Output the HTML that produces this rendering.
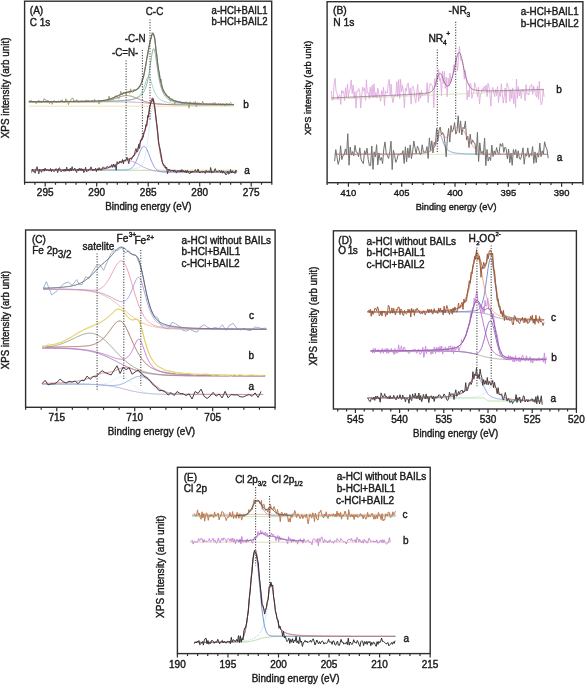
<!DOCTYPE html>
<html><head><meta charset="utf-8"><title>XPS spectra</title>
<style>html,body{margin:0;padding:0;background:#fff;}svg{display:block;}</style>
</head><body>
<svg width="586" height="685" viewBox="0 0 586 685" style="font-family:'Liberation Sans', Arial, sans-serif">
<style>text{fill:#1a1a1a;stroke:#1a1a1a;stroke-width:0.4px;}</style>
<rect x="24.60" y="1.20" width="247.10" height="181.20" fill="none" stroke="#2e2e2e" stroke-width="1.4"/>
<path d="M24.60 182.40V184.80M34.90 182.40V184.80M55.50 182.40V184.80M65.80 182.40V184.80M76.10 182.40V184.80M86.40 182.40V184.80M107.00 182.40V184.80M117.30 182.40V184.80M127.60 182.40V184.80M137.90 182.40V184.80M158.50 182.40V184.80M168.80 182.40V184.80M179.10 182.40V184.80M189.40 182.40V184.80M210.00 182.40V184.80M220.30 182.40V184.80M230.60 182.40V184.80M240.90 182.40V184.80M261.50 182.40V184.80M271.80 182.40V184.80M45.20 182.40V186.40M96.70 182.40V186.40M148.20 182.40V186.40M199.70 182.40V186.40M251.20 182.40V186.40" stroke="#2e2e2e" stroke-width="1.2"/>
<text x="45.2" y="195.6" font-size="10.00" text-anchor="middle">295</text>
<text x="96.7" y="195.6" font-size="10.00" text-anchor="middle">290</text>
<text x="148.2" y="195.6" font-size="10.00" text-anchor="middle">285</text>
<text x="199.7" y="195.6" font-size="10.00" text-anchor="middle">280</text>
<text x="251.2" y="195.6" font-size="10.00" text-anchor="middle">275</text>
<text transform="translate(8.5 87.9) rotate(-90)" x="-50.3" font-size="10.00" textLength="100.6" lengthAdjust="spacingAndGlyphs">XPS intensity (arb unit)</text>
<text x="148.4" y="210.0" font-size="10.10" text-anchor="middle" textLength="86.2" lengthAdjust="spacingAndGlyphs">Binding energy (eV)</text>
<text x="29.8" y="14.0" font-size="10.00">(A)</text>
<text x="29.8" y="25.6" font-size="10.00">C 1s</text>
<text x="267.6" y="13.6" font-size="10.30" text-anchor="end" textLength="56" lengthAdjust="spacingAndGlyphs">a-HCl+BAIL1</text>
<text x="267.6" y="25.0" font-size="10.30" text-anchor="end" textLength="56" lengthAdjust="spacingAndGlyphs">b-HCl+BAIL2</text>
<text x="154.5" y="15.4" font-size="11.80" text-anchor="middle" textLength="17.4" lengthAdjust="spacingAndGlyphs">C-C</text>
<text x="135.2" y="42.0" font-size="11.60" text-anchor="middle" textLength="20.8" lengthAdjust="spacingAndGlyphs">-C-N</text>
<text x="125.1" y="56.0" font-size="11.60" text-anchor="middle" textLength="26.4" lengthAdjust="spacingAndGlyphs">-C=N-</text>
<text x="246.0" y="108.2" font-size="10.00" text-anchor="middle">b</text>
<text x="247.0" y="173.8" font-size="10.00" text-anchor="middle">a</text>
<path d="M28.9 106.2 L29.4 106.2 L29.9 106.2 L30.4 106.2 L30.9 106.2 L31.4 106.2 L31.9 106.2 L32.4 106.2 L32.9 106.2 L33.4 106.2 L33.9 106.2 L34.4 106.2 L34.9 106.2 L35.4 106.2 L35.9 106.2 L36.4 106.2 L36.9 106.2 L37.4 106.2 L37.9 106.2 L38.4 106.2 L38.9 106.2 L39.4 106.2 L39.9 106.2 L40.4 106.2 L40.9 106.2 L41.4 106.2 L41.9 106.2 L42.4 106.2 L42.9 106.2 L43.4 106.2 L43.9 106.2 L44.4 106.2 L44.9 106.2 L45.4 106.2 L45.9 106.2 L46.4 106.2 L46.9 106.2 L47.4 106.2 L47.9 106.2 L48.4 106.2 L48.9 106.2 L49.4 106.2 L49.9 106.2 L50.4 106.2 L50.9 106.2 L51.4 106.2 L51.9 106.2 L52.4 106.2 L52.9 106.2 L53.4 106.2 L53.9 106.2 L54.4 106.2 L54.9 106.2 L55.4 106.2 L55.9 106.2 L56.4 106.2 L56.9 106.2 L57.4 106.2 L57.9 106.2 L58.4 106.2 L58.9 106.2 L59.4 106.2 L59.9 106.2 L60.4 106.2 L60.9 106.2 L61.4 106.2 L61.9 106.2 L62.4 106.2 L62.9 106.2 L63.4 106.2 L63.9 106.2 L64.4 106.2 L64.9 106.2 L65.4 106.2 L65.9 106.2 L66.4 106.2 L66.9 106.2 L67.4 106.2 L67.9 106.2 L68.4 106.2 L68.9 106.2 L69.4 106.2 L69.9 106.2 L70.4 106.2 L70.9 106.2 L71.4 106.2 L71.9 106.2 L72.4 106.2 L72.9 106.2 L73.4 106.2 L73.9 106.2 L74.4 106.2 L74.9 106.2 L75.4 106.2 L75.9 106.2 L76.4 106.2 L76.9 106.2 L77.4 106.2 L77.9 106.2 L78.4 106.2 L78.9 106.2 L79.4 106.2 L79.9 106.2 L80.4 106.2 L80.9 106.2 L81.4 106.2 L81.9 106.2 L82.4 106.2 L82.9 106.2 L83.4 106.2 L83.9 106.2 L84.4 106.2 L84.9 106.2 L85.4 106.2 L85.9 106.2 L86.4 106.2 L86.9 106.2 L87.4 106.2 L87.9 106.2 L88.4 106.2 L88.9 106.2 L89.4 106.2 L89.9 106.2 L90.4 106.2 L90.9 106.2 L91.4 106.2 L91.9 106.2 L92.4 106.2 L92.9 106.2 L93.4 106.2 L93.9 106.2 L94.4 106.2 L94.9 106.2 L95.4 106.2 L95.9 106.2 L96.4 106.2 L96.9 106.2 L97.4 106.2 L97.9 106.2 L98.4 106.2 L98.9 106.2 L99.4 106.2 L99.9 106.2 L100.4 106.2 L100.9 106.2 L101.4 106.2 L101.9 106.2 L102.4 106.2 L102.9 106.2 L103.4 106.2 L103.9 106.2 L104.4 106.2 L104.9 106.2 L105.4 106.2 L105.9 106.2 L106.4 106.2 L106.9 106.2 L107.4 106.2 L107.9 106.2 L108.4 106.2 L108.9 106.2 L109.4 106.2 L109.9 106.2 L110.4 106.2 L110.9 106.2 L111.4 106.2 L111.9 106.2 L112.4 106.2 L112.9 106.2 L113.4 106.2 L113.9 106.2 L114.4 106.2 L114.9 106.2 L115.4 106.2 L115.9 106.2 L116.4 106.2 L116.9 106.2 L117.4 106.2 L117.9 106.2 L118.4 106.2 L118.9 106.2 L119.4 106.2 L119.9 106.2 L120.4 106.2 L120.9 106.2 L121.4 106.2 L121.9 106.2 L122.4 106.2 L122.9 106.2 L123.4 106.2 L123.9 106.2 L124.4 106.2 L124.9 106.2 L125.4 106.2 L125.9 106.2 L126.4 106.2 L126.9 106.2 L127.4 106.2 L127.9 106.2 L128.4 106.2 L128.9 106.2 L129.4 106.2 L129.9 106.2 L130.4 106.2 L130.9 106.2 L131.4 106.2 L131.9 106.2 L132.4 106.2 L132.9 106.2 L133.4 106.2 L133.9 106.2 L134.4 106.2 L134.9 106.2 L135.4 106.2 L135.9 106.2 L136.4 106.2 L136.9 106.2 L137.4 106.2 L137.9 106.2 L138.4 106.2 L138.9 106.2 L139.4 106.2 L139.9 106.2 L140.4 106.2 L140.9 106.2 L141.4 106.2 L141.9 106.2 L142.4 106.2 L142.9 106.2 L143.4 106.2 L143.9 106.2 L144.4 106.2 L144.9 106.2 L145.4 106.2 L145.9 106.2 L146.4 106.2 L146.9 106.2 L147.4 106.2 L147.9 106.2 L148.4 106.2 L148.9 106.2 L149.4 106.2 L149.9 106.2 L150.4 106.2 L150.9 106.2 L151.4 106.2 L151.9 106.2 L152.4 106.2 L152.9 106.2 L153.4 106.2 L153.9 106.2 L154.4 106.2 L154.9 106.2 L155.4 106.2 L155.9 106.2 L156.4 106.2 L156.9 106.2 L157.4 106.2 L157.9 106.2 L158.4 106.2 L158.9 106.2 L159.4 106.2 L159.9 106.2 L160.4 106.2 L160.9 106.2 L161.4 106.2 L161.9 106.2 L162.4 106.2 L162.9 106.2 L163.4 106.2 L163.9 106.2 L164.4 106.2 L164.9 106.2 L165.4 106.2 L165.9 106.2 L166.4 106.2 L166.9 106.2 L167.4 106.2 L167.9 106.2 L168.4 106.2 L168.9 106.2 L169.4 106.2 L169.9 106.2 L170.4 106.2 L170.9 106.2 L171.4 106.2 L171.9 106.2 L172.4 106.2 L172.9 106.2 L173.4 106.2 L173.9 106.2 L174.4 106.2 L174.9 106.2 L175.4 106.2 L175.9 106.2 L176.4 106.2 L176.9 106.2 L177.4 106.2 L177.9 106.2 L178.4 106.2 L178.9 106.2 L179.4 106.2 L179.9 106.2 L180.4 106.2 L180.9 106.2 L181.4 106.2 L181.9 106.2 L182.4 106.2 L182.9 106.2 L183.4 106.2 L183.9 106.2 L184.4 106.2 L184.9 106.2 L185.4 106.2 L185.9 106.2 L186.4 106.2 L186.9 106.2 L187.4 106.2 L187.9 106.2 L188.4 106.2 L188.9 106.2 L189.4 106.2 L189.9 106.2 L190.4 106.2 L190.9 106.2 L191.4 106.2 L191.9 106.2 L192.4 106.2 L192.9 106.2 L193.4 106.2 L193.9 106.2 L194.4 106.2 L194.9 106.2 L195.4 106.2 L195.9 106.2 L196.4 106.2 L196.9 106.2 L197.4 106.2 L197.9 106.2 L198.4 106.2 L198.9 106.2 L199.4 106.2 L199.9 106.2 L200.4 106.2 L200.9 106.2 L201.4 106.2 L201.9 106.2 L202.4 106.2 L202.9 106.2 L203.4 106.2 L203.9 106.2 L204.4 106.2 L204.9 106.2 L205.4 106.2 L205.9 106.2 L206.4 106.2 L206.9 106.2 L207.4 106.2 L207.9 106.2 L208.4 106.2 L208.9 106.2 L209.4 106.2 L209.9 106.2 L210.4 106.2 L210.9 106.2 L211.4 106.2 L211.9 106.2 L212.4 106.2 L212.9 106.2 L213.4 106.2 L213.9 106.2 L214.4 106.2 L214.9 106.2 L215.4 106.2 L215.9 106.2 L216.4 106.2 L216.9 106.2 L217.4 106.2 L217.9 106.2 L218.4 106.2 L218.9 106.2 L219.4 106.2 L219.9 106.2 L220.4 106.2 L220.9 106.2 L221.4 106.2 L221.9 106.2 L222.4 106.2 L222.9 106.2 L223.4 106.2 L223.9 106.2 L224.4 106.2 L224.9 106.2 L225.4 106.2 L225.9 106.2 L226.4 106.2 L226.9 106.2 L227.4 106.2 L227.9 106.2 L228.4 106.2 L228.9 106.2 L229.4 106.2 L229.9 106.2 L230.4 106.2 L230.9 106.2 L231.4 106.2 L231.9 106.2 L232.4 106.2 L232.9 106.2 L233.4 106.2 L233.9 106.2" stroke="#efe0a0" stroke-width="1.00" fill="none" stroke-linejoin="round" />
<path d="M28.9 101.8 L29.4 101.8 L29.9 101.8 L30.4 101.8 L30.9 101.8 L31.4 101.8 L31.9 101.8 L32.4 101.8 L32.9 101.8 L33.4 101.8 L33.9 101.8 L34.4 101.8 L34.9 101.8 L35.4 101.8 L35.9 101.8 L36.4 101.8 L36.9 101.8 L37.4 101.8 L37.9 101.8 L38.4 101.8 L38.9 101.8 L39.4 101.8 L39.9 101.8 L40.4 101.8 L40.9 101.8 L41.4 101.8 L41.9 101.8 L42.4 101.8 L42.9 101.8 L43.4 101.8 L43.9 101.8 L44.4 101.8 L44.9 101.8 L45.4 101.8 L45.9 101.8 L46.4 101.8 L46.9 101.8 L47.4 101.8 L47.9 101.8 L48.4 101.8 L48.9 101.8 L49.4 101.8 L49.9 101.8 L50.4 101.8 L50.9 101.8 L51.4 101.8 L51.9 101.8 L52.4 101.8 L52.9 101.8 L53.4 101.8 L53.9 101.8 L54.4 101.8 L54.9 101.8 L55.4 101.8 L55.9 101.8 L56.4 101.8 L56.9 101.8 L57.4 101.8 L57.9 101.8 L58.4 101.8 L58.9 101.8 L59.4 101.8 L59.9 101.8 L60.4 101.8 L60.9 101.8 L61.4 101.8 L61.9 101.8 L62.4 101.8 L62.9 101.8 L63.4 101.8 L63.9 101.8 L64.4 101.8 L64.9 101.8 L65.4 101.8 L65.9 101.8 L66.4 101.8 L66.9 101.8 L67.4 101.8 L67.9 101.8 L68.4 101.8 L68.9 101.8 L69.4 101.8 L69.9 101.8 L70.4 101.8 L70.9 101.8 L71.4 101.8 L71.9 101.8 L72.4 101.8 L72.9 101.8 L73.4 101.8 L73.9 101.8 L74.4 101.8 L74.9 101.8 L75.4 101.8 L75.9 101.8 L76.4 101.8 L76.9 101.8 L77.4 101.8 L77.9 101.8 L78.4 101.8 L78.9 101.8 L79.4 101.8 L79.9 101.8 L80.4 101.8 L80.9 101.8 L81.4 101.8 L81.9 101.8 L82.4 101.8 L82.9 101.8 L83.4 101.8 L83.9 101.8 L84.4 101.8 L84.9 101.8 L85.4 101.8 L85.9 101.8 L86.4 101.8 L86.9 101.8 L87.4 101.8 L87.9 101.8 L88.4 101.8 L88.9 101.8 L89.4 101.8 L89.9 101.8 L90.4 101.8 L90.9 101.8 L91.4 101.8 L91.9 101.8 L92.4 101.8 L92.9 101.8 L93.4 101.8 L93.9 101.8 L94.4 101.8 L94.9 101.8 L95.4 101.8 L95.9 101.8 L96.4 101.8 L96.9 101.8 L97.4 101.8 L97.9 101.8 L98.4 101.8 L98.9 101.8 L99.4 101.8 L99.9 101.8 L100.4 101.8 L100.9 101.8 L101.4 101.8 L101.9 101.8 L102.4 101.8 L102.9 101.8 L103.4 101.8 L103.9 101.8 L104.4 101.8 L104.9 101.8 L105.4 101.8 L105.9 101.8 L106.4 101.8 L106.9 101.8 L107.4 101.8 L107.9 101.8 L108.4 101.8 L108.9 101.8 L109.4 101.8 L109.9 101.8 L110.4 101.8 L110.9 101.8 L111.4 101.8 L111.9 101.8 L112.4 101.8 L112.9 101.8 L113.4 101.8 L113.9 101.8 L114.4 101.8 L114.9 101.8 L115.4 101.8 L115.9 101.8 L116.4 101.8 L116.9 101.8 L117.4 101.9 L117.9 101.9 L118.4 101.9 L118.9 101.9 L119.4 101.9 L119.9 101.9 L120.4 101.9 L120.9 101.9 L121.4 101.9 L121.9 101.9 L122.4 101.9 L122.9 101.9 L123.4 101.9 L123.9 101.9 L124.4 101.9 L124.9 101.9 L125.4 101.9 L125.9 101.9 L126.4 101.9 L126.9 102.0 L127.4 102.0 L127.9 102.0 L128.4 102.0 L128.9 102.0 L129.4 102.0 L129.9 102.0 L130.4 102.0 L130.9 102.1 L131.4 102.1 L131.9 102.1 L132.4 102.1 L132.9 102.1 L133.4 102.1 L133.9 102.2 L134.4 102.2 L134.9 102.2 L135.4 102.2 L135.9 102.2 L136.4 102.3 L136.9 102.3 L137.4 102.3 L137.9 102.3 L138.4 102.4 L138.9 102.4 L139.4 102.4 L139.9 102.5 L140.4 102.5 L140.9 102.5 L141.4 102.6 L141.9 102.6 L142.4 102.6 L142.9 102.7 L143.4 102.7 L143.9 102.8 L144.4 102.8 L144.9 102.8 L145.4 102.9 L145.9 102.9 L146.4 103.0 L146.9 103.0 L147.4 103.1 L147.9 103.1 L148.4 103.2 L148.9 103.2 L149.4 103.2 L149.9 103.3 L150.4 103.3 L150.9 103.4 L151.4 103.4 L151.9 103.5 L152.4 103.5 L152.9 103.6 L153.4 103.6 L153.9 103.7 L154.4 103.7 L154.9 103.7 L155.4 103.8 L155.9 103.8 L156.4 103.9 L156.9 103.9 L157.4 103.9 L157.9 104.0 L158.4 104.0 L158.9 104.1 L159.4 104.1 L159.9 104.1 L160.4 104.2 L160.9 104.2 L161.4 104.2 L161.9 104.2 L162.4 104.3 L162.9 104.3 L163.4 104.3 L163.9 104.4 L164.4 104.4 L164.9 104.4 L165.4 104.4 L165.9 104.4 L166.4 104.5 L166.9 104.5 L167.4 104.5 L167.9 104.5 L168.4 104.5 L168.9 104.5 L169.4 104.6 L169.9 104.6 L170.4 104.6 L170.9 104.6 L171.4 104.6 L171.9 104.6 L172.4 104.6 L172.9 104.6 L173.4 104.6 L173.9 104.7 L174.4 104.7 L174.9 104.7 L175.4 104.7 L175.9 104.7 L176.4 104.7 L176.9 104.7 L177.4 104.7 L177.9 104.7 L178.4 104.7 L178.9 104.7 L179.4 104.7 L179.9 104.7 L180.4 104.7 L180.9 104.7 L181.4 104.7 L181.9 104.7 L182.4 104.7 L182.9 104.8 L183.4 104.8 L183.9 104.8 L184.4 104.8 L184.9 104.8 L185.4 104.8 L185.9 104.8 L186.4 104.8 L186.9 104.8 L187.4 104.8 L187.9 104.8 L188.4 104.8 L188.9 104.8 L189.4 104.8 L189.9 104.8 L190.4 104.8 L190.9 104.8 L191.4 104.8 L191.9 104.8 L192.4 104.8 L192.9 104.8 L193.4 104.8 L193.9 104.8 L194.4 104.8 L194.9 104.8 L195.4 104.8 L195.9 104.8 L196.4 104.8 L196.9 104.8 L197.4 104.8 L197.9 104.8 L198.4 104.8 L198.9 104.8 L199.4 104.8 L199.9 104.8 L200.4 104.8 L200.9 104.8 L201.4 104.8 L201.9 104.8 L202.4 104.8 L202.9 104.8 L203.4 104.8 L203.9 104.8 L204.4 104.8 L204.9 104.8 L205.4 104.8 L205.9 104.8 L206.4 104.8 L206.9 104.8 L207.4 104.8 L207.9 104.8 L208.4 104.8 L208.9 104.8 L209.4 104.8 L209.9 104.8 L210.4 104.8 L210.9 104.8 L211.4 104.8 L211.9 104.8 L212.4 104.8 L212.9 104.8 L213.4 104.8 L213.9 104.8 L214.4 104.8 L214.9 104.8 L215.4 104.8 L215.9 104.8 L216.4 104.8 L216.9 104.8 L217.4 104.8 L217.9 104.8 L218.4 104.8 L218.9 104.8 L219.4 104.8 L219.9 104.8 L220.4 104.8 L220.9 104.8 L221.4 104.8 L221.9 104.8 L222.4 104.8 L222.9 104.8 L223.4 104.8 L223.9 104.8 L224.4 104.8 L224.9 104.8 L225.4 104.8 L225.9 104.8 L226.4 104.8 L226.9 104.8 L227.4 104.8 L227.9 104.8 L228.4 104.8 L228.9 104.8 L229.4 104.8 L229.9 104.8 L230.4 104.8 L230.9 104.8 L231.4 104.8 L231.9 104.8 L232.4 104.8 L232.9 104.8 L233.4 104.8 L233.9 104.8" stroke="#bfa3d6" stroke-width="1.00" fill="none" stroke-linejoin="round" />
<path d="M28.9 101.8 L29.4 101.8 L29.9 101.8 L30.4 101.8 L30.9 101.8 L31.4 101.8 L31.9 101.8 L32.4 101.8 L32.9 101.8 L33.4 101.8 L33.9 101.8 L34.4 101.8 L34.9 101.8 L35.4 101.8 L35.9 101.8 L36.4 101.8 L36.9 101.8 L37.4 101.8 L37.9 101.8 L38.4 101.8 L38.9 101.8 L39.4 101.8 L39.9 101.8 L40.4 101.8 L40.9 101.8 L41.4 101.8 L41.9 101.8 L42.4 101.8 L42.9 101.8 L43.4 101.8 L43.9 101.8 L44.4 101.8 L44.9 101.8 L45.4 101.8 L45.9 101.8 L46.4 101.8 L46.9 101.8 L47.4 101.8 L47.9 101.8 L48.4 101.8 L48.9 101.8 L49.4 101.8 L49.9 101.8 L50.4 101.8 L50.9 101.8 L51.4 101.8 L51.9 101.8 L52.4 101.8 L52.9 101.8 L53.4 101.8 L53.9 101.8 L54.4 101.8 L54.9 101.8 L55.4 101.8 L55.9 101.8 L56.4 101.8 L56.9 101.8 L57.4 101.8 L57.9 101.8 L58.4 101.8 L58.9 101.8 L59.4 101.8 L59.9 101.8 L60.4 101.8 L60.9 101.8 L61.4 101.8 L61.9 101.8 L62.4 101.8 L62.9 101.8 L63.4 101.8 L63.9 101.8 L64.4 101.8 L64.9 101.8 L65.4 101.8 L65.9 101.8 L66.4 101.8 L66.9 101.8 L67.4 101.8 L67.9 101.8 L68.4 101.8 L68.9 101.8 L69.4 101.8 L69.9 101.8 L70.4 101.8 L70.9 101.8 L71.4 101.8 L71.9 101.8 L72.4 101.8 L72.9 101.8 L73.4 101.8 L73.9 101.8 L74.4 101.8 L74.9 101.8 L75.4 101.8 L75.9 101.8 L76.4 101.8 L76.9 101.8 L77.4 101.8 L77.9 101.8 L78.4 101.8 L78.9 101.8 L79.4 101.8 L79.9 101.8 L80.4 101.8 L80.9 101.8 L81.4 101.8 L81.9 101.8 L82.4 101.8 L82.9 101.8 L83.4 101.8 L83.9 101.8 L84.4 101.8 L84.9 101.8 L85.4 101.8 L85.9 101.8 L86.4 101.8 L86.9 101.8 L87.4 101.8 L87.9 101.8 L88.4 101.8 L88.9 101.8 L89.4 101.8 L89.9 101.8 L90.4 101.8 L90.9 101.8 L91.4 101.8 L91.9 101.8 L92.4 101.8 L92.9 101.8 L93.4 101.8 L93.9 101.8 L94.4 101.8 L94.9 101.8 L95.4 101.7 L95.9 101.7 L96.4 101.7 L96.9 101.7 L97.4 101.7 L97.9 101.7 L98.4 101.7 L98.9 101.6 L99.4 101.6 L99.9 101.6 L100.4 101.6 L100.9 101.5 L101.4 101.5 L101.9 101.5 L102.4 101.4 L102.9 101.4 L103.4 101.3 L103.9 101.3 L104.4 101.2 L104.9 101.2 L105.4 101.1 L105.9 101.0 L106.4 100.9 L106.9 100.8 L107.4 100.7 L107.9 100.6 L108.4 100.5 L108.9 100.4 L109.4 100.3 L109.9 100.2 L110.4 100.1 L110.9 99.9 L111.4 99.8 L111.9 99.6 L112.4 99.5 L112.9 99.3 L113.4 99.1 L113.9 99.0 L114.4 98.8 L114.9 98.6 L115.4 98.4 L115.9 98.3 L116.4 98.1 L116.9 97.9 L117.4 97.7 L117.9 97.5 L118.4 97.3 L118.9 97.2 L119.4 97.0 L119.9 96.8 L120.4 96.7 L120.9 96.5 L121.4 96.4 L121.9 96.3 L122.4 96.1 L122.9 96.0 L123.4 95.9 L123.9 95.8 L124.4 95.8 L124.9 95.7 L125.4 95.7 L125.9 95.6 L126.4 95.6 L126.9 95.6 L127.4 95.6 L127.9 95.7 L128.4 95.7 L128.9 95.8 L129.4 95.8 L129.9 95.9 L130.4 96.0 L130.9 96.2 L131.4 96.3 L131.9 96.4 L132.4 96.6 L132.9 96.7 L133.4 96.9 L133.9 97.1 L134.4 97.3 L134.9 97.5 L135.4 97.7 L135.9 97.9 L136.4 98.1 L136.9 98.3 L137.4 98.5 L137.9 98.7 L138.4 98.9 L138.9 99.1 L139.4 99.3 L139.9 99.6 L140.4 99.8 L140.9 100.0 L141.4 100.2 L141.9 100.4 L142.4 100.5 L142.9 100.7 L143.4 100.9 L143.9 101.1 L144.4 101.3 L144.9 101.4 L145.4 101.6 L145.9 101.7 L146.4 101.9 L146.9 102.0 L147.4 102.2 L147.9 102.3 L148.4 102.4 L148.9 102.5 L149.4 102.6 L149.9 102.7 L150.4 102.8 L150.9 102.9 L151.4 103.0 L151.9 103.1 L152.4 103.2 L152.9 103.3 L153.4 103.4 L153.9 103.4 L154.4 103.5 L154.9 103.6 L155.4 103.6 L155.9 103.7 L156.4 103.8 L156.9 103.8 L157.4 103.9 L157.9 103.9 L158.4 104.0 L158.9 104.0 L159.4 104.0 L159.9 104.1 L160.4 104.1 L160.9 104.2 L161.4 104.2 L161.9 104.2 L162.4 104.3 L162.9 104.3 L163.4 104.3 L163.9 104.3 L164.4 104.4 L164.9 104.4 L165.4 104.4 L165.9 104.4 L166.4 104.5 L166.9 104.5 L167.4 104.5 L167.9 104.5 L168.4 104.5 L168.9 104.5 L169.4 104.6 L169.9 104.6 L170.4 104.6 L170.9 104.6 L171.4 104.6 L171.9 104.6 L172.4 104.6 L172.9 104.6 L173.4 104.6 L173.9 104.7 L174.4 104.7 L174.9 104.7 L175.4 104.7 L175.9 104.7 L176.4 104.7 L176.9 104.7 L177.4 104.7 L177.9 104.7 L178.4 104.7 L178.9 104.7 L179.4 104.7 L179.9 104.7 L180.4 104.7 L180.9 104.7 L181.4 104.7 L181.9 104.7 L182.4 104.7 L182.9 104.8 L183.4 104.8 L183.9 104.8 L184.4 104.8 L184.9 104.8 L185.4 104.8 L185.9 104.8 L186.4 104.8 L186.9 104.8 L187.4 104.8 L187.9 104.8 L188.4 104.8 L188.9 104.8 L189.4 104.8 L189.9 104.8 L190.4 104.8 L190.9 104.8 L191.4 104.8 L191.9 104.8 L192.4 104.8 L192.9 104.8 L193.4 104.8 L193.9 104.8 L194.4 104.8 L194.9 104.8 L195.4 104.8 L195.9 104.8 L196.4 104.8 L196.9 104.8 L197.4 104.8 L197.9 104.8 L198.4 104.8 L198.9 104.8 L199.4 104.8 L199.9 104.8 L200.4 104.8 L200.9 104.8 L201.4 104.8 L201.9 104.8 L202.4 104.8 L202.9 104.8 L203.4 104.8 L203.9 104.8 L204.4 104.8 L204.9 104.8 L205.4 104.8 L205.9 104.8 L206.4 104.8 L206.9 104.8 L207.4 104.8 L207.9 104.8 L208.4 104.8 L208.9 104.8 L209.4 104.8 L209.9 104.8 L210.4 104.8 L210.9 104.8 L211.4 104.8 L211.9 104.8 L212.4 104.8 L212.9 104.8 L213.4 104.8 L213.9 104.8 L214.4 104.8 L214.9 104.8 L215.4 104.8 L215.9 104.8 L216.4 104.8 L216.9 104.8 L217.4 104.8 L217.9 104.8 L218.4 104.8 L218.9 104.8 L219.4 104.8 L219.9 104.8 L220.4 104.8 L220.9 104.8 L221.4 104.8 L221.9 104.8 L222.4 104.8 L222.9 104.8 L223.4 104.8 L223.9 104.8 L224.4 104.8 L224.9 104.8 L225.4 104.8 L225.9 104.8 L226.4 104.8 L226.9 104.8 L227.4 104.8 L227.9 104.8 L228.4 104.8 L228.9 104.8 L229.4 104.8 L229.9 104.8 L230.4 104.8 L230.9 104.8 L231.4 104.8 L231.9 104.8 L232.4 104.8 L232.9 104.8 L233.4 104.8 L233.9 104.8" stroke="#a87466" stroke-width="0.90" fill="none" stroke-linejoin="round" />
<path d="M28.9 101.7 L29.4 101.7 L29.9 101.7 L30.4 101.7 L30.9 101.7 L31.4 101.7 L31.9 101.7 L32.4 101.7 L32.9 101.7 L33.4 101.7 L33.9 101.7 L34.4 101.7 L34.9 101.7 L35.4 101.7 L35.9 101.7 L36.4 101.7 L36.9 101.7 L37.4 101.7 L37.9 101.7 L38.4 101.7 L38.9 101.7 L39.4 101.7 L39.9 101.7 L40.4 101.7 L40.9 101.7 L41.4 101.7 L41.9 101.7 L42.4 101.7 L42.9 101.7 L43.4 101.7 L43.9 101.7 L44.4 101.7 L44.9 101.7 L45.4 101.7 L45.9 101.7 L46.4 101.7 L46.9 101.7 L47.4 101.7 L47.9 101.7 L48.4 101.7 L48.9 101.7 L49.4 101.7 L49.9 101.7 L50.4 101.7 L50.9 101.7 L51.4 101.7 L51.9 101.7 L52.4 101.7 L52.9 101.7 L53.4 101.7 L53.9 101.7 L54.4 101.7 L54.9 101.7 L55.4 101.7 L55.9 101.7 L56.4 101.7 L56.9 101.7 L57.4 101.7 L57.9 101.7 L58.4 101.7 L58.9 101.7 L59.4 101.7 L59.9 101.7 L60.4 101.7 L60.9 101.7 L61.4 101.7 L61.9 101.7 L62.4 101.7 L62.9 101.7 L63.4 101.7 L63.9 101.7 L64.4 101.7 L64.9 101.7 L65.4 101.7 L65.9 101.7 L66.4 101.7 L66.9 101.7 L67.4 101.7 L67.9 101.7 L68.4 101.7 L68.9 101.7 L69.4 101.7 L69.9 101.7 L70.4 101.7 L70.9 101.7 L71.4 101.7 L71.9 101.7 L72.4 101.7 L72.9 101.7 L73.4 101.7 L73.9 101.7 L74.4 101.7 L74.9 101.7 L75.4 101.7 L75.9 101.7 L76.4 101.7 L76.9 101.6 L77.4 101.6 L77.9 101.6 L78.4 101.6 L78.9 101.6 L79.4 101.6 L79.9 101.6 L80.4 101.6 L80.9 101.6 L81.4 101.6 L81.9 101.6 L82.4 101.6 L82.9 101.6 L83.4 101.6 L83.9 101.6 L84.4 101.6 L84.9 101.6 L85.4 101.6 L85.9 101.6 L86.4 101.6 L86.9 101.6 L87.4 101.6 L87.9 101.6 L88.4 101.6 L88.9 101.6 L89.4 101.6 L89.9 101.6 L90.4 101.6 L90.9 101.6 L91.4 101.6 L91.9 101.6 L92.4 101.6 L92.9 101.6 L93.4 101.5 L93.9 101.5 L94.4 101.5 L94.9 101.5 L95.4 101.5 L95.9 101.5 L96.4 101.5 L96.9 101.5 L97.4 101.5 L97.9 101.5 L98.4 101.5 L98.9 101.5 L99.4 101.5 L99.9 101.5 L100.4 101.5 L100.9 101.5 L101.4 101.5 L101.9 101.5 L102.4 101.4 L102.9 101.4 L103.4 101.4 L103.9 101.4 L104.4 101.4 L104.9 101.4 L105.4 101.4 L105.9 101.4 L106.4 101.4 L106.9 101.4 L107.4 101.4 L107.9 101.4 L108.4 101.3 L108.9 101.3 L109.4 101.3 L109.9 101.3 L110.4 101.3 L110.9 101.3 L111.4 101.3 L111.9 101.3 L112.4 101.2 L112.9 101.2 L113.4 101.2 L113.9 101.2 L114.4 101.2 L114.9 101.2 L115.4 101.1 L115.9 101.1 L116.4 101.1 L116.9 101.1 L117.4 101.1 L117.9 101.0 L118.4 101.0 L118.9 101.0 L119.4 101.0 L119.9 101.0 L120.4 100.9 L120.9 100.9 L121.4 100.9 L121.9 100.8 L122.4 100.8 L122.9 100.8 L123.4 100.7 L123.9 100.7 L124.4 100.6 L124.9 100.6 L125.4 100.6 L125.9 100.5 L126.4 100.4 L126.9 100.4 L127.4 100.3 L127.9 100.3 L128.4 100.2 L128.9 100.1 L129.4 100.0 L129.9 100.0 L130.4 99.9 L130.9 99.8 L131.4 99.7 L131.9 99.5 L132.4 99.4 L132.9 99.3 L133.4 99.1 L133.9 99.0 L134.4 98.8 L134.9 98.6 L135.4 98.4 L135.9 98.1 L136.4 97.9 L136.9 97.6 L137.4 97.2 L137.9 96.9 L138.4 96.5 L138.9 96.0 L139.4 95.5 L139.9 95.0 L140.4 94.4 L140.9 93.7 L141.4 92.9 L141.9 92.0 L142.4 91.0 L142.9 90.0 L143.4 88.8 L143.9 87.5 L144.4 86.1 L144.9 84.6 L145.4 83.0 L145.9 81.5 L146.4 80.0 L146.9 78.7 L147.4 77.6 L147.9 76.9 L148.4 76.6 L148.9 76.7 L149.4 77.3 L149.9 78.2 L150.4 79.5 L150.9 81.0 L151.4 82.6 L151.9 84.2 L152.4 85.8 L152.9 87.4 L153.4 88.8 L153.9 90.2 L154.4 91.4 L154.9 92.5 L155.4 93.5 L155.9 94.5 L156.4 95.3 L156.9 96.0 L157.4 96.7 L157.9 97.3 L158.4 97.8 L158.9 98.3 L159.4 98.8 L159.9 99.2 L160.4 99.6 L160.9 99.9 L161.4 100.2 L161.9 100.5 L162.4 100.7 L162.9 101.0 L163.4 101.2 L163.9 101.4 L164.4 101.6 L164.9 101.8 L165.4 101.9 L165.9 102.1 L166.4 102.2 L166.9 102.3 L167.4 102.5 L167.9 102.6 L168.4 102.7 L168.9 102.8 L169.4 102.9 L169.9 103.0 L170.4 103.0 L170.9 103.1 L171.4 103.2 L171.9 103.3 L172.4 103.3 L172.9 103.4 L173.4 103.4 L173.9 103.5 L174.4 103.5 L174.9 103.6 L175.4 103.6 L175.9 103.7 L176.4 103.7 L176.9 103.8 L177.4 103.8 L177.9 103.8 L178.4 103.9 L178.9 103.9 L179.4 103.9 L179.9 104.0 L180.4 104.0 L180.9 104.0 L181.4 104.0 L181.9 104.1 L182.4 104.1 L182.9 104.1 L183.4 104.1 L183.9 104.1 L184.4 104.2 L184.9 104.2 L185.4 104.2 L185.9 104.2 L186.4 104.2 L186.9 104.3 L187.4 104.3 L187.9 104.3 L188.4 104.3 L188.9 104.3 L189.4 104.3 L189.9 104.3 L190.4 104.3 L190.9 104.4 L191.4 104.4 L191.9 104.4 L192.4 104.4 L192.9 104.4 L193.4 104.4 L193.9 104.4 L194.4 104.4 L194.9 104.4 L195.4 104.4 L195.9 104.4 L196.4 104.5 L196.9 104.5 L197.4 104.5 L197.9 104.5 L198.4 104.5 L198.9 104.5 L199.4 104.5 L199.9 104.5 L200.4 104.5 L200.9 104.5 L201.4 104.5 L201.9 104.5 L202.4 104.5 L202.9 104.5 L203.4 104.5 L203.9 104.5 L204.4 104.5 L204.9 104.6 L205.4 104.6 L205.9 104.6 L206.4 104.6 L206.9 104.6 L207.4 104.6 L207.9 104.6 L208.4 104.6 L208.9 104.6 L209.4 104.6 L209.9 104.6 L210.4 104.6 L210.9 104.6 L211.4 104.6 L211.9 104.6 L212.4 104.6 L212.9 104.6 L213.4 104.6 L213.9 104.6 L214.4 104.6 L214.9 104.6 L215.4 104.6 L215.9 104.6 L216.4 104.6 L216.9 104.6 L217.4 104.6 L217.9 104.6 L218.4 104.6 L218.9 104.6 L219.4 104.6 L219.9 104.6 L220.4 104.6 L220.9 104.7 L221.4 104.7 L221.9 104.7 L222.4 104.7 L222.9 104.7 L223.4 104.7 L223.9 104.7 L224.4 104.7 L224.9 104.7 L225.4 104.7 L225.9 104.7 L226.4 104.7 L226.9 104.7 L227.4 104.7 L227.9 104.7 L228.4 104.7 L228.9 104.7 L229.4 104.7 L229.9 104.7 L230.4 104.7 L230.9 104.7 L231.4 104.7 L231.9 104.7 L232.4 104.7 L232.9 104.7 L233.4 104.7 L233.9 104.7" stroke="#92d2c2" stroke-width="0.90" fill="none" stroke-linejoin="round" />
<path d="M28.9 101.7 L29.4 101.7 L29.9 101.7 L30.4 101.7 L30.9 101.7 L31.4 101.7 L31.9 101.7 L32.4 101.7 L32.9 101.7 L33.4 101.7 L33.9 101.7 L34.4 101.7 L34.9 101.7 L35.4 101.7 L35.9 101.7 L36.4 101.7 L36.9 101.7 L37.4 101.7 L37.9 101.7 L38.4 101.7 L38.9 101.7 L39.4 101.7 L39.9 101.7 L40.4 101.7 L40.9 101.7 L41.4 101.7 L41.9 101.7 L42.4 101.7 L42.9 101.7 L43.4 101.7 L43.9 101.7 L44.4 101.7 L44.9 101.7 L45.4 101.7 L45.9 101.7 L46.4 101.7 L46.9 101.7 L47.4 101.7 L47.9 101.7 L48.4 101.7 L48.9 101.7 L49.4 101.7 L49.9 101.7 L50.4 101.7 L50.9 101.7 L51.4 101.7 L51.9 101.7 L52.4 101.7 L52.9 101.7 L53.4 101.7 L53.9 101.7 L54.4 101.7 L54.9 101.7 L55.4 101.7 L55.9 101.7 L56.4 101.7 L56.9 101.7 L57.4 101.7 L57.9 101.7 L58.4 101.7 L58.9 101.7 L59.4 101.7 L59.9 101.7 L60.4 101.7 L60.9 101.6 L61.4 101.6 L61.9 101.6 L62.4 101.6 L62.9 101.6 L63.4 101.6 L63.9 101.6 L64.4 101.6 L64.9 101.6 L65.4 101.6 L65.9 101.6 L66.4 101.6 L66.9 101.6 L67.4 101.6 L67.9 101.6 L68.4 101.6 L68.9 101.6 L69.4 101.6 L69.9 101.6 L70.4 101.6 L70.9 101.6 L71.4 101.6 L71.9 101.6 L72.4 101.6 L72.9 101.6 L73.4 101.6 L73.9 101.6 L74.4 101.6 L74.9 101.6 L75.4 101.6 L75.9 101.6 L76.4 101.6 L76.9 101.6 L77.4 101.6 L77.9 101.6 L78.4 101.6 L78.9 101.6 L79.4 101.6 L79.9 101.6 L80.4 101.6 L80.9 101.6 L81.4 101.6 L81.9 101.5 L82.4 101.5 L82.9 101.5 L83.4 101.5 L83.9 101.5 L84.4 101.5 L84.9 101.5 L85.4 101.5 L85.9 101.5 L86.4 101.5 L86.9 101.5 L87.4 101.5 L87.9 101.5 L88.4 101.5 L88.9 101.5 L89.4 101.5 L89.9 101.5 L90.4 101.5 L90.9 101.5 L91.4 101.5 L91.9 101.5 L92.4 101.5 L92.9 101.5 L93.4 101.4 L93.9 101.4 L94.4 101.4 L94.9 101.4 L95.4 101.4 L95.9 101.4 L96.4 101.4 L96.9 101.4 L97.4 101.4 L97.9 101.4 L98.4 101.4 L98.9 101.4 L99.4 101.4 L99.9 101.4 L100.4 101.3 L100.9 101.3 L101.4 101.3 L101.9 101.3 L102.4 101.3 L102.9 101.3 L103.4 101.3 L103.9 101.3 L104.4 101.3 L104.9 101.3 L105.4 101.3 L105.9 101.2 L106.4 101.2 L106.9 101.2 L107.4 101.2 L107.9 101.2 L108.4 101.2 L108.9 101.2 L109.4 101.2 L109.9 101.1 L110.4 101.1 L110.9 101.1 L111.4 101.1 L111.9 101.1 L112.4 101.1 L112.9 101.1 L113.4 101.0 L113.9 101.0 L114.4 101.0 L114.9 101.0 L115.4 101.0 L115.9 100.9 L116.4 100.9 L116.9 100.9 L117.4 100.9 L117.9 100.9 L118.4 100.8 L118.9 100.8 L119.4 100.8 L119.9 100.7 L120.4 100.7 L120.9 100.7 L121.4 100.7 L121.9 100.6 L122.4 100.6 L122.9 100.6 L123.4 100.5 L123.9 100.5 L124.4 100.4 L124.9 100.4 L125.4 100.3 L125.9 100.3 L126.4 100.2 L126.9 100.2 L127.4 100.1 L127.9 100.1 L128.4 100.0 L128.9 100.0 L129.4 99.9 L129.9 99.8 L130.4 99.7 L130.9 99.6 L131.4 99.6 L131.9 99.5 L132.4 99.4 L132.9 99.3 L133.4 99.1 L133.9 99.0 L134.4 98.9 L134.9 98.7 L135.4 98.6 L135.9 98.4 L136.4 98.2 L136.9 98.0 L137.4 97.8 L137.9 97.6 L138.4 97.3 L138.9 97.0 L139.4 96.7 L139.9 96.4 L140.4 96.0 L140.9 95.5 L141.4 95.1 L141.9 94.5 L142.4 94.0 L142.9 93.3 L143.4 92.5 L143.9 91.7 L144.4 90.7 L144.9 89.7 L145.4 88.4 L145.9 87.1 L146.4 85.5 L146.9 83.7 L147.4 81.8 L147.9 79.5 L148.4 77.0 L148.9 74.3 L149.4 71.3 L149.9 68.0 L150.4 64.6 L150.9 61.1 L151.4 57.7 L151.9 54.5 L152.4 51.8 L152.9 49.8 L153.4 48.8 L153.9 48.8 L154.4 49.9 L154.9 51.9 L155.4 54.6 L155.9 57.9 L156.4 61.4 L156.9 65.0 L157.4 68.5 L157.9 71.9 L158.4 75.0 L158.9 77.8 L159.4 80.4 L159.9 82.7 L160.4 84.8 L160.9 86.6 L161.4 88.3 L161.9 89.7 L162.4 91.0 L162.9 92.2 L163.4 93.2 L163.9 94.1 L164.4 94.9 L164.9 95.7 L165.4 96.3 L165.9 96.9 L166.4 97.5 L166.9 97.9 L167.4 98.4 L167.9 98.8 L168.4 99.1 L168.9 99.5 L169.4 99.8 L169.9 100.0 L170.4 100.3 L170.9 100.5 L171.4 100.8 L171.9 101.0 L172.4 101.2 L172.9 101.3 L173.4 101.5 L173.9 101.7 L174.4 101.8 L174.9 101.9 L175.4 102.1 L175.9 102.2 L176.4 102.3 L176.9 102.4 L177.4 102.5 L177.9 102.6 L178.4 102.7 L178.9 102.7 L179.4 102.8 L179.9 102.9 L180.4 103.0 L180.9 103.0 L181.4 103.1 L181.9 103.2 L182.4 103.2 L182.9 103.3 L183.4 103.3 L183.9 103.4 L184.4 103.4 L184.9 103.5 L185.4 103.5 L185.9 103.5 L186.4 103.6 L186.9 103.6 L187.4 103.6 L187.9 103.7 L188.4 103.7 L188.9 103.7 L189.4 103.8 L189.9 103.8 L190.4 103.8 L190.9 103.9 L191.4 103.9 L191.9 103.9 L192.4 103.9 L192.9 104.0 L193.4 104.0 L193.9 104.0 L194.4 104.0 L194.9 104.0 L195.4 104.1 L195.9 104.1 L196.4 104.1 L196.9 104.1 L197.4 104.1 L197.9 104.1 L198.4 104.1 L198.9 104.2 L199.4 104.2 L199.9 104.2 L200.4 104.2 L200.9 104.2 L201.4 104.2 L201.9 104.2 L202.4 104.3 L202.9 104.3 L203.4 104.3 L203.9 104.3 L204.4 104.3 L204.9 104.3 L205.4 104.3 L205.9 104.3 L206.4 104.3 L206.9 104.3 L207.4 104.3 L207.9 104.4 L208.4 104.4 L208.9 104.4 L209.4 104.4 L209.9 104.4 L210.4 104.4 L210.9 104.4 L211.4 104.4 L211.9 104.4 L212.4 104.4 L212.9 104.4 L213.4 104.4 L213.9 104.4 L214.4 104.4 L214.9 104.5 L215.4 104.5 L215.9 104.5 L216.4 104.5 L216.9 104.5 L217.4 104.5 L217.9 104.5 L218.4 104.5 L218.9 104.5 L219.4 104.5 L219.9 104.5 L220.4 104.5 L220.9 104.5 L221.4 104.5 L221.9 104.5 L222.4 104.5 L222.9 104.5 L223.4 104.5 L223.9 104.5 L224.4 104.5 L224.9 104.5 L225.4 104.5 L225.9 104.6 L226.4 104.6 L226.9 104.6 L227.4 104.6 L227.9 104.6 L228.4 104.6 L228.9 104.6 L229.4 104.6 L229.9 104.6 L230.4 104.6 L230.9 104.6 L231.4 104.6 L231.9 104.6 L232.4 104.6 L232.9 104.6 L233.4 104.6 L233.9 104.6" stroke="#86a89a" stroke-width="0.90" fill="none" stroke-linejoin="round" />
<path d="M28.9 102.2 L29.8 100.4 L30.7 101.1 L31.6 100.5 L32.5 102.4 L33.4 101.3 L34.3 102.1 L35.2 101.2 L36.1 103.7 L37.0 102.1 L37.9 101.9 L38.8 100.2 L39.7 102.4 L40.6 100.9 L41.5 102.8 L42.4 101.5 L43.3 101.4 L44.2 98.6 L45.1 100.0 L46.0 99.8 L46.9 102.2 L47.8 100.1 L48.7 102.2 L49.6 103.8 L50.5 101.9 L51.4 101.3 L52.3 104.3 L53.2 101.3 L54.1 100.8 L55.0 100.9 L55.9 102.0 L56.8 102.4 L57.7 101.6 L58.6 101.1 L59.5 101.8 L60.4 100.7 L61.3 100.9 L62.2 99.8 L63.1 102.6 L64.0 101.6 L64.9 102.9 L65.8 98.8 L66.7 101.6 L67.6 100.6 L68.5 104.7 L69.4 100.9 L70.3 101.8 L71.2 99.0 L72.1 98.4 L73.0 98.2 L73.9 102.2 L74.8 100.6 L75.7 101.4 L76.6 99.6 L77.5 100.8 L78.4 102.3 L79.3 101.9 L80.2 101.1 L81.1 101.9 L82.0 100.5 L82.9 101.8 L83.8 101.5 L84.7 102.0 L85.6 99.9 L86.5 101.5 L87.4 100.4 L88.3 100.3 L89.2 101.1 L90.1 102.0 L91.0 101.1 L91.9 100.9 L92.8 100.4 L93.7 101.8 L94.6 99.3 L95.5 101.4 L96.4 101.6 L97.3 101.2 L98.2 100.5 L99.1 104.1 L100.0 100.7 L100.9 101.0 L101.8 102.1 L102.7 100.5 L103.6 100.7 L104.5 101.3 L105.4 100.4 L106.3 101.4 L107.2 100.4 L108.1 100.4 L109.0 96.2 L109.9 99.1 L110.8 100.2 L111.7 98.4 L112.6 99.8 L113.5 99.2 L114.4 97.2 L115.3 96.2 L116.2 95.5 L117.1 96.5 L118.0 98.7 L118.9 98.7 L119.8 96.3 L120.7 91.3 L121.6 93.5 L122.5 94.8 L123.4 92.1 L124.3 93.1 L125.2 93.3 L126.1 94.0 L127.0 93.0 L127.9 92.1 L128.8 92.4 L129.7 93.6 L130.6 88.8 L131.5 91.7 L132.4 92.5 L133.3 91.6 L134.2 89.1 L135.1 90.9 L136.0 89.6 L136.9 90.0 L137.8 88.5 L138.7 88.6 L139.6 85.7 L140.5 86.1 L141.4 83.0 L142.3 78.3 L143.2 78.8 L144.1 74.5 L145.0 68.1 L145.9 65.0 L146.8 57.6 L147.7 55.6 L148.6 47.6 L149.5 45.2 L150.4 38.9 L151.3 38.9 L152.2 32.5 L153.1 33.5 L154.0 35.4 L154.9 38.0 L155.8 50.3 L156.7 53.1 L157.6 63.5 L158.5 70.6 L159.4 71.8 L160.3 82.1 L161.2 79.0 L162.1 88.3 L163.0 90.8 L163.9 92.6 L164.8 92.2 L165.7 95.5 L166.6 94.7 L167.5 95.8 L168.4 97.1 L169.3 96.3 L170.2 101.1 L171.1 101.1 L172.0 98.7 L172.9 100.3 L173.8 100.3 L174.7 104.5 L175.6 100.5 L176.5 102.1 L177.4 100.9 L178.3 102.6 L179.2 101.9 L180.1 101.9 L181.0 102.1 L181.9 104.2 L182.8 102.4 L183.7 103.0 L184.6 101.9 L185.5 103.7 L186.4 101.6 L187.3 102.6 L188.2 102.7 L189.1 108.2 L190.0 101.7 L190.9 104.0 L191.8 102.5 L192.7 103.2 L193.6 102.4 L194.5 102.6 L195.4 101.4 L196.3 106.9 L197.2 102.6 L198.1 104.2 L199.0 102.7 L199.9 105.0 L200.8 103.1 L201.7 104.7 L202.6 101.2 L203.5 103.9 L204.4 103.9 L205.3 104.1 L206.2 103.9 L207.1 103.5 L208.0 104.5 L208.9 104.5 L209.8 103.2 L210.7 104.8 L211.6 103.9 L212.5 104.7 L213.4 102.8 L214.3 104.8 L215.2 102.5 L216.1 104.5 L217.0 104.1 L217.9 103.6 L218.8 103.7 L219.7 104.4 L220.6 103.2 L221.5 105.5 L222.4 103.8 L223.3 103.7 L224.2 105.5 L225.1 105.8 L226.0 103.5 L226.9 104.1 L227.8 104.0 L228.7 104.4 L229.6 103.6 L230.5 102.3 L231.4 103.6 L232.3 104.8 L233.2 104.5 L234.1 104.0" stroke="#a8a26e" stroke-width="1.00" fill="none" stroke-linejoin="round" />
<path d="M28.9 101.7 L29.4 101.7 L29.9 101.7 L30.4 101.7 L30.9 101.7 L31.4 101.7 L31.9 101.7 L32.4 101.7 L32.9 101.7 L33.4 101.7 L33.9 101.6 L34.4 101.6 L34.9 101.6 L35.4 101.6 L35.9 101.6 L36.4 101.6 L36.9 101.6 L37.4 101.6 L37.9 101.6 L38.4 101.6 L38.9 101.6 L39.4 101.6 L39.9 101.6 L40.4 101.6 L40.9 101.6 L41.4 101.6 L41.9 101.6 L42.4 101.6 L42.9 101.6 L43.4 101.6 L43.9 101.6 L44.4 101.6 L44.9 101.6 L45.4 101.6 L45.9 101.6 L46.4 101.6 L46.9 101.6 L47.4 101.6 L47.9 101.6 L48.4 101.6 L48.9 101.6 L49.4 101.6 L49.9 101.6 L50.4 101.6 L50.9 101.6 L51.4 101.6 L51.9 101.6 L52.4 101.6 L52.9 101.6 L53.4 101.6 L53.9 101.6 L54.4 101.6 L54.9 101.6 L55.4 101.6 L55.9 101.6 L56.4 101.6 L56.9 101.6 L57.4 101.6 L57.9 101.6 L58.4 101.6 L58.9 101.6 L59.4 101.6 L59.9 101.6 L60.4 101.6 L60.9 101.5 L61.4 101.5 L61.9 101.5 L62.4 101.5 L62.9 101.5 L63.4 101.5 L63.9 101.5 L64.4 101.5 L64.9 101.5 L65.4 101.5 L65.9 101.5 L66.4 101.5 L66.9 101.5 L67.4 101.5 L67.9 101.5 L68.4 101.5 L68.9 101.5 L69.4 101.5 L69.9 101.5 L70.4 101.5 L70.9 101.5 L71.4 101.5 L71.9 101.5 L72.4 101.5 L72.9 101.5 L73.4 101.5 L73.9 101.5 L74.4 101.5 L74.9 101.4 L75.4 101.4 L75.9 101.4 L76.4 101.4 L76.9 101.4 L77.4 101.4 L77.9 101.4 L78.4 101.4 L78.9 101.4 L79.4 101.4 L79.9 101.4 L80.4 101.4 L80.9 101.4 L81.4 101.4 L81.9 101.4 L82.4 101.4 L82.9 101.4 L83.4 101.4 L83.9 101.3 L84.4 101.3 L84.9 101.3 L85.4 101.3 L85.9 101.3 L86.4 101.3 L86.9 101.3 L87.4 101.3 L87.9 101.3 L88.4 101.3 L88.9 101.3 L89.4 101.3 L89.9 101.2 L90.4 101.2 L90.9 101.2 L91.4 101.2 L91.9 101.2 L92.4 101.2 L92.9 101.2 L93.4 101.2 L93.9 101.1 L94.4 101.1 L94.9 101.1 L95.4 101.1 L95.9 101.1 L96.4 101.0 L96.9 101.0 L97.4 101.0 L97.9 101.0 L98.4 100.9 L98.9 100.9 L99.4 100.9 L99.9 100.8 L100.4 100.8 L100.9 100.7 L101.4 100.7 L101.9 100.6 L102.4 100.6 L102.9 100.5 L103.4 100.4 L103.9 100.4 L104.4 100.3 L104.9 100.2 L105.4 100.1 L105.9 100.0 L106.4 99.9 L106.9 99.8 L107.4 99.7 L107.9 99.6 L108.4 99.4 L108.9 99.3 L109.4 99.2 L109.9 99.0 L110.4 98.8 L110.9 98.7 L111.4 98.5 L111.9 98.3 L112.4 98.1 L112.9 97.9 L113.4 97.7 L113.9 97.5 L114.4 97.3 L114.9 97.1 L115.4 96.9 L115.9 96.6 L116.4 96.4 L116.9 96.2 L117.4 96.0 L117.9 95.7 L118.4 95.5 L118.9 95.3 L119.4 95.0 L119.9 94.8 L120.4 94.6 L120.9 94.4 L121.4 94.1 L121.9 93.9 L122.4 93.7 L122.9 93.5 L123.4 93.4 L123.9 93.2 L124.4 93.0 L124.9 92.8 L125.4 92.7 L125.9 92.6 L126.4 92.4 L126.9 92.3 L127.4 92.2 L127.9 92.1 L128.4 91.9 L128.9 91.8 L129.4 91.7 L129.9 91.6 L130.4 91.6 L130.9 91.5 L131.4 91.4 L131.9 91.3 L132.4 91.1 L132.9 91.0 L133.4 90.9 L133.9 90.7 L134.4 90.6 L134.9 90.4 L135.4 90.2 L135.9 89.9 L136.4 89.6 L136.9 89.3 L137.4 88.9 L137.9 88.5 L138.4 88.0 L138.9 87.4 L139.4 86.7 L139.9 86.0 L140.4 85.1 L140.9 84.1 L141.4 83.0 L141.9 81.7 L142.4 80.3 L142.9 78.6 L143.4 76.8 L143.9 74.7 L144.4 72.5 L144.9 70.0 L145.4 67.3 L145.9 64.4 L146.4 61.5 L146.9 58.4 L147.4 55.4 L147.9 52.5 L148.4 49.7 L148.9 47.1 L149.4 44.7 L149.9 42.4 L150.4 40.3 L150.9 38.2 L151.4 36.4 L151.9 34.8 L152.4 33.8 L152.9 33.3 L153.4 33.7 L153.9 35.1 L154.4 37.4 L154.9 40.5 L155.4 44.2 L155.9 48.4 L156.4 52.7 L156.9 57.0 L157.4 61.2 L157.9 65.1 L158.4 68.7 L158.9 72.0 L159.4 75.0 L159.9 77.7 L160.4 80.1 L160.9 82.3 L161.4 84.2 L161.9 86.0 L162.4 87.5 L162.9 88.9 L163.4 90.1 L163.9 91.2 L164.4 92.2 L164.9 93.0 L165.4 93.8 L165.9 94.6 L166.4 95.2 L166.9 95.8 L167.4 96.3 L167.9 96.8 L168.4 97.3 L168.9 97.7 L169.4 98.1 L169.9 98.4 L170.4 98.8 L170.9 99.1 L171.4 99.3 L171.9 99.6 L172.4 99.8 L172.9 100.1 L173.4 100.3 L173.9 100.5 L174.4 100.7 L174.9 100.8 L175.4 101.0 L175.9 101.2 L176.4 101.3 L176.9 101.5 L177.4 101.6 L177.9 101.7 L178.4 101.8 L178.9 101.9 L179.4 102.0 L179.9 102.1 L180.4 102.2 L180.9 102.3 L181.4 102.4 L181.9 102.5 L182.4 102.5 L182.9 102.6 L183.4 102.7 L183.9 102.8 L184.4 102.8 L184.9 102.9 L185.4 102.9 L185.9 103.0 L186.4 103.0 L186.9 103.1 L187.4 103.1 L187.9 103.2 L188.4 103.2 L188.9 103.3 L189.4 103.3 L189.9 103.4 L190.4 103.4 L190.9 103.4 L191.4 103.5 L191.9 103.5 L192.4 103.5 L192.9 103.6 L193.4 103.6 L193.9 103.6 L194.4 103.6 L194.9 103.7 L195.4 103.7 L195.9 103.7 L196.4 103.7 L196.9 103.8 L197.4 103.8 L197.9 103.8 L198.4 103.8 L198.9 103.9 L199.4 103.9 L199.9 103.9 L200.4 103.9 L200.9 103.9 L201.4 104.0 L201.9 104.0 L202.4 104.0 L202.9 104.0 L203.4 104.0 L203.9 104.0 L204.4 104.0 L204.9 104.1 L205.4 104.1 L205.9 104.1 L206.4 104.1 L206.9 104.1 L207.4 104.1 L207.9 104.1 L208.4 104.1 L208.9 104.2 L209.4 104.2 L209.9 104.2 L210.4 104.2 L210.9 104.2 L211.4 104.2 L211.9 104.2 L212.4 104.2 L212.9 104.2 L213.4 104.3 L213.9 104.3 L214.4 104.3 L214.9 104.3 L215.4 104.3 L215.9 104.3 L216.4 104.3 L216.9 104.3 L217.4 104.3 L217.9 104.3 L218.4 104.3 L218.9 104.3 L219.4 104.3 L219.9 104.4 L220.4 104.4 L220.9 104.4 L221.4 104.4 L221.9 104.4 L222.4 104.4 L222.9 104.4 L223.4 104.4 L223.9 104.4 L224.4 104.4 L224.9 104.4 L225.4 104.4 L225.9 104.4 L226.4 104.4 L226.9 104.4 L227.4 104.4 L227.9 104.4 L228.4 104.4 L228.9 104.4 L229.4 104.5 L229.9 104.5 L230.4 104.5 L230.9 104.5 L231.4 104.5 L231.9 104.5 L232.4 104.5 L232.9 104.5 L233.4 104.5 L233.9 104.5" stroke="#6c7268" stroke-width="1.20" fill="none" stroke-linejoin="round" />
<path d="M31.6 170.3 L32.1 170.3 L32.6 170.3 L33.1 170.3 L33.6 170.3 L34.1 170.3 L34.6 170.3 L35.1 170.3 L35.6 170.3 L36.1 170.3 L36.6 170.3 L37.1 170.3 L37.6 170.3 L38.1 170.3 L38.6 170.3 L39.1 170.3 L39.6 170.3 L40.1 170.3 L40.6 170.3 L41.1 170.3 L41.6 170.3 L42.1 170.3 L42.6 170.3 L43.1 170.3 L43.6 170.3 L44.1 170.3 L44.6 170.3 L45.1 170.3 L45.6 170.3 L46.1 170.3 L46.6 170.3 L47.1 170.3 L47.6 170.3 L48.1 170.3 L48.6 170.3 L49.1 170.3 L49.6 170.3 L50.1 170.3 L50.6 170.3 L51.1 170.3 L51.6 170.3 L52.1 170.3 L52.6 170.3 L53.1 170.3 L53.6 170.3 L54.1 170.3 L54.6 170.3 L55.1 170.3 L55.6 170.3 L56.1 170.3 L56.6 170.3 L57.1 170.3 L57.6 170.3 L58.1 170.3 L58.6 170.3 L59.1 170.3 L59.6 170.3 L60.1 170.3 L60.6 170.3 L61.1 170.3 L61.6 170.3 L62.1 170.3 L62.6 170.3 L63.1 170.3 L63.6 170.3 L64.1 170.3 L64.6 170.3 L65.1 170.3 L65.6 170.3 L66.1 170.3 L66.6 170.3 L67.1 170.3 L67.6 170.3 L68.1 170.3 L68.6 170.3 L69.1 170.3 L69.6 170.3 L70.1 170.3 L70.6 170.3 L71.1 170.3 L71.6 170.3 L72.1 170.3 L72.6 170.3 L73.1 170.3 L73.6 170.3 L74.1 170.3 L74.6 170.3 L75.1 170.3 L75.6 170.3 L76.1 170.3 L76.6 170.3 L77.1 170.3 L77.6 170.3 L78.1 170.3 L78.6 170.3 L79.1 170.3 L79.6 170.3 L80.1 170.3 L80.6 170.3 L81.1 170.3 L81.6 170.3 L82.1 170.3 L82.6 170.3 L83.1 170.3 L83.6 170.3 L84.1 170.3 L84.6 170.3 L85.1 170.3 L85.6 170.3 L86.1 170.3 L86.6 170.3 L87.1 170.3 L87.6 170.3 L88.1 170.3 L88.6 170.3 L89.1 170.3 L89.6 170.3 L90.1 170.3 L90.6 170.3 L91.1 170.3 L91.6 170.3 L92.1 170.3 L92.6 170.3 L93.1 170.3 L93.6 170.3 L94.1 170.3 L94.6 170.3 L95.1 170.3 L95.6 170.3 L96.1 170.3 L96.6 170.3 L97.1 170.3 L97.6 170.3 L98.1 170.3 L98.6 170.3 L99.1 170.3 L99.6 170.3 L100.1 170.3 L100.6 170.3 L101.1 170.3 L101.6 170.3 L102.1 170.3 L102.6 170.3 L103.1 170.3 L103.6 170.3 L104.1 170.3 L104.6 170.3 L105.1 170.3 L105.6 170.3 L106.1 170.3 L106.6 170.3 L107.1 170.3 L107.6 170.3 L108.1 170.3 L108.6 170.3 L109.1 170.3 L109.6 170.3 L110.1 170.3 L110.6 170.3 L111.1 170.3 L111.6 170.3 L112.1 170.3 L112.6 170.3 L113.1 170.3 L113.6 170.3 L114.1 170.3 L114.6 170.3 L115.1 170.3 L115.6 170.3 L116.1 170.3 L116.6 170.3 L117.1 170.3 L117.6 170.3 L118.1 170.3 L118.6 170.3 L119.1 170.3 L119.6 170.3 L120.1 170.3 L120.6 170.3 L121.1 170.3 L121.6 170.3 L122.1 170.3 L122.6 170.3 L123.1 170.3 L123.6 170.3 L124.1 170.3 L124.6 170.3 L125.1 170.3 L125.6 170.3 L126.1 170.3 L126.6 170.3 L127.1 170.3 L127.6 170.3 L128.1 170.3 L128.6 170.3 L129.1 170.3 L129.6 170.3 L130.1 170.3 L130.6 170.3 L131.1 170.3 L131.6 170.3 L132.1 170.3 L132.6 170.3 L133.1 170.3 L133.6 170.3 L134.1 170.3 L134.6 170.3 L135.1 170.3 L135.6 170.3 L136.1 170.3 L136.6 170.3 L137.1 170.3 L137.6 170.3 L138.1 170.3 L138.6 170.3 L139.1 170.3 L139.6 170.3 L140.1 170.3 L140.6 170.3 L141.1 170.3 L141.6 170.3 L142.1 170.3 L142.6 170.3 L143.1 170.3 L143.6 170.3 L144.1 170.3 L144.6 170.3 L145.1 170.3 L145.6 170.3 L146.1 170.3 L146.6 170.3 L147.1 170.3 L147.6 170.3 L148.1 170.3 L148.6 170.3 L149.1 170.3 L149.6 170.3 L150.1 170.3 L150.6 170.3 L151.1 170.3 L151.6 170.3 L152.1 170.3 L152.6 170.3 L153.1 170.3 L153.6 170.3 L154.1 170.3 L154.6 170.3 L155.1 170.3 L155.6 170.3 L156.1 170.3 L156.6 170.3 L157.1 170.3 L157.6 170.3 L158.1 170.3 L158.6 170.3 L159.1 170.3 L159.6 170.3 L160.1 170.3 L160.6 170.3 L161.1 170.3 L161.6 170.3 L162.1 170.3 L162.6 170.3 L163.1 170.3 L163.6 170.3 L164.1 170.3 L164.6 170.3 L165.1 170.3 L165.6 170.3 L166.1 170.3 L166.6 170.3 L167.1 170.3 L167.6 170.3 L168.1 170.3 L168.6 170.3 L169.1 170.3 L169.6 170.3 L170.1 170.3 L170.6 170.3 L171.1 170.3 L171.6 170.3 L172.1 170.3 L172.6 170.3 L173.1 170.3 L173.6 170.3 L174.1 170.3 L174.6 170.3 L175.1 170.3 L175.6 170.3 L176.1 170.3 L176.6 170.3 L177.1 170.3 L177.6 170.3 L178.1 170.3 L178.6 170.3 L179.1 170.3 L179.6 170.3 L180.1 170.3 L180.6 170.3 L181.1 170.3 L181.6 170.3 L182.1 170.3 L182.6 170.3 L183.1 170.3 L183.6 170.3 L184.1 170.3 L184.6 170.3 L185.1 170.3 L185.6 170.3 L186.1 170.3 L186.6 170.3 L187.1 170.3 L187.6 170.3 L188.1 170.3 L188.6 170.3 L189.1 170.3 L189.6 170.3 L190.1 170.3 L190.6 170.3 L191.1 170.3 L191.6 170.3 L192.1 170.3 L192.6 170.3 L193.1 170.3 L193.6 170.3 L194.1 170.3 L194.6 170.3 L195.1 170.3 L195.6 170.3 L196.1 170.3 L196.6 170.3 L197.1 170.3 L197.6 170.3 L198.1 170.3 L198.6 170.3 L199.1 170.3 L199.6 170.3 L200.1 170.3 L200.6 170.3 L201.1 170.3 L201.6 170.3 L202.1 170.3 L202.6 170.3 L203.1 170.3 L203.6 170.3 L204.1 170.3 L204.6 170.3 L205.1 170.3 L205.6 170.3 L206.1 170.3 L206.6 170.3 L207.1 170.3 L207.6 170.3 L208.1 170.3 L208.6 170.3 L209.1 170.3 L209.6 170.3 L210.1 170.3 L210.6 170.3 L211.1 170.3 L211.6 170.3 L212.1 170.3 L212.6 170.3 L213.1 170.3 L213.6 170.3 L214.1 170.3 L214.6 170.3 L215.1 170.3 L215.6 170.3 L216.1 170.3 L216.6 170.3 L217.1 170.3 L217.6 170.3 L218.1 170.3 L218.6 170.3 L219.1 170.3 L219.6 170.3 L220.1 170.3 L220.6 170.3 L221.1 170.3 L221.6 170.3 L222.1 170.3 L222.6 170.3 L223.1 170.3 L223.6 170.3 L224.1 170.3 L224.6 170.3 L225.1 170.3 L225.6 170.3 L226.1 170.3 L226.6 170.3 L227.1 170.3 L227.6 170.3 L228.1 170.3 L228.6 170.3 L229.1 170.3 L229.6 170.3 L230.1 170.3 L230.6 170.3 L231.1 170.3 L231.6 170.3 L232.1 170.3 L232.6 170.3 L233.1 170.3 L233.6 170.3 L234.1 170.3 L234.6 170.3 L235.1 170.3 L235.6 170.3 L236.1 170.3 L236.6 170.3 L237.1 170.3" stroke="#a8d890" stroke-width="0.90" fill="none" stroke-linejoin="round" />
<path d="M31.6 169.9 L32.1 169.9 L32.6 169.9 L33.1 169.9 L33.6 169.9 L34.1 169.9 L34.6 169.9 L35.1 169.9 L35.6 169.9 L36.1 169.9 L36.6 169.9 L37.1 169.9 L37.6 169.9 L38.1 169.9 L38.6 169.9 L39.1 169.9 L39.6 169.9 L40.1 169.9 L40.6 169.9 L41.1 169.9 L41.6 169.9 L42.1 169.9 L42.6 169.9 L43.1 169.9 L43.6 169.9 L44.1 169.9 L44.6 169.9 L45.1 169.9 L45.6 169.9 L46.1 169.9 L46.6 169.9 L47.1 169.9 L47.6 169.9 L48.1 169.9 L48.6 169.9 L49.1 169.9 L49.6 169.9 L50.1 169.9 L50.6 169.9 L51.1 169.9 L51.6 169.9 L52.1 169.9 L52.6 169.9 L53.1 169.9 L53.6 169.9 L54.1 169.9 L54.6 169.9 L55.1 169.9 L55.6 169.9 L56.1 169.9 L56.6 169.9 L57.1 169.9 L57.6 169.9 L58.1 169.9 L58.6 169.9 L59.1 169.9 L59.6 169.9 L60.1 169.9 L60.6 169.9 L61.1 169.9 L61.6 169.9 L62.1 169.9 L62.6 169.9 L63.1 169.9 L63.6 169.9 L64.1 169.9 L64.6 169.9 L65.1 169.9 L65.6 169.9 L66.1 169.9 L66.6 169.9 L67.1 169.9 L67.6 169.9 L68.1 169.9 L68.6 169.9 L69.1 169.9 L69.6 169.9 L70.1 169.9 L70.6 169.9 L71.1 169.9 L71.6 169.9 L72.1 169.9 L72.6 169.9 L73.1 169.9 L73.6 169.9 L74.1 169.9 L74.6 169.9 L75.1 169.9 L75.6 169.9 L76.1 169.9 L76.6 169.9 L77.1 169.9 L77.6 169.9 L78.1 169.9 L78.6 169.9 L79.1 169.9 L79.6 169.9 L80.1 169.9 L80.6 169.9 L81.1 169.9 L81.6 169.9 L82.1 169.9 L82.6 169.9 L83.1 169.9 L83.6 169.9 L84.1 169.9 L84.6 169.9 L85.1 169.9 L85.6 169.9 L86.1 169.9 L86.6 169.9 L87.1 169.9 L87.6 169.9 L88.1 169.9 L88.6 169.9 L89.1 169.9 L89.6 169.9 L90.1 169.9 L90.6 169.9 L91.1 169.9 L91.6 169.9 L92.1 169.8 L92.6 169.8 L93.1 169.8 L93.6 169.8 L94.1 169.8 L94.6 169.8 L95.1 169.8 L95.6 169.8 L96.1 169.7 L96.6 169.7 L97.1 169.7 L97.6 169.7 L98.1 169.6 L98.6 169.6 L99.1 169.6 L99.6 169.5 L100.1 169.5 L100.6 169.4 L101.1 169.4 L101.6 169.3 L102.1 169.3 L102.6 169.2 L103.1 169.1 L103.6 169.0 L104.1 168.9 L104.6 168.9 L105.1 168.8 L105.6 168.6 L106.1 168.5 L106.6 168.4 L107.1 168.3 L107.6 168.1 L108.1 168.0 L108.6 167.8 L109.1 167.7 L109.6 167.5 L110.1 167.3 L110.6 167.1 L111.1 166.9 L111.6 166.7 L112.1 166.5 L112.6 166.3 L113.1 166.1 L113.6 165.8 L114.1 165.6 L114.6 165.4 L115.1 165.1 L115.6 164.9 L116.1 164.6 L116.6 164.4 L117.1 164.1 L117.6 163.9 L118.1 163.6 L118.6 163.4 L119.1 163.1 L119.6 162.9 L120.1 162.7 L120.6 162.5 L121.1 162.2 L121.6 162.0 L122.1 161.8 L122.6 161.7 L123.1 161.5 L123.6 161.3 L124.1 161.2 L124.6 161.1 L125.1 160.9 L125.6 160.9 L126.1 160.8 L126.6 160.7 L127.1 160.7 L127.6 160.7 L128.1 160.7 L128.6 160.7 L129.1 160.7 L129.6 160.8 L130.1 160.8 L130.6 160.9 L131.1 161.0 L131.6 161.2 L132.1 161.3 L132.6 161.5 L133.1 161.7 L133.6 161.8 L134.1 162.0 L134.6 162.3 L135.1 162.5 L135.6 162.7 L136.1 163.0 L136.6 163.2 L137.1 163.5 L137.6 163.8 L138.1 164.0 L138.6 164.3 L139.1 164.6 L139.6 164.9 L140.1 165.1 L140.6 165.4 L141.1 165.7 L141.6 166.0 L142.1 166.3 L142.6 166.5 L143.1 166.8 L143.6 167.1 L144.1 167.3 L144.6 167.6 L145.1 167.8 L145.6 168.0 L146.1 168.3 L146.6 168.5 L147.1 168.7 L147.6 168.9 L148.1 169.1 L148.6 169.3 L149.1 169.5 L149.6 169.6 L150.1 169.8 L150.6 169.9 L151.1 170.1 L151.6 170.2 L152.1 170.4 L152.6 170.5 L153.1 170.6 L153.6 170.7 L154.1 170.8 L154.6 170.9 L155.1 171.0 L155.6 171.1 L156.1 171.2 L156.6 171.2 L157.1 171.3 L157.6 171.4 L158.1 171.4 L158.6 171.5 L159.1 171.5 L159.6 171.6 L160.1 171.6 L160.6 171.6 L161.1 171.7 L161.6 171.7 L162.1 171.7 L162.6 171.8 L163.1 171.8 L163.6 171.8 L164.1 171.8 L164.6 171.9 L165.1 171.9 L165.6 171.9 L166.1 171.9 L166.6 171.9 L167.1 171.9 L167.6 172.0 L168.1 172.0 L168.6 172.0 L169.1 172.0 L169.6 172.0 L170.1 172.0 L170.6 172.0 L171.1 172.0 L171.6 172.0 L172.1 172.0 L172.6 172.0 L173.1 172.0 L173.6 172.0 L174.1 172.0 L174.6 172.1 L175.1 172.1 L175.6 172.1 L176.1 172.1 L176.6 172.1 L177.1 172.1 L177.6 172.1 L178.1 172.1 L178.6 172.1 L179.1 172.1 L179.6 172.1 L180.1 172.1 L180.6 172.1 L181.1 172.1 L181.6 172.1 L182.1 172.1 L182.6 172.1 L183.1 172.1 L183.6 172.1 L184.1 172.1 L184.6 172.1 L185.1 172.1 L185.6 172.1 L186.1 172.1 L186.6 172.1 L187.1 172.1 L187.6 172.1 L188.1 172.1 L188.6 172.1 L189.1 172.1 L189.6 172.1 L190.1 172.1 L190.6 172.1 L191.1 172.1 L191.6 172.1 L192.1 172.1 L192.6 172.1 L193.1 172.1 L193.6 172.1 L194.1 172.1 L194.6 172.1 L195.1 172.1 L195.6 172.1 L196.1 172.1 L196.6 172.1 L197.1 172.1 L197.6 172.1 L198.1 172.1 L198.6 172.1 L199.1 172.1 L199.6 172.1 L200.1 172.1 L200.6 172.1 L201.1 172.1 L201.6 172.1 L202.1 172.1 L202.6 172.1 L203.1 172.1 L203.6 172.1 L204.1 172.1 L204.6 172.1 L205.1 172.1 L205.6 172.1 L206.1 172.1 L206.6 172.1 L207.1 172.1 L207.6 172.1 L208.1 172.1 L208.6 172.1 L209.1 172.1 L209.6 172.1 L210.1 172.1 L210.6 172.1 L211.1 172.1 L211.6 172.1 L212.1 172.1 L212.6 172.1 L213.1 172.1 L213.6 172.1 L214.1 172.1 L214.6 172.1 L215.1 172.1 L215.6 172.1 L216.1 172.1 L216.6 172.1 L217.1 172.1 L217.6 172.1 L218.1 172.1 L218.6 172.1 L219.1 172.1 L219.6 172.1 L220.1 172.1 L220.6 172.1 L221.1 172.1 L221.6 172.1 L222.1 172.1 L222.6 172.1 L223.1 172.1 L223.6 172.1 L224.1 172.1 L224.6 172.1 L225.1 172.1 L225.6 172.1 L226.1 172.1 L226.6 172.1 L227.1 172.1 L227.6 172.1 L228.1 172.1 L228.6 172.1 L229.1 172.1 L229.6 172.1 L230.1 172.1 L230.6 172.1 L231.1 172.1 L231.6 172.1 L232.1 172.1 L232.6 172.1 L233.1 172.1 L233.6 172.1 L234.1 172.1 L234.6 172.1 L235.1 172.1 L235.6 172.1 L236.1 172.1 L236.6 172.1 L237.1 172.1" stroke="#c890d0" stroke-width="0.90" fill="none" stroke-linejoin="round" />
<path d="M31.6 169.9 L32.1 169.9 L32.6 169.9 L33.1 169.9 L33.6 169.9 L34.1 169.9 L34.6 169.9 L35.1 169.9 L35.6 169.9 L36.1 169.9 L36.6 169.9 L37.1 169.9 L37.6 169.9 L38.1 169.9 L38.6 169.9 L39.1 169.9 L39.6 169.9 L40.1 169.9 L40.6 169.9 L41.1 169.9 L41.6 169.9 L42.1 169.9 L42.6 169.9 L43.1 169.9 L43.6 169.9 L44.1 169.9 L44.6 169.9 L45.1 169.9 L45.6 169.9 L46.1 169.9 L46.6 169.9 L47.1 169.9 L47.6 169.9 L48.1 169.9 L48.6 169.9 L49.1 169.9 L49.6 169.9 L50.1 169.9 L50.6 169.9 L51.1 169.9 L51.6 169.9 L52.1 169.9 L52.6 169.9 L53.1 169.9 L53.6 169.9 L54.1 169.9 L54.6 169.9 L55.1 169.9 L55.6 169.9 L56.1 169.9 L56.6 169.9 L57.1 169.9 L57.6 169.9 L58.1 169.9 L58.6 169.9 L59.1 169.9 L59.6 169.9 L60.1 169.9 L60.6 169.9 L61.1 169.9 L61.6 169.9 L62.1 169.9 L62.6 169.9 L63.1 169.9 L63.6 169.9 L64.1 169.9 L64.6 169.9 L65.1 169.9 L65.6 169.9 L66.1 169.9 L66.6 169.9 L67.1 169.9 L67.6 169.9 L68.1 169.9 L68.6 169.9 L69.1 169.9 L69.6 169.9 L70.1 169.9 L70.6 169.9 L71.1 169.9 L71.6 169.9 L72.1 169.9 L72.6 169.9 L73.1 169.9 L73.6 169.9 L74.1 169.9 L74.6 169.9 L75.1 169.9 L75.6 169.9 L76.1 169.9 L76.6 169.9 L77.1 169.9 L77.6 169.9 L78.1 169.9 L78.6 169.9 L79.1 169.9 L79.6 169.9 L80.1 169.9 L80.6 169.9 L81.1 169.9 L81.6 169.9 L82.1 169.9 L82.6 169.9 L83.1 169.9 L83.6 169.9 L84.1 169.9 L84.6 169.9 L85.1 169.9 L85.6 169.9 L86.1 169.9 L86.6 169.9 L87.1 169.9 L87.6 169.9 L88.1 169.9 L88.6 169.9 L89.1 169.9 L89.6 169.9 L90.1 169.9 L90.6 169.9 L91.1 169.9 L91.6 169.9 L92.1 169.9 L92.6 169.9 L93.1 169.9 L93.6 169.9 L94.1 169.9 L94.6 169.9 L95.1 169.9 L95.6 169.9 L96.1 169.9 L96.6 169.9 L97.1 169.9 L97.6 169.9 L98.1 169.9 L98.6 169.9 L99.1 169.9 L99.6 169.9 L100.1 169.9 L100.6 169.9 L101.1 169.9 L101.6 169.9 L102.1 169.9 L102.6 169.9 L103.1 169.9 L103.6 169.9 L104.1 169.9 L104.6 169.9 L105.1 169.9 L105.6 169.9 L106.1 169.9 L106.6 169.9 L107.1 169.9 L107.6 169.9 L108.1 169.9 L108.6 169.9 L109.1 169.9 L109.6 169.9 L110.1 169.9 L110.6 169.9 L111.1 169.9 L111.6 169.9 L112.1 169.9 L112.6 169.9 L113.1 169.9 L113.6 169.9 L114.1 169.9 L114.6 169.9 L115.1 169.9 L115.6 169.9 L116.1 169.9 L116.6 169.9 L117.1 169.9 L117.6 169.9 L118.1 169.9 L118.6 169.9 L119.1 169.9 L119.6 169.9 L120.1 169.9 L120.6 169.9 L121.1 169.9 L121.6 169.9 L122.1 169.9 L122.6 169.9 L123.1 169.9 L123.6 169.9 L124.1 169.9 L124.6 169.9 L125.1 169.9 L125.6 169.9 L126.1 169.8 L126.6 169.8 L127.1 169.8 L127.6 169.7 L128.1 169.6 L128.6 169.5 L129.1 169.3 L129.6 169.2 L130.1 168.9 L130.6 168.7 L131.1 168.4 L131.6 168.0 L132.1 167.6 L132.6 167.1 L133.1 166.5 L133.6 165.9 L134.1 165.1 L134.6 164.3 L135.1 163.4 L135.6 162.4 L136.1 161.3 L136.6 160.2 L137.1 159.0 L137.6 157.8 L138.1 156.5 L138.6 155.2 L139.1 153.9 L139.6 152.7 L140.1 151.5 L140.6 150.4 L141.1 149.4 L141.6 148.5 L142.1 147.7 L142.6 147.1 L143.1 146.7 L143.6 146.5 L144.1 146.4 L144.6 146.6 L145.1 146.9 L145.6 147.4 L146.1 148.1 L146.6 148.9 L147.1 149.9 L147.6 151.0 L148.1 152.2 L148.6 153.5 L149.1 154.8 L149.6 156.2 L150.1 157.5 L150.6 158.8 L151.1 160.1 L151.6 161.4 L152.1 162.6 L152.6 163.7 L153.1 164.7 L153.6 165.6 L154.1 166.5 L154.6 167.3 L155.1 168.0 L155.6 168.6 L156.1 169.1 L156.6 169.6 L157.1 170.0 L157.6 170.3 L158.1 170.6 L158.6 170.8 L159.1 171.0 L159.6 171.2 L160.1 171.4 L160.6 171.5 L161.1 171.6 L161.6 171.6 L162.1 171.7 L162.6 171.8 L163.1 171.8 L163.6 171.8 L164.1 171.9 L164.6 171.9 L165.1 171.9 L165.6 171.9 L166.1 171.9 L166.6 171.9 L167.1 172.0 L167.6 172.0 L168.1 172.0 L168.6 172.0 L169.1 172.0 L169.6 172.0 L170.1 172.0 L170.6 172.0 L171.1 172.0 L171.6 172.0 L172.1 172.0 L172.6 172.0 L173.1 172.0 L173.6 172.0 L174.1 172.0 L174.6 172.1 L175.1 172.1 L175.6 172.1 L176.1 172.1 L176.6 172.1 L177.1 172.1 L177.6 172.1 L178.1 172.1 L178.6 172.1 L179.1 172.1 L179.6 172.1 L180.1 172.1 L180.6 172.1 L181.1 172.1 L181.6 172.1 L182.1 172.1 L182.6 172.1 L183.1 172.1 L183.6 172.1 L184.1 172.1 L184.6 172.1 L185.1 172.1 L185.6 172.1 L186.1 172.1 L186.6 172.1 L187.1 172.1 L187.6 172.1 L188.1 172.1 L188.6 172.1 L189.1 172.1 L189.6 172.1 L190.1 172.1 L190.6 172.1 L191.1 172.1 L191.6 172.1 L192.1 172.1 L192.6 172.1 L193.1 172.1 L193.6 172.1 L194.1 172.1 L194.6 172.1 L195.1 172.1 L195.6 172.1 L196.1 172.1 L196.6 172.1 L197.1 172.1 L197.6 172.1 L198.1 172.1 L198.6 172.1 L199.1 172.1 L199.6 172.1 L200.1 172.1 L200.6 172.1 L201.1 172.1 L201.6 172.1 L202.1 172.1 L202.6 172.1 L203.1 172.1 L203.6 172.1 L204.1 172.1 L204.6 172.1 L205.1 172.1 L205.6 172.1 L206.1 172.1 L206.6 172.1 L207.1 172.1 L207.6 172.1 L208.1 172.1 L208.6 172.1 L209.1 172.1 L209.6 172.1 L210.1 172.1 L210.6 172.1 L211.1 172.1 L211.6 172.1 L212.1 172.1 L212.6 172.1 L213.1 172.1 L213.6 172.1 L214.1 172.1 L214.6 172.1 L215.1 172.1 L215.6 172.1 L216.1 172.1 L216.6 172.1 L217.1 172.1 L217.6 172.1 L218.1 172.1 L218.6 172.1 L219.1 172.1 L219.6 172.1 L220.1 172.1 L220.6 172.1 L221.1 172.1 L221.6 172.1 L222.1 172.1 L222.6 172.1 L223.1 172.1 L223.6 172.1 L224.1 172.1 L224.6 172.1 L225.1 172.1 L225.6 172.1 L226.1 172.1 L226.6 172.1 L227.1 172.1 L227.6 172.1 L228.1 172.1 L228.6 172.1 L229.1 172.1 L229.6 172.1 L230.1 172.1 L230.6 172.1 L231.1 172.1 L231.6 172.1 L232.1 172.1 L232.6 172.1 L233.1 172.1 L233.6 172.1 L234.1 172.1 L234.6 172.1 L235.1 172.1 L235.6 172.1 L236.1 172.1 L236.6 172.1 L237.1 172.1" stroke="#7a8ad8" stroke-width="0.90" fill="none" stroke-linejoin="round" />
<path d="M31.6 169.9 L32.1 169.9 L32.6 169.9 L33.1 169.9 L33.6 169.9 L34.1 169.9 L34.6 169.9 L35.1 169.9 L35.6 169.9 L36.1 169.9 L36.6 169.9 L37.1 169.9 L37.6 169.9 L38.1 169.9 L38.6 169.9 L39.1 169.9 L39.6 169.9 L40.1 169.9 L40.6 169.9 L41.1 169.9 L41.6 169.9 L42.1 169.9 L42.6 169.9 L43.1 169.9 L43.6 169.9 L44.1 169.9 L44.6 169.9 L45.1 169.9 L45.6 169.9 L46.1 169.9 L46.6 169.8 L47.1 169.8 L47.6 169.8 L48.1 169.8 L48.6 169.8 L49.1 169.8 L49.6 169.8 L50.1 169.8 L50.6 169.8 L51.1 169.8 L51.6 169.8 L52.1 169.8 L52.6 169.8 L53.1 169.8 L53.6 169.8 L54.1 169.8 L54.6 169.8 L55.1 169.8 L55.6 169.8 L56.1 169.8 L56.6 169.8 L57.1 169.8 L57.6 169.8 L58.1 169.8 L58.6 169.8 L59.1 169.8 L59.6 169.8 L60.1 169.8 L60.6 169.8 L61.1 169.8 L61.6 169.8 L62.1 169.8 L62.6 169.8 L63.1 169.8 L63.6 169.8 L64.1 169.8 L64.6 169.8 L65.1 169.8 L65.6 169.8 L66.1 169.8 L66.6 169.8 L67.1 169.8 L67.6 169.8 L68.1 169.8 L68.6 169.8 L69.1 169.8 L69.6 169.8 L70.1 169.8 L70.6 169.8 L71.1 169.8 L71.6 169.8 L72.1 169.8 L72.6 169.8 L73.1 169.8 L73.6 169.8 L74.1 169.8 L74.6 169.8 L75.1 169.8 L75.6 169.8 L76.1 169.8 L76.6 169.8 L77.1 169.8 L77.6 169.8 L78.1 169.8 L78.6 169.8 L79.1 169.8 L79.6 169.8 L80.1 169.8 L80.6 169.8 L81.1 169.8 L81.6 169.8 L82.1 169.8 L82.6 169.8 L83.1 169.8 L83.6 169.8 L84.1 169.8 L84.6 169.8 L85.1 169.8 L85.6 169.8 L86.1 169.8 L86.6 169.8 L87.1 169.8 L87.6 169.8 L88.1 169.8 L88.6 169.8 L89.1 169.8 L89.6 169.8 L90.1 169.8 L90.6 169.8 L91.1 169.8 L91.6 169.8 L92.1 169.7 L92.6 169.7 L93.1 169.7 L93.6 169.7 L94.1 169.7 L94.6 169.7 L95.1 169.7 L95.6 169.7 L96.1 169.7 L96.6 169.7 L97.1 169.7 L97.6 169.7 L98.1 169.7 L98.6 169.7 L99.1 169.7 L99.6 169.7 L100.1 169.7 L100.6 169.7 L101.1 169.7 L101.6 169.7 L102.1 169.7 L102.6 169.7 L103.1 169.7 L103.6 169.7 L104.1 169.7 L104.6 169.7 L105.1 169.7 L105.6 169.7 L106.1 169.6 L106.6 169.6 L107.1 169.6 L107.6 169.6 L108.1 169.6 L108.6 169.6 L109.1 169.6 L109.6 169.6 L110.1 169.6 L110.6 169.6 L111.1 169.6 L111.6 169.6 L112.1 169.6 L112.6 169.6 L113.1 169.6 L113.6 169.6 L114.1 169.5 L114.6 169.5 L115.1 169.5 L115.6 169.5 L116.1 169.5 L116.6 169.5 L117.1 169.5 L117.6 169.5 L118.1 169.5 L118.6 169.5 L119.1 169.4 L119.6 169.4 L120.1 169.4 L120.6 169.4 L121.1 169.4 L121.6 169.4 L122.1 169.4 L122.6 169.4 L123.1 169.3 L123.6 169.3 L124.1 169.3 L124.6 169.3 L125.1 169.3 L125.6 169.3 L126.1 169.2 L126.6 169.2 L127.1 169.2 L127.6 169.2 L128.1 169.1 L128.6 169.1 L129.1 169.1 L129.6 169.1 L130.1 169.0 L130.6 169.0 L131.1 169.0 L131.6 168.9 L132.1 168.9 L132.6 168.8 L133.1 168.8 L133.6 168.7 L134.1 168.7 L134.6 168.6 L135.1 168.6 L135.6 168.5 L136.1 168.4 L136.6 168.3 L137.1 168.2 L137.6 168.1 L138.1 167.9 L138.6 167.8 L139.1 167.6 L139.6 167.3 L140.1 167.0 L140.6 166.7 L141.1 166.2 L141.6 165.6 L142.1 165.0 L142.6 164.1 L143.1 163.1 L143.6 161.9 L144.1 160.4 L144.6 158.6 L145.1 156.6 L145.6 154.3 L146.1 151.6 L146.6 148.6 L147.1 145.2 L147.6 141.6 L148.1 137.7 L148.6 133.6 L149.1 129.3 L149.6 125.1 L150.1 120.9 L150.6 117.0 L151.1 113.4 L151.6 110.4 L152.1 108.2 L152.6 106.8 L153.1 106.3 L153.6 106.9 L154.1 108.4 L154.6 110.8 L155.1 113.8 L155.6 117.5 L156.1 121.5 L156.6 125.7 L157.1 130.1 L157.6 134.3 L158.1 138.5 L158.6 142.5 L159.1 146.1 L159.6 149.5 L160.1 152.6 L160.6 155.3 L161.1 157.7 L161.6 159.8 L162.1 161.6 L162.6 163.1 L163.1 164.4 L163.6 165.4 L164.1 166.3 L164.6 167.1 L165.1 167.7 L165.6 168.1 L166.1 168.5 L166.6 168.9 L167.1 169.2 L167.6 169.4 L168.1 169.6 L168.6 169.8 L169.1 169.9 L169.6 170.1 L170.1 170.2 L170.6 170.3 L171.1 170.4 L171.6 170.5 L172.1 170.5 L172.6 170.6 L173.1 170.7 L173.6 170.8 L174.1 170.8 L174.6 170.9 L175.1 170.9 L175.6 171.0 L176.1 171.0 L176.6 171.1 L177.1 171.1 L177.6 171.2 L178.1 171.2 L178.6 171.2 L179.1 171.3 L179.6 171.3 L180.1 171.3 L180.6 171.3 L181.1 171.4 L181.6 171.4 L182.1 171.4 L182.6 171.4 L183.1 171.5 L183.6 171.5 L184.1 171.5 L184.6 171.5 L185.1 171.5 L185.6 171.6 L186.1 171.6 L186.6 171.6 L187.1 171.6 L187.6 171.6 L188.1 171.6 L188.6 171.6 L189.1 171.7 L189.6 171.7 L190.1 171.7 L190.6 171.7 L191.1 171.7 L191.6 171.7 L192.1 171.7 L192.6 171.7 L193.1 171.7 L193.6 171.8 L194.1 171.8 L194.6 171.8 L195.1 171.8 L195.6 171.8 L196.1 171.8 L196.6 171.8 L197.1 171.8 L197.6 171.8 L198.1 171.8 L198.6 171.8 L199.1 171.8 L199.6 171.8 L200.1 171.8 L200.6 171.8 L201.1 171.9 L201.6 171.9 L202.1 171.9 L202.6 171.9 L203.1 171.9 L203.6 171.9 L204.1 171.9 L204.6 171.9 L205.1 171.9 L205.6 171.9 L206.1 171.9 L206.6 171.9 L207.1 171.9 L207.6 171.9 L208.1 171.9 L208.6 171.9 L209.1 171.9 L209.6 171.9 L210.1 171.9 L210.6 171.9 L211.1 171.9 L211.6 171.9 L212.1 171.9 L212.6 171.9 L213.1 171.9 L213.6 171.9 L214.1 171.9 L214.6 171.9 L215.1 172.0 L215.6 172.0 L216.1 172.0 L216.6 172.0 L217.1 172.0 L217.6 172.0 L218.1 172.0 L218.6 172.0 L219.1 172.0 L219.6 172.0 L220.1 172.0 L220.6 172.0 L221.1 172.0 L221.6 172.0 L222.1 172.0 L222.6 172.0 L223.1 172.0 L223.6 172.0 L224.1 172.0 L224.6 172.0 L225.1 172.0 L225.6 172.0 L226.1 172.0 L226.6 172.0 L227.1 172.0 L227.6 172.0 L228.1 172.0 L228.6 172.0 L229.1 172.0 L229.6 172.0 L230.1 172.0 L230.6 172.0 L231.1 172.0 L231.6 172.0 L232.1 172.0 L232.6 172.0 L233.1 172.0 L233.6 172.0 L234.1 172.0 L234.6 172.0 L235.1 172.0 L235.6 172.0 L236.1 172.0 L236.6 172.0 L237.1 172.0" stroke="#a6dcf2" stroke-width="0.90" fill="none" stroke-linejoin="round" stroke-dasharray="1 1"/>
<path d="M31.6 169.9 L32.1 169.9 L32.6 169.9 L33.1 169.9 L33.6 169.9 L34.1 169.9 L34.6 169.9 L35.1 169.9 L35.6 169.9 L36.1 169.9 L36.6 169.9 L37.1 169.9 L37.6 169.9 L38.1 169.9 L38.6 169.9 L39.1 169.9 L39.6 169.9 L40.1 169.9 L40.6 169.9 L41.1 169.9 L41.6 169.9 L42.1 169.9 L42.6 169.9 L43.1 169.9 L43.6 169.9 L44.1 169.9 L44.6 169.9 L45.1 169.9 L45.6 169.9 L46.1 169.9 L46.6 169.8 L47.1 169.8 L47.6 169.8 L48.1 169.8 L48.6 169.8 L49.1 169.8 L49.6 169.8 L50.1 169.8 L50.6 169.8 L51.1 169.8 L51.6 169.8 L52.1 169.8 L52.6 169.8 L53.1 169.8 L53.6 169.8 L54.1 169.8 L54.6 169.8 L55.1 169.8 L55.6 169.8 L56.1 169.8 L56.6 169.8 L57.1 169.8 L57.6 169.8 L58.1 169.8 L58.6 169.8 L59.1 169.8 L59.6 169.8 L60.1 169.8 L60.6 169.8 L61.1 169.8 L61.6 169.8 L62.1 169.8 L62.6 169.8 L63.1 169.8 L63.6 169.8 L64.1 169.8 L64.6 169.8 L65.1 169.8 L65.6 169.8 L66.1 169.8 L66.6 169.8 L67.1 169.8 L67.6 169.8 L68.1 169.8 L68.6 169.8 L69.1 169.8 L69.6 169.8 L70.1 169.8 L70.6 169.8 L71.1 169.8 L71.6 169.8 L72.1 169.8 L72.6 169.8 L73.1 169.8 L73.6 169.8 L74.1 169.8 L74.6 169.8 L75.1 169.8 L75.6 169.8 L76.1 169.8 L76.6 169.8 L77.1 169.8 L77.6 169.8 L78.1 169.8 L78.6 169.8 L79.1 169.8 L79.6 169.8 L80.1 169.8 L80.6 169.8 L81.1 169.8 L81.6 169.8 L82.1 169.8 L82.6 169.8 L83.1 169.8 L83.6 169.8 L84.1 169.8 L84.6 169.8 L85.1 169.8 L85.6 169.8 L86.1 169.8 L86.6 169.8 L87.1 169.8 L87.6 169.8 L88.1 169.7 L88.6 169.7 L89.1 169.7 L89.6 169.7 L90.1 169.7 L90.6 169.7 L91.1 169.7 L91.6 169.7 L92.1 169.7 L92.6 169.7 L93.1 169.7 L93.6 169.7 L94.1 169.6 L94.6 169.6 L95.1 169.6 L95.6 169.6 L96.1 169.6 L96.6 169.5 L97.1 169.5 L97.6 169.5 L98.1 169.4 L98.6 169.4 L99.1 169.4 L99.6 169.3 L100.1 169.3 L100.6 169.2 L101.1 169.2 L101.6 169.1 L102.1 169.0 L102.6 169.0 L103.1 168.9 L103.6 168.8 L104.1 168.7 L104.6 168.6 L105.1 168.5 L105.6 168.4 L106.1 168.3 L106.6 168.1 L107.1 168.0 L107.6 167.9 L108.1 167.7 L108.6 167.5 L109.1 167.4 L109.6 167.2 L110.1 167.0 L110.6 166.8 L111.1 166.6 L111.6 166.4 L112.1 166.2 L112.6 166.0 L113.1 165.7 L113.6 165.5 L114.1 165.2 L114.6 165.0 L115.1 164.7 L115.6 164.5 L116.1 164.2 L116.6 164.0 L117.1 163.7 L117.6 163.4 L118.1 163.2 L118.6 162.9 L119.1 162.7 L119.6 162.4 L120.1 162.2 L120.6 161.9 L121.1 161.7 L121.6 161.5 L122.1 161.2 L122.6 161.0 L123.1 160.8 L123.6 160.7 L124.1 160.5 L124.6 160.3 L125.1 160.2 L125.6 160.0 L126.1 159.9 L126.6 159.7 L127.1 159.6 L127.6 159.5 L128.1 159.3 L128.6 159.2 L129.1 159.1 L129.6 158.9 L130.1 158.7 L130.6 158.5 L131.1 158.2 L131.6 157.9 L132.1 157.6 L132.6 157.2 L133.1 156.7 L133.6 156.1 L134.1 155.5 L134.6 154.8 L135.1 154.0 L135.6 153.2 L136.1 152.2 L136.6 151.2 L137.1 150.1 L137.6 149.0 L138.1 147.8 L138.6 146.6 L139.1 145.3 L139.6 144.1 L140.1 142.8 L140.6 141.5 L141.1 140.3 L141.6 139.0 L142.1 137.8 L142.6 136.6 L143.1 135.3 L143.6 134.0 L144.1 132.7 L144.6 131.3 L145.1 129.7 L145.6 128.1 L146.1 126.2 L146.6 124.2 L147.1 122.0 L147.6 119.6 L148.1 117.0 L148.6 114.2 L149.1 111.4 L149.6 108.6 L150.1 105.9 L150.6 103.3 L151.1 101.2 L151.6 99.5 L152.1 98.5 L152.6 98.2 L153.1 98.8 L153.6 100.4 L154.1 102.8 L154.6 106.0 L155.1 109.8 L155.6 114.0 L156.1 118.6 L156.6 123.3 L157.1 128.1 L157.6 132.7 L158.1 137.2 L158.6 141.4 L159.1 145.3 L159.6 148.8 L160.1 152.0 L160.6 154.9 L161.1 157.4 L161.6 159.5 L162.1 161.4 L162.6 162.9 L163.1 164.2 L163.6 165.3 L164.1 166.2 L164.6 167.0 L165.1 167.6 L165.6 168.1 L166.1 168.5 L166.6 168.8 L167.1 169.1 L167.6 169.4 L168.1 169.6 L168.6 169.8 L169.1 169.9 L169.6 170.0 L170.1 170.2 L170.6 170.3 L171.1 170.4 L171.6 170.5 L172.1 170.5 L172.6 170.6 L173.1 170.7 L173.6 170.8 L174.1 170.8 L174.6 170.9 L175.1 170.9 L175.6 171.0 L176.1 171.0 L176.6 171.1 L177.1 171.1 L177.6 171.2 L178.1 171.2 L178.6 171.2 L179.1 171.3 L179.6 171.3 L180.1 171.3 L180.6 171.3 L181.1 171.4 L181.6 171.4 L182.1 171.4 L182.6 171.4 L183.1 171.5 L183.6 171.5 L184.1 171.5 L184.6 171.5 L185.1 171.5 L185.6 171.6 L186.1 171.6 L186.6 171.6 L187.1 171.6 L187.6 171.6 L188.1 171.6 L188.6 171.6 L189.1 171.7 L189.6 171.7 L190.1 171.7 L190.6 171.7 L191.1 171.7 L191.6 171.7 L192.1 171.7 L192.6 171.7 L193.1 171.7 L193.6 171.8 L194.1 171.8 L194.6 171.8 L195.1 171.8 L195.6 171.8 L196.1 171.8 L196.6 171.8 L197.1 171.8 L197.6 171.8 L198.1 171.8 L198.6 171.8 L199.1 171.8 L199.6 171.8 L200.1 171.8 L200.6 171.8 L201.1 171.9 L201.6 171.9 L202.1 171.9 L202.6 171.9 L203.1 171.9 L203.6 171.9 L204.1 171.9 L204.6 171.9 L205.1 171.9 L205.6 171.9 L206.1 171.9 L206.6 171.9 L207.1 171.9 L207.6 171.9 L208.1 171.9 L208.6 171.9 L209.1 171.9 L209.6 171.9 L210.1 171.9 L210.6 171.9 L211.1 171.9 L211.6 171.9 L212.1 171.9 L212.6 171.9 L213.1 171.9 L213.6 171.9 L214.1 171.9 L214.6 171.9 L215.1 172.0 L215.6 172.0 L216.1 172.0 L216.6 172.0 L217.1 172.0 L217.6 172.0 L218.1 172.0 L218.6 172.0 L219.1 172.0 L219.6 172.0 L220.1 172.0 L220.6 172.0 L221.1 172.0 L221.6 172.0 L222.1 172.0 L222.6 172.0 L223.1 172.0 L223.6 172.0 L224.1 172.0 L224.6 172.0 L225.1 172.0 L225.6 172.0 L226.1 172.0 L226.6 172.0 L227.1 172.0 L227.6 172.0 L228.1 172.0 L228.6 172.0 L229.1 172.0 L229.6 172.0 L230.1 172.0 L230.6 172.0 L231.1 172.0 L231.6 172.0 L232.1 172.0 L232.6 172.0 L233.1 172.0 L233.6 172.0 L234.1 172.0 L234.6 172.0 L235.1 172.0 L235.6 172.0 L236.1 172.0 L236.6 172.0 L237.1 172.0" stroke="#cc5a68" stroke-width="1.20" fill="none" stroke-linejoin="round" />
<path d="M31.6 172.6 L32.5 169.2 L33.4 171.8 L34.3 171.1 L35.2 173.2 L36.1 169.3 L37.0 166.7 L37.9 169.9 L38.8 173.8 L39.7 169.4 L40.6 170.6 L41.5 172.4 L42.4 170.0 L43.3 169.0 L44.2 171.3 L45.1 168.1 L46.0 170.4 L46.9 169.8 L47.8 170.0 L48.7 170.8 L49.6 170.8 L50.5 168.5 L51.4 171.8 L52.3 169.5 L53.2 170.7 L54.1 171.8 L55.0 170.5 L55.9 168.5 L56.8 169.3 L57.7 172.7 L58.6 168.5 L59.5 167.8 L60.4 170.8 L61.3 171.9 L62.2 170.7 L63.1 169.8 L64.0 171.4 L64.9 169.3 L65.8 171.3 L66.7 167.1 L67.6 171.0 L68.5 169.3 L69.4 171.3 L70.3 168.1 L71.2 170.9 L72.1 166.6 L73.0 170.1 L73.9 169.9 L74.8 168.1 L75.7 170.7 L76.6 172.5 L77.5 169.0 L78.4 170.6 L79.3 168.2 L80.2 170.4 L81.1 168.3 L82.0 170.6 L82.9 168.9 L83.8 172.7 L84.7 170.6 L85.6 167.2 L86.5 171.9 L87.4 170.9 L88.3 170.8 L89.2 169.2 L90.1 169.4 L91.0 166.8 L91.9 169.3 L92.8 171.0 L93.7 169.6 L94.6 169.9 L95.5 168.3 L96.4 171.7 L97.3 168.6 L98.2 170.3 L99.1 167.6 L100.0 170.0 L100.9 169.8 L101.8 170.0 L102.7 167.2 L103.6 167.3 L104.5 168.0 L105.4 168.5 L106.3 167.1 L107.2 166.3 L108.1 167.2 L109.0 167.3 L109.9 166.6 L110.8 166.2 L111.7 164.6 L112.6 167.4 L113.5 164.0 L114.4 167.2 L115.3 165.2 L116.2 170.2 L117.1 161.6 L118.0 163.4 L118.9 163.3 L119.8 161.0 L120.7 162.1 L121.6 162.9 L122.5 159.5 L123.4 163.9 L124.3 160.3 L125.2 161.0 L126.1 159.3 L127.0 157.2 L127.9 160.1 L128.8 163.7 L129.7 158.7 L130.6 158.2 L131.5 159.5 L132.4 157.5 L133.3 155.4 L134.2 155.4 L135.1 151.2 L136.0 148.6 L136.9 152.2 L137.8 151.2 L138.7 144.4 L139.6 148.5 L140.5 140.0 L141.4 140.4 L142.3 137.8 L143.2 137.6 L144.1 131.9 L145.0 130.6 L145.9 124.6 L146.8 126.1 L147.7 115.6 L148.6 117.2 L149.5 106.6 L150.4 104.9 L151.3 101.3 L152.2 101.5 L153.1 98.7 L154.0 103.9 L154.9 108.4 L155.8 117.0 L156.7 123.6 L157.6 130.3 L158.5 143.0 L159.4 145.7 L160.3 150.1 L161.2 154.7 L162.1 161.2 L163.0 164.0 L163.9 165.3 L164.8 165.2 L165.7 168.1 L166.6 167.0 L167.5 173.8 L168.4 169.8 L169.3 169.4 L170.2 171.3 L171.1 170.6 L172.0 171.0 L172.9 169.9 L173.8 171.9 L174.7 169.9 L175.6 171.6 L176.5 173.1 L177.4 170.7 L178.3 170.9 L179.2 171.7 L180.1 170.1 L181.0 172.0 L181.9 169.5 L182.8 171.8 L183.7 170.4 L184.6 172.2 L185.5 170.5 L186.4 173.0 L187.3 170.2 L188.2 172.5 L189.1 173.0 L190.0 173.7 L190.9 171.4 L191.8 172.8 L192.7 171.3 L193.6 171.8 L194.5 170.9 L195.4 169.6 L196.3 171.8 L197.2 171.5 L198.1 169.0 L199.0 172.4 L199.9 172.5 L200.8 172.4 L201.7 171.7 L202.6 172.2 L203.5 171.0 L204.4 172.3 L205.3 173.4 L206.2 170.3 L207.1 171.6 L208.0 171.7 L208.9 171.1 L209.8 172.4 L210.7 167.5 L211.6 172.9 L212.5 172.0 L213.4 172.3 L214.3 171.0 L215.2 168.6 L216.1 171.3 L217.0 171.8 L217.9 171.7 L218.8 170.5 L219.7 170.5 L220.6 172.5 L221.5 170.5 L222.4 173.2 L223.3 170.8 L224.2 173.1 L225.1 172.7 L226.0 175.0 L226.9 173.9 L227.8 171.0 L228.7 174.1 L229.6 173.4 L230.5 169.5 L231.4 173.1 L232.3 170.7 L233.2 172.8 L234.1 172.2 L235.0 173.6 L235.9 170.1 L236.8 171.4" stroke="#3c3c3c" stroke-width="0.90" fill="none" stroke-linejoin="round" />
<line x1="150.00" y1="19.50" x2="150.00" y2="120.00" stroke="#444" stroke-width="1.1" stroke-dasharray="1.1 1.5"/>
<line x1="142.40" y1="49.90" x2="142.40" y2="141.00" stroke="#444" stroke-width="1.1" stroke-dasharray="1.1 1.5"/>
<line x1="126.10" y1="60.50" x2="126.10" y2="158.00" stroke="#444" stroke-width="1.1" stroke-dasharray="1.1 1.5"/>
<rect x="327.10" y="1.70" width="255.80" height="181.00" fill="none" stroke="#2e2e2e" stroke-width="1.4"/>
<path d="M327.10 182.70V185.10M337.76 182.70V185.10M359.08 182.70V185.10M369.74 182.70V185.10M380.40 182.70V185.10M391.06 182.70V185.10M412.38 182.70V185.10M423.04 182.70V185.10M433.70 182.70V185.10M444.36 182.70V185.10M465.68 182.70V185.10M476.34 182.70V185.10M487.00 182.70V185.10M497.66 182.70V185.10M518.98 182.70V185.10M529.64 182.70V185.10M540.30 182.70V185.10M550.96 182.70V185.10M572.28 182.70V185.10M582.94 182.70V185.10M348.42 182.70V186.70M401.72 182.70V186.70M455.02 182.70V186.70M508.32 182.70V186.70M561.62 182.70V186.70" stroke="#2e2e2e" stroke-width="1.2"/>
<text x="348.4" y="195.8" font-size="9.40" text-anchor="middle">410</text>
<text x="401.7" y="195.8" font-size="9.40" text-anchor="middle">405</text>
<text x="455.0" y="195.8" font-size="9.40" text-anchor="middle">400</text>
<text x="508.3" y="195.8" font-size="9.40" text-anchor="middle">395</text>
<text x="561.6" y="195.8" font-size="9.40" text-anchor="middle">390</text>
<text transform="translate(311.2 88.0) rotate(-90)" x="-47.1" font-size="9.30" textLength="94.3" lengthAdjust="spacingAndGlyphs">XPS intensity (arb unit)</text>
<text x="456.1" y="210.4" font-size="9.60" text-anchor="middle" textLength="80.8" lengthAdjust="spacingAndGlyphs">Binding energy (eV)</text>
<text x="333.0" y="14.0" font-size="10.30">(B)</text>
<text x="333.2" y="26.0" font-size="10.30">N 1s</text>
<text x="578.8" y="14.8" font-size="10.50" text-anchor="end" textLength="58" lengthAdjust="spacingAndGlyphs">a-HCl+BAIL1</text>
<text x="578.8" y="27.0" font-size="10.50" text-anchor="end" textLength="58" lengthAdjust="spacingAndGlyphs">b-HCl+BAIL2</text>
<text x="448.6" y="14.4" font-size="10.3">-NR<tspan font-size="6.6" dx="-0.3" dy="3.0">3</tspan></text>
<text x="428.4" y="42.2" font-size="10.3">NR<tspan font-size="6.6" dx="-0.4" dy="3.2">4</tspan><tspan font-size="6.8" dx="-0.2" dy="-9.2">+</tspan></text>
<text x="559.0" y="93.4" font-size="10.00" text-anchor="middle">b</text>
<text x="559.6" y="161.4" font-size="10.00" text-anchor="middle">a</text>
<path d="M331.3 90.9 L332.2 100.4 L333.2 99.8 L334.1 83.1 L335.1 78.3 L336.0 91.0 L337.0 92.9 L337.9 99.3 L338.9 95.7 L339.8 95.3 L340.8 104.4 L341.7 90.2 L342.7 93.1 L343.6 91.3 L344.6 100.7 L345.5 87.8 L346.5 97.2 L347.4 84.1 L348.4 96.7 L349.3 91.5 L350.3 88.1 L351.2 79.9 L352.2 93.6 L353.1 85.0 L354.1 97.6 L355.0 91.7 L356.0 108.2 L356.9 90.9 L357.9 91.3 L358.8 88.6 L359.8 92.4 L360.7 108.1 L361.7 95.9 L362.6 87.0 L363.6 91.1 L364.5 87.8 L365.5 100.4 L366.4 79.8 L367.4 93.1 L368.3 92.5 L369.3 98.8 L370.2 87.1 L371.2 96.2 L372.1 85.3 L373.1 97.5 L374.0 83.8 L375.0 97.2 L375.9 92.5 L376.9 98.1 L377.8 88.1 L378.8 93.0 L379.7 97.4 L380.7 101.3 L381.6 90.6 L382.6 94.8 L383.5 87.3 L384.5 105.6 L385.4 90.8 L386.4 92.9 L387.3 93.3 L388.3 83.7 L389.2 79.4 L390.2 94.9 L391.1 84.0 L392.1 98.0 L393.0 102.7 L394.0 96.1 L394.9 96.2 L395.9 93.8 L396.8 81.6 L397.8 96.3 L398.7 79.5 L399.7 98.6 L400.6 79.4 L401.6 91.8 L402.5 85.4 L403.5 92.0 L404.4 108.0 L405.4 88.3 L406.3 91.0 L407.3 84.3 L408.2 82.9 L409.2 94.9 L410.1 87.8 L411.1 104.2 L412.0 87.5 L413.0 86.2 L413.9 88.9 L414.9 98.8 L415.8 102.9 L416.8 92.4 L417.7 84.3 L418.7 101.3 L419.6 92.0 L420.6 98.3 L421.5 90.2 L422.5 95.9 L423.4 95.1 L424.4 94.1 L425.3 95.2 L426.3 94.1 L427.2 82.7 L428.2 102.7 L429.1 88.1 L430.1 83.4 L431.0 84.0 L432.0 85.3 L432.9 88.1 L433.9 107.6 L434.8 78.5 L435.8 86.8 L436.7 74.0 L437.7 79.1 L438.6 69.4 L439.6 80.6 L440.5 78.4 L441.5 95.8 L442.4 71.1 L443.4 83.6 L444.3 71.4 L445.3 88.4 L446.2 77.0 L447.2 96.7 L448.1 78.2 L449.1 86.3 L450.0 73.2 L451.0 81.9 L451.9 77.7 L452.9 75.4 L453.8 64.8 L454.8 72.0 L455.7 57.6 L456.7 61.9 L457.6 71.0 L458.6 55.3 L459.5 46.5 L460.5 59.9 L461.4 60.7 L462.4 60.0 L463.3 65.6 L464.3 79.2 L465.2 70.5 L466.2 79.4 L467.1 99.7 L468.1 90.5 L469.0 97.0 L470.0 83.0 L470.9 83.9 L471.9 98.2 L472.8 94.3 L473.8 91.9 L474.7 82.7 L475.7 86.6 L476.6 89.7 L477.6 96.9 L478.5 87.3 L479.5 104.1 L480.4 94.9 L481.4 93.0 L482.3 88.6 L483.3 90.6 L484.2 86.4 L485.2 90.6 L486.1 85.0 L487.1 96.6 L488.0 83.2 L489.0 87.0 L489.9 93.2 L490.9 106.1 L491.8 90.7 L492.8 87.3 L493.7 91.7 L494.7 96.8 L495.6 89.6 L496.6 95.6 L497.5 86.4 L498.5 102.5 L499.4 91.9 L500.4 96.5 L501.3 83.8 L502.3 94.2 L503.2 103.2 L504.2 96.4 L505.1 88.1 L506.1 103.2 L507.0 83.2 L508.0 86.4 L508.9 87.7 L509.9 101.4 L510.8 89.5 L511.8 98.7 L512.7 87.9 L513.7 103.8 L514.6 91.7 L515.6 107.6 L516.5 79.1 L517.5 98.4 L518.4 86.6 L519.4 95.9 L520.3 90.3 L521.3 98.7 L522.2 89.5 L523.2 89.7 L524.1 92.5 L525.1 100.7 L526.0 84.6 L527.0 94.3 L527.9 93.1 L528.9 95.0 L529.8 86.4 L530.8 86.3 L531.7 84.3 L532.7 94.5 L533.6 85.9 L534.6 89.6 L535.5 94.3 L536.5 97.1 L537.4 86.2 L538.4 99.4 L539.3 81.4 L540.3 97.6 L541.2 104.8 L542.2 102.7 L543.1 89.3 L544.1 96.7" stroke="#e0acE0" stroke-width="0.90" fill="none" stroke-linejoin="round" />
<path d="M331.3 99.2 L331.8 99.2 L332.3 99.2 L332.8 99.1 L333.3 99.1 L333.8 99.1 L334.3 99.1 L334.8 99.1 L335.3 99.0 L335.8 99.0 L336.3 99.0 L336.8 99.0 L337.3 99.0 L337.8 98.9 L338.3 98.9 L338.8 98.9 L339.3 98.9 L339.8 98.9 L340.3 98.8 L340.8 98.8 L341.3 98.8 L341.8 98.8 L342.3 98.8 L342.8 98.7 L343.3 98.7 L343.8 98.7 L344.3 98.7 L344.8 98.6 L345.3 98.6 L345.8 98.6 L346.3 98.6 L346.8 98.6 L347.3 98.5 L347.8 98.5 L348.3 98.5 L348.8 98.5 L349.3 98.5 L349.8 98.4 L350.3 98.4 L350.8 98.4 L351.3 98.4 L351.8 98.4 L352.3 98.3 L352.8 98.3 L353.3 98.3 L353.8 98.3 L354.3 98.3 L354.8 98.2 L355.3 98.2 L355.8 98.2 L356.3 98.2 L356.8 98.1 L357.3 98.1 L357.8 98.1 L358.3 98.1 L358.8 98.1 L359.3 98.0 L359.8 98.0 L360.3 98.0 L360.8 98.0 L361.3 98.0 L361.8 97.9 L362.3 97.9 L362.8 97.9 L363.3 97.9 L363.8 97.9 L364.3 97.8 L364.8 97.8 L365.3 97.8 L365.8 97.8 L366.3 97.8 L366.8 97.7 L367.3 97.7 L367.8 97.7 L368.3 97.7 L368.8 97.6 L369.3 97.6 L369.8 97.6 L370.3 97.6 L370.8 97.6 L371.3 97.5 L371.8 97.5 L372.3 97.5 L372.8 97.5 L373.3 97.5 L373.8 97.4 L374.3 97.4 L374.8 97.4 L375.3 97.4 L375.8 97.4 L376.3 97.3 L376.8 97.3 L377.3 97.3 L377.8 97.3 L378.3 97.2 L378.8 97.2 L379.3 97.2 L379.8 97.2 L380.3 97.2 L380.8 97.1 L381.3 97.1 L381.8 97.1 L382.3 97.1 L382.8 97.1 L383.3 97.0 L383.8 97.0 L384.3 97.0 L384.8 97.0 L385.3 97.0 L385.8 96.9 L386.3 96.9 L386.8 96.9 L387.3 96.9 L387.8 96.8 L388.3 96.8 L388.8 96.8 L389.3 96.8 L389.8 96.8 L390.3 96.7 L390.8 96.7 L391.3 96.7 L391.8 96.7 L392.3 96.7 L392.8 96.6 L393.3 96.6 L393.8 96.6 L394.3 96.6 L394.8 96.6 L395.3 96.5 L395.8 96.5 L396.3 96.5 L396.8 96.5 L397.3 96.4 L397.8 96.4 L398.3 96.4 L398.8 96.4 L399.3 96.4 L399.8 96.3 L400.3 96.3 L400.8 96.3 L401.3 96.3 L401.8 96.3 L402.3 96.2 L402.8 96.2 L403.3 96.2 L403.8 96.2 L404.3 96.2 L404.8 96.1 L405.3 96.1 L405.8 96.1 L406.3 96.1 L406.8 96.0 L407.3 96.0 L407.8 96.0 L408.3 96.0 L408.8 96.0 L409.3 95.9 L409.8 95.9 L410.3 95.9 L410.8 95.9 L411.3 95.9 L411.8 95.8 L412.3 95.8 L412.8 95.8 L413.3 95.8 L413.8 95.8 L414.3 95.7 L414.8 95.7 L415.3 95.7 L415.8 95.7 L416.3 95.7 L416.8 95.6 L417.3 95.6 L417.8 95.6 L418.3 95.6 L418.8 95.5 L419.3 95.5 L419.8 95.5 L420.3 95.5 L420.8 95.5 L421.3 95.4 L421.8 95.4 L422.3 95.4 L422.8 95.4 L423.3 95.4 L423.8 95.3 L424.3 95.3 L424.8 95.3 L425.3 95.3 L425.8 95.3 L426.3 95.2 L426.8 95.2 L427.3 95.2 L427.8 95.2 L428.3 95.2 L428.8 95.1 L429.3 95.1 L429.8 95.1 L430.3 95.1 L430.8 95.0 L431.3 95.0 L431.8 95.0 L432.3 95.0 L432.8 95.0 L433.3 94.9 L433.8 94.9 L434.3 94.9 L434.8 94.9 L435.3 94.9 L435.8 94.8 L436.3 94.8 L436.8 94.8 L437.3 94.8 L437.8 94.8 L438.3 94.7 L438.8 94.7 L439.3 94.7 L439.8 94.7 L440.3 94.7 L440.8 94.6 L441.3 94.6 L441.8 94.6 L442.3 94.6 L442.8 94.6 L443.3 94.5 L443.8 94.5 L444.3 94.5 L444.8 94.5 L445.3 94.4 L445.8 94.4 L446.3 94.4 L446.8 94.4 L447.3 94.4 L447.8 94.3 L448.3 94.3 L448.8 94.3 L449.3 94.3 L449.8 94.3 L450.3 94.2 L450.8 94.2 L451.3 94.2 L451.8 94.2 L452.3 94.2 L452.8 94.1 L453.3 94.1 L453.8 94.1 L454.3 94.1 L454.8 94.1 L455.3 94.0 L455.8 94.0 L456.3 94.0 L456.8 94.0 L457.3 94.0 L457.8 93.9 L458.3 93.9 L458.8 93.9 L459.3 93.9 L459.8 93.9 L460.3 93.8 L460.8 93.8 L461.3 93.8 L461.8 93.8 L462.3 93.8 L462.8 93.7 L463.3 93.7 L463.8 93.7 L464.3 93.7 L464.8 93.7 L465.3 93.6 L465.8 93.6 L466.3 93.6 L466.8 93.6 L467.3 93.6 L467.8 93.5 L468.3 93.5 L468.8 93.5 L469.3 93.5 L469.8 93.5 L470.3 93.4 L470.8 93.4 L471.3 93.4 L471.8 93.4 L472.3 93.4 L472.8 93.3 L473.3 93.3 L473.8 93.3 L474.3 93.3 L474.8 93.3 L475.3 93.2 L475.8 93.2 L476.3 93.2 L476.8 93.2 L477.3 93.2 L477.8 93.1 L478.3 93.1 L478.8 93.1 L479.3 93.1 L479.8 93.1 L480.3 93.0 L480.8 93.0 L481.3 93.0 L481.8 93.0 L482.3 93.0 L482.8 92.9 L483.3 92.9 L483.8 92.9 L484.3 92.9 L484.8 92.9 L485.3 92.8 L485.8 92.8 L486.3 92.8 L486.8 92.8 L487.3 92.8 L487.8 92.7 L488.3 92.7 L488.8 92.7 L489.3 92.7 L489.8 92.7 L490.3 92.6 L490.8 92.6 L491.3 92.6 L491.8 92.6 L492.3 92.6 L492.8 92.5 L493.3 92.5 L493.8 92.5 L494.3 92.5 L494.8 92.5 L495.3 92.4 L495.8 92.4 L496.3 92.4 L496.8 92.4 L497.3 92.4 L497.8 92.3 L498.3 92.3 L498.8 92.3 L499.3 92.3 L499.8 92.3 L500.3 92.3 L500.8 92.2 L501.3 92.2 L501.8 92.2 L502.3 92.2 L502.8 92.2 L503.3 92.1 L503.8 92.1 L504.3 92.1 L504.8 92.1 L505.3 92.1 L505.8 92.0 L506.3 92.0 L506.8 92.0 L507.3 92.0 L507.8 92.0 L508.3 91.9 L508.8 91.9 L509.3 91.9 L509.8 91.9 L510.3 91.9 L510.8 91.8 L511.3 91.8 L511.8 91.8 L512.3 91.8 L512.8 91.8 L513.3 91.8 L513.8 91.7 L514.3 91.7 L514.8 91.7 L515.3 91.7 L515.8 91.7 L516.3 91.6 L516.8 91.6 L517.3 91.6 L517.8 91.6 L518.3 91.6 L518.8 91.5 L519.3 91.5 L519.8 91.5 L520.3 91.5 L520.8 91.5 L521.3 91.5 L521.8 91.4 L522.3 91.4 L522.8 91.4 L523.3 91.4 L523.8 91.4 L524.3 91.3 L524.8 91.3 L525.3 91.3 L525.8 91.3 L526.3 91.3 L526.8 91.3 L527.3 91.2 L527.8 91.2 L528.3 91.2 L528.8 91.2 L529.3 91.2 L529.8 91.1 L530.3 91.1 L530.8 91.1 L531.3 91.1 L531.8 91.1 L532.3 91.0 L532.8 91.0 L533.3 91.0 L533.8 91.0 L534.3 91.0 L534.8 91.0 L535.3 90.9 L535.8 90.9 L536.3 90.9 L536.8 90.9 L537.3 90.9 L537.8 90.8 L538.3 90.8 L538.8 90.8 L539.3 90.8 L539.8 90.8 L540.3 90.8 L540.8 90.7 L541.3 90.7 L541.8 90.7 L542.3 90.7 L542.8 90.7 L543.3 90.7 L543.8 90.6" stroke="#cdd6a4" stroke-width="0.80" fill="none" stroke-linejoin="round" />
<path d="M331.3 98.0 L331.8 97.9 L332.3 97.9 L332.8 97.9 L333.3 97.9 L333.8 97.9 L334.3 97.8 L334.8 97.8 L335.3 97.8 L335.8 97.8 L336.3 97.8 L336.8 97.7 L337.3 97.7 L337.8 97.7 L338.3 97.7 L338.8 97.7 L339.3 97.6 L339.8 97.6 L340.3 97.6 L340.8 97.6 L341.3 97.5 L341.8 97.5 L342.3 97.5 L342.8 97.5 L343.3 97.5 L343.8 97.4 L344.3 97.4 L344.8 97.4 L345.3 97.4 L345.8 97.4 L346.3 97.3 L346.8 97.3 L347.3 97.3 L347.8 97.3 L348.3 97.3 L348.8 97.2 L349.3 97.2 L349.8 97.2 L350.3 97.2 L350.8 97.1 L351.3 97.1 L351.8 97.1 L352.3 97.1 L352.8 97.1 L353.3 97.0 L353.8 97.0 L354.3 97.0 L354.8 97.0 L355.3 97.0 L355.8 96.9 L356.3 96.9 L356.8 96.9 L357.3 96.9 L357.8 96.8 L358.3 96.8 L358.8 96.8 L359.3 96.8 L359.8 96.8 L360.3 96.7 L360.8 96.7 L361.3 96.7 L361.8 96.7 L362.3 96.6 L362.8 96.6 L363.3 96.6 L363.8 96.6 L364.3 96.6 L364.8 96.5 L365.3 96.5 L365.8 96.5 L366.3 96.5 L366.8 96.5 L367.3 96.4 L367.8 96.4 L368.3 96.4 L368.8 96.4 L369.3 96.3 L369.8 96.3 L370.3 96.3 L370.8 96.3 L371.3 96.3 L371.8 96.2 L372.3 96.2 L372.8 96.2 L373.3 96.2 L373.8 96.1 L374.3 96.1 L374.8 96.1 L375.3 96.1 L375.8 96.1 L376.3 96.0 L376.8 96.0 L377.3 96.0 L377.8 96.0 L378.3 95.9 L378.8 95.9 L379.3 95.9 L379.8 95.9 L380.3 95.9 L380.8 95.8 L381.3 95.8 L381.8 95.8 L382.3 95.8 L382.8 95.7 L383.3 95.7 L383.8 95.7 L384.3 95.7 L384.8 95.7 L385.3 95.6 L385.8 95.6 L386.3 95.6 L386.8 95.6 L387.3 95.5 L387.8 95.5 L388.3 95.5 L388.8 95.5 L389.3 95.4 L389.8 95.4 L390.3 95.4 L390.8 95.4 L391.3 95.4 L391.8 95.3 L392.3 95.3 L392.8 95.3 L393.3 95.3 L393.8 95.2 L394.3 95.2 L394.8 95.2 L395.3 95.2 L395.8 95.1 L396.3 95.1 L396.8 95.1 L397.3 95.1 L397.8 95.0 L398.3 95.0 L398.8 95.0 L399.3 95.0 L399.8 94.9 L400.3 94.9 L400.8 94.9 L401.3 94.9 L401.8 94.8 L402.3 94.8 L402.8 94.8 L403.3 94.8 L403.8 94.7 L404.3 94.7 L404.8 94.7 L405.3 94.7 L405.8 94.6 L406.3 94.6 L406.8 94.6 L407.3 94.6 L407.8 94.5 L408.3 94.5 L408.8 94.5 L409.3 94.5 L409.8 94.4 L410.3 94.4 L410.8 94.4 L411.3 94.3 L411.8 94.3 L412.3 94.3 L412.8 94.3 L413.3 94.2 L413.8 94.2 L414.3 94.2 L414.8 94.1 L415.3 94.1 L415.8 94.1 L416.3 94.0 L416.8 94.0 L417.3 94.0 L417.8 93.9 L418.3 93.9 L418.8 93.9 L419.3 93.8 L419.8 93.8 L420.3 93.8 L420.8 93.7 L421.3 93.7 L421.8 93.6 L422.3 93.6 L422.8 93.5 L423.3 93.5 L423.8 93.5 L424.3 93.4 L424.8 93.4 L425.3 93.3 L425.8 93.2 L426.3 93.2 L426.8 93.1 L427.3 93.0 L427.8 92.9 L428.3 92.9 L428.8 92.7 L429.3 92.6 L429.8 92.4 L430.3 92.2 L430.8 91.9 L431.3 91.6 L431.8 91.2 L432.3 90.7 L432.8 90.0 L433.3 89.2 L433.8 88.3 L434.3 87.3 L434.8 86.1 L435.3 84.7 L435.8 83.2 L436.3 81.7 L436.8 80.1 L437.3 78.5 L437.8 77.0 L438.3 75.7 L438.8 74.6 L439.3 73.8 L439.8 73.4 L440.3 73.4 L440.8 73.8 L441.3 74.6 L441.8 75.6 L442.3 76.8 L442.8 78.1 L443.3 79.5 L443.8 80.8 L444.3 82.1 L444.8 83.2 L445.3 84.2 L445.8 85.0 L446.3 85.6 L446.8 86.0 L447.3 86.2 L447.8 86.1 L448.3 85.9 L448.8 85.5 L449.3 84.8 L449.8 84.0 L450.3 83.0 L450.8 81.8 L451.3 80.4 L451.8 78.8 L452.3 77.0 L452.8 75.1 L453.3 73.1 L453.8 70.9 L454.3 68.6 L454.8 66.2 L455.3 63.9 L455.8 61.5 L456.3 59.3 L456.8 57.3 L457.3 55.5 L457.8 54.0 L458.3 53.0 L458.8 52.5 L459.3 52.4 L459.8 52.9 L460.3 53.8 L460.8 55.2 L461.3 56.9 L461.8 58.9 L462.3 61.1 L462.8 63.4 L463.3 65.8 L463.8 68.1 L464.3 70.4 L464.8 72.6 L465.3 74.7 L465.8 76.6 L466.3 78.4 L466.8 80.1 L467.3 81.5 L467.8 82.8 L468.3 84.0 L468.8 85.0 L469.3 85.9 L469.8 86.6 L470.3 87.3 L470.8 87.8 L471.3 88.3 L471.8 88.7 L472.3 89.0 L472.8 89.3 L473.3 89.5 L473.8 89.7 L474.3 89.8 L474.8 90.0 L475.3 90.1 L475.8 90.2 L476.3 90.3 L476.8 90.4 L477.3 90.4 L477.8 90.5 L478.3 90.5 L478.8 90.6 L479.3 90.6 L479.8 90.6 L480.3 90.7 L480.8 90.7 L481.3 90.7 L481.8 90.8 L482.3 90.8 L482.8 90.8 L483.3 90.8 L483.8 90.8 L484.3 90.8 L484.8 90.8 L485.3 90.9 L485.8 90.9 L486.3 90.9 L486.8 90.9 L487.3 90.9 L487.8 90.9 L488.3 90.9 L488.8 90.9 L489.3 90.9 L489.8 90.9 L490.3 90.9 L490.8 90.9 L491.3 90.9 L491.8 90.9 L492.3 90.9 L492.8 90.9 L493.3 90.9 L493.8 90.8 L494.3 90.8 L494.8 90.8 L495.3 90.8 L495.8 90.8 L496.3 90.8 L496.8 90.8 L497.3 90.8 L497.8 90.8 L498.3 90.8 L498.8 90.8 L499.3 90.7 L499.8 90.7 L500.3 90.7 L500.8 90.7 L501.3 90.7 L501.8 90.7 L502.3 90.7 L502.8 90.7 L503.3 90.6 L503.8 90.6 L504.3 90.6 L504.8 90.6 L505.3 90.6 L505.8 90.6 L506.3 90.6 L506.8 90.6 L507.3 90.5 L507.8 90.5 L508.3 90.5 L508.8 90.5 L509.3 90.5 L509.8 90.5 L510.3 90.5 L510.8 90.4 L511.3 90.4 L511.8 90.4 L512.3 90.4 L512.8 90.4 L513.3 90.4 L513.8 90.3 L514.3 90.3 L514.8 90.3 L515.3 90.3 L515.8 90.3 L516.3 90.3 L516.8 90.3 L517.3 90.2 L517.8 90.2 L518.3 90.2 L518.8 90.2 L519.3 90.2 L519.8 90.2 L520.3 90.1 L520.8 90.1 L521.3 90.1 L521.8 90.1 L522.3 90.1 L522.8 90.1 L523.3 90.0 L523.8 90.0 L524.3 90.0 L524.8 90.0 L525.3 90.0 L525.8 90.0 L526.3 89.9 L526.8 89.9 L527.3 89.9 L527.8 89.9 L528.3 89.9 L528.8 89.9 L529.3 89.8 L529.8 89.8 L530.3 89.8 L530.8 89.8 L531.3 89.8 L531.8 89.8 L532.3 89.7 L532.8 89.7 L533.3 89.7 L533.8 89.7 L534.3 89.7 L534.8 89.7 L535.3 89.6 L535.8 89.6 L536.3 89.6 L536.8 89.6 L537.3 89.6 L537.8 89.6 L538.3 89.5 L538.8 89.5 L539.3 89.5 L539.8 89.5 L540.3 89.5 L540.8 89.5 L541.3 89.4 L541.8 89.4 L542.3 89.4 L542.8 89.4 L543.3 89.4 L543.8 89.4" stroke="#9a6890" stroke-width="0.90" fill="none" stroke-linejoin="round" />
<path d="M334.6 154.3 L335.1 154.3 L335.6 154.3 L336.1 154.3 L336.6 154.3 L337.1 154.3 L337.6 154.3 L338.1 154.3 L338.6 154.3 L339.1 154.3 L339.6 154.3 L340.1 154.3 L340.6 154.3 L341.1 154.3 L341.6 154.3 L342.1 154.3 L342.6 154.3 L343.1 154.3 L343.6 154.3 L344.1 154.3 L344.6 154.3 L345.1 154.3 L345.6 154.3 L346.1 154.3 L346.6 154.3 L347.1 154.3 L347.6 154.3 L348.1 154.3 L348.6 154.3 L349.1 154.3 L349.6 154.3 L350.1 154.3 L350.6 154.3 L351.1 154.3 L351.6 154.3 L352.1 154.3 L352.6 154.3 L353.1 154.3 L353.6 154.3 L354.1 154.3 L354.6 154.3 L355.1 154.3 L355.6 154.3 L356.1 154.3 L356.6 154.3 L357.1 154.3 L357.6 154.3 L358.1 154.3 L358.6 154.3 L359.1 154.3 L359.6 154.3 L360.1 154.3 L360.6 154.3 L361.1 154.3 L361.6 154.3 L362.1 154.3 L362.6 154.3 L363.1 154.3 L363.6 154.3 L364.1 154.3 L364.6 154.3 L365.1 154.3 L365.6 154.3 L366.1 154.3 L366.6 154.3 L367.1 154.3 L367.6 154.3 L368.1 154.3 L368.6 154.3 L369.1 154.3 L369.6 154.3 L370.1 154.3 L370.6 154.3 L371.1 154.3 L371.6 154.3 L372.1 154.3 L372.6 154.3 L373.1 154.3 L373.6 154.3 L374.1 154.3 L374.6 154.3 L375.1 154.3 L375.6 154.3 L376.1 154.3 L376.6 154.3 L377.1 154.3 L377.6 154.3 L378.1 154.3 L378.6 154.3 L379.1 154.3 L379.6 154.3 L380.1 154.3 L380.6 154.3 L381.1 154.3 L381.6 154.3 L382.1 154.3 L382.6 154.3 L383.1 154.3 L383.6 154.3 L384.1 154.3 L384.6 154.3 L385.1 154.3 L385.6 154.3 L386.1 154.3 L386.6 154.3 L387.1 154.3 L387.6 154.3 L388.1 154.3 L388.6 154.3 L389.1 154.3 L389.6 154.3 L390.1 154.3 L390.6 154.3 L391.1 154.3 L391.6 154.3 L392.1 154.3 L392.6 154.3 L393.1 154.3 L393.6 154.3 L394.1 154.3 L394.6 154.3 L395.1 154.3 L395.6 154.3 L396.1 154.3 L396.6 154.3 L397.1 154.3 L397.6 154.3 L398.1 154.3 L398.6 154.3 L399.1 154.3 L399.6 154.3 L400.1 154.3 L400.6 154.3 L401.1 154.3 L401.6 154.3 L402.1 154.3 L402.6 154.3 L403.1 154.3 L403.6 154.3 L404.1 154.3 L404.6 154.3 L405.1 154.3 L405.6 154.3 L406.1 154.3 L406.6 154.3 L407.1 154.3 L407.6 154.3 L408.1 154.3 L408.6 154.3 L409.1 154.3 L409.6 154.3 L410.1 154.3 L410.6 154.3 L411.1 154.3 L411.6 154.3 L412.1 154.3 L412.6 154.3 L413.1 154.3 L413.6 154.3 L414.1 154.3 L414.6 154.3 L415.1 154.3 L415.6 154.3 L416.1 154.3 L416.6 154.3 L417.1 154.3 L417.6 154.3 L418.1 154.3 L418.6 154.3 L419.1 154.3 L419.6 154.3 L420.1 154.3 L420.6 154.3 L421.1 154.3 L421.6 154.3 L422.1 154.3 L422.6 154.3 L423.1 154.3 L423.6 154.3 L424.1 154.3 L424.6 154.3 L425.1 154.3 L425.6 154.3 L426.1 154.3 L426.6 154.3 L427.1 154.3 L427.6 154.3 L428.1 154.3 L428.6 154.3 L429.1 154.3 L429.6 154.3 L430.1 154.3 L430.6 154.3 L431.1 154.3 L431.6 154.3 L432.1 154.3 L432.6 154.3 L433.1 154.3 L433.6 154.3 L434.1 154.3 L434.6 154.3 L435.1 154.3 L435.6 154.3 L436.1 154.3 L436.6 154.3 L437.1 154.3 L437.6 154.3 L438.1 154.3 L438.6 154.3 L439.1 154.3 L439.6 154.3 L440.1 154.3 L440.6 154.3 L441.1 154.3 L441.6 154.3 L442.1 154.3 L442.6 154.3 L443.1 154.3 L443.6 154.3 L444.1 154.3 L444.6 154.3 L445.1 154.3 L445.6 154.3 L446.1 154.3 L446.6 154.3 L447.1 154.3 L447.6 154.3 L448.1 154.3 L448.6 154.3 L449.1 154.3 L449.6 154.3 L450.1 154.3 L450.6 154.3 L451.1 154.3 L451.6 154.3 L452.1 154.3 L452.6 154.3 L453.1 154.3 L453.6 154.3 L454.1 154.3 L454.6 154.3 L455.1 154.3 L455.6 154.3 L456.1 154.3 L456.6 154.3 L457.1 154.3 L457.6 154.3 L458.1 154.3 L458.6 154.3 L459.1 154.3 L459.6 154.3 L460.1 154.3 L460.6 154.3 L461.1 154.3 L461.6 154.3 L462.1 154.3 L462.6 154.3 L463.1 154.3 L463.6 154.3 L464.1 154.3 L464.6 154.3 L465.1 154.3 L465.6 154.3 L466.1 154.3 L466.6 154.3 L467.1 154.3 L467.6 154.3 L468.1 154.3 L468.6 154.3 L469.1 154.3 L469.6 154.3 L470.1 154.3 L470.6 154.3 L471.1 154.3 L471.6 154.3 L472.1 154.3 L472.6 154.3 L473.1 154.3 L473.6 154.3 L474.1 154.3 L474.6 154.3 L475.1 154.3 L475.6 154.3 L476.1 154.3 L476.6 154.3 L477.1 154.3 L477.6 154.3 L478.1 154.3 L478.6 154.3 L479.1 154.3 L479.6 154.3 L480.1 154.3 L480.6 154.3 L481.1 154.3 L481.6 154.3 L482.1 154.3 L482.6 154.3 L483.1 154.3 L483.6 154.3 L484.1 154.3 L484.6 154.3 L485.1 154.3 L485.6 154.3 L486.1 154.3 L486.6 154.3 L487.1 154.3 L487.6 154.3 L488.1 154.3 L488.6 154.3 L489.1 154.3 L489.6 154.3 L490.1 154.3 L490.6 154.3 L491.1 154.3 L491.6 154.3 L492.1 154.3 L492.6 154.3 L493.1 154.3 L493.6 154.3 L494.1 154.3 L494.6 154.3 L495.1 154.3 L495.6 154.3 L496.1 154.3 L496.6 154.3 L497.1 154.3 L497.6 154.3 L498.1 154.3 L498.6 154.3 L499.1 154.3 L499.6 154.3 L500.1 154.3 L500.6 154.3 L501.1 154.3 L501.6 154.3 L502.1 154.3 L502.6 154.3 L503.1 154.3 L503.6 154.3 L504.1 154.3 L504.6 154.3 L505.1 154.3 L505.6 154.3 L506.1 154.3 L506.6 154.3 L507.1 154.3 L507.6 154.3 L508.1 154.3 L508.6 154.3 L509.1 154.3 L509.6 154.3 L510.1 154.3 L510.6 154.3 L511.1 154.3 L511.6 154.3 L512.1 154.3 L512.6 154.3 L513.1 154.3 L513.6 154.3 L514.1 154.3 L514.6 154.3 L515.1 154.3 L515.6 154.3 L516.1 154.3 L516.6 154.3 L517.1 154.3 L517.6 154.3 L518.1 154.3 L518.6 154.3 L519.1 154.3 L519.6 154.3 L520.1 154.3 L520.6 154.3 L521.1 154.3 L521.6 154.3 L522.1 154.3 L522.6 154.3 L523.1 154.3 L523.6 154.3 L524.1 154.3 L524.6 154.3 L525.1 154.3 L525.6 154.3 L526.1 154.3 L526.6 154.3 L527.1 154.3 L527.6 154.3 L528.1 154.3 L528.6 154.3 L529.1 154.3 L529.6 154.3 L530.1 154.3 L530.6 154.3 L531.1 154.3 L531.6 154.3 L532.1 154.3 L532.6 154.3 L533.1 154.3 L533.6 154.3 L534.1 154.3 L534.6 154.3 L535.1 154.3 L535.6 154.3 L536.1 154.3 L536.6 154.3 L537.1 154.3 L537.6 154.3 L538.1 154.3 L538.6 154.3 L539.1 154.3 L539.6 154.3 L540.1 154.3 L540.6 154.3 L541.1 154.3 L541.6 154.3 L542.1 154.3 L542.6 154.3 L543.1 154.3 L543.6 154.3 L544.1 154.3 L544.6 154.3 L545.1 154.3 L545.6 154.3 L546.1 154.3 L546.6 154.3 L547.1 154.3 L547.6 154.3 L548.1 154.3" stroke="#c0e0a0" stroke-width="0.80" fill="none" stroke-linejoin="round" />
<path d="M334.6 154.3 L335.1 154.3 L335.6 154.3 L336.1 154.3 L336.6 154.3 L337.1 154.3 L337.6 154.3 L338.1 154.3 L338.6 154.3 L339.1 154.3 L339.6 154.3 L340.1 154.3 L340.6 154.3 L341.1 154.3 L341.6 154.3 L342.1 154.3 L342.6 154.3 L343.1 154.3 L343.6 154.3 L344.1 154.3 L344.6 154.3 L345.1 154.3 L345.6 154.3 L346.1 154.3 L346.6 154.3 L347.1 154.3 L347.6 154.3 L348.1 154.3 L348.6 154.3 L349.1 154.3 L349.6 154.3 L350.1 154.3 L350.6 154.3 L351.1 154.3 L351.6 154.3 L352.1 154.3 L352.6 154.3 L353.1 154.3 L353.6 154.3 L354.1 154.3 L354.6 154.3 L355.1 154.3 L355.6 154.3 L356.1 154.3 L356.6 154.3 L357.1 154.3 L357.6 154.2 L358.1 154.2 L358.6 154.2 L359.1 154.2 L359.6 154.2 L360.1 154.2 L360.6 154.2 L361.1 154.2 L361.6 154.2 L362.1 154.2 L362.6 154.2 L363.1 154.2 L363.6 154.2 L364.1 154.2 L364.6 154.2 L365.1 154.2 L365.6 154.2 L366.1 154.2 L366.6 154.2 L367.1 154.2 L367.6 154.2 L368.1 154.2 L368.6 154.2 L369.1 154.2 L369.6 154.2 L370.1 154.2 L370.6 154.2 L371.1 154.2 L371.6 154.2 L372.1 154.2 L372.6 154.2 L373.1 154.2 L373.6 154.2 L374.1 154.2 L374.6 154.2 L375.1 154.2 L375.6 154.2 L376.1 154.2 L376.6 154.2 L377.1 154.2 L377.6 154.2 L378.1 154.2 L378.6 154.2 L379.1 154.2 L379.6 154.2 L380.1 154.2 L380.6 154.2 L381.1 154.2 L381.6 154.2 L382.1 154.2 L382.6 154.2 L383.1 154.2 L383.6 154.2 L384.1 154.2 L384.6 154.2 L385.1 154.2 L385.6 154.2 L386.1 154.2 L386.6 154.2 L387.1 154.2 L387.6 154.2 L388.1 154.2 L388.6 154.2 L389.1 154.2 L389.6 154.2 L390.1 154.2 L390.6 154.2 L391.1 154.2 L391.6 154.2 L392.1 154.2 L392.6 154.1 L393.1 154.1 L393.6 154.1 L394.1 154.1 L394.6 154.1 L395.1 154.1 L395.6 154.1 L396.1 154.1 L396.6 154.1 L397.1 154.1 L397.6 154.1 L398.1 154.1 L398.6 154.1 L399.1 154.1 L399.6 154.1 L400.1 154.1 L400.6 154.1 L401.1 154.1 L401.6 154.1 L402.1 154.1 L402.6 154.1 L403.1 154.1 L403.6 154.0 L404.1 154.0 L404.6 154.0 L405.1 154.0 L405.6 154.0 L406.1 154.0 L406.6 154.0 L407.1 154.0 L407.6 154.0 L408.1 154.0 L408.6 154.0 L409.1 153.9 L409.6 153.9 L410.1 153.9 L410.6 153.9 L411.1 153.9 L411.6 153.9 L412.1 153.9 L412.6 153.9 L413.1 153.8 L413.6 153.8 L414.1 153.8 L414.6 153.8 L415.1 153.8 L415.6 153.7 L416.1 153.7 L416.6 153.7 L417.1 153.7 L417.6 153.6 L418.1 153.6 L418.6 153.6 L419.1 153.5 L419.6 153.5 L420.1 153.5 L420.6 153.4 L421.1 153.4 L421.6 153.3 L422.1 153.3 L422.6 153.2 L423.1 153.2 L423.6 153.1 L424.1 153.0 L424.6 152.9 L425.1 152.9 L425.6 152.8 L426.1 152.7 L426.6 152.5 L427.1 152.4 L427.6 152.3 L428.1 152.1 L428.6 152.0 L429.1 151.8 L429.6 151.6 L430.1 151.3 L430.6 151.0 L431.1 150.7 L431.6 150.4 L432.1 150.0 L432.6 149.5 L433.1 149.0 L433.6 148.4 L434.1 147.7 L434.6 146.9 L435.1 146.0 L435.6 145.0 L436.1 143.8 L436.6 142.5 L437.1 141.1 L437.6 139.6 L438.1 138.1 L438.6 136.8 L439.1 135.8 L439.6 135.1 L440.1 135.0 L440.6 135.4 L441.1 136.3 L441.6 137.5 L442.1 139.0 L442.6 140.4 L443.1 141.9 L443.6 143.2 L444.1 144.5 L444.6 145.6 L445.1 146.5 L445.6 147.4 L446.1 148.1 L446.6 148.8 L447.1 149.3 L447.6 149.8 L448.1 150.2 L448.6 150.6 L449.1 150.9 L449.6 151.2 L450.1 151.5 L450.6 151.7 L451.1 151.9 L451.6 152.1 L452.1 152.2 L452.6 152.4 L453.1 152.5 L453.6 152.6 L454.1 152.7 L454.6 152.8 L455.1 152.9 L455.6 153.0 L456.1 153.1 L456.6 153.1 L457.1 153.2 L457.6 153.3 L458.1 153.3 L458.6 153.4 L459.1 153.4 L459.6 153.4 L460.1 153.5 L460.6 153.5 L461.1 153.6 L461.6 153.6 L462.1 153.6 L462.6 153.7 L463.1 153.7 L463.6 153.7 L464.1 153.7 L464.6 153.8 L465.1 153.8 L465.6 153.8 L466.1 153.8 L466.6 153.8 L467.1 153.8 L467.6 153.9 L468.1 153.9 L468.6 153.9 L469.1 153.9 L469.6 153.9 L470.1 153.9 L470.6 153.9 L471.1 154.0 L471.6 154.0 L472.1 154.0 L472.6 154.0 L473.1 154.0 L473.6 154.0 L474.1 154.0 L474.6 154.0 L475.1 154.0 L475.6 154.0 L476.1 154.0 L476.6 154.0 L477.1 154.1 L477.6 154.1 L478.1 154.1 L478.6 154.1 L479.1 154.1 L479.6 154.1 L480.1 154.1 L480.6 154.1 L481.1 154.1 L481.6 154.1 L482.1 154.1 L482.6 154.1 L483.1 154.1 L483.6 154.1 L484.1 154.1 L484.6 154.1 L485.1 154.1 L485.6 154.1 L486.1 154.1 L486.6 154.1 L487.1 154.1 L487.6 154.1 L488.1 154.2 L488.6 154.2 L489.1 154.2 L489.6 154.2 L490.1 154.2 L490.6 154.2 L491.1 154.2 L491.6 154.2 L492.1 154.2 L492.6 154.2 L493.1 154.2 L493.6 154.2 L494.1 154.2 L494.6 154.2 L495.1 154.2 L495.6 154.2 L496.1 154.2 L496.6 154.2 L497.1 154.2 L497.6 154.2 L498.1 154.2 L498.6 154.2 L499.1 154.2 L499.6 154.2 L500.1 154.2 L500.6 154.2 L501.1 154.2 L501.6 154.2 L502.1 154.2 L502.6 154.2 L503.1 154.2 L503.6 154.2 L504.1 154.2 L504.6 154.2 L505.1 154.2 L505.6 154.2 L506.1 154.2 L506.6 154.2 L507.1 154.2 L507.6 154.2 L508.1 154.2 L508.6 154.2 L509.1 154.2 L509.6 154.2 L510.1 154.2 L510.6 154.2 L511.1 154.2 L511.6 154.2 L512.1 154.2 L512.6 154.2 L513.1 154.2 L513.6 154.2 L514.1 154.2 L514.6 154.2 L515.1 154.2 L515.6 154.2 L516.1 154.2 L516.6 154.2 L517.1 154.2 L517.6 154.2 L518.1 154.2 L518.6 154.2 L519.1 154.2 L519.6 154.2 L520.1 154.2 L520.6 154.2 L521.1 154.2 L521.6 154.2 L522.1 154.2 L522.6 154.2 L523.1 154.3 L523.6 154.3 L524.1 154.3 L524.6 154.3 L525.1 154.3 L525.6 154.3 L526.1 154.3 L526.6 154.3 L527.1 154.3 L527.6 154.3 L528.1 154.3 L528.6 154.3 L529.1 154.3 L529.6 154.3 L530.1 154.3 L530.6 154.3 L531.1 154.3 L531.6 154.3 L532.1 154.3 L532.6 154.3 L533.1 154.3 L533.6 154.3 L534.1 154.3 L534.6 154.3 L535.1 154.3 L535.6 154.3 L536.1 154.3 L536.6 154.3 L537.1 154.3 L537.6 154.3 L538.1 154.3 L538.6 154.3 L539.1 154.3 L539.6 154.3 L540.1 154.3 L540.6 154.3 L541.1 154.3 L541.6 154.3 L542.1 154.3 L542.6 154.3 L543.1 154.3 L543.6 154.3 L544.1 154.3 L544.6 154.3 L545.1 154.3 L545.6 154.3 L546.1 154.3 L546.6 154.3 L547.1 154.3 L547.6 154.3 L548.1 154.3" stroke="#7090d0" stroke-width="0.80" fill="none" stroke-linejoin="round" />
<path d="M334.6 161.3 L335.8 149.6 L337.0 157.3 L338.2 164.4 L339.4 160.0 L340.6 145.7 L341.8 159.6 L343.0 155.5 L344.2 155.0 L345.4 148.9 L346.6 154.5 L347.8 133.7 L349.0 165.2 L350.2 147.0 L351.4 155.1 L352.6 151.6 L353.8 155.8 L355.0 145.3 L356.2 152.1 L357.4 152.6 L358.6 156.7 L359.8 147.8 L361.0 159.0 L362.2 162.0 L363.4 163.6 L364.6 150.7 L365.8 154.6 L367.0 148.1 L368.2 159.3 L369.4 165.5 L370.6 165.5 L371.8 146.0 L373.0 169.4 L374.2 151.8 L375.4 156.9 L376.6 144.7 L377.8 164.8 L379.0 152.9 L380.2 160.3 L381.4 157.5 L382.6 163.6 L383.8 148.7 L385.0 141.9 L386.2 153.3 L387.4 155.8 L388.6 158.5 L389.8 151.9 L391.0 141.2 L392.2 169.6 L393.4 150.3 L394.6 155.3 L395.8 162.4 L397.0 159.4 L398.2 154.0 L399.4 154.8 L400.6 153.8 L401.8 154.1 L403.0 150.6 L404.2 163.5 L405.4 146.8 L406.6 161.8 L407.8 148.1 L409.0 157.7 L410.2 144.9 L411.4 158.6 L412.6 152.1 L413.8 141.0 L415.0 147.8 L416.2 153.8 L417.4 146.2 L418.6 148.6 L419.8 154.2 L421.0 154.5 L422.2 144.8 L423.4 152.0 L424.6 151.9 L425.8 152.1 L427.0 146.6 L428.2 158.5 L429.4 137.9 L430.6 150.3 L431.8 140.8 L433.0 152.9 L434.2 142.3 L435.4 145.3 L436.6 128.5 L437.8 141.4 L439.0 130.2 L440.2 127.0 L441.4 134.9 L442.6 132.5 L443.8 134.5 L445.0 143.5 L446.2 156.9 L447.4 138.0 L448.6 128.4 L449.8 142.1 L451.0 125.5 L452.2 131.9 L453.4 129.1 L454.6 122.6 L455.8 134.2 L457.0 131.1 L458.2 115.8 L459.4 133.0 L460.6 120.9 L461.8 135.0 L463.0 127.3 L464.2 128.8 L465.4 121.1 L466.6 140.1 L467.8 136.2 L469.0 147.6 L470.2 134.1 L471.4 144.1 L472.6 139.9 L473.8 142.6 L475.0 143.4 L476.2 155.0 L477.4 132.3 L478.6 161.5 L479.8 142.8 L481.0 153.5 L482.2 151.3 L483.4 154.7 L484.6 138.0 L485.8 165.7 L487.0 149.5 L488.2 161.1 L489.4 157.0 L490.6 160.5 L491.8 145.1 L493.0 156.5 L494.2 150.9 L495.4 154.3 L496.6 147.5 L497.8 152.8 L499.0 153.8 L500.2 143.7 L501.4 146.3 L502.6 143.4 L503.8 152.4 L505.0 147.1 L506.2 148.7 L507.4 159.0 L508.6 149.1 L509.8 162.8 L511.0 153.1 L512.2 165.3 L513.4 149.5 L514.6 154.3 L515.8 149.5 L517.0 158.2 L518.2 150.8 L519.4 158.7 L520.6 159.3 L521.8 154.8 L523.0 147.8 L524.2 164.2 L525.4 153.7 L526.6 156.1 L527.8 147.9 L529.0 157.4 L530.2 153.7 L531.4 155.6 L532.6 146.5 L533.8 163.4 L535.0 151.9 L536.2 162.7 L537.4 152.9 L538.6 157.2 L539.8 143.0 L541.0 156.7 L542.2 150.9 L543.4 154.1 L544.6 141.8 L545.8 146.8 L547.0 149.3 L548.2 158.2" stroke="#707070" stroke-width="1.00" fill="none" stroke-linejoin="round" />
<path d="M334.6 154.3 L335.1 154.3 L335.6 154.3 L336.1 154.3 L336.6 154.3 L337.1 154.3 L337.6 154.3 L338.1 154.3 L338.6 154.3 L339.1 154.3 L339.6 154.3 L340.1 154.3 L340.6 154.3 L341.1 154.3 L341.6 154.3 L342.1 154.3 L342.6 154.3 L343.1 154.3 L343.6 154.3 L344.1 154.3 L344.6 154.3 L345.1 154.3 L345.6 154.3 L346.1 154.3 L346.6 154.3 L347.1 154.3 L347.6 154.3 L348.1 154.3 L348.6 154.3 L349.1 154.3 L349.6 154.3 L350.1 154.3 L350.6 154.3 L351.1 154.3 L351.6 154.3 L352.1 154.3 L352.6 154.3 L353.1 154.3 L353.6 154.3 L354.1 154.3 L354.6 154.3 L355.1 154.3 L355.6 154.3 L356.1 154.3 L356.6 154.3 L357.1 154.3 L357.6 154.2 L358.1 154.2 L358.6 154.2 L359.1 154.2 L359.6 154.2 L360.1 154.2 L360.6 154.2 L361.1 154.2 L361.6 154.2 L362.1 154.2 L362.6 154.2 L363.1 154.2 L363.6 154.2 L364.1 154.2 L364.6 154.2 L365.1 154.2 L365.6 154.2 L366.1 154.2 L366.6 154.2 L367.1 154.2 L367.6 154.2 L368.1 154.2 L368.6 154.2 L369.1 154.2 L369.6 154.2 L370.1 154.2 L370.6 154.2 L371.1 154.2 L371.6 154.2 L372.1 154.2 L372.6 154.2 L373.1 154.2 L373.6 154.2 L374.1 154.2 L374.6 154.2 L375.1 154.2 L375.6 154.2 L376.1 154.2 L376.6 154.2 L377.1 154.2 L377.6 154.2 L378.1 154.2 L378.6 154.2 L379.1 154.2 L379.6 154.2 L380.1 154.2 L380.6 154.2 L381.1 154.2 L381.6 154.2 L382.1 154.2 L382.6 154.2 L383.1 154.2 L383.6 154.2 L384.1 154.2 L384.6 154.2 L385.1 154.2 L385.6 154.2 L386.1 154.2 L386.6 154.2 L387.1 154.2 L387.6 154.2 L388.1 154.2 L388.6 154.2 L389.1 154.2 L389.6 154.2 L390.1 154.2 L390.6 154.2 L391.1 154.2 L391.6 154.2 L392.1 154.2 L392.6 154.1 L393.1 154.1 L393.6 154.1 L394.1 154.1 L394.6 154.1 L395.1 154.1 L395.6 154.1 L396.1 154.1 L396.6 154.1 L397.1 154.1 L397.6 154.1 L398.1 154.1 L398.6 154.1 L399.1 154.1 L399.6 154.1 L400.1 154.1 L400.6 154.1 L401.1 154.1 L401.6 154.1 L402.1 154.1 L402.6 154.1 L403.1 154.1 L403.6 154.0 L404.1 154.0 L404.6 154.0 L405.1 154.0 L405.6 154.0 L406.1 154.0 L406.6 154.0 L407.1 154.0 L407.6 154.0 L408.1 154.0 L408.6 154.0 L409.1 153.9 L409.6 153.9 L410.1 153.9 L410.6 153.9 L411.1 153.9 L411.6 153.9 L412.1 153.9 L412.6 153.9 L413.1 153.8 L413.6 153.8 L414.1 153.8 L414.6 153.8 L415.1 153.8 L415.6 153.7 L416.1 153.7 L416.6 153.7 L417.1 153.7 L417.6 153.6 L418.1 153.6 L418.6 153.6 L419.1 153.5 L419.6 153.5 L420.1 153.5 L420.6 153.4 L421.1 153.4 L421.6 153.3 L422.1 153.3 L422.6 153.2 L423.1 153.1 L423.6 153.1 L424.1 153.0 L424.6 152.9 L425.1 152.8 L425.6 152.7 L426.1 152.6 L426.6 152.5 L427.1 152.3 L427.6 152.2 L428.1 152.0 L428.6 151.8 L429.1 151.6 L429.6 151.4 L430.1 151.1 L430.6 150.8 L431.1 150.4 L431.6 150.0 L432.1 149.5 L432.6 149.0 L433.1 148.4 L433.6 147.7 L434.1 146.9 L434.6 146.0 L435.1 144.9 L435.6 143.7 L436.1 142.4 L436.6 140.9 L437.1 139.2 L437.6 137.5 L438.1 135.8 L438.6 134.2 L439.1 132.8 L439.6 131.8 L440.1 131.3 L440.6 131.3 L441.1 131.8 L441.6 132.5 L442.1 133.4 L442.6 134.4 L443.1 135.2 L443.6 136.0 L444.1 136.6 L444.6 137.0 L445.1 137.2 L445.6 137.3 L446.1 137.3 L446.6 137.1 L447.1 136.9 L447.6 136.5 L448.1 136.1 L448.6 135.6 L449.1 135.1 L449.6 134.5 L450.1 133.9 L450.6 133.2 L451.1 132.6 L451.6 132.0 L452.1 131.3 L452.6 130.7 L453.1 130.1 L453.6 129.5 L454.1 129.0 L454.6 128.5 L455.1 128.1 L455.6 127.7 L456.1 127.4 L456.6 127.1 L457.1 126.9 L457.6 126.8 L458.1 126.8 L458.6 126.8 L459.1 126.9 L459.6 127.1 L460.1 127.3 L460.6 127.6 L461.1 128.0 L461.6 128.4 L462.1 129.0 L462.6 129.5 L463.1 130.2 L463.6 130.8 L464.1 131.6 L464.6 132.3 L465.1 133.1 L465.6 133.9 L466.1 134.8 L466.6 135.7 L467.1 136.5 L467.6 137.4 L468.1 138.3 L468.6 139.2 L469.1 140.1 L469.6 140.9 L470.1 141.8 L470.6 142.6 L471.1 143.4 L471.6 144.2 L472.1 144.9 L472.6 145.6 L473.1 146.3 L473.6 146.9 L474.1 147.6 L474.6 148.1 L475.1 148.7 L475.6 149.2 L476.1 149.7 L476.6 150.1 L477.1 150.5 L477.6 150.9 L478.1 151.2 L478.6 151.5 L479.1 151.8 L479.6 152.1 L480.1 152.3 L480.6 152.5 L481.1 152.7 L481.6 152.9 L482.1 153.1 L482.6 153.2 L483.1 153.3 L483.6 153.4 L484.1 153.5 L484.6 153.6 L485.1 153.7 L485.6 153.8 L486.1 153.8 L486.6 153.9 L487.1 153.9 L487.6 154.0 L488.1 154.0 L488.6 154.0 L489.1 154.0 L489.6 154.1 L490.1 154.1 L490.6 154.1 L491.1 154.1 L491.6 154.1 L492.1 154.1 L492.6 154.1 L493.1 154.2 L493.6 154.2 L494.1 154.2 L494.6 154.2 L495.1 154.2 L495.6 154.2 L496.1 154.2 L496.6 154.2 L497.1 154.2 L497.6 154.2 L498.1 154.2 L498.6 154.2 L499.1 154.2 L499.6 154.2 L500.1 154.2 L500.6 154.2 L501.1 154.2 L501.6 154.2 L502.1 154.2 L502.6 154.2 L503.1 154.2 L503.6 154.2 L504.1 154.2 L504.6 154.2 L505.1 154.2 L505.6 154.2 L506.1 154.2 L506.6 154.2 L507.1 154.2 L507.6 154.2 L508.1 154.2 L508.6 154.2 L509.1 154.2 L509.6 154.2 L510.1 154.2 L510.6 154.2 L511.1 154.2 L511.6 154.2 L512.1 154.2 L512.6 154.2 L513.1 154.2 L513.6 154.2 L514.1 154.2 L514.6 154.2 L515.1 154.2 L515.6 154.2 L516.1 154.2 L516.6 154.2 L517.1 154.2 L517.6 154.2 L518.1 154.2 L518.6 154.2 L519.1 154.2 L519.6 154.2 L520.1 154.2 L520.6 154.2 L521.1 154.2 L521.6 154.2 L522.1 154.2 L522.6 154.2 L523.1 154.3 L523.6 154.3 L524.1 154.3 L524.6 154.3 L525.1 154.3 L525.6 154.3 L526.1 154.3 L526.6 154.3 L527.1 154.3 L527.6 154.3 L528.1 154.3 L528.6 154.3 L529.1 154.3 L529.6 154.3 L530.1 154.3 L530.6 154.3 L531.1 154.3 L531.6 154.3 L532.1 154.3 L532.6 154.3 L533.1 154.3 L533.6 154.3 L534.1 154.3 L534.6 154.3 L535.1 154.3 L535.6 154.3 L536.1 154.3 L536.6 154.3 L537.1 154.3 L537.6 154.3 L538.1 154.3 L538.6 154.3 L539.1 154.3 L539.6 154.3 L540.1 154.3 L540.6 154.3 L541.1 154.3 L541.6 154.3 L542.1 154.3 L542.6 154.3 L543.1 154.3 L543.6 154.3 L544.1 154.3 L544.6 154.3 L545.1 154.3 L545.6 154.3 L546.1 154.3 L546.6 154.3 L547.1 154.3 L547.6 154.3 L548.1 154.3" stroke="#e08070" stroke-width="0.90" fill="none" stroke-opacity="0.85" stroke-linejoin="round" />
<line x1="437.30" y1="49.50" x2="437.30" y2="153.50" stroke="#444" stroke-width="1.1" stroke-dasharray="1.1 1.5"/>
<line x1="455.70" y1="21.80" x2="455.70" y2="120.50" stroke="#444" stroke-width="1.1" stroke-dasharray="1.1 1.5"/>
<rect x="25.60" y="230.00" width="249.50" height="177.30" fill="none" stroke="#2e2e2e" stroke-width="1.4"/>
<path d="M25.60 407.30V409.70M41.19 407.30V409.70M72.37 407.30V409.70M87.96 407.30V409.70M103.55 407.30V409.70M119.14 407.30V409.70M150.32 407.30V409.70M165.91 407.30V409.70M181.50 407.30V409.70M197.09 407.30V409.70M228.27 407.30V409.70M243.86 407.30V409.70M259.45 407.30V409.70M275.04 407.30V409.70M56.78 407.30V411.30M134.73 407.30V411.30M212.68 407.30V411.30" stroke="#2e2e2e" stroke-width="1.2"/>
<text x="56.8" y="421.0" font-size="10.00" text-anchor="middle">715</text>
<text x="134.7" y="421.0" font-size="10.00" text-anchor="middle">710</text>
<text x="212.7" y="421.0" font-size="10.00" text-anchor="middle">705</text>
<text transform="translate(9.3 320.0) rotate(-90)" x="-49.2" font-size="10.00" textLength="98.4" lengthAdjust="spacingAndGlyphs">XPS intensity (arb unit)</text>
<text x="151.4" y="435.0" font-size="10.20" text-anchor="middle" textLength="87.3" lengthAdjust="spacingAndGlyphs">Binding energy (eV)</text>
<text x="31.9" y="243.2" font-size="10.00">(C)</text>
<text x="32.2" y="254.3" font-size="10">Fe 2p<tspan font-size="10" dy="3.3">3/2</tspan></text>
<text x="82.6" y="250.3" font-size="10.00">satelite</text>
<text x="116.5" y="241.8" font-size="10.2">Fe<tspan font-size="6.5" dx="0.3" dy="-4.4">3+</tspan></text>
<text x="134.4" y="244.4" font-size="10.2">Fe<tspan font-size="6.5" dx="0.3" dy="-4.4">2+</tspan></text>
<text x="181.6" y="244.1" font-size="10.00">a-HCl without BAILs</text>
<text x="181.6" y="255.3" font-size="10.00">b-HCl+BAIL1</text>
<text x="181.6" y="266.8" font-size="10.00">c-HCl+BAIL2</text>
<text x="251.4" y="318.6" font-size="10.00" text-anchor="middle">c</text>
<text x="251.4" y="359.4" font-size="10.00" text-anchor="middle">b</text>
<text x="251.4" y="390.0" font-size="10.00" text-anchor="middle">a</text>
<path d="M43.1 289.4 L43.6 289.4 L44.1 289.4 L44.6 289.4 L45.1 289.4 L45.6 289.4 L46.1 289.4 L46.6 289.4 L47.1 289.4 L47.6 289.4 L48.1 289.4 L48.6 289.4 L49.1 289.4 L49.6 289.4 L50.1 289.4 L50.6 289.4 L51.1 289.4 L51.6 289.4 L52.1 289.4 L52.6 289.4 L53.1 289.4 L53.6 289.4 L54.1 289.4 L54.6 289.4 L55.1 289.5 L55.6 289.5 L56.1 289.5 L56.6 289.5 L57.1 289.5 L57.6 289.5 L58.1 289.5 L58.6 289.5 L59.1 289.5 L59.6 289.5 L60.1 289.5 L60.6 289.5 L61.1 289.5 L61.6 289.5 L62.1 289.5 L62.6 289.5 L63.1 289.6 L63.6 289.6 L64.1 289.6 L64.6 289.6 L65.1 289.6 L65.6 289.6 L66.1 289.6 L66.6 289.6 L67.1 289.6 L67.6 289.7 L68.1 289.7 L68.6 289.7 L69.1 289.7 L69.6 289.7 L70.1 289.7 L70.6 289.7 L71.1 289.8 L71.6 289.8 L72.1 289.8 L72.6 289.8 L73.1 289.8 L73.6 289.9 L74.1 289.9 L74.6 289.9 L75.1 289.9 L75.6 290.0 L76.1 290.0 L76.6 290.0 L77.1 290.0 L77.6 290.1 L78.1 290.1 L78.6 290.1 L79.1 290.2 L79.6 290.2 L80.1 290.2 L80.6 290.3 L81.1 290.3 L81.6 290.4 L82.1 290.4 L82.6 290.4 L83.1 290.5 L83.6 290.5 L84.1 290.6 L84.6 290.6 L85.1 290.7 L85.6 290.8 L86.1 290.8 L86.6 290.9 L87.1 291.0 L87.6 291.0 L88.1 291.1 L88.6 291.2 L89.1 291.2 L89.6 291.3 L90.1 291.4 L90.6 291.5 L91.1 291.6 L91.6 291.7 L92.1 291.8 L92.6 291.9 L93.1 292.0 L93.6 292.1 L94.1 292.2 L94.6 292.3 L95.1 292.4 L95.6 292.6 L96.1 292.7 L96.6 292.8 L97.1 293.0 L97.6 293.1 L98.1 293.3 L98.6 293.4 L99.1 293.6 L99.6 293.8 L100.1 293.9 L100.6 294.1 L101.1 294.3 L101.6 294.5 L102.1 294.7 L102.6 294.9 L103.1 295.1 L103.6 295.3 L104.1 295.5 L104.6 295.8 L105.1 296.0 L105.6 296.3 L106.1 296.5 L106.6 296.8 L107.1 297.0 L107.6 297.3 L108.1 297.6 L108.6 297.9 L109.1 298.2 L109.6 298.5 L110.1 298.8 L110.6 299.1 L111.1 299.4 L111.6 299.8 L112.1 300.1 L112.6 300.5 L113.1 300.8 L113.6 301.2 L114.1 301.5 L114.6 301.9 L115.1 302.3 L115.6 302.7 L116.1 303.1 L116.6 303.5 L117.1 303.9 L117.6 304.3 L118.1 304.7 L118.6 305.1 L119.1 305.5 L119.6 305.9 L120.1 306.3 L120.6 306.8 L121.1 307.2 L121.6 307.6 L122.1 308.1 L122.6 308.5 L123.1 308.9 L123.6 309.4 L124.1 309.8 L124.6 310.2 L125.1 310.7 L125.6 311.1 L126.1 311.5 L126.6 312.0 L127.1 312.4 L127.6 312.8 L128.1 313.2 L128.6 313.7 L129.1 314.1 L129.6 314.5 L130.1 314.9 L130.6 315.3 L131.1 315.7 L131.6 316.1 L132.1 316.5 L132.6 316.8 L133.1 317.2 L133.6 317.6 L134.1 317.9 L134.6 318.3 L135.1 318.6 L135.6 319.0 L136.1 319.3 L136.6 319.6 L137.1 320.0 L137.6 320.3 L138.1 320.6 L138.6 320.9 L139.1 321.2 L139.6 321.4 L140.1 321.7 L140.6 322.0 L141.1 322.2 L141.6 322.5 L142.1 322.7 L142.6 323.0 L143.1 323.2 L143.6 323.4 L144.1 323.7 L144.6 323.9 L145.1 324.1 L145.6 324.3 L146.1 324.5 L146.6 324.6 L147.1 324.8 L147.6 325.0 L148.1 325.2 L148.6 325.3 L149.1 325.5 L149.6 325.6 L150.1 325.8 L150.6 325.9 L151.1 326.1 L151.6 326.2 L152.1 326.3 L152.6 326.4 L153.1 326.6 L153.6 326.7 L154.1 326.8 L154.6 326.9 L155.1 327.0 L155.6 327.1 L156.1 327.2 L156.6 327.3 L157.1 327.4 L157.6 327.4 L158.1 327.5 L158.6 327.6 L159.1 327.7 L159.6 327.7 L160.1 327.8 L160.6 327.9 L161.1 327.9 L161.6 328.0 L162.1 328.1 L162.6 328.1 L163.1 328.2 L163.6 328.2 L164.1 328.3 L164.6 328.3 L165.1 328.4 L165.6 328.4 L166.1 328.4 L166.6 328.5 L167.1 328.5 L167.6 328.6 L168.1 328.6 L168.6 328.6 L169.1 328.7 L169.6 328.7 L170.1 328.7 L170.6 328.8 L171.1 328.8 L171.6 328.8 L172.1 328.8 L172.6 328.9 L173.1 328.9 L173.6 328.9 L174.1 328.9 L174.6 328.9 L175.1 329.0 L175.6 329.0 L176.1 329.0 L176.6 329.0 L177.1 329.0 L177.6 329.1 L178.1 329.1 L178.6 329.1 L179.1 329.1 L179.6 329.1 L180.1 329.1 L180.6 329.1 L181.1 329.2 L181.6 329.2 L182.1 329.2 L182.6 329.2 L183.1 329.2 L183.6 329.2 L184.1 329.2 L184.6 329.2 L185.1 329.2 L185.6 329.2 L186.1 329.2 L186.6 329.3 L187.1 329.3 L187.6 329.3 L188.1 329.3 L188.6 329.3 L189.1 329.3 L189.6 329.3 L190.1 329.3 L190.6 329.3 L191.1 329.3 L191.6 329.3 L192.1 329.3 L192.6 329.3 L193.1 329.3 L193.6 329.3 L194.1 329.3 L194.6 329.3 L195.1 329.3 L195.6 329.3 L196.1 329.3 L196.6 329.3 L197.1 329.4 L197.6 329.4 L198.1 329.4 L198.6 329.4 L199.1 329.4 L199.6 329.4 L200.1 329.4 L200.6 329.4 L201.1 329.4 L201.6 329.4 L202.1 329.4 L202.6 329.4 L203.1 329.4 L203.6 329.4 L204.1 329.4 L204.6 329.4 L205.1 329.4 L205.6 329.4 L206.1 329.4 L206.6 329.4 L207.1 329.4 L207.6 329.4 L208.1 329.4 L208.6 329.4 L209.1 329.4 L209.6 329.4 L210.1 329.4 L210.6 329.4 L211.1 329.4 L211.6 329.4 L212.1 329.4 L212.6 329.4 L213.1 329.4 L213.6 329.4 L214.1 329.4 L214.6 329.4 L215.1 329.4 L215.6 329.4 L216.1 329.4 L216.6 329.4 L217.1 329.4 L217.6 329.4 L218.1 329.4 L218.6 329.4 L219.1 329.4 L219.6 329.4 L220.1 329.4 L220.6 329.4 L221.1 329.4 L221.6 329.4 L222.1 329.4 L222.6 329.4 L223.1 329.4 L223.6 329.4 L224.1 329.4 L224.6 329.4 L225.1 329.4 L225.6 329.4 L226.1 329.4 L226.6 329.4 L227.1 329.4 L227.6 329.4 L228.1 329.4 L228.6 329.4 L229.1 329.4 L229.6 329.4 L230.1 329.4 L230.6 329.4 L231.1 329.4 L231.6 329.4 L232.1 329.4 L232.6 329.4 L233.1 329.4 L233.6 329.4 L234.1 329.4 L234.6 329.4 L235.1 329.4 L235.6 329.4 L236.1 329.4 L236.6 329.4 L237.1 329.4 L237.6 329.4 L238.1 329.4 L238.6 329.4 L239.1 329.4 L239.6 329.4 L240.1 329.4 L240.6 329.4 L241.1 329.4 L241.6 329.4 L242.1 329.4 L242.6 329.4 L243.1 329.4 L243.6 329.4 L244.1 329.4 L244.6 329.4 L245.1 329.4 L245.6 329.4 L246.1 329.4 L246.6 329.4 L247.1 329.4 L247.6 329.4 L248.1 329.4 L248.6 329.4 L249.1 329.4 L249.6 329.4 L250.1 329.4 L250.6 329.4 L251.1 329.4 L251.6 329.4 L252.1 329.4 L252.6 329.4 L253.1 329.4 L253.6 329.4 L254.1 329.4 L254.6 329.4 L255.1 329.4 L255.6 329.4 L256.1 329.4 L256.6 329.4 L257.1 329.4 L257.6 329.4 L258.1 329.4 L258.6 329.4 L259.1 329.4 L259.6 329.4 L260.1 329.4 L260.6 329.4 L261.1 329.4 L261.6 329.4 L262.1 329.4 L262.6 329.4 L263.1 329.4 L263.6 329.4 L264.1 329.4 L264.6 329.4 L265.1 329.4 L265.6 329.4 L266.1 329.4 L266.6 329.4" stroke="#f2b48c" stroke-width="0.90" fill="none" stroke-linejoin="round" />
<path d="M43.1 289.2 L43.6 289.2 L44.1 289.2 L44.6 289.2 L45.1 289.2 L45.6 289.2 L46.1 289.2 L46.6 289.2 L47.1 289.2 L47.6 289.2 L48.1 289.2 L48.6 289.2 L49.1 289.2 L49.6 289.2 L50.1 289.2 L50.6 289.2 L51.1 289.2 L51.6 289.2 L52.1 289.2 L52.6 289.2 L53.1 289.2 L53.6 289.2 L54.1 289.2 L54.6 289.2 L55.1 289.2 L55.6 289.2 L56.1 289.2 L56.6 289.2 L57.1 289.2 L57.6 289.2 L58.1 289.2 L58.6 289.2 L59.1 289.2 L59.6 289.2 L60.1 289.2 L60.6 289.2 L61.1 289.2 L61.6 289.2 L62.1 289.2 L62.6 289.2 L63.1 289.2 L63.6 289.2 L64.1 289.2 L64.6 289.2 L65.1 289.3 L65.6 289.3 L66.1 289.3 L66.6 289.3 L67.1 289.3 L67.6 289.3 L68.1 289.3 L68.6 289.3 L69.1 289.3 L69.6 289.3 L70.1 289.3 L70.6 289.3 L71.1 289.3 L71.6 289.3 L72.1 289.4 L72.6 289.4 L73.1 289.4 L73.6 289.4 L74.1 289.4 L74.6 289.4 L75.1 289.4 L75.6 289.5 L76.1 289.5 L76.6 289.5 L77.1 289.5 L77.6 289.5 L78.1 289.5 L78.6 289.6 L79.1 289.6 L79.6 289.6 L80.1 289.6 L80.6 289.6 L81.1 289.7 L81.6 289.7 L82.1 289.7 L82.6 289.8 L83.1 289.8 L83.6 289.8 L84.1 289.8 L84.6 289.9 L85.1 289.9 L85.6 289.9 L86.1 290.0 L86.6 290.0 L87.1 290.0 L87.6 290.0 L88.1 290.1 L88.6 290.1 L89.1 290.1 L89.6 290.1 L90.1 290.2 L90.6 290.2 L91.1 290.2 L91.6 290.2 L92.1 290.2 L92.6 290.2 L93.1 290.2 L93.6 290.2 L94.1 290.2 L94.6 290.1 L95.1 290.1 L95.6 290.0 L96.1 290.0 L96.6 289.9 L97.1 289.8 L97.6 289.6 L98.1 289.5 L98.6 289.3 L99.1 289.2 L99.6 288.9 L100.1 288.7 L100.6 288.5 L101.1 288.2 L101.6 287.8 L102.1 287.5 L102.6 287.1 L103.1 286.7 L103.6 286.2 L104.1 285.7 L104.6 285.2 L105.1 284.6 L105.6 284.0 L106.1 283.4 L106.6 282.7 L107.1 282.0 L107.6 281.2 L108.1 280.4 L108.6 279.6 L109.1 278.7 L109.6 277.9 L110.1 277.0 L110.6 276.0 L111.1 275.1 L111.6 274.1 L112.1 273.1 L112.6 272.2 L113.1 271.2 L113.6 270.2 L114.1 269.2 L114.6 268.3 L115.1 267.4 L115.6 266.5 L116.1 265.6 L116.6 264.8 L117.1 264.1 L117.6 263.4 L118.1 262.8 L118.6 262.2 L119.1 261.8 L119.6 261.4 L120.1 261.1 L120.6 260.9 L121.1 260.9 L121.6 260.9 L122.1 261.1 L122.6 261.3 L123.1 261.7 L123.6 262.2 L124.1 262.9 L124.6 263.6 L125.1 264.4 L125.6 265.4 L126.1 266.4 L126.6 267.6 L127.1 268.8 L127.6 270.2 L128.1 271.5 L128.6 273.0 L129.1 274.5 L129.6 276.1 L130.1 277.7 L130.6 279.4 L131.1 281.0 L131.6 282.7 L132.1 284.4 L132.6 286.1 L133.1 287.8 L133.6 289.5 L134.1 291.2 L134.6 292.9 L135.1 294.5 L135.6 296.1 L136.1 297.7 L136.6 299.2 L137.1 300.7 L137.6 302.2 L138.1 303.6 L138.6 305.0 L139.1 306.3 L139.6 307.5 L140.1 308.7 L140.6 309.9 L141.1 311.0 L141.6 312.1 L142.1 313.1 L142.6 314.0 L143.1 314.9 L143.6 315.8 L144.1 316.6 L144.6 317.3 L145.1 318.0 L145.6 318.7 L146.1 319.3 L146.6 319.9 L147.1 320.5 L147.6 321.0 L148.1 321.5 L148.6 321.9 L149.1 322.3 L149.6 322.7 L150.1 323.1 L150.6 323.4 L151.1 323.7 L151.6 324.0 L152.1 324.3 L152.6 324.6 L153.1 324.8 L153.6 325.0 L154.1 325.2 L154.6 325.4 L155.1 325.6 L155.6 325.8 L156.1 326.0 L156.6 326.1 L157.1 326.3 L157.6 326.4 L158.1 326.5 L158.6 326.6 L159.1 326.7 L159.6 326.8 L160.1 326.9 L160.6 327.0 L161.1 327.1 L161.6 327.2 L162.1 327.3 L162.6 327.4 L163.1 327.5 L163.6 327.5 L164.1 327.6 L164.6 327.7 L165.1 327.7 L165.6 327.8 L166.1 327.8 L166.6 327.9 L167.1 327.9 L167.6 328.0 L168.1 328.0 L168.6 328.1 L169.1 328.1 L169.6 328.2 L170.1 328.2 L170.6 328.3 L171.1 328.3 L171.6 328.3 L172.1 328.4 L172.6 328.4 L173.1 328.4 L173.6 328.5 L174.1 328.5 L174.6 328.5 L175.1 328.5 L175.6 328.6 L176.1 328.6 L176.6 328.6 L177.1 328.6 L177.6 328.7 L178.1 328.7 L178.6 328.7 L179.1 328.7 L179.6 328.8 L180.1 328.8 L180.6 328.8 L181.1 328.8 L181.6 328.8 L182.1 328.8 L182.6 328.9 L183.1 328.9 L183.6 328.9 L184.1 328.9 L184.6 328.9 L185.1 328.9 L185.6 328.9 L186.1 329.0 L186.6 329.0 L187.1 329.0 L187.6 329.0 L188.1 329.0 L188.6 329.0 L189.1 329.0 L189.6 329.0 L190.1 329.0 L190.6 329.0 L191.1 329.1 L191.6 329.1 L192.1 329.1 L192.6 329.1 L193.1 329.1 L193.6 329.1 L194.1 329.1 L194.6 329.1 L195.1 329.1 L195.6 329.1 L196.1 329.1 L196.6 329.1 L197.1 329.1 L197.6 329.1 L198.1 329.1 L198.6 329.2 L199.1 329.2 L199.6 329.2 L200.1 329.2 L200.6 329.2 L201.1 329.2 L201.6 329.2 L202.1 329.2 L202.6 329.2 L203.1 329.2 L203.6 329.2 L204.1 329.2 L204.6 329.2 L205.1 329.2 L205.6 329.2 L206.1 329.2 L206.6 329.2 L207.1 329.2 L207.6 329.2 L208.1 329.2 L208.6 329.2 L209.1 329.2 L209.6 329.2 L210.1 329.2 L210.6 329.2 L211.1 329.2 L211.6 329.2 L212.1 329.2 L212.6 329.3 L213.1 329.3 L213.6 329.3 L214.1 329.3 L214.6 329.3 L215.1 329.3 L215.6 329.3 L216.1 329.3 L216.6 329.3 L217.1 329.3 L217.6 329.3 L218.1 329.3 L218.6 329.3 L219.1 329.3 L219.6 329.3 L220.1 329.3 L220.6 329.3 L221.1 329.3 L221.6 329.3 L222.1 329.3 L222.6 329.3 L223.1 329.3 L223.6 329.3 L224.1 329.3 L224.6 329.3 L225.1 329.3 L225.6 329.3 L226.1 329.3 L226.6 329.3 L227.1 329.3 L227.6 329.3 L228.1 329.3 L228.6 329.3 L229.1 329.3 L229.6 329.3 L230.1 329.3 L230.6 329.3 L231.1 329.3 L231.6 329.3 L232.1 329.3 L232.6 329.3 L233.1 329.3 L233.6 329.3 L234.1 329.3 L234.6 329.3 L235.1 329.3 L235.6 329.3 L236.1 329.3 L236.6 329.3 L237.1 329.3 L237.6 329.3 L238.1 329.3 L238.6 329.3 L239.1 329.3 L239.6 329.3 L240.1 329.3 L240.6 329.3 L241.1 329.3 L241.6 329.3 L242.1 329.3 L242.6 329.3 L243.1 329.3 L243.6 329.3 L244.1 329.3 L244.6 329.3 L245.1 329.3 L245.6 329.3 L246.1 329.3 L246.6 329.3 L247.1 329.3 L247.6 329.3 L248.1 329.3 L248.6 329.3 L249.1 329.3 L249.6 329.3 L250.1 329.3 L250.6 329.3 L251.1 329.3 L251.6 329.3 L252.1 329.3 L252.6 329.3 L253.1 329.3 L253.6 329.3 L254.1 329.3 L254.6 329.3 L255.1 329.3 L255.6 329.3 L256.1 329.3 L256.6 329.3 L257.1 329.4 L257.6 329.4 L258.1 329.4 L258.6 329.4 L259.1 329.4 L259.6 329.4 L260.1 329.4 L260.6 329.4 L261.1 329.4 L261.6 329.4 L262.1 329.4 L262.6 329.4 L263.1 329.4 L263.6 329.4 L264.1 329.4 L264.6 329.4 L265.1 329.4 L265.6 329.4 L266.1 329.4 L266.6 329.4" stroke="#ea92b2" stroke-width="0.90" fill="none" stroke-linejoin="round" />
<path d="M43.1 289.2 L43.6 289.2 L44.1 289.2 L44.6 289.2 L45.1 289.2 L45.6 289.2 L46.1 289.2 L46.6 289.2 L47.1 289.2 L47.6 289.2 L48.1 289.2 L48.6 289.2 L49.1 289.2 L49.6 289.2 L50.1 289.2 L50.6 289.2 L51.1 289.2 L51.6 289.2 L52.1 289.2 L52.6 289.2 L53.1 289.2 L53.6 289.2 L54.1 289.2 L54.6 289.2 L55.1 289.2 L55.6 289.2 L56.1 289.2 L56.6 289.2 L57.1 289.2 L57.6 289.2 L58.1 289.2 L58.6 289.2 L59.1 289.2 L59.6 289.2 L60.1 289.2 L60.6 289.2 L61.1 289.2 L61.6 289.2 L62.1 289.2 L62.6 289.2 L63.1 289.2 L63.6 289.2 L64.1 289.2 L64.6 289.3 L65.1 289.3 L65.6 289.3 L66.1 289.3 L66.6 289.3 L67.1 289.3 L67.6 289.3 L68.1 289.3 L68.6 289.3 L69.1 289.3 L69.6 289.3 L70.1 289.3 L70.6 289.4 L71.1 289.4 L71.6 289.4 L72.1 289.4 L72.6 289.4 L73.1 289.4 L73.6 289.4 L74.1 289.4 L74.6 289.5 L75.1 289.5 L75.6 289.5 L76.1 289.5 L76.6 289.5 L77.1 289.6 L77.6 289.6 L78.1 289.6 L78.6 289.6 L79.1 289.7 L79.6 289.7 L80.1 289.7 L80.6 289.7 L81.1 289.8 L81.6 289.8 L82.1 289.8 L82.6 289.9 L83.1 289.9 L83.6 290.0 L84.1 290.0 L84.6 290.0 L85.1 290.1 L85.6 290.1 L86.1 290.2 L86.6 290.2 L87.1 290.3 L87.6 290.3 L88.1 290.4 L88.6 290.5 L89.1 290.5 L89.6 290.6 L90.1 290.7 L90.6 290.7 L91.1 290.8 L91.6 290.9 L92.1 291.0 L92.6 291.0 L93.1 291.1 L93.6 291.2 L94.1 291.3 L94.6 291.4 L95.1 291.5 L95.6 291.6 L96.1 291.7 L96.6 291.8 L97.1 292.0 L97.6 292.1 L98.1 292.2 L98.6 292.3 L99.1 292.5 L99.6 292.6 L100.1 292.8 L100.6 292.9 L101.1 293.1 L101.6 293.2 L102.1 293.4 L102.6 293.6 L103.1 293.7 L103.6 293.9 L104.1 294.1 L104.6 294.3 L105.1 294.5 L105.6 294.7 L106.1 294.9 L106.6 295.1 L107.1 295.3 L107.6 295.6 L108.1 295.8 L108.6 296.0 L109.1 296.3 L109.6 296.5 L110.1 296.7 L110.6 297.0 L111.1 297.2 L111.6 297.5 L112.1 297.8 L112.6 298.0 L113.1 298.3 L113.6 298.5 L114.1 298.8 L114.6 299.1 L115.1 299.3 L115.6 299.6 L116.1 299.8 L116.6 300.1 L117.1 300.3 L117.6 300.5 L118.1 300.8 L118.6 301.0 L119.1 301.1 L119.6 301.3 L120.1 301.4 L120.6 301.6 L121.1 301.6 L121.6 301.7 L122.1 301.7 L122.6 301.7 L123.1 301.6 L123.6 301.5 L124.1 301.4 L124.6 301.1 L125.1 300.9 L125.6 300.5 L126.1 300.1 L126.6 299.6 L127.1 299.1 L127.6 298.5 L128.1 297.8 L128.6 297.0 L129.1 296.2 L129.6 295.2 L130.1 294.2 L130.6 293.2 L131.1 292.0 L131.6 290.8 L132.1 289.6 L132.6 288.3 L133.1 287.0 L133.6 285.7 L134.1 284.4 L134.6 283.1 L135.1 281.9 L135.6 280.8 L136.1 279.8 L136.6 278.9 L137.1 278.2 L137.6 277.7 L138.1 277.4 L138.6 277.3 L139.1 277.5 L139.6 278.0 L140.1 278.7 L140.6 279.7 L141.1 280.8 L141.6 282.2 L142.1 283.7 L142.6 285.3 L143.1 287.1 L143.6 288.9 L144.1 290.8 L144.6 292.6 L145.1 294.5 L145.6 296.4 L146.1 298.2 L146.6 300.0 L147.1 301.8 L147.6 303.4 L148.1 305.1 L148.6 306.6 L149.1 308.1 L149.6 309.5 L150.1 310.8 L150.6 312.0 L151.1 313.2 L151.6 314.2 L152.1 315.2 L152.6 316.2 L153.1 317.0 L153.6 317.8 L154.1 318.6 L154.6 319.3 L155.1 319.9 L155.6 320.5 L156.1 321.0 L156.6 321.5 L157.1 321.9 L157.6 322.4 L158.1 322.7 L158.6 323.1 L159.1 323.4 L159.6 323.7 L160.1 324.0 L160.6 324.2 L161.1 324.5 L161.6 324.7 L162.1 324.9 L162.6 325.1 L163.1 325.3 L163.6 325.4 L164.1 325.6 L164.6 325.7 L165.1 325.9 L165.6 326.0 L166.1 326.1 L166.6 326.3 L167.1 326.4 L167.6 326.5 L168.1 326.6 L168.6 326.7 L169.1 326.8 L169.6 326.9 L170.1 326.9 L170.6 327.0 L171.1 327.1 L171.6 327.2 L172.1 327.3 L172.6 327.3 L173.1 327.4 L173.6 327.4 L174.1 327.5 L174.6 327.6 L175.1 327.6 L175.6 327.7 L176.1 327.7 L176.6 327.8 L177.1 327.8 L177.6 327.9 L178.1 327.9 L178.6 328.0 L179.1 328.0 L179.6 328.0 L180.1 328.1 L180.6 328.1 L181.1 328.1 L181.6 328.2 L182.1 328.2 L182.6 328.2 L183.1 328.3 L183.6 328.3 L184.1 328.3 L184.6 328.4 L185.1 328.4 L185.6 328.4 L186.1 328.4 L186.6 328.5 L187.1 328.5 L187.6 328.5 L188.1 328.5 L188.6 328.5 L189.1 328.6 L189.6 328.6 L190.1 328.6 L190.6 328.6 L191.1 328.6 L191.6 328.7 L192.1 328.7 L192.6 328.7 L193.1 328.7 L193.6 328.7 L194.1 328.7 L194.6 328.7 L195.1 328.8 L195.6 328.8 L196.1 328.8 L196.6 328.8 L197.1 328.8 L197.6 328.8 L198.1 328.8 L198.6 328.8 L199.1 328.9 L199.6 328.9 L200.1 328.9 L200.6 328.9 L201.1 328.9 L201.6 328.9 L202.1 328.9 L202.6 328.9 L203.1 328.9 L203.6 328.9 L204.1 329.0 L204.6 329.0 L205.1 329.0 L205.6 329.0 L206.1 329.0 L206.6 329.0 L207.1 329.0 L207.6 329.0 L208.1 329.0 L208.6 329.0 L209.1 329.0 L209.6 329.0 L210.1 329.0 L210.6 329.0 L211.1 329.0 L211.6 329.1 L212.1 329.1 L212.6 329.1 L213.1 329.1 L213.6 329.1 L214.1 329.1 L214.6 329.1 L215.1 329.1 L215.6 329.1 L216.1 329.1 L216.6 329.1 L217.1 329.1 L217.6 329.1 L218.1 329.1 L218.6 329.1 L219.1 329.1 L219.6 329.1 L220.1 329.1 L220.6 329.1 L221.1 329.1 L221.6 329.1 L222.1 329.1 L222.6 329.1 L223.1 329.2 L223.6 329.2 L224.1 329.2 L224.6 329.2 L225.1 329.2 L225.6 329.2 L226.1 329.2 L226.6 329.2 L227.1 329.2 L227.6 329.2 L228.1 329.2 L228.6 329.2 L229.1 329.2 L229.6 329.2 L230.1 329.2 L230.6 329.2 L231.1 329.2 L231.6 329.2 L232.1 329.2 L232.6 329.2 L233.1 329.2 L233.6 329.2 L234.1 329.2 L234.6 329.2 L235.1 329.2 L235.6 329.2 L236.1 329.2 L236.6 329.2 L237.1 329.2 L237.6 329.2 L238.1 329.2 L238.6 329.2 L239.1 329.2 L239.6 329.2 L240.1 329.2 L240.6 329.2 L241.1 329.2 L241.6 329.2 L242.1 329.2 L242.6 329.2 L243.1 329.2 L243.6 329.2 L244.1 329.2 L244.6 329.3 L245.1 329.3 L245.6 329.3 L246.1 329.3 L246.6 329.3 L247.1 329.3 L247.6 329.3 L248.1 329.3 L248.6 329.3 L249.1 329.3 L249.6 329.3 L250.1 329.3 L250.6 329.3 L251.1 329.3 L251.6 329.3 L252.1 329.3 L252.6 329.3 L253.1 329.3 L253.6 329.3 L254.1 329.3 L254.6 329.3 L255.1 329.3 L255.6 329.3 L256.1 329.3 L256.6 329.3 L257.1 329.3 L257.6 329.3 L258.1 329.3 L258.6 329.3 L259.1 329.3 L259.6 329.3 L260.1 329.3 L260.6 329.3 L261.1 329.3 L261.6 329.3 L262.1 329.3 L262.6 329.3 L263.1 329.3 L263.6 329.3 L264.1 329.3 L264.6 329.3 L265.1 329.3 L265.6 329.3 L266.1 329.3 L266.6 329.3" stroke="#a898d8" stroke-width="0.90" fill="none" stroke-linejoin="round" />
<path d="M43.4 288.2 L46.3 281.6 L51.7 294.9 L57.7 290.5 L63.7 283.6 L68.5 282.0 L72.0 285.4 L76.8 279.6 L79.2 284.7 L82.0 284.6 L85.6 276.8 L89.2 278.3 L92.8 271.4 L96.4 265.7 L100.0 264.6 L103.6 270.3 L107.2 261.8 L110.8 253.8 L114.4 249.7 L118.0 250.3 L121.6 247.3 L125.2 252.9 L128.8 250.9 L132.4 254.9 L136.0 255.5 L139.6 263.9 L143.2 276.5 L146.8 295.2 L150.4 308.4 L154.0 316.1 L157.6 317.7 L161.2 325.6 L164.8 328.3 L168.4 329.0 L172.0 322.3 L175.6 323.8 L179.2 326.0 L182.8 330.4 L186.4 331.1 L190.0 329.2 L193.6 331.3 L197.2 332.1 L200.8 326.5 L204.4 324.9 L208.0 327.6 L211.6 328.7 L215.2 327.4 L218.8 328.6 L222.4 324.8 L226.0 330.4 L229.6 325.1 L233.2 323.4 L236.8 328.3 L240.4 330.0 L244.0 328.2 L247.6 330.4 L251.2 330.5 L254.8 326.9 L258.4 327.5 L262.0 328.6 L265.6 328.0" stroke="#a2b6cc" stroke-width="1.00" fill="none" stroke-linejoin="round" />
<path d="M43.1 288.2 L43.6 288.2 L44.1 288.2 L44.6 288.1 L45.1 288.1 L45.6 288.1 L46.1 288.1 L46.6 288.1 L47.1 288.0 L47.6 288.0 L48.1 288.0 L48.6 288.0 L49.1 288.0 L49.6 287.9 L50.1 287.9 L50.6 287.9 L51.1 287.9 L51.6 287.9 L52.1 287.8 L52.6 287.8 L53.1 287.8 L53.6 287.8 L54.1 287.7 L54.6 287.7 L55.1 287.7 L55.6 287.7 L56.1 287.6 L56.6 287.6 L57.1 287.6 L57.6 287.5 L58.1 287.5 L58.6 287.5 L59.1 287.4 L59.6 287.4 L60.1 287.4 L60.6 287.3 L61.1 287.3 L61.6 287.3 L62.1 287.2 L62.6 287.2 L63.1 287.1 L63.6 287.1 L64.1 287.0 L64.6 287.0 L65.1 286.9 L65.6 286.9 L66.1 286.8 L66.6 286.8 L67.1 286.7 L67.6 286.6 L68.1 286.6 L68.6 286.5 L69.1 286.4 L69.6 286.3 L70.1 286.2 L70.6 286.2 L71.1 286.1 L71.6 286.0 L72.1 285.9 L72.6 285.8 L73.1 285.6 L73.6 285.5 L74.1 285.4 L74.6 285.3 L75.1 285.1 L75.6 285.0 L76.1 284.8 L76.6 284.7 L77.1 284.5 L77.6 284.3 L78.1 284.1 L78.6 283.9 L79.1 283.7 L79.6 283.5 L80.1 283.3 L80.6 283.1 L81.1 282.8 L81.6 282.6 L82.1 282.3 L82.6 282.0 L83.1 281.7 L83.6 281.4 L84.1 281.1 L84.6 280.8 L85.1 280.5 L85.6 280.1 L86.1 279.8 L86.6 279.4 L87.1 279.0 L87.6 278.6 L88.1 278.2 L88.6 277.8 L89.1 277.4 L89.6 276.9 L90.1 276.5 L90.6 276.0 L91.1 275.6 L91.6 275.1 L92.1 274.6 L92.6 274.1 L93.1 273.6 L93.6 273.1 L94.1 272.5 L94.6 272.0 L95.1 271.5 L95.6 270.9 L96.1 270.4 L96.6 269.9 L97.1 269.3 L97.6 268.8 L98.1 268.3 L98.6 267.7 L99.1 267.2 L99.6 266.7 L100.1 266.2 L100.6 265.7 L101.1 265.3 L101.6 264.8 L102.1 264.3 L102.6 263.9 L103.1 263.4 L103.6 263.0 L104.1 262.6 L104.6 262.2 L105.1 261.7 L105.6 261.3 L106.1 260.9 L106.6 260.4 L107.1 260.0 L107.6 259.6 L108.1 259.1 L108.6 258.6 L109.1 258.1 L109.6 257.6 L110.1 257.1 L110.6 256.6 L111.1 256.0 L111.6 255.5 L112.1 254.9 L112.6 254.3 L113.1 253.7 L113.6 253.1 L114.1 252.5 L114.6 252.0 L115.1 251.4 L115.6 250.8 L116.1 250.3 L116.6 249.8 L117.1 249.3 L117.6 248.9 L118.1 248.4 L118.6 248.1 L119.1 247.8 L119.6 247.5 L120.1 247.3 L120.6 247.2 L121.1 247.1 L121.6 247.1 L122.1 247.2 L122.6 247.3 L123.1 247.5 L123.6 247.7 L124.1 248.0 L124.6 248.4 L125.1 248.8 L125.6 249.2 L126.1 249.6 L126.6 250.1 L127.1 250.6 L127.6 251.0 L128.1 251.5 L128.6 252.0 L129.1 252.4 L129.6 252.8 L130.1 253.1 L130.6 253.5 L131.1 253.8 L131.6 254.0 L132.1 254.2 L132.6 254.4 L133.1 254.5 L133.6 254.6 L134.1 254.8 L134.6 254.9 L135.1 255.1 L135.6 255.3 L136.1 255.6 L136.6 256.0 L137.1 256.6 L137.6 257.3 L138.1 258.2 L138.6 259.2 L139.1 260.5 L139.6 262.0 L140.1 263.7 L140.6 265.6 L141.1 267.7 L141.6 269.9 L142.1 272.2 L142.6 274.6 L143.1 277.1 L143.6 279.5 L144.1 282.0 L144.6 284.5 L145.1 286.9 L145.6 289.3 L146.1 291.6 L146.6 293.8 L147.1 296.0 L147.6 298.0 L148.1 300.0 L148.6 301.8 L149.1 303.6 L149.6 305.2 L150.1 306.8 L150.6 308.3 L151.1 309.6 L151.6 310.9 L152.1 312.1 L152.6 313.2 L153.1 314.2 L153.6 315.1 L154.1 316.0 L154.6 316.8 L155.1 317.5 L155.6 318.2 L156.1 318.8 L156.6 319.3 L157.1 319.9 L157.6 320.3 L158.1 320.8 L158.6 321.2 L159.1 321.6 L159.6 321.9 L160.1 322.2 L160.6 322.5 L161.1 322.8 L161.6 323.1 L162.1 323.3 L162.6 323.5 L163.1 323.8 L163.6 324.0 L164.1 324.1 L164.6 324.3 L165.1 324.5 L165.6 324.6 L166.1 324.8 L166.6 324.9 L167.1 325.1 L167.6 325.2 L168.1 325.3 L168.6 325.5 L169.1 325.6 L169.6 325.7 L170.1 325.8 L170.6 325.9 L171.1 326.0 L171.6 326.1 L172.1 326.2 L172.6 326.3 L173.1 326.3 L173.6 326.4 L174.1 326.5 L174.6 326.6 L175.1 326.6 L175.6 326.7 L176.1 326.8 L176.6 326.8 L177.1 326.9 L177.6 327.0 L178.1 327.0 L178.6 327.1 L179.1 327.1 L179.6 327.2 L180.1 327.2 L180.6 327.3 L181.1 327.3 L181.6 327.4 L182.1 327.4 L182.6 327.4 L183.1 327.5 L183.6 327.5 L184.1 327.6 L184.6 327.6 L185.1 327.6 L185.6 327.7 L186.1 327.7 L186.6 327.7 L187.1 327.8 L187.6 327.8 L188.1 327.8 L188.6 327.9 L189.1 327.9 L189.6 327.9 L190.1 328.0 L190.6 328.0 L191.1 328.0 L191.6 328.0 L192.1 328.1 L192.6 328.1 L193.1 328.1 L193.6 328.1 L194.1 328.1 L194.6 328.2 L195.1 328.2 L195.6 328.2 L196.1 328.2 L196.6 328.2 L197.1 328.3 L197.6 328.3 L198.1 328.3 L198.6 328.3 L199.1 328.3 L199.6 328.3 L200.1 328.4 L200.6 328.4 L201.1 328.4 L201.6 328.4 L202.1 328.4 L202.6 328.4 L203.1 328.5 L203.6 328.5 L204.1 328.5 L204.6 328.5 L205.1 328.5 L205.6 328.5 L206.1 328.5 L206.6 328.5 L207.1 328.6 L207.6 328.6 L208.1 328.6 L208.6 328.6 L209.1 328.6 L209.6 328.6 L210.1 328.6 L210.6 328.6 L211.1 328.6 L211.6 328.6 L212.1 328.7 L212.6 328.7 L213.1 328.7 L213.6 328.7 L214.1 328.7 L214.6 328.7 L215.1 328.7 L215.6 328.7 L216.1 328.7 L216.6 328.7 L217.1 328.7 L217.6 328.7 L218.1 328.8 L218.6 328.8 L219.1 328.8 L219.6 328.8 L220.1 328.8 L220.6 328.8 L221.1 328.8 L221.6 328.8 L222.1 328.8 L222.6 328.8 L223.1 328.8 L223.6 328.8 L224.1 328.8 L224.6 328.8 L225.1 328.8 L225.6 328.9 L226.1 328.9 L226.6 328.9 L227.1 328.9 L227.6 328.9 L228.1 328.9 L228.6 328.9 L229.1 328.9 L229.6 328.9 L230.1 328.9 L230.6 328.9 L231.1 328.9 L231.6 328.9 L232.1 328.9 L232.6 328.9 L233.1 328.9 L233.6 328.9 L234.1 328.9 L234.6 328.9 L235.1 328.9 L235.6 329.0 L236.1 329.0 L236.6 329.0 L237.1 329.0 L237.6 329.0 L238.1 329.0 L238.6 329.0 L239.1 329.0 L239.6 329.0 L240.1 329.0 L240.6 329.0 L241.1 329.0 L241.6 329.0 L242.1 329.0 L242.6 329.0 L243.1 329.0 L243.6 329.0 L244.1 329.0 L244.6 329.0 L245.1 329.0 L245.6 329.0 L246.1 329.0 L246.6 329.0 L247.1 329.0 L247.6 329.0 L248.1 329.0 L248.6 329.0 L249.1 329.0 L249.6 329.0 L250.1 329.1 L250.6 329.1 L251.1 329.1 L251.6 329.1 L252.1 329.1 L252.6 329.1 L253.1 329.1 L253.6 329.1 L254.1 329.1 L254.6 329.1 L255.1 329.1 L255.6 329.1 L256.1 329.1 L256.6 329.1 L257.1 329.1 L257.6 329.1 L258.1 329.1 L258.6 329.1 L259.1 329.1 L259.6 329.1 L260.1 329.1 L260.6 329.1 L261.1 329.1 L261.6 329.1 L262.1 329.1 L262.6 329.1 L263.1 329.1 L263.6 329.1 L264.1 329.1 L264.6 329.1 L265.1 329.1 L265.6 329.1 L266.1 329.1 L266.6 329.1" stroke="#5a6478" stroke-width="1.00" fill="none" stroke-linejoin="round" />
<path d="M42.1 348.1 L42.6 348.1 L43.1 348.1 L43.6 348.1 L44.1 348.1 L44.6 348.2 L45.1 348.2 L45.6 348.2 L46.1 348.2 L46.6 348.2 L47.1 348.2 L47.6 348.2 L48.1 348.2 L48.6 348.2 L49.1 348.2 L49.6 348.2 L50.1 348.2 L50.6 348.2 L51.1 348.2 L51.6 348.2 L52.1 348.2 L52.6 348.2 L53.1 348.3 L53.6 348.3 L54.1 348.3 L54.6 348.3 L55.1 348.3 L55.6 348.3 L56.1 348.3 L56.6 348.3 L57.1 348.3 L57.6 348.3 L58.1 348.4 L58.6 348.4 L59.1 348.4 L59.6 348.4 L60.1 348.4 L60.6 348.4 L61.1 348.4 L61.6 348.5 L62.1 348.5 L62.6 348.5 L63.1 348.5 L63.6 348.5 L64.1 348.5 L64.6 348.6 L65.1 348.6 L65.6 348.6 L66.1 348.6 L66.6 348.6 L67.1 348.7 L67.6 348.7 L68.1 348.7 L68.6 348.7 L69.1 348.8 L69.6 348.8 L70.1 348.8 L70.6 348.8 L71.1 348.9 L71.6 348.9 L72.1 348.9 L72.6 349.0 L73.1 349.0 L73.6 349.0 L74.1 349.1 L74.6 349.1 L75.1 349.2 L75.6 349.2 L76.1 349.2 L76.6 349.3 L77.1 349.3 L77.6 349.4 L78.1 349.4 L78.6 349.5 L79.1 349.5 L79.6 349.6 L80.1 349.6 L80.6 349.7 L81.1 349.8 L81.6 349.8 L82.1 349.9 L82.6 350.0 L83.1 350.0 L83.6 350.1 L84.1 350.2 L84.6 350.2 L85.1 350.3 L85.6 350.4 L86.1 350.5 L86.6 350.6 L87.1 350.6 L87.6 350.7 L88.1 350.8 L88.6 350.9 L89.1 351.0 L89.6 351.1 L90.1 351.2 L90.6 351.3 L91.1 351.4 L91.6 351.6 L92.1 351.7 L92.6 351.8 L93.1 351.9 L93.6 352.0 L94.1 352.2 L94.6 352.3 L95.1 352.4 L95.6 352.6 L96.1 352.7 L96.6 352.9 L97.1 353.0 L97.6 353.2 L98.1 353.3 L98.6 353.5 L99.1 353.7 L99.6 353.8 L100.1 354.0 L100.6 354.2 L101.1 354.4 L101.6 354.6 L102.1 354.7 L102.6 354.9 L103.1 355.1 L103.6 355.3 L104.1 355.5 L104.6 355.7 L105.1 356.0 L105.6 356.2 L106.1 356.4 L106.6 356.6 L107.1 356.8 L107.6 357.1 L108.1 357.3 L108.6 357.5 L109.1 357.7 L109.6 358.0 L110.1 358.2 L110.6 358.5 L111.1 358.7 L111.6 359.0 L112.1 359.2 L112.6 359.5 L113.1 359.7 L113.6 360.0 L114.1 360.2 L114.6 360.5 L115.1 360.7 L115.6 361.0 L116.1 361.3 L116.6 361.5 L117.1 361.8 L117.6 362.0 L118.1 362.3 L118.6 362.6 L119.1 362.8 L119.6 363.1 L120.1 363.3 L120.6 363.6 L121.1 363.8 L121.6 364.1 L122.1 364.4 L122.6 364.6 L123.1 364.9 L123.6 365.1 L124.1 365.4 L124.6 365.6 L125.1 365.8 L125.6 366.1 L126.1 366.3 L126.6 366.5 L127.1 366.8 L127.6 367.0 L128.1 367.2 L128.6 367.5 L129.1 367.7 L129.6 367.9 L130.1 368.1 L130.6 368.3 L131.1 368.5 L131.6 368.7 L132.1 368.9 L132.6 369.1 L133.1 369.3 L133.6 369.5 L134.1 369.7 L134.6 369.8 L135.1 370.0 L135.6 370.2 L136.1 370.4 L136.6 370.5 L137.1 370.7 L137.6 370.8 L138.1 371.0 L138.6 371.2 L139.1 371.3 L139.6 371.4 L140.1 371.6 L140.6 371.7 L141.1 371.8 L141.6 372.0 L142.1 372.1 L142.6 372.2 L143.1 372.3 L143.6 372.5 L144.1 372.6 L144.6 372.7 L145.1 372.8 L145.6 372.9 L146.1 373.0 L146.6 373.1 L147.1 373.2 L147.6 373.3 L148.1 373.4 L148.6 373.4 L149.1 373.5 L149.6 373.6 L150.1 373.7 L150.6 373.8 L151.1 373.8 L151.6 373.9 L152.1 374.0 L152.6 374.0 L153.1 374.1 L153.6 374.2 L154.1 374.2 L154.6 374.3 L155.1 374.4 L155.6 374.4 L156.1 374.5 L156.6 374.5 L157.1 374.6 L157.6 374.6 L158.1 374.7 L158.6 374.7 L159.1 374.7 L159.6 374.8 L160.1 374.8 L160.6 374.9 L161.1 374.9 L161.6 374.9 L162.1 375.0 L162.6 375.0 L163.1 375.0 L163.6 375.1 L164.1 375.1 L164.6 375.1 L165.1 375.2 L165.6 375.2 L166.1 375.2 L166.6 375.2 L167.1 375.3 L167.6 375.3 L168.1 375.3 L168.6 375.3 L169.1 375.4 L169.6 375.4 L170.1 375.4 L170.6 375.4 L171.1 375.4 L171.6 375.5 L172.1 375.5 L172.6 375.5 L173.1 375.5 L173.6 375.5 L174.1 375.5 L174.6 375.6 L175.1 375.6 L175.6 375.6 L176.1 375.6 L176.6 375.6 L177.1 375.6 L177.6 375.6 L178.1 375.6 L178.6 375.7 L179.1 375.7 L179.6 375.7 L180.1 375.7 L180.6 375.7 L181.1 375.7 L181.6 375.7 L182.1 375.7 L182.6 375.7 L183.1 375.7 L183.6 375.7 L184.1 375.8 L184.6 375.8 L185.1 375.8 L185.6 375.8 L186.1 375.8 L186.6 375.8 L187.1 375.8 L187.6 375.8 L188.1 375.8 L188.6 375.8 L189.1 375.8 L189.6 375.8 L190.1 375.8 L190.6 375.8 L191.1 375.8 L191.6 375.8 L192.1 375.8 L192.6 375.8 L193.1 375.8 L193.6 375.8 L194.1 375.9 L194.6 375.9 L195.1 375.9 L195.6 375.9 L196.1 375.9 L196.6 375.9 L197.1 375.9 L197.6 375.9 L198.1 375.9 L198.6 375.9 L199.1 375.9 L199.6 375.9 L200.1 375.9 L200.6 375.9 L201.1 375.9 L201.6 375.9 L202.1 375.9 L202.6 375.9 L203.1 375.9 L203.6 375.9 L204.1 375.9 L204.6 375.9 L205.1 375.9 L205.6 375.9 L206.1 375.9 L206.6 375.9 L207.1 375.9 L207.6 375.9 L208.1 375.9 L208.6 375.9 L209.1 375.9 L209.6 375.9 L210.1 375.9 L210.6 375.9 L211.1 375.9 L211.6 375.9 L212.1 375.9 L212.6 375.9 L213.1 375.9 L213.6 375.9 L214.1 375.9 L214.6 375.9 L215.1 375.9 L215.6 375.9 L216.1 375.9 L216.6 375.9 L217.1 375.9 L217.6 375.9 L218.1 375.9 L218.6 375.9 L219.1 375.9 L219.6 375.9 L220.1 375.9 L220.6 375.9 L221.1 375.9 L221.6 375.9 L222.1 375.9 L222.6 375.9 L223.1 375.9 L223.6 375.9 L224.1 375.9 L224.6 375.9 L225.1 375.9 L225.6 375.9 L226.1 375.9 L226.6 375.9 L227.1 375.9 L227.6 375.9 L228.1 375.9 L228.6 375.9 L229.1 375.9 L229.6 375.9 L230.1 375.9 L230.6 375.9 L231.1 375.9 L231.6 375.9 L232.1 375.9 L232.6 375.9 L233.1 375.9 L233.6 375.9 L234.1 375.9 L234.6 375.9 L235.1 375.9 L235.6 375.9 L236.1 375.9 L236.6 375.9 L237.1 375.9 L237.6 375.9 L238.1 375.9 L238.6 375.9 L239.1 375.9 L239.6 375.9 L240.1 375.9 L240.6 375.9 L241.1 375.9 L241.6 375.9 L242.1 375.9 L242.6 375.9 L243.1 375.9 L243.6 375.9 L244.1 375.9 L244.6 375.9 L245.1 375.9 L245.6 375.9 L246.1 375.9 L246.6 375.9 L247.1 375.9 L247.6 375.9 L248.1 375.9 L248.6 375.9 L249.1 375.9 L249.6 375.9 L250.1 375.9 L250.6 375.9 L251.1 375.9 L251.6 375.9 L252.1 375.9 L252.6 375.9 L253.1 375.9 L253.6 375.9 L254.1 375.9 L254.6 375.9 L255.1 375.9 L255.6 375.9 L256.1 375.9 L256.6 375.9 L257.1 375.9 L257.6 375.9 L258.1 375.9 L258.6 375.9 L259.1 375.9 L259.6 375.9 L260.1 375.9 L260.6 375.9 L261.1 375.9 L261.6 375.9 L262.1 375.9 L262.6 375.9 L263.1 375.9 L263.6 375.9 L264.1 375.9 L264.6 375.9 L265.1 375.9" stroke="#9a7ab4" stroke-width="0.90" fill="none" stroke-linejoin="round" />
<path d="M42.1 347.3 L42.6 347.2 L43.1 347.2 L43.6 347.2 L44.1 347.1 L44.6 347.1 L45.1 347.0 L45.6 347.0 L46.1 347.0 L46.6 346.9 L47.1 346.8 L47.6 346.8 L48.1 346.7 L48.6 346.7 L49.1 346.6 L49.6 346.5 L50.1 346.5 L50.6 346.4 L51.1 346.3 L51.6 346.2 L52.1 346.1 L52.6 346.1 L53.1 346.0 L53.6 345.9 L54.1 345.8 L54.6 345.7 L55.1 345.5 L55.6 345.4 L56.1 345.3 L56.6 345.2 L57.1 345.1 L57.6 344.9 L58.1 344.8 L58.6 344.7 L59.1 344.5 L59.6 344.4 L60.1 344.2 L60.6 344.1 L61.1 343.9 L61.6 343.7 L62.1 343.6 L62.6 343.4 L63.1 343.2 L63.6 343.0 L64.1 342.8 L64.6 342.6 L65.1 342.4 L65.6 342.2 L66.1 342.0 L66.6 341.8 L67.1 341.6 L67.6 341.4 L68.1 341.2 L68.6 340.9 L69.1 340.7 L69.6 340.5 L70.1 340.2 L70.6 340.0 L71.1 339.8 L71.6 339.5 L72.1 339.3 L72.6 339.0 L73.1 338.8 L73.6 338.6 L74.1 338.3 L74.6 338.1 L75.1 337.8 L75.6 337.6 L76.1 337.4 L76.6 337.1 L77.1 336.9 L77.6 336.6 L78.1 336.4 L78.6 336.2 L79.1 336.0 L79.6 335.8 L80.1 335.5 L80.6 335.3 L81.1 335.1 L81.6 334.9 L82.1 334.8 L82.6 334.6 L83.1 334.4 L83.6 334.3 L84.1 334.1 L84.6 334.0 L85.1 333.8 L85.6 333.7 L86.1 333.6 L86.6 333.5 L87.1 333.4 L87.6 333.3 L88.1 333.3 L88.6 333.2 L89.1 333.2 L89.6 333.2 L90.1 333.2 L90.6 333.2 L91.1 333.2 L91.6 333.3 L92.1 333.3 L92.6 333.4 L93.1 333.5 L93.6 333.6 L94.1 333.7 L94.6 333.9 L95.1 334.0 L95.6 334.2 L96.1 334.4 L96.6 334.6 L97.1 334.8 L97.6 335.1 L98.1 335.3 L98.6 335.6 L99.1 335.9 L99.6 336.2 L100.1 336.5 L100.6 336.9 L101.1 337.2 L101.6 337.6 L102.1 337.9 L102.6 338.3 L103.1 338.7 L103.6 339.1 L104.1 339.6 L104.6 340.0 L105.1 340.4 L105.6 340.9 L106.1 341.4 L106.6 341.8 L107.1 342.3 L107.6 342.8 L108.1 343.3 L108.6 343.8 L109.1 344.3 L109.6 344.8 L110.1 345.3 L110.6 345.8 L111.1 346.4 L111.6 346.9 L112.1 347.4 L112.6 348.0 L113.1 348.5 L113.6 349.0 L114.1 349.6 L114.6 350.1 L115.1 350.6 L115.6 351.2 L116.1 351.7 L116.6 352.2 L117.1 352.8 L117.6 353.3 L118.1 353.8 L118.6 354.3 L119.1 354.9 L119.6 355.4 L120.1 355.9 L120.6 356.4 L121.1 356.9 L121.6 357.4 L122.1 357.8 L122.6 358.3 L123.1 358.8 L123.6 359.3 L124.1 359.7 L124.6 360.2 L125.1 360.6 L125.6 361.0 L126.1 361.5 L126.6 361.9 L127.1 362.3 L127.6 362.7 L128.1 363.1 L128.6 363.5 L129.1 363.9 L129.6 364.2 L130.1 364.6 L130.6 365.0 L131.1 365.3 L131.6 365.6 L132.1 366.0 L132.6 366.3 L133.1 366.6 L133.6 366.9 L134.1 367.2 L134.6 367.5 L135.1 367.8 L135.6 368.0 L136.1 368.3 L136.6 368.6 L137.1 368.8 L137.6 369.0 L138.1 369.3 L138.6 369.5 L139.1 369.7 L139.6 369.9 L140.1 370.1 L140.6 370.3 L141.1 370.5 L141.6 370.7 L142.1 370.9 L142.6 371.1 L143.1 371.2 L143.6 371.4 L144.1 371.6 L144.6 371.7 L145.1 371.9 L145.6 372.0 L146.1 372.1 L146.6 372.3 L147.1 372.4 L147.6 372.5 L148.1 372.6 L148.6 372.8 L149.1 372.9 L149.6 373.0 L150.1 373.1 L150.6 373.2 L151.1 373.3 L151.6 373.4 L152.1 373.5 L152.6 373.5 L153.1 373.6 L153.6 373.7 L154.1 373.8 L154.6 373.8 L155.1 373.9 L155.6 374.0 L156.1 374.1 L156.6 374.1 L157.1 374.2 L157.6 374.2 L158.1 374.3 L158.6 374.3 L159.1 374.4 L159.6 374.5 L160.1 374.5 L160.6 374.5 L161.1 374.6 L161.6 374.6 L162.1 374.7 L162.6 374.7 L163.1 374.8 L163.6 374.8 L164.1 374.8 L164.6 374.9 L165.1 374.9 L165.6 374.9 L166.1 375.0 L166.6 375.0 L167.1 375.0 L167.6 375.1 L168.1 375.1 L168.6 375.1 L169.1 375.1 L169.6 375.2 L170.1 375.2 L170.6 375.2 L171.1 375.2 L171.6 375.2 L172.1 375.3 L172.6 375.3 L173.1 375.3 L173.6 375.3 L174.1 375.3 L174.6 375.4 L175.1 375.4 L175.6 375.4 L176.1 375.4 L176.6 375.4 L177.1 375.4 L177.6 375.4 L178.1 375.5 L178.6 375.5 L179.1 375.5 L179.6 375.5 L180.1 375.5 L180.6 375.5 L181.1 375.5 L181.6 375.5 L182.1 375.6 L182.6 375.6 L183.1 375.6 L183.6 375.6 L184.1 375.6 L184.6 375.6 L185.1 375.6 L185.6 375.6 L186.1 375.6 L186.6 375.6 L187.1 375.6 L187.6 375.6 L188.1 375.7 L188.6 375.7 L189.1 375.7 L189.6 375.7 L190.1 375.7 L190.6 375.7 L191.1 375.7 L191.6 375.7 L192.1 375.7 L192.6 375.7 L193.1 375.7 L193.6 375.7 L194.1 375.7 L194.6 375.7 L195.1 375.7 L195.6 375.7 L196.1 375.7 L196.6 375.7 L197.1 375.7 L197.6 375.8 L198.1 375.8 L198.6 375.8 L199.1 375.8 L199.6 375.8 L200.1 375.8 L200.6 375.8 L201.1 375.8 L201.6 375.8 L202.1 375.8 L202.6 375.8 L203.1 375.8 L203.6 375.8 L204.1 375.8 L204.6 375.8 L205.1 375.8 L205.6 375.8 L206.1 375.8 L206.6 375.8 L207.1 375.8 L207.6 375.8 L208.1 375.8 L208.6 375.8 L209.1 375.8 L209.6 375.8 L210.1 375.8 L210.6 375.8 L211.1 375.8 L211.6 375.8 L212.1 375.8 L212.6 375.8 L213.1 375.8 L213.6 375.8 L214.1 375.8 L214.6 375.8 L215.1 375.8 L215.6 375.8 L216.1 375.8 L216.6 375.8 L217.1 375.8 L217.6 375.8 L218.1 375.8 L218.6 375.8 L219.1 375.8 L219.6 375.8 L220.1 375.8 L220.6 375.8 L221.1 375.8 L221.6 375.8 L222.1 375.9 L222.6 375.9 L223.1 375.9 L223.6 375.9 L224.1 375.9 L224.6 375.9 L225.1 375.9 L225.6 375.9 L226.1 375.9 L226.6 375.9 L227.1 375.9 L227.6 375.9 L228.1 375.9 L228.6 375.9 L229.1 375.9 L229.6 375.9 L230.1 375.9 L230.6 375.9 L231.1 375.9 L231.6 375.9 L232.1 375.9 L232.6 375.9 L233.1 375.9 L233.6 375.9 L234.1 375.9 L234.6 375.9 L235.1 375.9 L235.6 375.9 L236.1 375.9 L236.6 375.9 L237.1 375.9 L237.6 375.9 L238.1 375.9 L238.6 375.9 L239.1 375.9 L239.6 375.9 L240.1 375.9 L240.6 375.9 L241.1 375.9 L241.6 375.9 L242.1 375.9 L242.6 375.9 L243.1 375.9 L243.6 375.9 L244.1 375.9 L244.6 375.9 L245.1 375.9 L245.6 375.9 L246.1 375.9 L246.6 375.9 L247.1 375.9 L247.6 375.9 L248.1 375.9 L248.6 375.9 L249.1 375.9 L249.6 375.9 L250.1 375.9 L250.6 375.9 L251.1 375.9 L251.6 375.9 L252.1 375.9 L252.6 375.9 L253.1 375.9 L253.6 375.9 L254.1 375.9 L254.6 375.9 L255.1 375.9 L255.6 375.9 L256.1 375.9 L256.6 375.9 L257.1 375.9 L257.6 375.9 L258.1 375.9 L258.6 375.9 L259.1 375.9 L259.6 375.9 L260.1 375.9 L260.6 375.9 L261.1 375.9 L261.6 375.9 L262.1 375.9 L262.6 375.9 L263.1 375.9 L263.6 375.9 L264.1 375.9 L264.6 375.9 L265.1 375.9" stroke="#929a7c" stroke-width="0.90" fill="none" stroke-linejoin="round" />
<path d="M42.1 347.2 L42.6 347.2 L43.1 347.2 L43.6 347.2 L44.1 347.2 L44.6 347.2 L45.1 347.2 L45.6 347.1 L46.1 347.1 L46.6 347.1 L47.1 347.1 L47.6 347.1 L48.1 347.1 L48.6 347.1 L49.1 347.1 L49.6 347.1 L50.1 347.1 L50.6 347.1 L51.1 347.1 L51.6 347.0 L52.1 347.0 L52.6 347.0 L53.1 347.0 L53.6 347.0 L54.1 347.0 L54.6 347.0 L55.1 347.0 L55.6 347.0 L56.1 347.0 L56.6 347.0 L57.1 346.9 L57.6 346.9 L58.1 346.9 L58.6 346.9 L59.1 346.9 L59.6 346.9 L60.1 346.9 L60.6 346.9 L61.1 346.9 L61.6 346.9 L62.1 346.9 L62.6 346.8 L63.1 346.8 L63.6 346.8 L64.1 346.8 L64.6 346.8 L65.1 346.8 L65.6 346.8 L66.1 346.8 L66.6 346.8 L67.1 346.8 L67.6 346.7 L68.1 346.7 L68.6 346.7 L69.1 346.7 L69.6 346.7 L70.1 346.7 L70.6 346.7 L71.1 346.7 L71.6 346.7 L72.1 346.6 L72.6 346.6 L73.1 346.6 L73.6 346.6 L74.1 346.6 L74.6 346.6 L75.1 346.6 L75.6 346.6 L76.1 346.5 L76.6 346.5 L77.1 346.5 L77.6 346.5 L78.1 346.5 L78.6 346.5 L79.1 346.5 L79.6 346.4 L80.1 346.4 L80.6 346.4 L81.1 346.4 L81.6 346.3 L82.1 346.3 L82.6 346.3 L83.1 346.3 L83.6 346.2 L84.1 346.2 L84.6 346.1 L85.1 346.1 L85.6 346.0 L86.1 346.0 L86.6 345.9 L87.1 345.9 L87.6 345.8 L88.1 345.7 L88.6 345.7 L89.1 345.6 L89.6 345.5 L90.1 345.4 L90.6 345.3 L91.1 345.2 L91.6 345.1 L92.1 344.9 L92.6 344.8 L93.1 344.6 L93.6 344.5 L94.1 344.3 L94.6 344.1 L95.1 343.9 L95.6 343.7 L96.1 343.5 L96.6 343.2 L97.1 343.0 L97.6 342.7 L98.1 342.4 L98.6 342.1 L99.1 341.8 L99.6 341.5 L100.1 341.1 L100.6 340.7 L101.1 340.3 L101.6 339.9 L102.1 339.5 L102.6 339.0 L103.1 338.6 L103.6 338.1 L104.1 337.6 L104.6 337.0 L105.1 336.5 L105.6 335.9 L106.1 335.3 L106.6 334.7 L107.1 334.1 L107.6 333.5 L108.1 332.9 L108.6 332.2 L109.1 331.5 L109.6 330.9 L110.1 330.2 L110.6 329.5 L111.1 328.8 L111.6 328.1 L112.1 327.4 L112.6 326.8 L113.1 326.1 L113.6 325.4 L114.1 324.8 L114.6 324.2 L115.1 323.7 L115.6 323.1 L116.1 322.7 L116.6 322.2 L117.1 321.9 L117.6 321.5 L118.1 321.3 L118.6 321.1 L119.1 321.0 L119.6 321.0 L120.1 321.0 L120.6 321.1 L121.1 321.4 L121.6 321.7 L122.1 322.1 L122.6 322.5 L123.1 323.1 L123.6 323.7 L124.1 324.4 L124.6 325.1 L125.1 326.0 L125.6 326.9 L126.1 327.8 L126.6 328.8 L127.1 329.8 L127.6 330.8 L128.1 331.9 L128.6 333.0 L129.1 334.1 L129.6 335.3 L130.1 336.4 L130.6 337.5 L131.1 338.7 L131.6 339.8 L132.1 340.9 L132.6 342.1 L133.1 343.2 L133.6 344.2 L134.1 345.3 L134.6 346.4 L135.1 347.4 L135.6 348.4 L136.1 349.4 L136.6 350.4 L137.1 351.3 L137.6 352.2 L138.1 353.1 L138.6 354.0 L139.1 354.8 L139.6 355.6 L140.1 356.4 L140.6 357.1 L141.1 357.9 L141.6 358.6 L142.1 359.2 L142.6 359.9 L143.1 360.5 L143.6 361.1 L144.1 361.7 L144.6 362.2 L145.1 362.8 L145.6 363.3 L146.1 363.8 L146.6 364.2 L147.1 364.7 L147.6 365.1 L148.1 365.5 L148.6 365.9 L149.1 366.3 L149.6 366.6 L150.1 367.0 L150.6 367.3 L151.1 367.6 L151.6 367.9 L152.1 368.2 L152.6 368.4 L153.1 368.7 L153.6 368.9 L154.1 369.2 L154.6 369.4 L155.1 369.6 L155.6 369.8 L156.1 370.0 L156.6 370.2 L157.1 370.4 L157.6 370.5 L158.1 370.7 L158.6 370.8 L159.1 371.0 L159.6 371.1 L160.1 371.3 L160.6 371.4 L161.1 371.5 L161.6 371.6 L162.1 371.8 L162.6 371.9 L163.1 372.0 L163.6 372.1 L164.1 372.2 L164.6 372.3 L165.1 372.4 L165.6 372.4 L166.1 372.5 L166.6 372.6 L167.1 372.7 L167.6 372.8 L168.1 372.8 L168.6 372.9 L169.1 373.0 L169.6 373.0 L170.1 373.1 L170.6 373.2 L171.1 373.2 L171.6 373.3 L172.1 373.3 L172.6 373.4 L173.1 373.5 L173.6 373.5 L174.1 373.6 L174.6 373.6 L175.1 373.7 L175.6 373.7 L176.1 373.7 L176.6 373.8 L177.1 373.8 L177.6 373.9 L178.1 373.9 L178.6 374.0 L179.1 374.0 L179.6 374.0 L180.1 374.1 L180.6 374.1 L181.1 374.1 L181.6 374.2 L182.1 374.2 L182.6 374.2 L183.1 374.3 L183.6 374.3 L184.1 374.3 L184.6 374.3 L185.1 374.4 L185.6 374.4 L186.1 374.4 L186.6 374.5 L187.1 374.5 L187.6 374.5 L188.1 374.5 L188.6 374.6 L189.1 374.6 L189.6 374.6 L190.1 374.6 L190.6 374.6 L191.1 374.7 L191.6 374.7 L192.1 374.7 L192.6 374.7 L193.1 374.7 L193.6 374.8 L194.1 374.8 L194.6 374.8 L195.1 374.8 L195.6 374.8 L196.1 374.8 L196.6 374.9 L197.1 374.9 L197.6 374.9 L198.1 374.9 L198.6 374.9 L199.1 374.9 L199.6 374.9 L200.1 375.0 L200.6 375.0 L201.1 375.0 L201.6 375.0 L202.1 375.0 L202.6 375.0 L203.1 375.0 L203.6 375.0 L204.1 375.1 L204.6 375.1 L205.1 375.1 L205.6 375.1 L206.1 375.1 L206.6 375.1 L207.1 375.1 L207.6 375.1 L208.1 375.1 L208.6 375.2 L209.1 375.2 L209.6 375.2 L210.1 375.2 L210.6 375.2 L211.1 375.2 L211.6 375.2 L212.1 375.2 L212.6 375.2 L213.1 375.2 L213.6 375.2 L214.1 375.2 L214.6 375.3 L215.1 375.3 L215.6 375.3 L216.1 375.3 L216.6 375.3 L217.1 375.3 L217.6 375.3 L218.1 375.3 L218.6 375.3 L219.1 375.3 L219.6 375.3 L220.1 375.3 L220.6 375.3 L221.1 375.3 L221.6 375.4 L222.1 375.4 L222.6 375.4 L223.1 375.4 L223.6 375.4 L224.1 375.4 L224.6 375.4 L225.1 375.4 L225.6 375.4 L226.1 375.4 L226.6 375.4 L227.1 375.4 L227.6 375.4 L228.1 375.4 L228.6 375.4 L229.1 375.4 L229.6 375.4 L230.1 375.4 L230.6 375.4 L231.1 375.5 L231.6 375.5 L232.1 375.5 L232.6 375.5 L233.1 375.5 L233.6 375.5 L234.1 375.5 L234.6 375.5 L235.1 375.5 L235.6 375.5 L236.1 375.5 L236.6 375.5 L237.1 375.5 L237.6 375.5 L238.1 375.5 L238.6 375.5 L239.1 375.5 L239.6 375.5 L240.1 375.5 L240.6 375.5 L241.1 375.5 L241.6 375.5 L242.1 375.5 L242.6 375.5 L243.1 375.5 L243.6 375.5 L244.1 375.6 L244.6 375.6 L245.1 375.6 L245.6 375.6 L246.1 375.6 L246.6 375.6 L247.1 375.6 L247.6 375.6 L248.1 375.6 L248.6 375.6 L249.1 375.6 L249.6 375.6 L250.1 375.6 L250.6 375.6 L251.1 375.6 L251.6 375.6 L252.1 375.6 L252.6 375.6 L253.1 375.6 L253.6 375.6 L254.1 375.6 L254.6 375.6 L255.1 375.6 L255.6 375.6 L256.1 375.6 L256.6 375.6 L257.1 375.6 L257.6 375.6 L258.1 375.6 L258.6 375.6 L259.1 375.6 L259.6 375.6 L260.1 375.6 L260.6 375.6 L261.1 375.6 L261.6 375.6 L262.1 375.6 L262.6 375.6 L263.1 375.6 L263.6 375.7 L264.1 375.7 L264.6 375.7 L265.1 375.7" stroke="#a26a5a" stroke-width="0.90" fill="none" stroke-linejoin="round" />
<path d="M42.1 348.0 L42.6 348.0 L43.1 348.0 L43.6 348.0 L44.1 348.0 L44.6 348.0 L45.1 348.0 L45.6 348.0 L46.1 348.0 L46.6 348.0 L47.1 348.0 L47.6 348.0 L48.1 348.0 L48.6 348.0 L49.1 348.0 L49.6 348.0 L50.1 348.0 L50.6 348.0 L51.1 348.0 L51.6 348.0 L52.1 348.0 L52.6 348.0 L53.1 348.0 L53.6 348.0 L54.1 348.0 L54.6 348.0 L55.1 348.1 L55.6 348.1 L56.1 348.1 L56.6 348.1 L57.1 348.1 L57.6 348.1 L58.1 348.1 L58.6 348.1 L59.1 348.1 L59.6 348.1 L60.1 348.1 L60.6 348.2 L61.1 348.2 L61.6 348.2 L62.1 348.2 L62.6 348.2 L63.1 348.2 L63.6 348.2 L64.1 348.2 L64.6 348.3 L65.1 348.3 L65.6 348.3 L66.1 348.3 L66.6 348.3 L67.1 348.3 L67.6 348.4 L68.1 348.4 L68.6 348.4 L69.1 348.4 L69.6 348.4 L70.1 348.5 L70.6 348.5 L71.1 348.5 L71.6 348.5 L72.1 348.6 L72.6 348.6 L73.1 348.6 L73.6 348.7 L74.1 348.7 L74.6 348.7 L75.1 348.8 L75.6 348.8 L76.1 348.8 L76.6 348.9 L77.1 348.9 L77.6 348.9 L78.1 349.0 L78.6 349.0 L79.1 349.1 L79.6 349.1 L80.1 349.2 L80.6 349.2 L81.1 349.3 L81.6 349.3 L82.1 349.4 L82.6 349.4 L83.1 349.5 L83.6 349.5 L84.1 349.6 L84.6 349.7 L85.1 349.7 L85.6 349.8 L86.1 349.9 L86.6 350.0 L87.1 350.0 L87.6 350.1 L88.1 350.2 L88.6 350.3 L89.1 350.4 L89.6 350.4 L90.1 350.5 L90.6 350.6 L91.1 350.7 L91.6 350.8 L92.1 350.9 L92.6 351.0 L93.1 351.1 L93.6 351.2 L94.1 351.4 L94.6 351.5 L95.1 351.6 L95.6 351.7 L96.1 351.8 L96.6 352.0 L97.1 352.1 L97.6 352.2 L98.1 352.4 L98.6 352.5 L99.1 352.6 L99.6 352.8 L100.1 352.9 L100.6 353.1 L101.1 353.2 L101.6 353.4 L102.1 353.6 L102.6 353.7 L103.1 353.9 L103.6 354.0 L104.1 354.2 L104.6 354.4 L105.1 354.5 L105.6 354.7 L106.1 354.9 L106.6 355.1 L107.1 355.2 L107.6 355.4 L108.1 355.6 L108.6 355.8 L109.1 356.0 L109.6 356.1 L110.1 356.3 L110.6 356.5 L111.1 356.7 L111.6 356.9 L112.1 357.0 L112.6 357.2 L113.1 357.4 L113.6 357.6 L114.1 357.7 L114.6 357.9 L115.1 358.0 L115.6 358.2 L116.1 358.3 L116.6 358.5 L117.1 358.6 L117.6 358.7 L118.1 358.9 L118.6 359.0 L119.1 359.1 L119.6 359.1 L120.1 359.2 L120.6 359.2 L121.1 359.3 L121.6 359.3 L122.1 359.3 L122.6 359.3 L123.1 359.2 L123.6 359.1 L124.1 359.0 L124.6 358.9 L125.1 358.7 L125.6 358.5 L126.1 358.2 L126.6 357.9 L127.1 357.5 L127.6 357.1 L128.1 356.7 L128.6 356.2 L129.1 355.6 L129.6 355.0 L130.1 354.3 L130.6 353.5 L131.1 352.7 L131.6 351.8 L132.1 350.8 L132.6 349.8 L133.1 348.7 L133.6 347.6 L134.1 346.5 L134.6 345.3 L135.1 344.2 L135.6 343.1 L136.1 342.0 L136.6 341.1 L137.1 340.3 L137.6 339.7 L138.1 339.3 L138.6 339.1 L139.1 339.1 L139.6 339.5 L140.1 340.0 L140.6 340.8 L141.1 341.7 L141.6 342.9 L142.1 344.1 L142.6 345.5 L143.1 346.9 L143.6 348.3 L144.1 349.7 L144.6 351.2 L145.1 352.6 L145.6 353.9 L146.1 355.2 L146.6 356.5 L147.1 357.6 L147.6 358.7 L148.1 359.8 L148.6 360.8 L149.1 361.7 L149.6 362.5 L150.1 363.3 L150.6 364.1 L151.1 364.8 L151.6 365.4 L152.1 366.0 L152.6 366.6 L153.1 367.1 L153.6 367.6 L154.1 368.0 L154.6 368.4 L155.1 368.8 L155.6 369.1 L156.1 369.5 L156.6 369.8 L157.1 370.1 L157.6 370.3 L158.1 370.6 L158.6 370.8 L159.1 371.0 L159.6 371.2 L160.1 371.4 L160.6 371.6 L161.1 371.8 L161.6 371.9 L162.1 372.1 L162.6 372.2 L163.1 372.4 L163.6 372.5 L164.1 372.6 L164.6 372.8 L165.1 372.9 L165.6 373.0 L166.1 373.1 L166.6 373.2 L167.1 373.3 L167.6 373.4 L168.1 373.4 L168.6 373.5 L169.1 373.6 L169.6 373.7 L170.1 373.7 L170.6 373.8 L171.1 373.9 L171.6 373.9 L172.1 374.0 L172.6 374.1 L173.1 374.1 L173.6 374.2 L174.1 374.2 L174.6 374.3 L175.1 374.3 L175.6 374.4 L176.1 374.4 L176.6 374.5 L177.1 374.5 L177.6 374.5 L178.1 374.6 L178.6 374.6 L179.1 374.6 L179.6 374.7 L180.1 374.7 L180.6 374.7 L181.1 374.8 L181.6 374.8 L182.1 374.8 L182.6 374.9 L183.1 374.9 L183.6 374.9 L184.1 374.9 L184.6 375.0 L185.1 375.0 L185.6 375.0 L186.1 375.0 L186.6 375.1 L187.1 375.1 L187.6 375.1 L188.1 375.1 L188.6 375.1 L189.1 375.1 L189.6 375.2 L190.1 375.2 L190.6 375.2 L191.1 375.2 L191.6 375.2 L192.1 375.2 L192.6 375.3 L193.1 375.3 L193.6 375.3 L194.1 375.3 L194.6 375.3 L195.1 375.3 L195.6 375.3 L196.1 375.4 L196.6 375.4 L197.1 375.4 L197.6 375.4 L198.1 375.4 L198.6 375.4 L199.1 375.4 L199.6 375.4 L200.1 375.4 L200.6 375.4 L201.1 375.5 L201.6 375.5 L202.1 375.5 L202.6 375.5 L203.1 375.5 L203.6 375.5 L204.1 375.5 L204.6 375.5 L205.1 375.5 L205.6 375.5 L206.1 375.5 L206.6 375.5 L207.1 375.5 L207.6 375.6 L208.1 375.6 L208.6 375.6 L209.1 375.6 L209.6 375.6 L210.1 375.6 L210.6 375.6 L211.1 375.6 L211.6 375.6 L212.1 375.6 L212.6 375.6 L213.1 375.6 L213.6 375.6 L214.1 375.6 L214.6 375.6 L215.1 375.6 L215.6 375.6 L216.1 375.6 L216.6 375.6 L217.1 375.7 L217.6 375.7 L218.1 375.7 L218.6 375.7 L219.1 375.7 L219.6 375.7 L220.1 375.7 L220.6 375.7 L221.1 375.7 L221.6 375.7 L222.1 375.7 L222.6 375.7 L223.1 375.7 L223.6 375.7 L224.1 375.7 L224.6 375.7 L225.1 375.7 L225.6 375.7 L226.1 375.7 L226.6 375.7 L227.1 375.7 L227.6 375.7 L228.1 375.7 L228.6 375.7 L229.1 375.7 L229.6 375.7 L230.1 375.7 L230.6 375.7 L231.1 375.7 L231.6 375.7 L232.1 375.7 L232.6 375.7 L233.1 375.7 L233.6 375.8 L234.1 375.8 L234.6 375.8 L235.1 375.8 L235.6 375.8 L236.1 375.8 L236.6 375.8 L237.1 375.8 L237.6 375.8 L238.1 375.8 L238.6 375.8 L239.1 375.8 L239.6 375.8 L240.1 375.8 L240.6 375.8 L241.1 375.8 L241.6 375.8 L242.1 375.8 L242.6 375.8 L243.1 375.8 L243.6 375.8 L244.1 375.8 L244.6 375.8 L245.1 375.8 L245.6 375.8 L246.1 375.8 L246.6 375.8 L247.1 375.8 L247.6 375.8 L248.1 375.8 L248.6 375.8 L249.1 375.8 L249.6 375.8 L250.1 375.8 L250.6 375.8 L251.1 375.8 L251.6 375.8 L252.1 375.8 L252.6 375.8 L253.1 375.8 L253.6 375.8 L254.1 375.8 L254.6 375.8 L255.1 375.8 L255.6 375.8 L256.1 375.8 L256.6 375.8 L257.1 375.8 L257.6 375.8 L258.1 375.8 L258.6 375.8 L259.1 375.8 L259.6 375.8 L260.1 375.8 L260.6 375.8 L261.1 375.8 L261.6 375.8 L262.1 375.8 L262.6 375.8 L263.1 375.8 L263.6 375.8 L264.1 375.8 L264.6 375.8 L265.1 375.8" stroke="#c474cc" stroke-width="0.90" fill="none" stroke-linejoin="round" />
<path d="M42.1 346.9 L45.1 347.1 L48.1 343.7 L51.1 344.8 L54.1 345.0 L57.1 344.4 L60.1 342.9 L63.1 342.3 L66.1 340.1 L69.1 338.7 L72.1 336.7 L75.1 334.1 L78.1 332.4 L81.1 331.5 L84.1 329.2 L87.1 328.9 L90.1 327.6 L93.1 326.7 L96.1 324.3 L99.1 324.0 L102.1 320.9 L105.1 319.0 L108.1 317.2 L111.1 314.6 L114.1 310.6 L117.1 308.5 L120.1 309.7 L123.1 310.7 L126.1 315.7 L129.1 318.5 L132.1 320.1 L135.1 319.4 L138.1 320.3 L141.1 326.3 L144.1 338.6 L147.1 348.0 L150.1 355.9 L153.1 360.7 L156.1 365.0 L159.1 367.0 L162.1 368.0 L165.1 371.2 L168.1 370.5 L171.1 371.4 L174.1 372.3 L177.1 373.7 L180.1 372.8 L183.1 373.7 L186.1 373.6 L189.1 372.7 L192.1 374.5 L195.1 374.9 L198.1 374.1 L201.1 374.4 L204.1 373.5 L207.1 373.6 L210.1 374.5 L213.1 375.3 L216.1 374.6 L219.1 375.2 L222.1 375.7 L225.1 375.2 L228.1 375.5 L231.1 376.2 L234.1 374.4 L237.1 375.8 L240.1 374.0 L243.1 375.6 L246.1 375.5 L249.1 375.0 L252.1 374.7 L255.1 375.4 L258.1 375.2 L261.1 375.5 L264.1 374.9" stroke="#f2eaa8" stroke-width="1.00" fill="none" stroke-linejoin="round" />
<path d="M42.1 346.2 L42.6 346.1 L43.1 346.1 L43.6 346.0 L44.1 346.0 L44.6 345.9 L45.1 345.9 L45.6 345.8 L46.1 345.7 L46.6 345.7 L47.1 345.6 L47.6 345.5 L48.1 345.4 L48.6 345.4 L49.1 345.3 L49.6 345.2 L50.1 345.1 L50.6 345.0 L51.1 344.9 L51.6 344.8 L52.1 344.7 L52.6 344.6 L53.1 344.5 L53.6 344.4 L54.1 344.3 L54.6 344.1 L55.1 344.0 L55.6 343.9 L56.1 343.7 L56.6 343.6 L57.1 343.4 L57.6 343.3 L58.1 343.1 L58.6 342.9 L59.1 342.8 L59.6 342.6 L60.1 342.4 L60.6 342.2 L61.1 342.0 L61.6 341.9 L62.1 341.6 L62.6 341.4 L63.1 341.2 L63.6 341.0 L64.1 340.8 L64.6 340.6 L65.1 340.3 L65.6 340.1 L66.1 339.9 L66.6 339.6 L67.1 339.4 L67.6 339.1 L68.1 338.8 L68.6 338.6 L69.1 338.3 L69.6 338.0 L70.1 337.8 L70.6 337.5 L71.1 337.2 L71.6 336.9 L72.1 336.6 L72.6 336.3 L73.1 336.0 L73.6 335.7 L74.1 335.4 L74.6 335.1 L75.1 334.8 L75.6 334.5 L76.1 334.2 L76.6 333.9 L77.1 333.6 L77.6 333.3 L78.1 333.0 L78.6 332.7 L79.1 332.4 L79.6 332.1 L80.1 331.8 L80.6 331.5 L81.1 331.2 L81.6 331.0 L82.1 330.7 L82.6 330.4 L83.1 330.1 L83.6 329.8 L84.1 329.6 L84.6 329.3 L85.1 329.0 L85.6 328.8 L86.1 328.5 L86.6 328.3 L87.1 328.0 L87.6 327.8 L88.1 327.6 L88.6 327.3 L89.1 327.1 L89.6 326.9 L90.1 326.7 L90.6 326.5 L91.1 326.3 L91.6 326.0 L92.1 325.8 L92.6 325.6 L93.1 325.4 L93.6 325.2 L94.1 325.1 L94.6 324.9 L95.1 324.7 L95.6 324.5 L96.1 324.3 L96.6 324.1 L97.1 323.9 L97.6 323.7 L98.1 323.4 L98.6 323.2 L99.1 323.0 L99.6 322.8 L100.1 322.5 L100.6 322.3 L101.1 322.0 L101.6 321.8 L102.1 321.5 L102.6 321.2 L103.1 320.9 L103.6 320.6 L104.1 320.3 L104.6 319.9 L105.1 319.6 L105.6 319.2 L106.1 318.8 L106.6 318.4 L107.1 318.0 L107.6 317.6 L108.1 317.2 L108.6 316.7 L109.1 316.3 L109.6 315.8 L110.1 315.4 L110.6 314.9 L111.1 314.4 L111.6 314.0 L112.1 313.5 L112.6 313.0 L113.1 312.6 L113.6 312.1 L114.1 311.7 L114.6 311.3 L115.1 310.9 L115.6 310.5 L116.1 310.2 L116.6 309.9 L117.1 309.7 L117.6 309.5 L118.1 309.4 L118.6 309.3 L119.1 309.3 L119.6 309.3 L120.1 309.4 L120.6 309.6 L121.1 309.8 L121.6 310.1 L122.1 310.5 L122.6 310.9 L123.1 311.3 L123.6 311.9 L124.1 312.4 L124.6 313.0 L125.1 313.6 L125.6 314.2 L126.1 314.8 L126.6 315.5 L127.1 316.1 L127.6 316.7 L128.1 317.2 L128.6 317.8 L129.1 318.2 L129.6 318.7 L130.1 319.1 L130.6 319.4 L131.1 319.6 L131.6 319.8 L132.1 319.9 L132.6 319.9 L133.1 319.9 L133.6 319.8 L134.1 319.6 L134.6 319.5 L135.1 319.3 L135.6 319.1 L136.1 319.0 L136.6 319.0 L137.1 319.0 L137.6 319.3 L138.1 319.7 L138.6 320.3 L139.1 321.1 L139.6 322.1 L140.1 323.4 L140.6 324.8 L141.1 326.4 L141.6 328.2 L142.1 330.0 L142.6 332.0 L143.1 333.9 L143.6 335.9 L144.1 337.9 L144.6 339.8 L145.1 341.6 L145.6 343.4 L146.1 345.2 L146.6 346.8 L147.1 348.4 L147.6 349.8 L148.1 351.2 L148.6 352.5 L149.1 353.8 L149.6 354.9 L150.1 356.0 L150.6 357.0 L151.1 358.0 L151.6 358.9 L152.1 359.7 L152.6 360.5 L153.1 361.2 L153.6 361.8 L154.1 362.5 L154.6 363.1 L155.1 363.6 L155.6 364.1 L156.1 364.6 L156.6 365.1 L157.1 365.5 L157.6 365.9 L158.1 366.2 L158.6 366.6 L159.1 366.9 L159.6 367.2 L160.1 367.5 L160.6 367.8 L161.1 368.1 L161.6 368.3 L162.1 368.6 L162.6 368.8 L163.1 369.0 L163.6 369.2 L164.1 369.4 L164.6 369.6 L165.1 369.8 L165.6 370.0 L166.1 370.1 L166.6 370.3 L167.1 370.4 L167.6 370.6 L168.1 370.7 L168.6 370.9 L169.1 371.0 L169.6 371.1 L170.1 371.2 L170.6 371.3 L171.1 371.5 L171.6 371.6 L172.1 371.7 L172.6 371.8 L173.1 371.9 L173.6 372.0 L174.1 372.0 L174.6 372.1 L175.1 372.2 L175.6 372.3 L176.1 372.4 L176.6 372.4 L177.1 372.5 L177.6 372.6 L178.1 372.7 L178.6 372.7 L179.1 372.8 L179.6 372.9 L180.1 372.9 L180.6 373.0 L181.1 373.0 L181.6 373.1 L182.1 373.1 L182.6 373.2 L183.1 373.2 L183.6 373.3 L184.1 373.3 L184.6 373.4 L185.1 373.4 L185.6 373.5 L186.1 373.5 L186.6 373.6 L187.1 373.6 L187.6 373.7 L188.1 373.7 L188.6 373.7 L189.1 373.8 L189.6 373.8 L190.1 373.8 L190.6 373.9 L191.1 373.9 L191.6 373.9 L192.1 374.0 L192.6 374.0 L193.1 374.0 L193.6 374.1 L194.1 374.1 L194.6 374.1 L195.1 374.1 L195.6 374.2 L196.1 374.2 L196.6 374.2 L197.1 374.3 L197.6 374.3 L198.1 374.3 L198.6 374.3 L199.1 374.3 L199.6 374.4 L200.1 374.4 L200.6 374.4 L201.1 374.4 L201.6 374.5 L202.1 374.5 L202.6 374.5 L203.1 374.5 L203.6 374.5 L204.1 374.6 L204.6 374.6 L205.1 374.6 L205.6 374.6 L206.1 374.6 L206.6 374.6 L207.1 374.7 L207.6 374.7 L208.1 374.7 L208.6 374.7 L209.1 374.7 L209.6 374.7 L210.1 374.7 L210.6 374.8 L211.1 374.8 L211.6 374.8 L212.1 374.8 L212.6 374.8 L213.1 374.8 L213.6 374.8 L214.1 374.9 L214.6 374.9 L215.1 374.9 L215.6 374.9 L216.1 374.9 L216.6 374.9 L217.1 374.9 L217.6 374.9 L218.1 375.0 L218.6 375.0 L219.1 375.0 L219.6 375.0 L220.1 375.0 L220.6 375.0 L221.1 375.0 L221.6 375.0 L222.1 375.0 L222.6 375.0 L223.1 375.1 L223.6 375.1 L224.1 375.1 L224.6 375.1 L225.1 375.1 L225.6 375.1 L226.1 375.1 L226.6 375.1 L227.1 375.1 L227.6 375.1 L228.1 375.1 L228.6 375.1 L229.1 375.2 L229.6 375.2 L230.1 375.2 L230.6 375.2 L231.1 375.2 L231.6 375.2 L232.1 375.2 L232.6 375.2 L233.1 375.2 L233.6 375.2 L234.1 375.2 L234.6 375.2 L235.1 375.2 L235.6 375.2 L236.1 375.2 L236.6 375.3 L237.1 375.3 L237.6 375.3 L238.1 375.3 L238.6 375.3 L239.1 375.3 L239.6 375.3 L240.1 375.3 L240.6 375.3 L241.1 375.3 L241.6 375.3 L242.1 375.3 L242.6 375.3 L243.1 375.3 L243.6 375.3 L244.1 375.3 L244.6 375.3 L245.1 375.3 L245.6 375.4 L246.1 375.4 L246.6 375.4 L247.1 375.4 L247.6 375.4 L248.1 375.4 L248.6 375.4 L249.1 375.4 L249.6 375.4 L250.1 375.4 L250.6 375.4 L251.1 375.4 L251.6 375.4 L252.1 375.4 L252.6 375.4 L253.1 375.4 L253.6 375.4 L254.1 375.4 L254.6 375.4 L255.1 375.4 L255.6 375.4 L256.1 375.4 L256.6 375.4 L257.1 375.5 L257.6 375.5 L258.1 375.5 L258.6 375.5 L259.1 375.5 L259.6 375.5 L260.1 375.5 L260.6 375.5 L261.1 375.5 L261.6 375.5 L262.1 375.5 L262.6 375.5 L263.1 375.5 L263.6 375.5 L264.1 375.5 L264.6 375.5 L265.1 375.5" stroke="#dccc58" stroke-width="1.00" fill="none" stroke-linejoin="round" />
<path d="M42.1 384.1 L42.6 384.1 L43.1 384.1 L43.6 384.1 L44.1 384.1 L44.6 384.1 L45.1 384.1 L45.6 384.1 L46.1 384.1 L46.6 384.1 L47.1 384.1 L47.6 384.1 L48.1 384.1 L48.6 384.1 L49.1 384.1 L49.6 384.1 L50.1 384.1 L50.6 384.1 L51.1 384.1 L51.6 384.1 L52.1 384.1 L52.6 384.1 L53.1 384.1 L53.6 384.1 L54.1 384.1 L54.6 384.1 L55.1 384.1 L55.6 384.1 L56.1 384.1 L56.6 384.1 L57.1 384.1 L57.6 384.1 L58.1 384.1 L58.6 384.1 L59.1 384.1 L59.6 384.1 L60.1 384.1 L60.6 384.1 L61.1 384.1 L61.6 384.1 L62.1 384.1 L62.6 384.1 L63.1 384.1 L63.6 384.1 L64.1 384.1 L64.6 384.1 L65.1 384.1 L65.6 384.1 L66.1 384.1 L66.6 384.1 L67.1 384.1 L67.6 384.1 L68.1 384.1 L68.6 384.1 L69.1 384.1 L69.6 384.1 L70.1 384.1 L70.6 384.1 L71.1 384.1 L71.6 384.1 L72.1 384.1 L72.6 384.1 L73.1 384.1 L73.6 384.1 L74.1 384.1 L74.6 384.1 L75.1 384.1 L75.6 384.1 L76.1 384.1 L76.6 384.1 L77.1 384.1 L77.6 384.2 L78.1 384.2 L78.6 384.2 L79.1 384.2 L79.6 384.2 L80.1 384.2 L80.6 384.2 L81.1 384.2 L81.6 384.2 L82.1 384.2 L82.6 384.2 L83.1 384.2 L83.6 384.2 L84.1 384.2 L84.6 384.2 L85.1 384.3 L85.6 384.3 L86.1 384.3 L86.6 384.3 L87.1 384.3 L87.6 384.3 L88.1 384.3 L88.6 384.3 L89.1 384.3 L89.6 384.4 L90.1 384.4 L90.6 384.4 L91.1 384.4 L91.6 384.4 L92.1 384.4 L92.6 384.5 L93.1 384.5 L93.6 384.5 L94.1 384.5 L94.6 384.5 L95.1 384.6 L95.6 384.6 L96.1 384.6 L96.6 384.6 L97.1 384.7 L97.6 384.7 L98.1 384.7 L98.6 384.8 L99.1 384.8 L99.6 384.8 L100.1 384.9 L100.6 384.9 L101.1 385.0 L101.6 385.0 L102.1 385.0 L102.6 385.1 L103.1 385.1 L103.6 385.2 L104.1 385.2 L104.6 385.3 L105.1 385.3 L105.6 385.4 L106.1 385.4 L106.6 385.5 L107.1 385.6 L107.6 385.6 L108.1 385.7 L108.6 385.8 L109.1 385.8 L109.6 385.9 L110.1 386.0 L110.6 386.1 L111.1 386.1 L111.6 386.2 L112.1 386.3 L112.6 386.4 L113.1 386.5 L113.6 386.6 L114.1 386.7 L114.6 386.8 L115.1 386.9 L115.6 387.0 L116.1 387.1 L116.6 387.2 L117.1 387.3 L117.6 387.4 L118.1 387.5 L118.6 387.6 L119.1 387.7 L119.6 387.9 L120.1 388.0 L120.6 388.1 L121.1 388.2 L121.6 388.4 L122.1 388.5 L122.6 388.6 L123.1 388.7 L123.6 388.9 L124.1 389.0 L124.6 389.1 L125.1 389.2 L125.6 389.4 L126.1 389.5 L126.6 389.6 L127.1 389.7 L127.6 389.9 L128.1 390.0 L128.6 390.1 L129.1 390.3 L129.6 390.4 L130.1 390.5 L130.6 390.6 L131.1 390.7 L131.6 390.9 L132.1 391.0 L132.6 391.1 L133.1 391.2 L133.6 391.3 L134.1 391.4 L134.6 391.5 L135.1 391.6 L135.6 391.7 L136.1 391.8 L136.6 391.9 L137.1 392.0 L137.6 392.1 L138.1 392.2 L138.6 392.3 L139.1 392.4 L139.6 392.5 L140.1 392.5 L140.6 392.6 L141.1 392.7 L141.6 392.8 L142.1 392.8 L142.6 392.9 L143.1 393.0 L143.6 393.0 L144.1 393.1 L144.6 393.1 L145.1 393.2 L145.6 393.3 L146.1 393.3 L146.6 393.4 L147.1 393.4 L147.6 393.5 L148.1 393.5 L148.6 393.6 L149.1 393.6 L149.6 393.6 L150.1 393.7 L150.6 393.7 L151.1 393.7 L151.6 393.8 L152.1 393.8 L152.6 393.8 L153.1 393.9 L153.6 393.9 L154.1 393.9 L154.6 394.0 L155.1 394.0 L155.6 394.0 L156.1 394.0 L156.6 394.1 L157.1 394.1 L157.6 394.1 L158.1 394.1 L158.6 394.1 L159.1 394.2 L159.6 394.2 L160.1 394.2 L160.6 394.2 L161.1 394.2 L161.6 394.2 L162.1 394.2 L162.6 394.3 L163.1 394.3 L163.6 394.3 L164.1 394.3 L164.6 394.3 L165.1 394.3 L165.6 394.3 L166.1 394.3 L166.6 394.3 L167.1 394.4 L167.6 394.4 L168.1 394.4 L168.6 394.4 L169.1 394.4 L169.6 394.4 L170.1 394.4 L170.6 394.4 L171.1 394.4 L171.6 394.4 L172.1 394.4 L172.6 394.4 L173.1 394.4 L173.6 394.4 L174.1 394.4 L174.6 394.4 L175.1 394.4 L175.6 394.5 L176.1 394.5 L176.6 394.5 L177.1 394.5 L177.6 394.5 L178.1 394.5 L178.6 394.5 L179.1 394.5 L179.6 394.5 L180.1 394.5 L180.6 394.5 L181.1 394.5 L181.6 394.5 L182.1 394.5 L182.6 394.5 L183.1 394.5 L183.6 394.5 L184.1 394.5 L184.6 394.5 L185.1 394.5 L185.6 394.5 L186.1 394.5 L186.6 394.5 L187.1 394.5 L187.6 394.5 L188.1 394.5 L188.6 394.5 L189.1 394.5 L189.6 394.5 L190.1 394.5 L190.6 394.5 L191.1 394.5 L191.6 394.5 L192.1 394.5 L192.6 394.5 L193.1 394.5 L193.6 394.5 L194.1 394.5 L194.6 394.5 L195.1 394.5 L195.6 394.5 L196.1 394.5 L196.6 394.5 L197.1 394.5 L197.6 394.5 L198.1 394.5 L198.6 394.5 L199.1 394.5 L199.6 394.5 L200.1 394.5 L200.6 394.5 L201.1 394.5 L201.6 394.5 L202.1 394.5 L202.6 394.5 L203.1 394.5 L203.6 394.5 L204.1 394.5 L204.6 394.5 L205.1 394.5 L205.6 394.5 L206.1 394.5 L206.6 394.5 L207.1 394.5 L207.6 394.5 L208.1 394.5 L208.6 394.5 L209.1 394.5 L209.6 394.5 L210.1 394.5 L210.6 394.5 L211.1 394.5 L211.6 394.5 L212.1 394.5 L212.6 394.5 L213.1 394.5 L213.6 394.5 L214.1 394.5 L214.6 394.5 L215.1 394.5 L215.6 394.5 L216.1 394.5 L216.6 394.5 L217.1 394.5 L217.6 394.5 L218.1 394.5 L218.6 394.5 L219.1 394.5 L219.6 394.5 L220.1 394.5 L220.6 394.5 L221.1 394.5 L221.6 394.5 L222.1 394.5 L222.6 394.5 L223.1 394.5 L223.6 394.5 L224.1 394.5 L224.6 394.5 L225.1 394.5 L225.6 394.5 L226.1 394.5 L226.6 394.5 L227.1 394.5 L227.6 394.5 L228.1 394.5 L228.6 394.5 L229.1 394.5 L229.6 394.5 L230.1 394.5 L230.6 394.5 L231.1 394.5 L231.6 394.5 L232.1 394.5 L232.6 394.5 L233.1 394.5 L233.6 394.5 L234.1 394.5 L234.6 394.5 L235.1 394.5 L235.6 394.5 L236.1 394.5 L236.6 394.5 L237.1 394.5 L237.6 394.5 L238.1 394.5 L238.6 394.5 L239.1 394.5 L239.6 394.5 L240.1 394.5 L240.6 394.5 L241.1 394.5 L241.6 394.5 L242.1 394.5 L242.6 394.5 L243.1 394.5 L243.6 394.5 L244.1 394.5 L244.6 394.5 L245.1 394.5 L245.6 394.5 L246.1 394.5 L246.6 394.5 L247.1 394.5 L247.6 394.5 L248.1 394.5 L248.6 394.5 L249.1 394.5 L249.6 394.5 L250.1 394.5 L250.6 394.5 L251.1 394.5 L251.6 394.5 L252.1 394.5 L252.6 394.5 L253.1 394.5 L253.6 394.5 L254.1 394.5 L254.6 394.5 L255.1 394.5 L255.6 394.5 L256.1 394.5 L256.6 394.5 L257.1 394.5 L257.6 394.5 L258.1 394.5 L258.6 394.5 L259.1 394.5 L259.6 394.5 L260.1 394.5 L260.6 394.5 L261.1 394.5 L261.6 394.5 L262.1 394.5 L262.6 394.5 L263.1 394.5" stroke="#b8a8c8" stroke-width="0.90" fill="none" stroke-linejoin="round" />
<path d="M42.1 384.1 L42.6 384.1 L43.1 384.1 L43.6 384.1 L44.1 384.1 L44.6 384.1 L45.1 384.1 L45.6 384.1 L46.1 384.1 L46.6 384.1 L47.1 384.1 L47.6 384.1 L48.1 384.1 L48.6 384.1 L49.1 384.1 L49.6 384.1 L50.1 384.1 L50.6 384.1 L51.1 384.1 L51.6 384.1 L52.1 384.1 L52.6 384.1 L53.1 384.1 L53.6 384.1 L54.1 384.1 L54.6 384.1 L55.1 384.1 L55.6 384.1 L56.1 384.1 L56.6 384.1 L57.1 384.1 L57.6 384.1 L58.1 384.1 L58.6 384.1 L59.1 384.1 L59.6 384.1 L60.1 384.1 L60.6 384.1 L61.1 384.1 L61.6 384.1 L62.1 384.1 L62.6 384.1 L63.1 384.1 L63.6 384.1 L64.1 384.1 L64.6 384.1 L65.1 384.1 L65.6 384.1 L66.1 384.1 L66.6 384.1 L67.1 384.1 L67.6 384.1 L68.1 384.1 L68.6 384.1 L69.1 384.1 L69.6 384.1 L70.1 384.1 L70.6 384.1 L71.1 384.1 L71.6 384.1 L72.1 384.1 L72.6 384.1 L73.1 384.1 L73.6 384.1 L74.1 384.1 L74.6 384.1 L75.1 384.1 L75.6 384.1 L76.1 384.1 L76.6 384.1 L77.1 384.1 L77.6 384.2 L78.1 384.2 L78.6 384.2 L79.1 384.2 L79.6 384.2 L80.1 384.2 L80.6 384.2 L81.1 384.2 L81.6 384.2 L82.1 384.2 L82.6 384.2 L83.1 384.2 L83.6 384.2 L84.1 384.2 L84.6 384.2 L85.1 384.3 L85.6 384.3 L86.1 384.3 L86.6 384.3 L87.1 384.3 L87.6 384.3 L88.1 384.3 L88.6 384.3 L89.1 384.3 L89.6 384.4 L90.1 384.4 L90.6 384.4 L91.1 384.4 L91.6 384.4 L92.1 384.4 L92.6 384.5 L93.1 384.5 L93.6 384.5 L94.1 384.5 L94.6 384.5 L95.1 384.6 L95.6 384.6 L96.1 384.6 L96.6 384.6 L97.1 384.7 L97.6 384.7 L98.1 384.7 L98.6 384.7 L99.1 384.8 L99.6 384.8 L100.1 384.8 L100.6 384.9 L101.1 384.9 L101.6 384.9 L102.1 385.0 L102.6 385.0 L103.1 385.0 L103.6 385.1 L104.1 385.1 L104.6 385.1 L105.1 385.2 L105.6 385.2 L106.1 385.2 L106.6 385.3 L107.1 385.3 L107.6 385.3 L108.1 385.3 L108.6 385.4 L109.1 385.4 L109.6 385.4 L110.1 385.4 L110.6 385.4 L111.1 385.5 L111.6 385.5 L112.1 385.5 L112.6 385.5 L113.1 385.5 L113.6 385.4 L114.1 385.4 L114.6 385.4 L115.1 385.4 L115.6 385.3 L116.1 385.3 L116.6 385.2 L117.1 385.1 L117.6 385.1 L118.1 385.0 L118.6 384.9 L119.1 384.8 L119.6 384.7 L120.1 384.5 L120.6 384.4 L121.1 384.2 L121.6 384.1 L122.1 383.9 L122.6 383.7 L123.1 383.5 L123.6 383.3 L124.1 383.1 L124.6 382.9 L125.1 382.6 L125.6 382.4 L126.1 382.1 L126.6 381.9 L127.1 381.6 L127.6 381.3 L128.1 381.0 L128.6 380.7 L129.1 380.4 L129.6 380.2 L130.1 379.9 L130.6 379.6 L131.1 379.3 L131.6 379.0 L132.1 378.7 L132.6 378.5 L133.1 378.2 L133.6 378.0 L134.1 377.7 L134.6 377.5 L135.1 377.3 L135.6 377.1 L136.1 377.0 L136.6 376.8 L137.1 376.7 L137.6 376.6 L138.1 376.5 L138.6 376.4 L139.1 376.4 L139.6 376.4 L140.1 376.4 L140.6 376.4 L141.1 376.5 L141.6 376.6 L142.1 376.7 L142.6 376.9 L143.1 377.0 L143.6 377.2 L144.1 377.5 L144.6 377.7 L145.1 378.0 L145.6 378.3 L146.1 378.6 L146.6 378.9 L147.1 379.2 L147.6 379.6 L148.1 380.0 L148.6 380.4 L149.1 380.8 L149.6 381.2 L150.1 381.6 L150.6 382.0 L151.1 382.5 L151.6 382.9 L152.1 383.4 L152.6 383.8 L153.1 384.2 L153.6 384.7 L154.1 385.1 L154.6 385.6 L155.1 386.0 L155.6 386.4 L156.1 386.8 L156.6 387.2 L157.1 387.6 L157.6 388.0 L158.1 388.4 L158.6 388.7 L159.1 389.1 L159.6 389.4 L160.1 389.7 L160.6 390.0 L161.1 390.3 L161.6 390.6 L162.1 390.9 L162.6 391.2 L163.1 391.4 L163.6 391.6 L164.1 391.8 L164.6 392.0 L165.1 392.2 L165.6 392.4 L166.1 392.6 L166.6 392.8 L167.1 392.9 L167.6 393.0 L168.1 393.2 L168.6 393.3 L169.1 393.4 L169.6 393.5 L170.1 393.6 L170.6 393.7 L171.1 393.8 L171.6 393.8 L172.1 393.9 L172.6 394.0 L173.1 394.0 L173.6 394.1 L174.1 394.1 L174.6 394.1 L175.1 394.2 L175.6 394.2 L176.1 394.2 L176.6 394.3 L177.1 394.3 L177.6 394.3 L178.1 394.3 L178.6 394.4 L179.1 394.4 L179.6 394.4 L180.1 394.4 L180.6 394.4 L181.1 394.4 L181.6 394.4 L182.1 394.4 L182.6 394.5 L183.1 394.5 L183.6 394.5 L184.1 394.5 L184.6 394.5 L185.1 394.5 L185.6 394.5 L186.1 394.5 L186.6 394.5 L187.1 394.5 L187.6 394.5 L188.1 394.5 L188.6 394.5 L189.1 394.5 L189.6 394.5 L190.1 394.5 L190.6 394.5 L191.1 394.5 L191.6 394.5 L192.1 394.5 L192.6 394.5 L193.1 394.5 L193.6 394.5 L194.1 394.5 L194.6 394.5 L195.1 394.5 L195.6 394.5 L196.1 394.5 L196.6 394.5 L197.1 394.5 L197.6 394.5 L198.1 394.5 L198.6 394.5 L199.1 394.5 L199.6 394.5 L200.1 394.5 L200.6 394.5 L201.1 394.5 L201.6 394.5 L202.1 394.5 L202.6 394.5 L203.1 394.5 L203.6 394.5 L204.1 394.5 L204.6 394.5 L205.1 394.5 L205.6 394.5 L206.1 394.5 L206.6 394.5 L207.1 394.5 L207.6 394.5 L208.1 394.5 L208.6 394.5 L209.1 394.5 L209.6 394.5 L210.1 394.5 L210.6 394.5 L211.1 394.5 L211.6 394.5 L212.1 394.5 L212.6 394.5 L213.1 394.5 L213.6 394.5 L214.1 394.5 L214.6 394.5 L215.1 394.5 L215.6 394.5 L216.1 394.5 L216.6 394.5 L217.1 394.5 L217.6 394.5 L218.1 394.5 L218.6 394.5 L219.1 394.5 L219.6 394.5 L220.1 394.5 L220.6 394.5 L221.1 394.5 L221.6 394.5 L222.1 394.5 L222.6 394.5 L223.1 394.5 L223.6 394.5 L224.1 394.5 L224.6 394.5 L225.1 394.5 L225.6 394.5 L226.1 394.5 L226.6 394.5 L227.1 394.5 L227.6 394.5 L228.1 394.5 L228.6 394.5 L229.1 394.5 L229.6 394.5 L230.1 394.5 L230.6 394.5 L231.1 394.5 L231.6 394.5 L232.1 394.5 L232.6 394.5 L233.1 394.5 L233.6 394.5 L234.1 394.5 L234.6 394.5 L235.1 394.5 L235.6 394.5 L236.1 394.5 L236.6 394.5 L237.1 394.5 L237.6 394.5 L238.1 394.5 L238.6 394.5 L239.1 394.5 L239.6 394.5 L240.1 394.5 L240.6 394.5 L241.1 394.5 L241.6 394.5 L242.1 394.5 L242.6 394.5 L243.1 394.5 L243.6 394.5 L244.1 394.5 L244.6 394.5 L245.1 394.5 L245.6 394.5 L246.1 394.5 L246.6 394.5 L247.1 394.5 L247.6 394.5 L248.1 394.5 L248.6 394.5 L249.1 394.5 L249.6 394.5 L250.1 394.5 L250.6 394.5 L251.1 394.5 L251.6 394.5 L252.1 394.5 L252.6 394.5 L253.1 394.5 L253.6 394.5 L254.1 394.5 L254.6 394.5 L255.1 394.5 L255.6 394.5 L256.1 394.5 L256.6 394.5 L257.1 394.5 L257.6 394.5 L258.1 394.5 L258.6 394.5 L259.1 394.5 L259.6 394.5 L260.1 394.5 L260.6 394.5 L261.1 394.5 L261.6 394.5 L262.1 394.5 L262.6 394.5 L263.1 394.5" stroke="#80a8e0" stroke-width="0.90" fill="none" stroke-linejoin="round" />
<path d="M42.1 384.1 L42.6 384.1 L43.1 384.1 L43.6 384.1 L44.1 384.1 L44.6 384.1 L45.1 384.1 L45.6 384.1 L46.1 384.1 L46.6 384.1 L47.1 384.1 L47.6 384.1 L48.1 384.1 L48.6 384.1 L49.1 384.1 L49.6 384.1 L50.1 384.1 L50.6 384.1 L51.1 384.1 L51.6 384.1 L52.1 384.1 L52.6 384.1 L53.1 384.1 L53.6 384.1 L54.1 384.1 L54.6 384.1 L55.1 384.1 L55.6 384.1 L56.1 384.1 L56.6 384.1 L57.1 384.1 L57.6 384.1 L58.1 384.1 L58.6 384.1 L59.1 384.1 L59.6 384.1 L60.1 384.1 L60.6 384.1 L61.1 384.1 L61.6 384.1 L62.1 384.1 L62.6 384.1 L63.1 384.1 L63.6 384.1 L64.1 384.1 L64.6 384.1 L65.1 384.1 L65.6 384.1 L66.1 384.1 L66.6 384.1 L67.1 384.1 L67.6 384.1 L68.1 384.1 L68.6 384.1 L69.1 384.1 L69.6 384.1 L70.1 384.1 L70.6 384.1 L71.1 384.1 L71.6 384.1 L72.1 384.1 L72.6 384.1 L73.1 384.1 L73.6 384.1 L74.1 384.1 L74.6 384.1 L75.1 384.1 L75.6 384.1 L76.1 384.1 L76.6 384.1 L77.1 384.1 L77.6 384.2 L78.1 384.2 L78.6 384.2 L79.1 384.2 L79.6 384.2 L80.1 384.2 L80.6 384.2 L81.1 384.2 L81.6 384.2 L82.1 384.2 L82.6 384.2 L83.1 384.2 L83.6 384.2 L84.1 384.2 L84.6 384.2 L85.1 384.3 L85.6 384.3 L86.1 384.3 L86.6 384.3 L87.1 384.3 L87.6 384.3 L88.1 384.3 L88.6 384.3 L89.1 384.3 L89.6 384.3 L90.1 384.4 L90.6 384.4 L91.1 384.4 L91.6 384.4 L92.1 384.4 L92.6 384.4 L93.1 384.4 L93.6 384.4 L94.1 384.4 L94.6 384.4 L95.1 384.5 L95.6 384.5 L96.1 384.5 L96.6 384.5 L97.1 384.5 L97.6 384.5 L98.1 384.4 L98.6 384.4 L99.1 384.4 L99.6 384.4 L100.1 384.4 L100.6 384.3 L101.1 384.3 L101.6 384.2 L102.1 384.2 L102.6 384.1 L103.1 384.0 L103.6 383.9 L104.1 383.9 L104.6 383.7 L105.1 383.6 L105.6 383.5 L106.1 383.4 L106.6 383.2 L107.1 383.0 L107.6 382.8 L108.1 382.7 L108.6 382.4 L109.1 382.2 L109.6 382.0 L110.1 381.8 L110.6 381.5 L111.1 381.3 L111.6 381.0 L112.1 380.7 L112.6 380.4 L113.1 380.2 L113.6 379.9 L114.1 379.6 L114.6 379.3 L115.1 379.0 L115.6 378.8 L116.1 378.5 L116.6 378.3 L117.1 378.0 L117.6 377.8 L118.1 377.6 L118.6 377.5 L119.1 377.3 L119.6 377.2 L120.1 377.1 L120.6 377.0 L121.1 377.0 L121.6 377.0 L122.1 377.0 L122.6 377.1 L123.1 377.1 L123.6 377.3 L124.1 377.4 L124.6 377.6 L125.1 377.9 L125.6 378.1 L126.1 378.4 L126.6 378.7 L127.1 379.1 L127.6 379.5 L128.1 379.8 L128.6 380.3 L129.1 380.7 L129.6 381.1 L130.1 381.6 L130.6 382.1 L131.1 382.6 L131.6 383.1 L132.1 383.5 L132.6 384.0 L133.1 384.5 L133.6 385.0 L134.1 385.5 L134.6 386.0 L135.1 386.4 L135.6 386.9 L136.1 387.3 L136.6 387.7 L137.1 388.1 L137.6 388.5 L138.1 388.9 L138.6 389.3 L139.1 389.6 L139.6 389.9 L140.1 390.2 L140.6 390.5 L141.1 390.8 L141.6 391.1 L142.1 391.3 L142.6 391.5 L143.1 391.8 L143.6 391.9 L144.1 392.1 L144.6 392.3 L145.1 392.5 L145.6 392.6 L146.1 392.7 L146.6 392.9 L147.1 393.0 L147.6 393.1 L148.1 393.2 L148.6 393.3 L149.1 393.3 L149.6 393.4 L150.1 393.5 L150.6 393.6 L151.1 393.6 L151.6 393.7 L152.1 393.7 L152.6 393.8 L153.1 393.8 L153.6 393.8 L154.1 393.9 L154.6 393.9 L155.1 394.0 L155.6 394.0 L156.1 394.0 L156.6 394.0 L157.1 394.1 L157.6 394.1 L158.1 394.1 L158.6 394.1 L159.1 394.1 L159.6 394.2 L160.1 394.2 L160.6 394.2 L161.1 394.2 L161.6 394.2 L162.1 394.2 L162.6 394.3 L163.1 394.3 L163.6 394.3 L164.1 394.3 L164.6 394.3 L165.1 394.3 L165.6 394.3 L166.1 394.3 L166.6 394.3 L167.1 394.4 L167.6 394.4 L168.1 394.4 L168.6 394.4 L169.1 394.4 L169.6 394.4 L170.1 394.4 L170.6 394.4 L171.1 394.4 L171.6 394.4 L172.1 394.4 L172.6 394.4 L173.1 394.4 L173.6 394.4 L174.1 394.4 L174.6 394.4 L175.1 394.4 L175.6 394.5 L176.1 394.5 L176.6 394.5 L177.1 394.5 L177.6 394.5 L178.1 394.5 L178.6 394.5 L179.1 394.5 L179.6 394.5 L180.1 394.5 L180.6 394.5 L181.1 394.5 L181.6 394.5 L182.1 394.5 L182.6 394.5 L183.1 394.5 L183.6 394.5 L184.1 394.5 L184.6 394.5 L185.1 394.5 L185.6 394.5 L186.1 394.5 L186.6 394.5 L187.1 394.5 L187.6 394.5 L188.1 394.5 L188.6 394.5 L189.1 394.5 L189.6 394.5 L190.1 394.5 L190.6 394.5 L191.1 394.5 L191.6 394.5 L192.1 394.5 L192.6 394.5 L193.1 394.5 L193.6 394.5 L194.1 394.5 L194.6 394.5 L195.1 394.5 L195.6 394.5 L196.1 394.5 L196.6 394.5 L197.1 394.5 L197.6 394.5 L198.1 394.5 L198.6 394.5 L199.1 394.5 L199.6 394.5 L200.1 394.5 L200.6 394.5 L201.1 394.5 L201.6 394.5 L202.1 394.5 L202.6 394.5 L203.1 394.5 L203.6 394.5 L204.1 394.5 L204.6 394.5 L205.1 394.5 L205.6 394.5 L206.1 394.5 L206.6 394.5 L207.1 394.5 L207.6 394.5 L208.1 394.5 L208.6 394.5 L209.1 394.5 L209.6 394.5 L210.1 394.5 L210.6 394.5 L211.1 394.5 L211.6 394.5 L212.1 394.5 L212.6 394.5 L213.1 394.5 L213.6 394.5 L214.1 394.5 L214.6 394.5 L215.1 394.5 L215.6 394.5 L216.1 394.5 L216.6 394.5 L217.1 394.5 L217.6 394.5 L218.1 394.5 L218.6 394.5 L219.1 394.5 L219.6 394.5 L220.1 394.5 L220.6 394.5 L221.1 394.5 L221.6 394.5 L222.1 394.5 L222.6 394.5 L223.1 394.5 L223.6 394.5 L224.1 394.5 L224.6 394.5 L225.1 394.5 L225.6 394.5 L226.1 394.5 L226.6 394.5 L227.1 394.5 L227.6 394.5 L228.1 394.5 L228.6 394.5 L229.1 394.5 L229.6 394.5 L230.1 394.5 L230.6 394.5 L231.1 394.5 L231.6 394.5 L232.1 394.5 L232.6 394.5 L233.1 394.5 L233.6 394.5 L234.1 394.5 L234.6 394.5 L235.1 394.5 L235.6 394.5 L236.1 394.5 L236.6 394.5 L237.1 394.5 L237.6 394.5 L238.1 394.5 L238.6 394.5 L239.1 394.5 L239.6 394.5 L240.1 394.5 L240.6 394.5 L241.1 394.5 L241.6 394.5 L242.1 394.5 L242.6 394.5 L243.1 394.5 L243.6 394.5 L244.1 394.5 L244.6 394.5 L245.1 394.5 L245.6 394.5 L246.1 394.5 L246.6 394.5 L247.1 394.5 L247.6 394.5 L248.1 394.5 L248.6 394.5 L249.1 394.5 L249.6 394.5 L250.1 394.5 L250.6 394.5 L251.1 394.5 L251.6 394.5 L252.1 394.5 L252.6 394.5 L253.1 394.5 L253.6 394.5 L254.1 394.5 L254.6 394.5 L255.1 394.5 L255.6 394.5 L256.1 394.5 L256.6 394.5 L257.1 394.5 L257.6 394.5 L258.1 394.5 L258.6 394.5 L259.1 394.5 L259.6 394.5 L260.1 394.5 L260.6 394.5 L261.1 394.5 L261.6 394.5 L262.1 394.5 L262.6 394.5 L263.1 394.5" stroke="#b4daf2" stroke-width="0.80" fill="none" stroke-linejoin="round" stroke-dasharray="1 1"/>
<path d="M42.1 383.4 L42.6 383.4 L43.1 383.3 L43.6 383.3 L44.1 383.3 L44.6 383.3 L45.1 383.3 L45.6 383.3 L46.1 383.3 L46.6 383.3 L47.1 383.2 L47.6 383.2 L48.1 383.2 L48.6 383.2 L49.1 383.2 L49.6 383.2 L50.1 383.2 L50.6 383.1 L51.1 383.1 L51.6 383.1 L52.1 383.1 L52.6 383.1 L53.1 383.1 L53.6 383.0 L54.1 383.0 L54.6 383.0 L55.1 383.0 L55.6 383.0 L56.1 383.0 L56.6 382.9 L57.1 382.9 L57.6 382.9 L58.1 382.9 L58.6 382.8 L59.1 382.8 L59.6 382.8 L60.1 382.8 L60.6 382.7 L61.1 382.7 L61.6 382.7 L62.1 382.7 L62.6 382.6 L63.1 382.6 L63.6 382.6 L64.1 382.5 L64.6 382.5 L65.1 382.5 L65.6 382.4 L66.1 382.4 L66.6 382.4 L67.1 382.3 L67.6 382.3 L68.1 382.2 L68.6 382.2 L69.1 382.1 L69.6 382.1 L70.1 382.1 L70.6 382.0 L71.1 382.0 L71.6 381.9 L72.1 381.8 L72.6 381.8 L73.1 381.7 L73.6 381.7 L74.1 381.6 L74.6 381.5 L75.1 381.5 L75.6 381.4 L76.1 381.3 L76.6 381.3 L77.1 381.2 L77.6 381.1 L78.1 381.0 L78.6 380.9 L79.1 380.8 L79.6 380.7 L80.1 380.7 L80.6 380.6 L81.1 380.4 L81.6 380.3 L82.1 380.2 L82.6 380.1 L83.1 380.0 L83.6 379.9 L84.1 379.7 L84.6 379.6 L85.1 379.5 L85.6 379.3 L86.1 379.2 L86.6 379.0 L87.1 378.9 L87.6 378.7 L88.1 378.5 L88.6 378.4 L89.1 378.2 L89.6 378.0 L90.1 377.8 L90.6 377.6 L91.1 377.4 L91.6 377.2 L92.1 377.0 L92.6 376.8 L93.1 376.6 L93.6 376.4 L94.1 376.1 L94.6 375.9 L95.1 375.7 L95.6 375.5 L96.1 375.3 L96.6 375.1 L97.1 374.8 L97.6 374.6 L98.1 374.4 L98.6 374.3 L99.1 374.1 L99.6 373.9 L100.1 373.7 L100.6 373.6 L101.1 373.4 L101.6 373.3 L102.1 373.2 L102.6 373.1 L103.1 373.0 L103.6 372.9 L104.1 372.8 L104.6 372.8 L105.1 372.7 L105.6 372.7 L106.1 372.6 L106.6 372.6 L107.1 372.5 L107.6 372.5 L108.1 372.4 L108.6 372.3 L109.1 372.3 L109.6 372.2 L110.1 372.1 L110.6 372.0 L111.1 371.9 L111.6 371.8 L112.1 371.7 L112.6 371.5 L113.1 371.4 L113.6 371.2 L114.1 371.0 L114.6 370.8 L115.1 370.6 L115.6 370.4 L116.1 370.2 L116.6 370.0 L117.1 369.8 L117.6 369.6 L118.1 369.4 L118.6 369.2 L119.1 369.0 L119.6 368.8 L120.1 368.6 L120.6 368.4 L121.1 368.3 L121.6 368.1 L122.1 368.0 L122.6 367.9 L123.1 367.8 L123.6 367.7 L124.1 367.6 L124.6 367.6 L125.1 367.5 L125.6 367.5 L126.1 367.6 L126.6 367.6 L127.1 367.6 L127.6 367.7 L128.1 367.8 L128.6 367.9 L129.1 368.0 L129.6 368.1 L130.1 368.2 L130.6 368.3 L131.1 368.5 L131.6 368.7 L132.1 368.8 L132.6 369.0 L133.1 369.2 L133.6 369.4 L134.1 369.6 L134.6 369.8 L135.1 370.0 L135.6 370.2 L136.1 370.4 L136.6 370.6 L137.1 370.9 L137.6 371.1 L138.1 371.4 L138.6 371.6 L139.1 371.9 L139.6 372.2 L140.1 372.4 L140.6 372.7 L141.1 373.0 L141.6 373.4 L142.1 373.7 L142.6 374.0 L143.1 374.4 L143.6 374.7 L144.1 375.1 L144.6 375.5 L145.1 375.9 L145.6 376.3 L146.1 376.7 L146.6 377.1 L147.1 377.5 L147.6 378.0 L148.1 378.4 L148.6 378.9 L149.1 379.4 L149.6 379.8 L150.1 380.3 L150.6 380.8 L151.1 381.3 L151.6 381.8 L152.1 382.2 L152.6 382.7 L153.1 383.2 L153.6 383.7 L154.1 384.1 L154.6 384.6 L155.1 385.0 L155.6 385.5 L156.1 385.9 L156.6 386.3 L157.1 386.7 L157.6 387.1 L158.1 387.5 L158.6 387.9 L159.1 388.3 L159.6 388.6 L160.1 389.0 L160.6 389.3 L161.1 389.6 L161.6 389.9 L162.1 390.2 L162.6 390.4 L163.1 390.7 L163.6 390.9 L164.1 391.2 L164.6 391.4 L165.1 391.6 L165.6 391.8 L166.1 391.9 L166.6 392.1 L167.1 392.3 L167.6 392.4 L168.1 392.6 L168.6 392.7 L169.1 392.8 L169.6 392.9 L170.1 393.0 L170.6 393.1 L171.1 393.2 L171.6 393.3 L172.1 393.3 L172.6 393.4 L173.1 393.5 L173.6 393.5 L174.1 393.6 L174.6 393.6 L175.1 393.7 L175.6 393.7 L176.1 393.8 L176.6 393.8 L177.1 393.8 L177.6 393.9 L178.1 393.9 L178.6 393.9 L179.1 393.9 L179.6 393.9 L180.1 394.0 L180.6 394.0 L181.1 394.0 L181.6 394.0 L182.1 394.0 L182.6 394.0 L183.1 394.1 L183.6 394.1 L184.1 394.1 L184.6 394.1 L185.1 394.1 L185.6 394.1 L186.1 394.1 L186.6 394.1 L187.1 394.1 L187.6 394.1 L188.1 394.1 L188.6 394.1 L189.1 394.1 L189.6 394.2 L190.1 394.2 L190.6 394.2 L191.1 394.2 L191.6 394.2 L192.1 394.2 L192.6 394.2 L193.1 394.2 L193.6 394.2 L194.1 394.2 L194.6 394.2 L195.1 394.2 L195.6 394.2 L196.1 394.2 L196.6 394.2 L197.1 394.2 L197.6 394.2 L198.1 394.2 L198.6 394.2 L199.1 394.2 L199.6 394.2 L200.1 394.2 L200.6 394.2 L201.1 394.2 L201.6 394.2 L202.1 394.3 L202.6 394.3 L203.1 394.3 L203.6 394.3 L204.1 394.3 L204.6 394.3 L205.1 394.3 L205.6 394.3 L206.1 394.3 L206.6 394.3 L207.1 394.3 L207.6 394.3 L208.1 394.3 L208.6 394.3 L209.1 394.3 L209.6 394.3 L210.1 394.3 L210.6 394.3 L211.1 394.3 L211.6 394.3 L212.1 394.3 L212.6 394.3 L213.1 394.3 L213.6 394.3 L214.1 394.3 L214.6 394.3 L215.1 394.3 L215.6 394.3 L216.1 394.3 L216.6 394.3 L217.1 394.3 L217.6 394.3 L218.1 394.3 L218.6 394.3 L219.1 394.3 L219.6 394.3 L220.1 394.3 L220.6 394.3 L221.1 394.3 L221.6 394.3 L222.1 394.3 L222.6 394.3 L223.1 394.3 L223.6 394.3 L224.1 394.3 L224.6 394.3 L225.1 394.3 L225.6 394.3 L226.1 394.3 L226.6 394.4 L227.1 394.4 L227.6 394.4 L228.1 394.4 L228.6 394.4 L229.1 394.4 L229.6 394.4 L230.1 394.4 L230.6 394.4 L231.1 394.4 L231.6 394.4 L232.1 394.4 L232.6 394.4 L233.1 394.4 L233.6 394.4 L234.1 394.4 L234.6 394.4 L235.1 394.4 L235.6 394.4 L236.1 394.4 L236.6 394.4 L237.1 394.4 L237.6 394.4 L238.1 394.4 L238.6 394.4 L239.1 394.4 L239.6 394.4 L240.1 394.4 L240.6 394.4 L241.1 394.4 L241.6 394.4 L242.1 394.4 L242.6 394.4 L243.1 394.4 L243.6 394.4 L244.1 394.4 L244.6 394.4 L245.1 394.4 L245.6 394.4 L246.1 394.4 L246.6 394.4 L247.1 394.4 L247.6 394.4 L248.1 394.4 L248.6 394.4 L249.1 394.4 L249.6 394.4 L250.1 394.4 L250.6 394.4 L251.1 394.4 L251.6 394.4 L252.1 394.4 L252.6 394.4 L253.1 394.4 L253.6 394.4 L254.1 394.4 L254.6 394.4 L255.1 394.4 L255.6 394.4 L256.1 394.4 L256.6 394.4 L257.1 394.4 L257.6 394.4 L258.1 394.4 L258.6 394.4 L259.1 394.4 L259.6 394.4 L260.1 394.4 L260.6 394.4 L261.1 394.4 L261.6 394.4 L262.1 394.4 L262.6 394.4 L263.1 394.4" stroke="#e88890" stroke-width="1.00" fill="none" stroke-linejoin="round" />
<path d="M42.1 383.6 L45.1 380.3 L48.1 384.9 L51.1 383.9 L54.1 383.9 L57.1 382.3 L60.1 379.1 L63.1 381.6 L66.1 383.1 L69.1 381.3 L72.1 382.1 L75.1 381.0 L78.1 383.7 L81.1 380.4 L84.1 380.8 L87.1 376.1 L90.1 379.4 L93.1 376.5 L96.1 376.9 L99.1 373.3 L102.1 370.7 L105.1 372.7 L108.1 373.8 L111.1 375.0 L114.1 370.2 L117.1 365.8 L120.1 373.5 L123.1 367.0 L126.1 369.7 L129.1 367.6 L132.1 374.2 L135.1 372.0 L138.1 369.9 L141.1 373.5 L144.1 376.3 L147.1 378.0 L150.1 380.8 L153.1 384.9 L156.1 387.1 L159.1 390.7 L162.1 390.4 L165.1 391.5 L168.1 395.1 L171.1 392.6 L174.1 395.6 L177.1 391.5 L180.1 393.5 L183.1 393.8 L186.1 395.5 L189.1 393.9 L192.1 399.0 L195.1 391.5 L198.1 393.4 L201.1 389.1 L204.1 396.3 L207.1 398.5 L210.1 396.1 L213.1 392.3 L216.1 396.2 L219.1 394.0 L222.1 398.0 L225.1 391.3 L228.1 397.8 L231.1 394.5 L234.1 395.0 L237.1 394.8 L240.1 396.7 L243.1 397.0 L246.1 395.7 L249.1 394.5 L252.1 396.3 L255.1 392.9 L258.1 397.5 L261.1 391.4" stroke="#404040" stroke-width="1.00" fill="none" stroke-linejoin="round" />
<line x1="97.10" y1="253.50" x2="97.10" y2="391.20" stroke="#444" stroke-width="1.1" stroke-dasharray="1.1 1.5"/>
<line x1="123.80" y1="248.00" x2="123.80" y2="380.50" stroke="#444" stroke-width="1.1" stroke-dasharray="1.1 1.5"/>
<line x1="140.80" y1="250.00" x2="140.80" y2="385.90" stroke="#444" stroke-width="1.1" stroke-dasharray="1.1 1.5"/>
<rect x="333.40" y="230.80" width="243.00" height="178.20" fill="none" stroke="#2e2e2e" stroke-width="1.4"/>
<path d="M337.72 409.00V411.40M346.56 409.00V411.40M364.24 409.00V411.40M373.08 409.00V411.40M381.92 409.00V411.40M390.76 409.00V411.40M408.44 409.00V411.40M417.28 409.00V411.40M426.12 409.00V411.40M434.96 409.00V411.40M452.64 409.00V411.40M461.48 409.00V411.40M470.32 409.00V411.40M479.16 409.00V411.40M496.84 409.00V411.40M505.68 409.00V411.40M514.52 409.00V411.40M523.36 409.00V411.40M541.04 409.00V411.40M549.88 409.00V411.40M558.72 409.00V411.40M567.56 409.00V411.40M355.40 409.00V413.00M399.60 409.00V413.00M443.80 409.00V413.00M488.00 409.00V413.00M532.20 409.00V413.00M576.40 409.00V413.00" stroke="#2e2e2e" stroke-width="1.2"/>
<text x="355.4" y="422.7" font-size="10.00" text-anchor="middle">545</text>
<text x="399.6" y="422.7" font-size="10.00" text-anchor="middle">540</text>
<text x="443.8" y="422.7" font-size="10.00" text-anchor="middle">535</text>
<text x="488.0" y="422.7" font-size="10.00" text-anchor="middle">530</text>
<text x="532.2" y="422.7" font-size="10.00" text-anchor="middle">525</text>
<text x="576.4" y="422.7" font-size="10.00" text-anchor="middle">520</text>
<text transform="translate(317.0 316.0) rotate(-90)" x="-49.5" font-size="10.00" textLength="98.9" lengthAdjust="spacingAndGlyphs">XPS intensity (arb unit)</text>
<text x="455.6" y="436.7" font-size="10.10" text-anchor="middle" textLength="85.1" lengthAdjust="spacingAndGlyphs">Binding energy (eV)</text>
<text x="338.3" y="243.8" font-size="10.00">(D)</text>
<text x="338.3" y="253.6" font-size="10.00" textLength="19.4" lengthAdjust="spacing">O 1s</text>
<text x="366.6" y="244.6" font-size="10.00">a-HCl without BAILs</text>
<text x="366.6" y="256.0" font-size="10.00">b-HCl+BAIL1</text>
<text x="366.6" y="267.5" font-size="10.00">c-HCl+BAIL2</text>
<text x="468.6" y="241.6" font-size="10.2">H<tspan font-size="6.2" dx="0.2" dy="3.6">2</tspan><tspan dx="-0.4" dy="-3.6">O</tspan></text>
<text x="487.6" y="241.6" font-size="10.2">O<tspan font-size="6.0" dy="-5.6">2-</tspan></text>
<text x="553.6" y="321.2" font-size="10.00" text-anchor="middle">c</text>
<text x="554.0" y="360.8" font-size="10.00" text-anchor="middle">b</text>
<text x="553.2" y="402.0" font-size="10.00" text-anchor="middle">a</text>
<path d="M367.6 312.0 L368.1 312.0 L368.6 312.0 L369.1 312.0 L369.6 312.0 L370.1 312.0 L370.6 312.0 L371.1 312.0 L371.6 312.0 L372.1 312.0 L372.6 312.0 L373.1 312.0 L373.6 312.0 L374.1 312.0 L374.6 312.0 L375.1 312.0 L375.6 312.0 L376.1 312.0 L376.6 312.0 L377.1 312.0 L377.6 312.0 L378.1 312.0 L378.6 312.0 L379.1 312.0 L379.6 312.0 L380.1 312.0 L380.6 312.0 L381.1 312.0 L381.6 312.0 L382.1 312.0 L382.6 312.0 L383.1 312.0 L383.6 312.0 L384.1 312.0 L384.6 312.0 L385.1 312.0 L385.6 312.0 L386.1 312.0 L386.6 312.0 L387.1 312.0 L387.6 312.0 L388.1 312.0 L388.6 312.0 L389.1 312.0 L389.6 312.0 L390.1 312.0 L390.6 312.0 L391.1 312.0 L391.6 312.0 L392.1 312.0 L392.6 312.0 L393.1 312.0 L393.6 312.0 L394.1 312.0 L394.6 312.0 L395.1 312.0 L395.6 312.0 L396.1 312.0 L396.6 312.0 L397.1 312.0 L397.6 312.0 L398.1 312.0 L398.6 312.0 L399.1 312.0 L399.6 312.0 L400.1 312.0 L400.6 312.0 L401.1 312.0 L401.6 312.0 L402.1 312.0 L402.6 312.0 L403.1 312.0 L403.6 312.0 L404.1 312.0 L404.6 312.0 L405.1 312.0 L405.6 312.0 L406.1 312.0 L406.6 312.0 L407.1 312.0 L407.6 312.0 L408.1 312.0 L408.6 312.0 L409.1 312.0 L409.6 312.0 L410.1 312.0 L410.6 312.0 L411.1 312.0 L411.6 312.0 L412.1 312.0 L412.6 312.0 L413.1 312.0 L413.6 312.0 L414.1 312.0 L414.6 312.0 L415.1 312.0 L415.6 312.0 L416.1 312.0 L416.6 312.0 L417.1 312.0 L417.6 312.0 L418.1 312.0 L418.6 312.0 L419.1 312.0 L419.6 312.0 L420.1 312.0 L420.6 312.0 L421.1 312.0 L421.6 312.0 L422.1 312.0 L422.6 312.0 L423.1 312.0 L423.6 312.0 L424.1 312.0 L424.6 312.0 L425.1 312.0 L425.6 312.0 L426.1 312.0 L426.6 312.0 L427.1 312.0 L427.6 312.0 L428.1 312.0 L428.6 312.0 L429.1 312.0 L429.6 312.0 L430.1 312.0 L430.6 312.0 L431.1 312.0 L431.6 312.0 L432.1 312.0 L432.6 312.0 L433.1 312.0 L433.6 312.0 L434.1 312.0 L434.6 312.0 L435.1 312.0 L435.6 312.0 L436.1 312.0 L436.6 312.0 L437.1 312.0 L437.6 312.0 L438.1 312.0 L438.6 312.0 L439.1 312.0 L439.6 312.0 L440.1 312.0 L440.6 312.0 L441.1 312.0 L441.6 312.0 L442.1 312.0 L442.6 312.0 L443.1 312.0 L443.6 312.0 L444.1 312.0 L444.6 312.0 L445.1 312.0 L445.6 312.0 L446.1 312.0 L446.6 312.0 L447.1 312.0 L447.6 312.0 L448.1 312.0 L448.6 312.0 L449.1 312.0 L449.6 312.0 L450.1 312.0 L450.6 312.0 L451.1 312.0 L451.6 312.0 L452.1 312.0 L452.6 312.0 L453.1 312.0 L453.6 312.0 L454.1 312.0 L454.6 312.0 L455.1 312.0 L455.6 312.0 L456.1 312.0 L456.6 312.0 L457.1 312.0 L457.6 312.0 L458.1 312.0 L458.6 312.0 L459.1 312.0 L459.6 312.0 L460.1 312.0 L460.6 312.0 L461.1 312.0 L461.6 312.0 L462.1 312.0 L462.6 312.0 L463.1 312.0 L463.6 312.1 L464.1 312.1 L464.6 312.1 L465.1 312.1 L465.6 312.1 L466.1 312.1 L466.6 312.1 L467.1 312.1 L467.6 312.1 L468.1 312.1 L468.6 312.1 L469.1 312.1 L469.6 312.1 L470.1 312.1 L470.6 312.2 L471.1 312.2 L471.6 312.2 L472.1 312.2 L472.6 312.2 L473.1 312.2 L473.6 312.2 L474.1 312.3 L474.6 312.3 L475.1 312.3 L475.6 312.3 L476.1 312.4 L476.6 312.4 L477.1 312.4 L477.6 312.5 L478.1 312.5 L478.6 312.6 L479.1 312.6 L479.6 312.7 L480.1 312.7 L480.6 312.8 L481.1 312.9 L481.6 312.9 L482.1 313.0 L482.6 313.1 L483.1 313.2 L483.6 313.3 L484.1 313.4 L484.6 313.5 L485.1 313.6 L485.6 313.7 L486.1 313.8 L486.6 313.9 L487.1 314.1 L487.6 314.2 L488.1 314.4 L488.6 314.5 L489.1 314.7 L489.6 314.8 L490.1 315.0 L490.6 315.2 L491.1 315.3 L491.6 315.5 L492.1 315.7 L492.6 315.9 L493.1 316.1 L493.6 316.2 L494.1 316.4 L494.6 316.6 L495.1 316.8 L495.6 316.9 L496.1 317.1 L496.6 317.3 L497.1 317.4 L497.6 317.6 L498.1 317.7 L498.6 317.9 L499.1 318.0 L499.6 318.1 L500.1 318.3 L500.6 318.4 L501.1 318.5 L501.6 318.6 L502.1 318.7 L502.6 318.8 L503.1 318.9 L503.6 319.0 L504.1 319.1 L504.6 319.1 L505.1 319.2 L505.6 319.3 L506.1 319.3 L506.6 319.4 L507.1 319.4 L507.6 319.5 L508.1 319.5 L508.6 319.6 L509.1 319.6 L509.6 319.6 L510.1 319.7 L510.6 319.7 L511.1 319.7 L511.6 319.7 L512.1 319.8 L512.6 319.8 L513.1 319.8 L513.6 319.8 L514.1 319.8 L514.6 319.9 L515.1 319.9 L515.6 319.9 L516.1 319.9 L516.6 319.9 L517.1 319.9 L517.6 319.9 L518.1 319.9 L518.6 319.9 L519.1 319.9 L519.6 320.0 L520.1 320.0 L520.6 320.0 L521.1 320.0 L521.6 320.0 L522.1 320.0 L522.6 320.0 L523.1 320.0 L523.6 320.0 L524.1 320.0 L524.6 320.0 L525.1 320.0 L525.6 320.0 L526.1 320.0 L526.6 320.0 L527.1 320.0 L527.6 320.0 L528.1 320.0 L528.6 320.0 L529.1 320.0 L529.6 320.0 L530.1 320.0 L530.6 320.0 L531.1 320.0 L531.6 320.0 L532.1 320.0 L532.6 320.0 L533.1 320.0 L533.6 320.0 L534.1 320.0 L534.6 320.0 L535.1 320.0 L535.6 320.0 L536.1 320.0 L536.6 320.0 L537.1 320.0 L537.6 320.0 L538.1 320.0 L538.6 320.0 L539.1 320.0 L539.6 320.0 L540.1 320.0 L540.6 320.0 L541.1 320.0 L541.6 320.0 L542.1 320.0 L542.6 320.0 L543.1 320.0 L543.6 320.0 L544.1 320.0" stroke="#8aa0b8" stroke-width="0.90" fill="none" stroke-linejoin="round" />
<path d="M367.6 311.9 L368.1 311.9 L368.6 311.9 L369.1 311.9 L369.6 311.9 L370.1 311.9 L370.6 311.9 L371.1 311.9 L371.6 311.9 L372.1 311.9 L372.6 311.9 L373.1 311.9 L373.6 311.9 L374.1 311.9 L374.6 311.9 L375.1 311.9 L375.6 311.9 L376.1 311.9 L376.6 311.9 L377.1 311.9 L377.6 311.9 L378.1 311.9 L378.6 311.9 L379.1 311.9 L379.6 311.9 L380.1 311.9 L380.6 311.9 L381.1 311.9 L381.6 311.9 L382.1 311.9 L382.6 311.9 L383.1 311.9 L383.6 311.9 L384.1 311.9 L384.6 311.9 L385.1 311.9 L385.6 311.9 L386.1 311.9 L386.6 311.8 L387.1 311.8 L387.6 311.8 L388.1 311.8 L388.6 311.8 L389.1 311.8 L389.6 311.8 L390.1 311.8 L390.6 311.8 L391.1 311.8 L391.6 311.8 L392.1 311.8 L392.6 311.8 L393.1 311.8 L393.6 311.8 L394.1 311.8 L394.6 311.8 L395.1 311.8 L395.6 311.8 L396.1 311.8 L396.6 311.8 L397.1 311.8 L397.6 311.8 L398.1 311.8 L398.6 311.8 L399.1 311.8 L399.6 311.8 L400.1 311.8 L400.6 311.8 L401.1 311.8 L401.6 311.8 L402.1 311.8 L402.6 311.8 L403.1 311.8 L403.6 311.8 L404.1 311.8 L404.6 311.8 L405.1 311.8 L405.6 311.8 L406.1 311.7 L406.6 311.7 L407.1 311.7 L407.6 311.7 L408.1 311.7 L408.6 311.7 L409.1 311.7 L409.6 311.7 L410.1 311.7 L410.6 311.7 L411.1 311.7 L411.6 311.7 L412.1 311.7 L412.6 311.7 L413.1 311.7 L413.6 311.7 L414.1 311.7 L414.6 311.7 L415.1 311.7 L415.6 311.7 L416.1 311.7 L416.6 311.7 L417.1 311.6 L417.6 311.6 L418.1 311.6 L418.6 311.6 L419.1 311.6 L419.6 311.6 L420.1 311.6 L420.6 311.6 L421.1 311.6 L421.6 311.6 L422.1 311.6 L422.6 311.6 L423.1 311.6 L423.6 311.6 L424.1 311.5 L424.6 311.5 L425.1 311.5 L425.6 311.5 L426.1 311.5 L426.6 311.5 L427.1 311.5 L427.6 311.5 L428.1 311.5 L428.6 311.5 L429.1 311.4 L429.6 311.4 L430.1 311.4 L430.6 311.4 L431.1 311.4 L431.6 311.4 L432.1 311.4 L432.6 311.4 L433.1 311.3 L433.6 311.3 L434.1 311.3 L434.6 311.3 L435.1 311.3 L435.6 311.3 L436.1 311.2 L436.6 311.2 L437.1 311.2 L437.6 311.2 L438.1 311.2 L438.6 311.1 L439.1 311.1 L439.6 311.1 L440.1 311.1 L440.6 311.0 L441.1 311.0 L441.6 311.0 L442.1 311.0 L442.6 310.9 L443.1 310.9 L443.6 310.9 L444.1 310.8 L444.6 310.8 L445.1 310.8 L445.6 310.7 L446.1 310.7 L446.6 310.6 L447.1 310.6 L447.6 310.5 L448.1 310.5 L448.6 310.4 L449.1 310.4 L449.6 310.3 L450.1 310.3 L450.6 310.2 L451.1 310.2 L451.6 310.1 L452.1 310.0 L452.6 309.9 L453.1 309.8 L453.6 309.8 L454.1 309.7 L454.6 309.6 L455.1 309.5 L455.6 309.3 L456.1 309.2 L456.6 309.1 L457.1 308.9 L457.6 308.7 L458.1 308.5 L458.6 308.3 L459.1 308.1 L459.6 307.8 L460.1 307.5 L460.6 307.2 L461.1 306.8 L461.6 306.3 L462.1 305.8 L462.6 305.2 L463.1 304.6 L463.6 303.9 L464.1 303.0 L464.6 302.1 L465.1 301.0 L465.6 299.8 L466.1 298.5 L466.6 297.1 L467.1 295.5 L467.6 293.8 L468.1 291.9 L468.6 289.9 L469.1 287.7 L469.6 285.4 L470.1 283.0 L470.6 280.5 L471.1 277.8 L471.6 275.2 L472.1 272.5 L472.6 269.8 L473.1 267.1 L473.6 264.6 L474.1 262.3 L474.6 260.2 L475.1 258.4 L475.6 257.0 L476.1 255.9 L476.6 255.4 L477.1 255.4 L477.6 255.8 L478.1 256.8 L478.6 258.1 L479.1 259.9 L479.6 262.0 L480.1 264.3 L480.6 266.9 L481.1 269.6 L481.6 272.3 L482.1 275.1 L482.6 277.9 L483.1 280.6 L483.6 283.3 L484.1 285.9 L484.6 288.3 L485.1 290.7 L485.6 292.9 L486.1 294.9 L486.6 296.8 L487.1 298.6 L487.6 300.2 L488.1 301.7 L488.6 303.1 L489.1 304.4 L489.6 305.5 L490.1 306.5 L490.6 307.5 L491.1 308.3 L491.6 309.1 L492.1 309.8 L492.6 310.5 L493.1 311.1 L493.6 311.6 L494.1 312.1 L494.6 312.6 L495.1 313.0 L495.6 313.4 L496.1 313.8 L496.6 314.1 L497.1 314.4 L497.6 314.7 L498.1 315.0 L498.6 315.3 L499.1 315.5 L499.6 315.8 L500.1 316.0 L500.6 316.2 L501.1 316.4 L501.6 316.6 L502.1 316.8 L502.6 316.9 L503.1 317.1 L503.6 317.2 L504.1 317.4 L504.6 317.5 L505.1 317.6 L505.6 317.7 L506.1 317.8 L506.6 317.9 L507.1 318.0 L507.6 318.1 L508.1 318.2 L508.6 318.3 L509.1 318.4 L509.6 318.4 L510.1 318.5 L510.6 318.6 L511.1 318.6 L511.6 318.7 L512.1 318.7 L512.6 318.8 L513.1 318.8 L513.6 318.9 L514.1 318.9 L514.6 319.0 L515.1 319.0 L515.6 319.0 L516.1 319.1 L516.6 319.1 L517.1 319.1 L517.6 319.1 L518.1 319.2 L518.6 319.2 L519.1 319.2 L519.6 319.2 L520.1 319.3 L520.6 319.3 L521.1 319.3 L521.6 319.3 L522.1 319.3 L522.6 319.4 L523.1 319.4 L523.6 319.4 L524.1 319.4 L524.6 319.4 L525.1 319.4 L525.6 319.4 L526.1 319.5 L526.6 319.5 L527.1 319.5 L527.6 319.5 L528.1 319.5 L528.6 319.5 L529.1 319.5 L529.6 319.5 L530.1 319.5 L530.6 319.6 L531.1 319.6 L531.6 319.6 L532.1 319.6 L532.6 319.6 L533.1 319.6 L533.6 319.6 L534.1 319.6 L534.6 319.6 L535.1 319.6 L535.6 319.6 L536.1 319.6 L536.6 319.6 L537.1 319.7 L537.6 319.7 L538.1 319.7 L538.6 319.7 L539.1 319.7 L539.6 319.7 L540.1 319.7 L540.6 319.7 L541.1 319.7 L541.6 319.7 L542.1 319.7 L542.6 319.7 L543.1 319.7 L543.6 319.7 L544.1 319.7" stroke="#f0a070" stroke-width="0.90" fill="none" stroke-linejoin="round" />
<path d="M367.6 312.0 L368.1 312.0 L368.6 312.0 L369.1 312.0 L369.6 312.0 L370.1 312.0 L370.6 312.0 L371.1 312.0 L371.6 312.0 L372.1 312.0 L372.6 312.0 L373.1 312.0 L373.6 312.0 L374.1 312.0 L374.6 312.0 L375.1 312.0 L375.6 312.0 L376.1 312.0 L376.6 312.0 L377.1 312.0 L377.6 312.0 L378.1 312.0 L378.6 312.0 L379.1 312.0 L379.6 312.0 L380.1 312.0 L380.6 312.0 L381.1 312.0 L381.6 312.0 L382.1 312.0 L382.6 312.0 L383.1 312.0 L383.6 312.0 L384.1 312.0 L384.6 312.0 L385.1 312.0 L385.6 312.0 L386.1 312.0 L386.6 312.0 L387.1 312.0 L387.6 312.0 L388.1 312.0 L388.6 312.0 L389.1 312.0 L389.6 312.0 L390.1 312.0 L390.6 312.0 L391.1 312.0 L391.6 312.0 L392.1 312.0 L392.6 312.0 L393.1 312.0 L393.6 312.0 L394.1 312.0 L394.6 312.0 L395.1 312.0 L395.6 312.0 L396.1 312.0 L396.6 312.0 L397.1 312.0 L397.6 312.0 L398.1 312.0 L398.6 312.0 L399.1 312.0 L399.6 312.0 L400.1 312.0 L400.6 312.0 L401.1 312.0 L401.6 312.0 L402.1 312.0 L402.6 312.0 L403.1 312.0 L403.6 312.0 L404.1 312.0 L404.6 312.0 L405.1 312.0 L405.6 312.0 L406.1 311.9 L406.6 311.9 L407.1 311.9 L407.6 311.9 L408.1 311.9 L408.6 311.9 L409.1 311.9 L409.6 311.9 L410.1 311.9 L410.6 311.9 L411.1 311.9 L411.6 311.9 L412.1 311.9 L412.6 311.9 L413.1 311.9 L413.6 311.9 L414.1 311.9 L414.6 311.9 L415.1 311.9 L415.6 311.9 L416.1 311.9 L416.6 311.9 L417.1 311.9 L417.6 311.9 L418.1 311.9 L418.6 311.9 L419.1 311.9 L419.6 311.9 L420.1 311.9 L420.6 311.9 L421.1 311.9 L421.6 311.9 L422.1 311.9 L422.6 311.9 L423.1 311.9 L423.6 311.9 L424.1 311.9 L424.6 311.9 L425.1 311.9 L425.6 311.9 L426.1 311.9 L426.6 311.9 L427.1 311.9 L427.6 311.9 L428.1 311.9 L428.6 311.9 L429.1 311.9 L429.6 311.9 L430.1 311.9 L430.6 311.9 L431.1 311.9 L431.6 311.9 L432.1 311.9 L432.6 311.9 L433.1 311.9 L433.6 311.9 L434.1 311.9 L434.6 311.9 L435.1 311.9 L435.6 311.9 L436.1 311.9 L436.6 311.9 L437.1 311.9 L437.6 311.9 L438.1 311.9 L438.6 311.9 L439.1 311.8 L439.6 311.8 L440.1 311.8 L440.6 311.8 L441.1 311.8 L441.6 311.8 L442.1 311.8 L442.6 311.8 L443.1 311.8 L443.6 311.8 L444.1 311.8 L444.6 311.8 L445.1 311.8 L445.6 311.8 L446.1 311.8 L446.6 311.8 L447.1 311.8 L447.6 311.8 L448.1 311.8 L448.6 311.8 L449.1 311.8 L449.6 311.8 L450.1 311.8 L450.6 311.7 L451.1 311.7 L451.6 311.7 L452.1 311.7 L452.6 311.7 L453.1 311.7 L453.6 311.7 L454.1 311.7 L454.6 311.7 L455.1 311.7 L455.6 311.7 L456.1 311.7 L456.6 311.7 L457.1 311.6 L457.6 311.6 L458.1 311.6 L458.6 311.6 L459.1 311.6 L459.6 311.6 L460.1 311.6 L460.6 311.6 L461.1 311.5 L461.6 311.5 L462.1 311.5 L462.6 311.5 L463.1 311.5 L463.6 311.5 L464.1 311.5 L464.6 311.4 L465.1 311.4 L465.6 311.4 L466.1 311.4 L466.6 311.4 L467.1 311.3 L467.6 311.3 L468.1 311.3 L468.6 311.3 L469.1 311.2 L469.6 311.2 L470.1 311.2 L470.6 311.1 L471.1 311.1 L471.6 311.1 L472.1 311.0 L472.6 311.0 L473.1 310.9 L473.6 310.9 L474.1 310.8 L474.6 310.7 L475.1 310.6 L475.6 310.5 L476.1 310.4 L476.6 310.3 L477.1 310.1 L477.6 309.9 L478.1 309.7 L478.6 309.4 L479.1 309.0 L479.6 308.5 L480.1 307.8 L480.6 307.1 L481.1 306.1 L481.6 305.0 L482.1 303.6 L482.6 302.0 L483.1 300.1 L483.6 297.9 L484.1 295.5 L484.6 292.7 L485.1 289.6 L485.6 286.3 L486.1 282.8 L486.6 279.2 L487.1 275.5 L487.6 271.8 L488.1 268.3 L488.6 265.1 L489.1 262.4 L489.6 260.2 L490.1 258.8 L490.6 258.2 L491.1 258.5 L491.6 259.7 L492.1 261.7 L492.6 264.4 L493.1 267.6 L493.6 271.2 L494.1 275.1 L494.6 279.1 L495.1 283.1 L495.6 287.0 L496.1 290.8 L496.6 294.3 L497.1 297.5 L497.6 300.5 L498.1 303.1 L498.6 305.5 L499.1 307.5 L499.6 309.2 L500.1 310.7 L500.6 312.0 L501.1 313.1 L501.6 313.9 L502.1 314.7 L502.6 315.3 L503.1 315.8 L503.6 316.2 L504.1 316.6 L504.6 316.9 L505.1 317.1 L505.6 317.4 L506.1 317.6 L506.6 317.7 L507.1 317.9 L507.6 318.0 L508.1 318.2 L508.6 318.3 L509.1 318.4 L509.6 318.5 L510.1 318.6 L510.6 318.6 L511.1 318.7 L511.6 318.8 L512.1 318.8 L512.6 318.9 L513.1 319.0 L513.6 319.0 L514.1 319.1 L514.6 319.1 L515.1 319.2 L515.6 319.2 L516.1 319.2 L516.6 319.3 L517.1 319.3 L517.6 319.3 L518.1 319.4 L518.6 319.4 L519.1 319.4 L519.6 319.4 L520.1 319.5 L520.6 319.5 L521.1 319.5 L521.6 319.5 L522.1 319.5 L522.6 319.6 L523.1 319.6 L523.6 319.6 L524.1 319.6 L524.6 319.6 L525.1 319.6 L525.6 319.6 L526.1 319.7 L526.6 319.7 L527.1 319.7 L527.6 319.7 L528.1 319.7 L528.6 319.7 L529.1 319.7 L529.6 319.7 L530.1 319.7 L530.6 319.7 L531.1 319.7 L531.6 319.8 L532.1 319.8 L532.6 319.8 L533.1 319.8 L533.6 319.8 L534.1 319.8 L534.6 319.8 L535.1 319.8 L535.6 319.8 L536.1 319.8 L536.6 319.8 L537.1 319.8 L537.6 319.8 L538.1 319.8 L538.6 319.8 L539.1 319.8 L539.6 319.8 L540.1 319.8 L540.6 319.8 L541.1 319.8 L541.6 319.8 L542.1 319.9 L542.6 319.9 L543.1 319.9 L543.6 319.9 L544.1 319.9" stroke="#7080c8" stroke-width="0.90" fill="none" stroke-linejoin="round" />
<path d="M367.6 311.9 L368.1 311.9 L368.6 311.9 L369.1 311.9 L369.6 311.9 L370.1 311.9 L370.6 311.9 L371.1 311.9 L371.6 311.9 L372.1 311.9 L372.6 311.9 L373.1 311.9 L373.6 311.9 L374.1 311.9 L374.6 311.9 L375.1 311.9 L375.6 311.8 L376.1 311.8 L376.6 311.8 L377.1 311.8 L377.6 311.8 L378.1 311.8 L378.6 311.8 L379.1 311.8 L379.6 311.8 L380.1 311.8 L380.6 311.8 L381.1 311.8 L381.6 311.8 L382.1 311.8 L382.6 311.8 L383.1 311.8 L383.6 311.8 L384.1 311.8 L384.6 311.8 L385.1 311.8 L385.6 311.8 L386.1 311.8 L386.6 311.8 L387.1 311.8 L387.6 311.8 L388.1 311.8 L388.6 311.8 L389.1 311.8 L389.6 311.8 L390.1 311.8 L390.6 311.8 L391.1 311.8 L391.6 311.8 L392.1 311.8 L392.6 311.8 L393.1 311.8 L393.6 311.8 L394.1 311.8 L394.6 311.8 L395.1 311.8 L395.6 311.8 L396.1 311.8 L396.6 311.8 L397.1 311.8 L397.6 311.8 L398.1 311.7 L398.6 311.7 L399.1 311.7 L399.6 311.7 L400.1 311.7 L400.6 311.7 L401.1 311.7 L401.6 311.7 L402.1 311.7 L402.6 311.7 L403.1 311.7 L403.6 311.7 L404.1 311.7 L404.6 311.7 L405.1 311.7 L405.6 311.7 L406.1 311.7 L406.6 311.7 L407.1 311.7 L407.6 311.7 L408.1 311.7 L408.6 311.7 L409.1 311.7 L409.6 311.7 L410.1 311.6 L410.6 311.6 L411.1 311.6 L411.6 311.6 L412.1 311.6 L412.6 311.6 L413.1 311.6 L413.6 311.6 L414.1 311.6 L414.6 311.6 L415.1 311.6 L415.6 311.6 L416.1 311.6 L416.6 311.6 L417.1 311.6 L417.6 311.6 L418.1 311.5 L418.6 311.5 L419.1 311.5 L419.6 311.5 L420.1 311.5 L420.6 311.5 L421.1 311.5 L421.6 311.5 L422.1 311.5 L422.6 311.5 L423.1 311.5 L423.6 311.5 L424.1 311.4 L424.6 311.4 L425.1 311.4 L425.6 311.4 L426.1 311.4 L426.6 311.4 L427.1 311.4 L427.6 311.4 L428.1 311.4 L428.6 311.3 L429.1 311.3 L429.6 311.3 L430.1 311.3 L430.6 311.3 L431.1 311.3 L431.6 311.3 L432.1 311.2 L432.6 311.2 L433.1 311.2 L433.6 311.2 L434.1 311.2 L434.6 311.1 L435.1 311.1 L435.6 311.1 L436.1 311.1 L436.6 311.1 L437.1 311.0 L437.6 311.0 L438.1 311.0 L438.6 311.0 L439.1 310.9 L439.6 310.9 L440.1 310.9 L440.6 310.9 L441.1 310.8 L441.6 310.8 L442.1 310.8 L442.6 310.7 L443.1 310.7 L443.6 310.7 L444.1 310.6 L444.6 310.6 L445.1 310.5 L445.6 310.5 L446.1 310.5 L446.6 310.4 L447.1 310.4 L447.6 310.3 L448.1 310.3 L448.6 310.2 L449.1 310.1 L449.6 310.1 L450.1 310.0 L450.6 309.9 L451.1 309.9 L451.6 309.8 L452.1 309.7 L452.6 309.6 L453.1 309.5 L453.6 309.4 L454.1 309.3 L454.6 309.2 L455.1 309.1 L455.6 309.0 L456.1 308.8 L456.6 308.7 L457.1 308.5 L457.6 308.3 L458.1 308.1 L458.6 307.9 L459.1 307.7 L459.6 307.4 L460.1 307.1 L460.6 306.7 L461.1 306.3 L461.6 305.8 L462.1 305.3 L462.6 304.7 L463.1 304.0 L463.6 303.3 L464.1 302.4 L464.6 301.5 L465.1 300.4 L465.6 299.2 L466.1 297.8 L466.6 296.4 L467.1 294.8 L467.6 293.0 L468.1 291.1 L468.6 289.0 L469.1 286.8 L469.6 284.5 L470.1 282.0 L470.6 279.4 L471.1 276.8 L471.6 274.0 L472.1 271.3 L472.6 268.5 L473.1 265.8 L473.6 263.2 L474.1 260.8 L474.6 258.6 L475.1 256.7 L475.6 255.2 L476.1 254.0 L476.6 253.3 L477.1 253.1 L477.6 253.3 L478.1 253.9 L478.6 254.9 L479.1 256.2 L479.6 257.8 L480.1 259.4 L480.6 261.2 L481.1 262.8 L481.6 264.4 L482.1 265.7 L482.6 266.8 L483.1 267.6 L483.6 268.0 L484.1 268.0 L484.6 267.5 L485.1 266.7 L485.6 265.5 L486.1 263.9 L486.6 262.1 L487.1 260.0 L487.6 257.8 L488.1 255.7 L488.6 253.7 L489.1 252.1 L489.6 250.9 L490.1 250.4 L490.6 250.6 L491.1 251.5 L491.6 253.3 L492.1 255.8 L492.6 259.0 L493.1 262.6 L493.6 266.6 L494.1 270.8 L494.6 275.1 L495.1 279.4 L495.6 283.5 L496.1 287.4 L496.6 291.1 L497.1 294.5 L497.6 297.6 L498.1 300.4 L498.6 302.8 L499.1 305.0 L499.6 306.8 L500.1 308.4 L500.6 309.8 L501.1 310.9 L501.6 311.9 L502.1 312.7 L502.6 313.4 L503.1 314.0 L503.6 314.5 L504.1 314.9 L504.6 315.2 L505.1 315.6 L505.6 315.8 L506.1 316.1 L506.6 316.3 L507.1 316.5 L507.6 316.7 L508.1 316.8 L508.6 317.0 L509.1 317.1 L509.6 317.3 L510.1 317.4 L510.6 317.5 L511.1 317.6 L511.6 317.7 L512.1 317.8 L512.6 317.9 L513.1 318.0 L513.6 318.1 L514.1 318.1 L514.6 318.2 L515.1 318.3 L515.6 318.3 L516.1 318.4 L516.6 318.4 L517.1 318.5 L517.6 318.5 L518.1 318.6 L518.6 318.6 L519.1 318.7 L519.6 318.7 L520.1 318.8 L520.6 318.8 L521.1 318.8 L521.6 318.9 L522.1 318.9 L522.6 318.9 L523.1 319.0 L523.6 319.0 L524.1 319.0 L524.6 319.0 L525.1 319.1 L525.6 319.1 L526.1 319.1 L526.6 319.1 L527.1 319.2 L527.6 319.2 L528.1 319.2 L528.6 319.2 L529.1 319.2 L529.6 319.2 L530.1 319.3 L530.6 319.3 L531.1 319.3 L531.6 319.3 L532.1 319.3 L532.6 319.3 L533.1 319.4 L533.6 319.4 L534.1 319.4 L534.6 319.4 L535.1 319.4 L535.6 319.4 L536.1 319.4 L536.6 319.4 L537.1 319.5 L537.6 319.5 L538.1 319.5 L538.6 319.5 L539.1 319.5 L539.6 319.5 L540.1 319.5 L540.6 319.5 L541.1 319.5 L541.6 319.5 L542.1 319.5 L542.6 319.6 L543.1 319.6 L543.6 319.6 L544.1 319.6" stroke="#b89068" stroke-width="1.30" fill="none" stroke-linejoin="round" />
<path d="M367.6 311.5 L368.5 310.4 L369.4 312.2 L370.3 309.2 L371.2 316.3 L372.1 310.7 L373.0 314.5 L373.9 312.3 L374.8 308.4 L375.7 308.4 L376.6 311.0 L377.5 306.7 L378.4 308.8 L379.3 315.9 L380.2 315.0 L381.1 310.9 L382.0 316.0 L382.9 310.9 L383.8 312.3 L384.7 311.1 L385.6 316.5 L386.5 312.7 L387.4 314.7 L388.3 305.2 L389.2 306.3 L390.1 313.6 L391.0 312.5 L391.9 307.9 L392.8 313.2 L393.7 308.3 L394.6 312.6 L395.5 315.0 L396.4 309.3 L397.3 310.4 L398.2 307.0 L399.1 307.0 L400.0 314.7 L400.9 308.9 L401.8 310.3 L402.7 314.8 L403.6 315.6 L404.5 310.4 L405.4 313.2 L406.3 313.9 L407.2 312.8 L408.1 309.3 L409.0 312.5 L409.9 309.4 L410.8 317.1 L411.7 308.3 L412.6 312.0 L413.5 309.6 L414.4 315.5 L415.3 309.5 L416.2 310.8 L417.1 308.2 L418.0 310.6 L418.9 310.3 L419.8 313.3 L420.7 314.0 L421.6 312.1 L422.5 313.9 L423.4 311.0 L424.3 311.2 L425.2 314.9 L426.1 312.6 L427.0 311.9 L427.9 309.1 L428.8 312.9 L429.7 309.4 L430.6 311.7 L431.5 309.2 L432.4 314.2 L433.3 313.1 L434.2 308.6 L435.1 312.0 L436.0 312.6 L436.9 311.9 L437.8 313.6 L438.7 308.0 L439.6 311.6 L440.5 308.0 L441.4 311.9 L442.3 310.1 L443.2 315.0 L444.1 306.1 L445.0 313.0 L445.9 309.9 L446.8 305.5 L447.7 308.6 L448.6 312.3 L449.5 314.4 L450.4 310.7 L451.3 309.3 L452.2 314.2 L453.1 307.9 L454.0 312.3 L454.9 306.9 L455.8 310.4 L456.7 312.2 L457.6 309.8 L458.5 303.0 L459.4 308.2 L460.3 307.0 L461.2 304.2 L462.1 302.2 L463.0 309.4 L463.9 299.0 L464.8 302.6 L465.7 301.2 L466.6 301.2 L467.5 291.2 L468.4 287.4 L469.3 280.7 L470.2 283.0 L471.1 272.5 L472.0 273.6 L472.9 265.9 L473.8 263.2 L474.7 256.3 L475.6 259.4 L476.5 249.7 L477.4 259.9 L478.3 259.4 L479.2 256.2 L480.1 263.2 L481.0 277.3 L481.9 266.7 L482.8 268.8 L483.7 262.1 L484.6 266.2 L485.5 263.5 L486.4 263.3 L487.3 253.8 L488.2 258.7 L489.1 254.8 L490.0 253.1 L490.9 255.4 L491.8 254.9 L492.7 253.2 L493.6 270.3 L494.5 270.3 L495.4 283.8 L496.3 288.9 L497.2 300.4 L498.1 299.1 L499.0 306.5 L499.9 306.2 L500.8 313.7 L501.7 311.5 L502.6 316.7 L503.5 310.4 L504.4 320.6 L505.3 316.7 L506.2 317.4 L507.1 320.2 L508.0 319.1 L508.9 318.9 L509.8 320.8 L510.7 319.7 L511.6 319.3 L512.5 324.5 L513.4 324.6 L514.3 315.6 L515.2 316.3 L516.1 319.3 L517.0 321.6 L517.9 320.2 L518.8 322.8 L519.7 323.7 L520.6 320.0 L521.5 320.1 L522.4 317.3 L523.3 321.8 L524.2 322.9 L525.1 317.8 L526.0 322.3 L526.9 319.8 L527.8 323.7 L528.7 321.8 L529.6 322.1 L530.5 316.4 L531.4 319.4 L532.3 315.2 L533.2 323.1 L534.1 319.1 L535.0 324.3 L535.9 315.2 L536.8 321.2 L537.7 321.2 L538.6 323.2 L539.5 316.4 L540.4 322.1 L541.3 321.2 L542.2 322.7 L543.1 325.5 L544.0 322.4" stroke="#985234" stroke-width="0.90" fill="none" stroke-linejoin="round" />
<path d="M370.7 351.0 L371.2 351.0 L371.7 351.0 L372.2 351.0 L372.7 351.0 L373.2 351.0 L373.7 351.0 L374.2 351.0 L374.7 351.0 L375.2 351.0 L375.7 351.0 L376.2 351.0 L376.7 351.0 L377.2 351.0 L377.7 351.0 L378.2 351.0 L378.7 351.0 L379.2 351.0 L379.7 351.0 L380.2 351.0 L380.7 351.0 L381.2 351.0 L381.7 351.0 L382.2 351.0 L382.7 351.0 L383.2 351.0 L383.7 351.0 L384.2 351.0 L384.7 351.0 L385.2 351.0 L385.7 351.0 L386.2 351.0 L386.7 351.0 L387.2 351.0 L387.7 351.0 L388.2 351.0 L388.7 351.0 L389.2 351.0 L389.7 351.0 L390.2 351.0 L390.7 351.0 L391.2 351.0 L391.7 351.0 L392.2 351.0 L392.7 351.0 L393.2 351.0 L393.7 351.0 L394.2 351.0 L394.7 351.0 L395.2 351.0 L395.7 351.0 L396.2 351.0 L396.7 351.0 L397.2 351.0 L397.7 351.0 L398.2 351.0 L398.7 351.0 L399.2 351.0 L399.7 351.0 L400.2 351.0 L400.7 351.0 L401.2 351.0 L401.7 351.0 L402.2 351.0 L402.7 351.0 L403.2 351.0 L403.7 351.0 L404.2 351.0 L404.7 351.0 L405.2 351.0 L405.7 351.0 L406.2 351.0 L406.7 351.0 L407.2 351.0 L407.7 351.0 L408.2 351.0 L408.7 351.0 L409.2 351.0 L409.7 351.0 L410.2 351.0 L410.7 351.0 L411.2 351.0 L411.7 351.0 L412.2 351.0 L412.7 351.0 L413.2 351.0 L413.7 351.0 L414.2 351.0 L414.7 351.0 L415.2 351.0 L415.7 351.0 L416.2 351.0 L416.7 351.0 L417.2 351.0 L417.7 351.0 L418.2 351.0 L418.7 351.0 L419.2 351.0 L419.7 351.0 L420.2 351.0 L420.7 351.0 L421.2 351.0 L421.7 351.0 L422.2 351.0 L422.7 351.0 L423.2 351.0 L423.7 351.0 L424.2 351.0 L424.7 351.0 L425.2 351.0 L425.7 351.0 L426.2 351.0 L426.7 351.0 L427.2 351.0 L427.7 351.0 L428.2 351.0 L428.7 351.0 L429.2 351.0 L429.7 351.0 L430.2 351.0 L430.7 351.0 L431.2 351.0 L431.7 351.0 L432.2 351.0 L432.7 351.0 L433.2 351.0 L433.7 351.0 L434.2 351.0 L434.7 351.0 L435.2 351.0 L435.7 351.0 L436.2 351.0 L436.7 351.0 L437.2 351.0 L437.7 351.0 L438.2 351.0 L438.7 351.0 L439.2 351.0 L439.7 351.0 L440.2 351.0 L440.7 351.0 L441.2 351.0 L441.7 351.0 L442.2 351.0 L442.7 351.0 L443.2 351.0 L443.7 351.0 L444.2 351.1 L444.7 351.1 L445.2 351.1 L445.7 351.1 L446.2 351.1 L446.7 351.1 L447.2 351.1 L447.7 351.1 L448.2 351.1 L448.7 351.1 L449.2 351.1 L449.7 351.1 L450.2 351.2 L450.7 351.2 L451.2 351.2 L451.7 351.2 L452.2 351.2 L452.7 351.2 L453.2 351.2 L453.7 351.3 L454.2 351.3 L454.7 351.3 L455.2 351.3 L455.7 351.3 L456.2 351.4 L456.7 351.4 L457.2 351.4 L457.7 351.5 L458.2 351.5 L458.7 351.5 L459.2 351.6 L459.7 351.6 L460.2 351.6 L460.7 351.7 L461.2 351.7 L461.7 351.8 L462.2 351.8 L462.7 351.8 L463.2 351.9 L463.7 352.0 L464.2 352.0 L464.7 352.1 L465.2 352.1 L465.7 352.2 L466.2 352.3 L466.7 352.3 L467.2 352.4 L467.7 352.5 L468.2 352.6 L468.7 352.7 L469.2 352.8 L469.7 352.9 L470.2 352.9 L470.7 353.0 L471.2 353.1 L471.7 353.3 L472.2 353.4 L472.7 353.5 L473.2 353.6 L473.7 353.7 L474.2 353.8 L474.7 354.0 L475.2 354.1 L475.7 354.2 L476.2 354.3 L476.7 354.5 L477.2 354.6 L477.7 354.7 L478.2 354.9 L478.7 355.0 L479.2 355.2 L479.7 355.3 L480.2 355.4 L480.7 355.6 L481.2 355.7 L481.7 355.9 L482.2 356.0 L482.7 356.1 L483.2 356.3 L483.7 356.4 L484.2 356.5 L484.7 356.7 L485.2 356.8 L485.7 356.9 L486.2 357.0 L486.7 357.1 L487.2 357.2 L487.7 357.4 L488.2 357.5 L488.7 357.6 L489.2 357.7 L489.7 357.8 L490.2 357.9 L490.7 358.0 L491.2 358.0 L491.7 358.1 L492.2 358.2 L492.7 358.3 L493.2 358.4 L493.7 358.4 L494.2 358.5 L494.7 358.6 L495.2 358.6 L495.7 358.7 L496.2 358.7 L496.7 358.8 L497.2 358.8 L497.7 358.9 L498.2 358.9 L498.7 359.0 L499.2 359.0 L499.7 359.1 L500.2 359.1 L500.7 359.1 L501.2 359.2 L501.7 359.2 L502.2 359.2 L502.7 359.3 L503.2 359.3 L503.7 359.3 L504.2 359.3 L504.7 359.4 L505.2 359.4 L505.7 359.4 L506.2 359.4 L506.7 359.4 L507.2 359.4 L507.7 359.5 L508.2 359.5 L508.7 359.5 L509.2 359.5 L509.7 359.5 L510.2 359.5 L510.7 359.5 L511.2 359.5 L511.7 359.6 L512.2 359.6 L512.7 359.6 L513.2 359.6 L513.7 359.6 L514.2 359.6 L514.7 359.6 L515.2 359.6 L515.7 359.6 L516.2 359.6 L516.7 359.6 L517.2 359.6 L517.7 359.6 L518.2 359.6 L518.7 359.6 L519.2 359.6 L519.7 359.7 L520.2 359.7 L520.7 359.7 L521.2 359.7 L521.7 359.7 L522.2 359.7 L522.7 359.7 L523.2 359.7 L523.7 359.7 L524.2 359.7 L524.7 359.7 L525.2 359.7 L525.7 359.7 L526.2 359.7 L526.7 359.7 L527.2 359.7 L527.7 359.7 L528.2 359.7 L528.7 359.7 L529.2 359.7 L529.7 359.7 L530.2 359.7 L530.7 359.7 L531.2 359.7 L531.7 359.7 L532.2 359.7 L532.7 359.7 L533.2 359.7 L533.7 359.7 L534.2 359.7 L534.7 359.7 L535.2 359.7 L535.7 359.7 L536.2 359.7 L536.7 359.7 L537.2 359.7 L537.7 359.7 L538.2 359.7 L538.7 359.7 L539.2 359.7 L539.7 359.7 L540.2 359.7 L540.7 359.7 L541.2 359.7 L541.7 359.7 L542.2 359.7 L542.7 359.7 L543.2 359.7 L543.7 359.7 L544.2 359.7 L544.7 359.7 L545.2 359.7 L545.7 359.7 L546.2 359.7" stroke="#a8a890" stroke-width="0.90" fill="none" stroke-linejoin="round" />
<path d="M370.7 350.8 L371.2 350.8 L371.7 350.8 L372.2 350.8 L372.7 350.8 L373.2 350.8 L373.7 350.8 L374.2 350.8 L374.7 350.8 L375.2 350.8 L375.7 350.8 L376.2 350.8 L376.7 350.8 L377.2 350.8 L377.7 350.8 L378.2 350.8 L378.7 350.8 L379.2 350.8 L379.7 350.8 L380.2 350.8 L380.7 350.8 L381.2 350.8 L381.7 350.8 L382.2 350.8 L382.7 350.8 L383.2 350.8 L383.7 350.8 L384.2 350.8 L384.7 350.8 L385.2 350.8 L385.7 350.7 L386.2 350.7 L386.7 350.7 L387.2 350.7 L387.7 350.7 L388.2 350.7 L388.7 350.7 L389.2 350.7 L389.7 350.7 L390.2 350.7 L390.7 350.7 L391.2 350.7 L391.7 350.7 L392.2 350.7 L392.7 350.7 L393.2 350.7 L393.7 350.7 L394.2 350.7 L394.7 350.7 L395.2 350.7 L395.7 350.7 L396.2 350.7 L396.7 350.7 L397.2 350.7 L397.7 350.7 L398.2 350.7 L398.7 350.7 L399.2 350.7 L399.7 350.7 L400.2 350.7 L400.7 350.7 L401.2 350.7 L401.7 350.7 L402.2 350.6 L402.7 350.6 L403.2 350.6 L403.7 350.6 L404.2 350.6 L404.7 350.6 L405.2 350.6 L405.7 350.6 L406.2 350.6 L406.7 350.6 L407.2 350.6 L407.7 350.6 L408.2 350.6 L408.7 350.6 L409.2 350.6 L409.7 350.6 L410.2 350.6 L410.7 350.6 L411.2 350.6 L411.7 350.6 L412.2 350.5 L412.7 350.5 L413.2 350.5 L413.7 350.5 L414.2 350.5 L414.7 350.5 L415.2 350.5 L415.7 350.5 L416.2 350.5 L416.7 350.5 L417.2 350.5 L417.7 350.5 L418.2 350.5 L418.7 350.5 L419.2 350.4 L419.7 350.4 L420.2 350.4 L420.7 350.4 L421.2 350.4 L421.7 350.4 L422.2 350.4 L422.7 350.4 L423.2 350.4 L423.7 350.4 L424.2 350.3 L424.7 350.3 L425.2 350.3 L425.7 350.3 L426.2 350.3 L426.7 350.3 L427.2 350.3 L427.7 350.3 L428.2 350.2 L428.7 350.2 L429.2 350.2 L429.7 350.2 L430.2 350.2 L430.7 350.2 L431.2 350.2 L431.7 350.1 L432.2 350.1 L432.7 350.1 L433.2 350.1 L433.7 350.1 L434.2 350.0 L434.7 350.0 L435.2 350.0 L435.7 350.0 L436.2 350.0 L436.7 349.9 L437.2 349.9 L437.7 349.9 L438.2 349.9 L438.7 349.8 L439.2 349.8 L439.7 349.8 L440.2 349.8 L440.7 349.7 L441.2 349.7 L441.7 349.7 L442.2 349.6 L442.7 349.6 L443.2 349.6 L443.7 349.5 L444.2 349.5 L444.7 349.4 L445.2 349.4 L445.7 349.4 L446.2 349.3 L446.7 349.3 L447.2 349.2 L447.7 349.2 L448.2 349.1 L448.7 349.1 L449.2 349.0 L449.7 348.9 L450.2 348.9 L450.7 348.8 L451.2 348.7 L451.7 348.6 L452.2 348.5 L452.7 348.4 L453.2 348.3 L453.7 348.2 L454.2 348.1 L454.7 348.0 L455.2 347.8 L455.7 347.6 L456.2 347.5 L456.7 347.3 L457.2 347.0 L457.7 346.8 L458.2 346.5 L458.7 346.2 L459.2 345.8 L459.7 345.4 L460.2 345.0 L460.7 344.5 L461.2 343.9 L461.7 343.3 L462.2 342.7 L462.7 341.9 L463.2 341.1 L463.7 340.2 L464.2 339.2 L464.7 338.1 L465.2 336.9 L465.7 335.6 L466.2 334.2 L466.7 332.8 L467.2 331.2 L467.7 329.5 L468.2 327.8 L468.7 326.0 L469.2 324.1 L469.7 322.1 L470.2 320.1 L470.7 318.0 L471.2 316.0 L471.7 313.9 L472.2 311.9 L472.7 310.0 L473.2 308.2 L473.7 306.5 L474.2 305.0 L474.7 303.7 L475.2 302.6 L475.7 301.9 L476.2 301.5 L476.7 301.4 L477.2 301.6 L477.7 302.2 L478.2 303.1 L478.7 304.4 L479.2 305.8 L479.7 307.5 L480.2 309.4 L480.7 311.5 L481.2 313.6 L481.7 315.9 L482.2 318.2 L482.7 320.5 L483.2 322.7 L483.7 325.0 L484.2 327.2 L484.7 329.3 L485.2 331.4 L485.7 333.4 L486.2 335.3 L486.7 337.1 L487.2 338.7 L487.7 340.3 L488.2 341.8 L488.7 343.2 L489.2 344.5 L489.7 345.7 L490.2 346.7 L490.7 347.7 L491.2 348.7 L491.7 349.5 L492.2 350.2 L492.7 350.9 L493.2 351.6 L493.7 352.1 L494.2 352.6 L494.7 353.1 L495.2 353.5 L495.7 353.9 L496.2 354.3 L496.7 354.6 L497.2 354.9 L497.7 355.1 L498.2 355.4 L498.7 355.6 L499.2 355.8 L499.7 356.0 L500.2 356.2 L500.7 356.3 L501.2 356.5 L501.7 356.6 L502.2 356.7 L502.7 356.8 L503.2 357.0 L503.7 357.1 L504.2 357.2 L504.7 357.3 L505.2 357.4 L505.7 357.4 L506.2 357.5 L506.7 357.6 L507.2 357.7 L507.7 357.7 L508.2 357.8 L508.7 357.9 L509.2 357.9 L509.7 358.0 L510.2 358.0 L510.7 358.1 L511.2 358.1 L511.7 358.2 L512.2 358.2 L512.7 358.3 L513.2 358.3 L513.7 358.4 L514.2 358.4 L514.7 358.4 L515.2 358.5 L515.7 358.5 L516.2 358.5 L516.7 358.6 L517.2 358.6 L517.7 358.6 L518.2 358.7 L518.7 358.7 L519.2 358.7 L519.7 358.7 L520.2 358.8 L520.7 358.8 L521.2 358.8 L521.7 358.8 L522.2 358.8 L522.7 358.9 L523.2 358.9 L523.7 358.9 L524.2 358.9 L524.7 358.9 L525.2 358.9 L525.7 359.0 L526.2 359.0 L526.7 359.0 L527.2 359.0 L527.7 359.0 L528.2 359.0 L528.7 359.1 L529.2 359.1 L529.7 359.1 L530.2 359.1 L530.7 359.1 L531.2 359.1 L531.7 359.1 L532.2 359.1 L532.7 359.1 L533.2 359.2 L533.7 359.2 L534.2 359.2 L534.7 359.2 L535.2 359.2 L535.7 359.2 L536.2 359.2 L536.7 359.2 L537.2 359.2 L537.7 359.2 L538.2 359.2 L538.7 359.3 L539.2 359.3 L539.7 359.3 L540.2 359.3 L540.7 359.3 L541.2 359.3 L541.7 359.3 L542.2 359.3 L542.7 359.3 L543.2 359.3 L543.7 359.3 L544.2 359.3 L544.7 359.3 L545.2 359.3 L545.7 359.3 L546.2 359.3" stroke="#c860c8" stroke-width="0.90" fill="none" stroke-linejoin="round" />
<path d="M370.7 351.0 L371.2 351.0 L371.7 351.0 L372.2 351.0 L372.7 351.0 L373.2 351.0 L373.7 351.0 L374.2 351.0 L374.7 351.0 L375.2 351.0 L375.7 351.0 L376.2 351.0 L376.7 351.0 L377.2 351.0 L377.7 351.0 L378.2 351.0 L378.7 351.0 L379.2 351.0 L379.7 351.0 L380.2 351.0 L380.7 351.0 L381.2 351.0 L381.7 351.0 L382.2 351.0 L382.7 351.0 L383.2 351.0 L383.7 351.0 L384.2 351.0 L384.7 351.0 L385.2 351.0 L385.7 351.0 L386.2 351.0 L386.7 351.0 L387.2 351.0 L387.7 351.0 L388.2 351.0 L388.7 351.0 L389.2 351.0 L389.7 351.0 L390.2 351.0 L390.7 351.0 L391.2 351.0 L391.7 351.0 L392.2 351.0 L392.7 351.0 L393.2 351.0 L393.7 351.0 L394.2 351.0 L394.7 351.0 L395.2 351.0 L395.7 351.0 L396.2 351.0 L396.7 351.0 L397.2 351.0 L397.7 351.0 L398.2 351.0 L398.7 351.0 L399.2 351.0 L399.7 351.0 L400.2 351.0 L400.7 351.0 L401.2 351.0 L401.7 351.0 L402.2 351.0 L402.7 351.0 L403.2 351.0 L403.7 351.0 L404.2 351.0 L404.7 351.0 L405.2 351.0 L405.7 351.0 L406.2 351.0 L406.7 351.0 L407.2 351.0 L407.7 351.0 L408.2 351.0 L408.7 351.0 L409.2 351.0 L409.7 351.0 L410.2 351.0 L410.7 351.0 L411.2 351.0 L411.7 351.0 L412.2 351.0 L412.7 351.0 L413.2 351.0 L413.7 351.0 L414.2 351.0 L414.7 351.0 L415.2 351.0 L415.7 351.0 L416.2 351.0 L416.7 351.0 L417.2 351.0 L417.7 351.0 L418.2 351.0 L418.7 351.0 L419.2 351.0 L419.7 351.0 L420.2 351.0 L420.7 351.0 L421.2 351.0 L421.7 351.0 L422.2 351.0 L422.7 351.0 L423.2 351.0 L423.7 351.0 L424.2 351.0 L424.7 351.0 L425.2 351.0 L425.7 351.0 L426.2 351.0 L426.7 351.0 L427.2 351.0 L427.7 351.0 L428.2 351.0 L428.7 351.0 L429.2 351.0 L429.7 351.0 L430.2 351.0 L430.7 351.0 L431.2 351.0 L431.7 351.0 L432.2 351.0 L432.7 351.0 L433.2 351.0 L433.7 351.0 L434.2 351.0 L434.7 351.0 L435.2 351.0 L435.7 351.0 L436.2 351.0 L436.7 351.0 L437.2 351.0 L437.7 351.0 L438.2 351.0 L438.7 351.0 L439.2 351.0 L439.7 351.0 L440.2 351.0 L440.7 351.0 L441.2 351.0 L441.7 351.0 L442.2 351.0 L442.7 351.0 L443.2 351.0 L443.7 351.0 L444.2 351.1 L444.7 351.1 L445.2 351.1 L445.7 351.1 L446.2 351.1 L446.7 351.1 L447.2 351.1 L447.7 351.1 L448.2 351.1 L448.7 351.1 L449.2 351.1 L449.7 351.1 L450.2 351.2 L450.7 351.2 L451.2 351.2 L451.7 351.2 L452.2 351.2 L452.7 351.2 L453.2 351.2 L453.7 351.3 L454.2 351.3 L454.7 351.3 L455.2 351.3 L455.7 351.3 L456.2 351.4 L456.7 351.4 L457.2 351.4 L457.7 351.5 L458.2 351.5 L458.7 351.5 L459.2 351.6 L459.7 351.6 L460.2 351.6 L460.7 351.7 L461.2 351.7 L461.7 351.8 L462.2 351.8 L462.7 351.8 L463.2 351.9 L463.7 352.0 L464.2 352.0 L464.7 352.1 L465.2 352.1 L465.7 352.2 L466.2 352.3 L466.7 352.3 L467.2 352.4 L467.7 352.5 L468.2 352.6 L468.7 352.7 L469.2 352.8 L469.7 352.8 L470.2 352.9 L470.7 353.0 L471.2 353.1 L471.7 353.2 L472.2 353.3 L472.7 353.4 L473.2 353.5 L473.7 353.6 L474.2 353.6 L474.7 353.7 L475.2 353.7 L475.7 353.7 L476.2 353.6 L476.7 353.6 L477.2 353.4 L477.7 353.2 L478.2 352.9 L478.7 352.5 L479.2 352.0 L479.7 351.4 L480.2 350.7 L480.7 349.8 L481.2 348.7 L481.7 347.5 L482.2 346.1 L482.7 344.6 L483.2 342.9 L483.7 341.1 L484.2 339.2 L484.7 337.2 L485.2 335.1 L485.7 333.0 L486.2 330.9 L486.7 328.9 L487.2 327.0 L487.7 325.3 L488.2 323.8 L488.7 322.6 L489.2 321.7 L489.7 321.0 L490.2 320.8 L490.7 320.9 L491.2 321.3 L491.7 322.2 L492.2 323.3 L492.7 324.7 L493.2 326.4 L493.7 328.3 L494.2 330.4 L494.7 332.6 L495.2 334.8 L495.7 337.1 L496.2 339.4 L496.7 341.6 L497.2 343.7 L497.7 345.7 L498.2 347.5 L498.7 349.2 L499.2 350.8 L499.7 352.1 L500.2 353.3 L500.7 354.4 L501.2 355.3 L501.7 356.1 L502.2 356.8 L502.7 357.3 L503.2 357.7 L503.7 358.1 L504.2 358.4 L504.7 358.7 L505.2 358.9 L505.7 359.0 L506.2 359.1 L506.7 359.2 L507.2 359.3 L507.7 359.4 L508.2 359.4 L508.7 359.4 L509.2 359.5 L509.7 359.5 L510.2 359.5 L510.7 359.5 L511.2 359.5 L511.7 359.6 L512.2 359.6 L512.7 359.6 L513.2 359.6 L513.7 359.6 L514.2 359.6 L514.7 359.6 L515.2 359.6 L515.7 359.6 L516.2 359.6 L516.7 359.6 L517.2 359.6 L517.7 359.6 L518.2 359.6 L518.7 359.6 L519.2 359.6 L519.7 359.7 L520.2 359.7 L520.7 359.7 L521.2 359.7 L521.7 359.7 L522.2 359.7 L522.7 359.7 L523.2 359.7 L523.7 359.7 L524.2 359.7 L524.7 359.7 L525.2 359.7 L525.7 359.7 L526.2 359.7 L526.7 359.7 L527.2 359.7 L527.7 359.7 L528.2 359.7 L528.7 359.7 L529.2 359.7 L529.7 359.7 L530.2 359.7 L530.7 359.7 L531.2 359.7 L531.7 359.7 L532.2 359.7 L532.7 359.7 L533.2 359.7 L533.7 359.7 L534.2 359.7 L534.7 359.7 L535.2 359.7 L535.7 359.7 L536.2 359.7 L536.7 359.7 L537.2 359.7 L537.7 359.7 L538.2 359.7 L538.7 359.7 L539.2 359.7 L539.7 359.7 L540.2 359.7 L540.7 359.7 L541.2 359.7 L541.7 359.7 L542.2 359.7 L542.7 359.7 L543.2 359.7 L543.7 359.7 L544.2 359.7 L544.7 359.7 L545.2 359.7 L545.7 359.7 L546.2 359.7" stroke="#9060c0" stroke-width="0.90" fill="none" stroke-linejoin="round" />
<path d="M370.7 351.5 L371.6 350.2 L372.5 352.9 L373.4 348.5 L374.3 353.1 L375.2 348.2 L376.1 351.3 L377.0 350.4 L377.9 350.2 L378.8 349.6 L379.7 351.6 L380.6 353.3 L381.5 349.6 L382.4 348.5 L383.3 353.3 L384.2 349.4 L385.1 352.0 L386.0 348.4 L386.9 353.3 L387.8 348.5 L388.7 353.3 L389.6 349.8 L390.5 351.2 L391.4 348.3 L392.3 352.4 L393.2 350.7 L394.1 354.6 L395.0 348.5 L395.9 353.5 L396.8 352.3 L397.7 353.2 L398.6 344.8 L399.5 350.8 L400.4 351.7 L401.3 345.9 L402.2 349.4 L403.1 350.6 L404.0 347.0 L404.9 348.6 L405.8 350.8 L406.7 352.1 L407.6 350.7 L408.5 353.3 L409.4 353.2 L410.3 351.8 L411.2 350.4 L412.1 351.9 L413.0 349.4 L413.9 352.2 L414.8 348.9 L415.7 350.8 L416.6 353.2 L417.5 351.7 L418.4 349.1 L419.3 352.5 L420.2 354.4 L421.1 353.0 L422.0 351.5 L422.9 347.4 L423.8 357.5 L424.7 353.0 L425.6 346.0 L426.5 353.7 L427.4 349.1 L428.3 351.8 L429.2 350.1 L430.1 351.2 L431.0 354.4 L431.9 352.0 L432.8 353.8 L433.7 348.9 L434.6 346.9 L435.5 353.5 L436.4 347.7 L437.3 350.0 L438.2 347.2 L439.1 352.3 L440.0 346.3 L440.9 350.4 L441.8 346.0 L442.7 354.2 L443.6 348.5 L444.5 349.9 L445.4 346.8 L446.3 351.0 L447.2 348.4 L448.1 351.5 L449.0 346.0 L449.9 347.1 L450.8 345.7 L451.7 351.4 L452.6 346.7 L453.5 354.0 L454.4 346.6 L455.3 350.3 L456.2 349.4 L457.1 347.8 L458.0 346.0 L458.9 351.8 L459.8 347.6 L460.7 346.5 L461.6 339.6 L462.5 342.0 L463.4 341.0 L464.3 337.4 L465.2 336.4 L466.1 336.0 L467.0 329.3 L467.9 329.0 L468.8 324.0 L469.7 324.1 L470.6 313.3 L471.5 317.6 L472.4 307.8 L473.3 308.3 L474.2 298.3 L475.1 302.7 L476.0 295.0 L476.9 290.8 L477.8 300.3 L478.7 301.9 L479.6 303.1 L480.5 306.0 L481.4 306.9 L482.3 312.6 L483.2 306.4 L484.1 312.9 L485.0 300.4 L485.9 306.4 L486.8 305.7 L487.7 298.1 L488.6 309.3 L489.5 309.8 L490.4 308.9 L491.3 317.7 L492.2 318.9 L493.1 313.5 L494.0 319.4 L494.9 325.7 L495.8 329.9 L496.7 333.2 L497.6 336.8 L498.5 345.0 L499.4 347.7 L500.3 355.4 L501.2 351.6 L502.1 355.5 L503.0 355.5 L503.9 356.2 L504.8 356.0 L505.7 357.4 L506.6 357.7 L507.5 358.9 L508.4 355.4 L509.3 360.3 L510.2 355.9 L511.1 360.0 L512.0 356.6 L512.9 361.8 L513.8 357.2 L514.7 362.0 L515.6 355.7 L516.5 361.0 L517.4 358.5 L518.3 361.3 L519.2 357.1 L520.1 362.0 L521.0 358.2 L521.9 356.8 L522.8 355.2 L523.7 359.8 L524.6 359.6 L525.5 361.2 L526.4 355.7 L527.3 359.0 L528.2 360.7 L529.1 359.8 L530.0 356.8 L530.9 362.4 L531.8 358.8 L532.7 363.1 L533.6 358.6 L534.5 360.5 L535.4 359.0 L536.3 361.0 L537.2 359.3 L538.1 360.6 L539.0 357.6 L539.9 360.2 L540.8 358.7 L541.7 359.4 L542.6 357.8 L543.5 362.2 L544.4 352.9 L545.3 363.6 L546.2 357.0" stroke="#d090e0" stroke-width="1.00" fill="none" stroke-linejoin="round" />
<path d="M370.7 350.8 L371.2 350.8 L371.7 350.8 L372.2 350.8 L372.7 350.8 L373.2 350.8 L373.7 350.8 L374.2 350.8 L374.7 350.8 L375.2 350.8 L375.7 350.8 L376.2 350.8 L376.7 350.8 L377.2 350.8 L377.7 350.8 L378.2 350.8 L378.7 350.8 L379.2 350.8 L379.7 350.8 L380.2 350.8 L380.7 350.8 L381.2 350.8 L381.7 350.8 L382.2 350.8 L382.7 350.8 L383.2 350.8 L383.7 350.8 L384.2 350.8 L384.7 350.8 L385.2 350.8 L385.7 350.7 L386.2 350.7 L386.7 350.7 L387.2 350.7 L387.7 350.7 L388.2 350.7 L388.7 350.7 L389.2 350.7 L389.7 350.7 L390.2 350.7 L390.7 350.7 L391.2 350.7 L391.7 350.7 L392.2 350.7 L392.7 350.7 L393.2 350.7 L393.7 350.7 L394.2 350.7 L394.7 350.7 L395.2 350.7 L395.7 350.7 L396.2 350.7 L396.7 350.7 L397.2 350.7 L397.7 350.7 L398.2 350.7 L398.7 350.7 L399.2 350.7 L399.7 350.7 L400.2 350.7 L400.7 350.7 L401.2 350.7 L401.7 350.7 L402.2 350.6 L402.7 350.6 L403.2 350.6 L403.7 350.6 L404.2 350.6 L404.7 350.6 L405.2 350.6 L405.7 350.6 L406.2 350.6 L406.7 350.6 L407.2 350.6 L407.7 350.6 L408.2 350.6 L408.7 350.6 L409.2 350.6 L409.7 350.6 L410.2 350.6 L410.7 350.6 L411.2 350.6 L411.7 350.6 L412.2 350.5 L412.7 350.5 L413.2 350.5 L413.7 350.5 L414.2 350.5 L414.7 350.5 L415.2 350.5 L415.7 350.5 L416.2 350.5 L416.7 350.5 L417.2 350.5 L417.7 350.5 L418.2 350.5 L418.7 350.5 L419.2 350.4 L419.7 350.4 L420.2 350.4 L420.7 350.4 L421.2 350.4 L421.7 350.4 L422.2 350.4 L422.7 350.4 L423.2 350.4 L423.7 350.4 L424.2 350.3 L424.7 350.3 L425.2 350.3 L425.7 350.3 L426.2 350.3 L426.7 350.3 L427.2 350.3 L427.7 350.3 L428.2 350.2 L428.7 350.2 L429.2 350.2 L429.7 350.2 L430.2 350.2 L430.7 350.2 L431.2 350.2 L431.7 350.1 L432.2 350.1 L432.7 350.1 L433.2 350.1 L433.7 350.1 L434.2 350.0 L434.7 350.0 L435.2 350.0 L435.7 350.0 L436.2 350.0 L436.7 349.9 L437.2 349.9 L437.7 349.9 L438.2 349.9 L438.7 349.8 L439.2 349.8 L439.7 349.8 L440.2 349.8 L440.7 349.7 L441.2 349.7 L441.7 349.7 L442.2 349.6 L442.7 349.6 L443.2 349.6 L443.7 349.5 L444.2 349.5 L444.7 349.4 L445.2 349.4 L445.7 349.4 L446.2 349.3 L446.7 349.3 L447.2 349.2 L447.7 349.2 L448.2 349.1 L448.7 349.1 L449.2 349.0 L449.7 348.9 L450.2 348.9 L450.7 348.8 L451.2 348.7 L451.7 348.6 L452.2 348.5 L452.7 348.4 L453.2 348.3 L453.7 348.2 L454.2 348.1 L454.7 348.0 L455.2 347.8 L455.7 347.6 L456.2 347.5 L456.7 347.3 L457.2 347.0 L457.7 346.8 L458.2 346.5 L458.7 346.2 L459.2 345.8 L459.7 345.4 L460.2 345.0 L460.7 344.5 L461.2 343.9 L461.7 343.3 L462.2 342.7 L462.7 341.9 L463.2 341.1 L463.7 340.2 L464.2 339.2 L464.7 338.1 L465.2 336.9 L465.7 335.6 L466.2 334.2 L466.7 332.8 L467.2 331.2 L467.7 329.5 L468.2 327.8 L468.7 326.0 L469.2 324.1 L469.7 322.1 L470.2 320.1 L470.7 318.0 L471.2 316.0 L471.7 313.9 L472.2 311.9 L472.7 309.9 L473.2 308.1 L473.7 306.3 L474.2 304.8 L474.7 303.4 L475.2 302.3 L475.7 301.4 L476.2 300.8 L476.7 300.5 L477.2 300.4 L477.7 300.7 L478.2 301.2 L478.7 301.9 L479.2 302.7 L479.7 303.7 L480.2 304.7 L480.7 305.7 L481.2 306.7 L481.7 307.5 L482.2 308.3 L482.7 308.9 L483.2 309.4 L483.7 309.7 L484.2 309.9 L484.7 309.8 L485.2 309.7 L485.7 309.5 L486.2 309.1 L486.7 308.8 L487.2 308.5 L487.7 308.3 L488.2 308.2 L488.7 308.2 L489.2 308.5 L489.7 308.9 L490.2 309.7 L490.7 310.7 L491.2 312.0 L491.7 313.5 L492.2 315.3 L492.7 317.4 L493.2 319.6 L493.7 322.0 L494.2 324.5 L494.7 327.1 L495.2 329.7 L495.7 332.3 L496.2 334.9 L496.7 337.3 L497.2 339.7 L497.7 341.9 L498.2 344.0 L498.7 345.8 L499.2 347.5 L499.7 349.0 L500.2 350.4 L500.7 351.6 L501.2 352.6 L501.7 353.5 L502.2 354.2 L502.7 354.9 L503.2 355.4 L503.7 355.9 L504.2 356.3 L504.7 356.6 L505.2 356.8 L505.7 357.0 L506.2 357.2 L506.7 357.4 L507.2 357.5 L507.7 357.6 L508.2 357.7 L508.7 357.8 L509.2 357.9 L509.7 358.0 L510.2 358.0 L510.7 358.1 L511.2 358.1 L511.7 358.2 L512.2 358.2 L512.7 358.3 L513.2 358.3 L513.7 358.4 L514.2 358.4 L514.7 358.4 L515.2 358.5 L515.7 358.5 L516.2 358.5 L516.7 358.6 L517.2 358.6 L517.7 358.6 L518.2 358.7 L518.7 358.7 L519.2 358.7 L519.7 358.7 L520.2 358.8 L520.7 358.8 L521.2 358.8 L521.7 358.8 L522.2 358.8 L522.7 358.9 L523.2 358.9 L523.7 358.9 L524.2 358.9 L524.7 358.9 L525.2 358.9 L525.7 359.0 L526.2 359.0 L526.7 359.0 L527.2 359.0 L527.7 359.0 L528.2 359.0 L528.7 359.1 L529.2 359.1 L529.7 359.1 L530.2 359.1 L530.7 359.1 L531.2 359.1 L531.7 359.1 L532.2 359.1 L532.7 359.1 L533.2 359.2 L533.7 359.2 L534.2 359.2 L534.7 359.2 L535.2 359.2 L535.7 359.2 L536.2 359.2 L536.7 359.2 L537.2 359.2 L537.7 359.2 L538.2 359.2 L538.7 359.3 L539.2 359.3 L539.7 359.3 L540.2 359.3 L540.7 359.3 L541.2 359.3 L541.7 359.3 L542.2 359.3 L542.7 359.3 L543.2 359.3 L543.7 359.3 L544.2 359.3 L544.7 359.3 L545.2 359.3 L545.7 359.3 L546.2 359.3" stroke="#8a60a0" stroke-width="1.00" fill="none" stroke-linejoin="round" />
<path d="M367.6 398.0 L368.1 398.0 L368.6 398.0 L369.1 398.0 L369.6 398.0 L370.1 398.0 L370.6 398.0 L371.1 398.0 L371.6 398.0 L372.1 398.0 L372.6 398.0 L373.1 398.0 L373.6 398.0 L374.1 398.0 L374.6 398.0 L375.1 398.0 L375.6 398.0 L376.1 398.0 L376.6 398.0 L377.1 398.0 L377.6 398.0 L378.1 398.0 L378.6 398.0 L379.1 398.0 L379.6 398.0 L380.1 398.0 L380.6 398.0 L381.1 398.0 L381.6 398.0 L382.1 398.0 L382.6 398.0 L383.1 398.0 L383.6 398.0 L384.1 398.0 L384.6 398.0 L385.1 398.0 L385.6 398.0 L386.1 398.0 L386.6 398.0 L387.1 398.0 L387.6 398.0 L388.1 398.0 L388.6 398.0 L389.1 398.0 L389.6 398.0 L390.1 398.0 L390.6 398.0 L391.1 398.0 L391.6 398.0 L392.1 398.0 L392.6 398.0 L393.1 398.0 L393.6 398.0 L394.1 398.0 L394.6 398.0 L395.1 398.0 L395.6 398.0 L396.1 398.0 L396.6 398.0 L397.1 398.0 L397.6 398.0 L398.1 398.0 L398.6 398.0 L399.1 398.0 L399.6 398.0 L400.1 398.0 L400.6 398.0 L401.1 398.0 L401.6 398.0 L402.1 398.0 L402.6 398.0 L403.1 398.0 L403.6 398.0 L404.1 398.0 L404.6 398.0 L405.1 398.0 L405.6 398.0 L406.1 398.0 L406.6 398.0 L407.1 398.0 L407.6 398.0 L408.1 398.0 L408.6 398.0 L409.1 398.0 L409.6 398.0 L410.1 398.0 L410.6 398.0 L411.1 398.0 L411.6 398.0 L412.1 398.0 L412.6 398.0 L413.1 398.0 L413.6 398.0 L414.1 398.0 L414.6 398.0 L415.1 398.0 L415.6 398.0 L416.1 398.0 L416.6 398.0 L417.1 398.0 L417.6 398.0 L418.1 398.0 L418.6 398.0 L419.1 398.0 L419.6 398.0 L420.1 398.0 L420.6 398.0 L421.1 398.0 L421.6 398.0 L422.1 398.0 L422.6 398.0 L423.1 398.0 L423.6 398.0 L424.1 398.0 L424.6 398.0 L425.1 398.0 L425.6 398.0 L426.1 398.0 L426.6 398.0 L427.1 398.0 L427.6 398.0 L428.1 398.0 L428.6 398.0 L429.1 398.0 L429.6 398.0 L430.1 398.0 L430.6 398.0 L431.1 398.0 L431.6 398.0 L432.1 398.0 L432.6 398.0 L433.1 398.0 L433.6 398.0 L434.1 398.0 L434.6 398.0 L435.1 398.0 L435.6 398.0 L436.1 398.0 L436.6 398.0 L437.1 398.0 L437.6 398.0 L438.1 398.0 L438.6 398.0 L439.1 398.0 L439.6 398.0 L440.1 398.0 L440.6 398.0 L441.1 398.0 L441.6 398.0 L442.1 398.0 L442.6 398.0 L443.1 398.0 L443.6 398.0 L444.1 398.0 L444.6 398.0 L445.1 398.0 L445.6 398.0 L446.1 398.0 L446.6 398.0 L447.1 398.0 L447.6 398.0 L448.1 398.0 L448.6 398.0 L449.1 398.0 L449.6 398.0 L450.1 398.0 L450.6 398.0 L451.1 398.0 L451.6 398.0 L452.1 398.0 L452.6 398.0 L453.1 398.0 L453.6 398.0 L454.1 398.0 L454.6 398.0 L455.1 398.0 L455.6 398.0 L456.1 398.0 L456.6 398.0 L457.1 398.0 L457.6 398.0 L458.1 398.0 L458.6 398.0 L459.1 398.0 L459.6 398.0 L460.1 398.0 L460.6 398.0 L461.1 398.0 L461.6 398.0 L462.1 398.0 L462.6 398.0 L463.1 398.0 L463.6 398.0 L464.1 398.0 L464.6 398.0 L465.1 398.0 L465.6 398.0 L466.1 398.0 L466.6 398.0 L467.1 398.0 L467.6 398.0 L468.1 398.0 L468.6 398.0 L469.1 398.0 L469.6 398.0 L470.1 398.0 L470.6 398.0 L471.1 398.0 L471.6 398.0 L472.1 398.0 L472.6 398.0 L473.1 398.0 L473.6 398.0 L474.1 398.0 L474.6 398.0 L475.1 398.0 L475.6 398.0 L476.1 398.0 L476.6 398.0 L477.1 398.0 L477.6 398.0 L478.1 398.0 L478.6 398.0 L479.1 398.0 L479.6 398.0 L480.1 398.0 L480.6 398.0 L481.1 398.0 L481.6 398.0 L482.1 398.0 L482.6 398.0 L483.1 398.1 L483.6 398.1 L484.1 398.2 L484.6 398.4 L485.1 398.6 L485.6 398.9 L486.1 399.4 L486.6 399.8 L487.1 400.2 L487.6 400.5 L488.1 400.7 L488.6 400.8 L489.1 400.9 L489.6 400.9 L490.1 401.0 L490.6 401.0 L491.1 401.0 L491.6 401.0 L492.1 401.0 L492.6 401.0 L493.1 401.0 L493.6 401.0 L494.1 401.0 L494.6 401.0 L495.1 401.0 L495.6 401.0 L496.1 401.0 L496.6 401.0 L497.1 401.0 L497.6 401.0 L498.1 401.0 L498.6 401.0 L499.1 401.0 L499.6 401.0 L500.1 401.0 L500.6 401.0 L501.1 401.0 L501.6 401.0 L502.1 401.0 L502.6 401.0 L503.1 401.0 L503.6 401.0 L504.1 401.0 L504.6 401.0 L505.1 401.0 L505.6 401.0 L506.1 401.0 L506.6 401.0 L507.1 401.0 L507.6 401.0 L508.1 401.0 L508.6 401.0 L509.1 401.0 L509.6 401.0 L510.1 401.0 L510.6 401.0 L511.1 401.0 L511.6 401.0 L512.1 401.0 L512.6 401.0 L513.1 401.0 L513.6 401.0 L514.1 401.0 L514.6 401.0 L515.1 401.0 L515.6 401.0 L516.1 401.0 L516.6 401.0 L517.1 401.0 L517.6 401.0 L518.1 401.0 L518.6 401.0 L519.1 401.0 L519.6 401.0 L520.1 401.0 L520.6 401.0 L521.1 401.0 L521.6 401.0 L522.1 401.0 L522.6 401.0 L523.1 401.0 L523.6 401.0 L524.1 401.0 L524.6 401.0 L525.1 401.0 L525.6 401.0 L526.1 401.0 L526.6 401.0 L527.1 401.0 L527.6 401.0 L528.1 401.0 L528.6 401.0 L529.1 401.0 L529.6 401.0 L530.1 401.0 L530.6 401.0 L531.1 401.0 L531.6 401.0 L532.1 401.0 L532.6 401.0 L533.1 401.0 L533.6 401.0 L534.1 401.0 L534.6 401.0 L535.1 401.0 L535.6 401.0 L536.1 401.0 L536.6 401.0 L537.1 401.0 L537.6 401.0 L538.1 401.0 L538.6 401.0 L539.1 401.0 L539.6 401.0 L540.1 401.0 L540.6 401.0 L541.1 401.0 L541.6 401.0 L542.1 401.0" stroke="#b0e0a0" stroke-width="0.90" fill="none" stroke-linejoin="round" />
<path d="M367.6 397.9 L368.1 397.9 L368.6 397.9 L369.1 397.9 L369.6 397.9 L370.1 397.9 L370.6 397.9 L371.1 397.9 L371.6 397.9 L372.1 397.9 L372.6 397.9 L373.1 397.9 L373.6 397.9 L374.1 397.9 L374.6 397.9 L375.1 397.9 L375.6 397.9 L376.1 397.9 L376.6 397.9 L377.1 397.9 L377.6 397.9 L378.1 397.9 L378.6 397.9 L379.1 397.9 L379.6 397.9 L380.1 397.9 L380.6 397.9 L381.1 397.9 L381.6 397.9 L382.1 397.9 L382.6 397.9 L383.1 397.9 L383.6 397.9 L384.1 397.9 L384.6 397.9 L385.1 397.9 L385.6 397.9 L386.1 397.9 L386.6 397.9 L387.1 397.9 L387.6 397.9 L388.1 397.8 L388.6 397.8 L389.1 397.8 L389.6 397.8 L390.1 397.8 L390.6 397.8 L391.1 397.8 L391.6 397.8 L392.1 397.8 L392.6 397.8 L393.1 397.8 L393.6 397.8 L394.1 397.8 L394.6 397.8 L395.1 397.8 L395.6 397.8 L396.1 397.8 L396.6 397.8 L397.1 397.8 L397.6 397.8 L398.1 397.8 L398.6 397.8 L399.1 397.8 L399.6 397.8 L400.1 397.8 L400.6 397.8 L401.1 397.8 L401.6 397.8 L402.1 397.8 L402.6 397.8 L403.1 397.8 L403.6 397.8 L404.1 397.8 L404.6 397.8 L405.1 397.8 L405.6 397.8 L406.1 397.8 L406.6 397.8 L407.1 397.8 L407.6 397.8 L408.1 397.7 L408.6 397.7 L409.1 397.7 L409.6 397.7 L410.1 397.7 L410.6 397.7 L411.1 397.7 L411.6 397.7 L412.1 397.7 L412.6 397.7 L413.1 397.7 L413.6 397.7 L414.1 397.7 L414.6 397.7 L415.1 397.7 L415.6 397.7 L416.1 397.7 L416.6 397.7 L417.1 397.7 L417.6 397.7 L418.1 397.7 L418.6 397.6 L419.1 397.6 L419.6 397.6 L420.1 397.6 L420.6 397.6 L421.1 397.6 L421.6 397.6 L422.1 397.6 L422.6 397.6 L423.1 397.6 L423.6 397.6 L424.1 397.6 L424.6 397.6 L425.1 397.6 L425.6 397.5 L426.1 397.5 L426.6 397.5 L427.1 397.5 L427.6 397.5 L428.1 397.5 L428.6 397.5 L429.1 397.5 L429.6 397.5 L430.1 397.5 L430.6 397.4 L431.1 397.4 L431.6 397.4 L432.1 397.4 L432.6 397.4 L433.1 397.4 L433.6 397.4 L434.1 397.4 L434.6 397.3 L435.1 397.3 L435.6 397.3 L436.1 397.3 L436.6 397.3 L437.1 397.3 L437.6 397.2 L438.1 397.2 L438.6 397.2 L439.1 397.2 L439.6 397.2 L440.1 397.1 L440.6 397.1 L441.1 397.1 L441.6 397.1 L442.1 397.0 L442.6 397.0 L443.1 397.0 L443.6 396.9 L444.1 396.9 L444.6 396.9 L445.1 396.8 L445.6 396.8 L446.1 396.8 L446.6 396.7 L447.1 396.7 L447.6 396.7 L448.1 396.6 L448.6 396.6 L449.1 396.5 L449.6 396.5 L450.1 396.4 L450.6 396.3 L451.1 396.3 L451.6 396.2 L452.1 396.2 L452.6 396.1 L453.1 396.0 L453.6 395.9 L454.1 395.8 L454.6 395.7 L455.1 395.6 L455.6 395.5 L456.1 395.4 L456.6 395.3 L457.1 395.2 L457.6 395.0 L458.1 394.9 L458.6 394.7 L459.1 394.6 L459.6 394.4 L460.1 394.2 L460.6 394.0 L461.1 393.7 L461.6 393.5 L462.1 393.2 L462.6 392.9 L463.1 392.5 L463.6 392.2 L464.1 391.8 L464.6 391.4 L465.1 390.9 L465.6 390.4 L466.1 389.9 L466.6 389.3 L467.1 388.7 L467.6 388.0 L468.1 387.3 L468.6 386.6 L469.1 385.8 L469.6 384.9 L470.1 384.0 L470.6 383.1 L471.1 382.2 L471.6 381.2 L472.1 380.3 L472.6 379.3 L473.1 378.4 L473.6 377.6 L474.1 376.8 L474.6 376.2 L475.1 375.7 L475.6 375.4 L476.1 375.2 L476.6 375.3 L477.1 375.5 L477.6 375.9 L478.1 376.4 L478.6 377.1 L479.1 377.9 L479.6 378.8 L480.1 379.7 L480.6 380.6 L481.1 381.6 L481.6 382.6 L482.1 383.5 L482.6 384.4 L483.1 385.3 L483.6 386.2 L484.1 387.1 L484.6 388.0 L485.1 388.9 L485.6 389.9 L486.1 390.9 L486.6 391.9 L487.1 392.8 L487.6 393.6 L488.1 394.2 L488.6 394.8 L489.1 395.2 L489.6 395.6 L490.1 396.0 L490.6 396.3 L491.1 396.5 L491.6 396.8 L492.1 397.0 L492.6 397.3 L493.1 397.4 L493.6 397.6 L494.1 397.8 L494.6 398.0 L495.1 398.1 L495.6 398.2 L496.1 398.4 L496.6 398.5 L497.1 398.6 L497.6 398.7 L498.1 398.8 L498.6 398.9 L499.1 399.0 L499.6 399.0 L500.1 399.1 L500.6 399.2 L501.1 399.2 L501.6 399.3 L502.1 399.4 L502.6 399.4 L503.1 399.5 L503.6 399.5 L504.1 399.6 L504.6 399.6 L505.1 399.7 L505.6 399.7 L506.1 399.8 L506.6 399.8 L507.1 399.8 L507.6 399.9 L508.1 399.9 L508.6 399.9 L509.1 400.0 L509.6 400.0 L510.1 400.0 L510.6 400.0 L511.1 400.1 L511.6 400.1 L512.1 400.1 L512.6 400.1 L513.1 400.2 L513.6 400.2 L514.1 400.2 L514.6 400.2 L515.1 400.2 L515.6 400.3 L516.1 400.3 L516.6 400.3 L517.1 400.3 L517.6 400.3 L518.1 400.3 L518.6 400.4 L519.1 400.4 L519.6 400.4 L520.1 400.4 L520.6 400.4 L521.1 400.4 L521.6 400.4 L522.1 400.5 L522.6 400.5 L523.1 400.5 L523.6 400.5 L524.1 400.5 L524.6 400.5 L525.1 400.5 L525.6 400.5 L526.1 400.5 L526.6 400.5 L527.1 400.6 L527.6 400.6 L528.1 400.6 L528.6 400.6 L529.1 400.6 L529.6 400.6 L530.1 400.6 L530.6 400.6 L531.1 400.6 L531.6 400.6 L532.1 400.6 L532.6 400.6 L533.1 400.6 L533.6 400.6 L534.1 400.7 L534.6 400.7 L535.1 400.7 L535.6 400.7 L536.1 400.7 L536.6 400.7 L537.1 400.7 L537.6 400.7 L538.1 400.7 L538.6 400.7 L539.1 400.7 L539.6 400.7 L540.1 400.7 L540.6 400.7 L541.1 400.7 L541.6 400.7 L542.1 400.7" stroke="#80a0e0" stroke-width="0.90" fill="none" stroke-linejoin="round" />
<path d="M367.6 398.0 L368.1 398.0 L368.6 398.0 L369.1 398.0 L369.6 398.0 L370.1 398.0 L370.6 398.0 L371.1 398.0 L371.6 398.0 L372.1 398.0 L372.6 398.0 L373.1 398.0 L373.6 398.0 L374.1 398.0 L374.6 398.0 L375.1 398.0 L375.6 398.0 L376.1 398.0 L376.6 398.0 L377.1 398.0 L377.6 398.0 L378.1 398.0 L378.6 398.0 L379.1 398.0 L379.6 398.0 L380.1 398.0 L380.6 398.0 L381.1 398.0 L381.6 398.0 L382.1 398.0 L382.6 398.0 L383.1 398.0 L383.6 398.0 L384.1 398.0 L384.6 398.0 L385.1 398.0 L385.6 398.0 L386.1 398.0 L386.6 398.0 L387.1 398.0 L387.6 398.0 L388.1 398.0 L388.6 398.0 L389.1 398.0 L389.6 398.0 L390.1 398.0 L390.6 398.0 L391.1 398.0 L391.6 398.0 L392.1 398.0 L392.6 398.0 L393.1 398.0 L393.6 398.0 L394.1 398.0 L394.6 398.0 L395.1 398.0 L395.6 398.0 L396.1 398.0 L396.6 398.0 L397.1 398.0 L397.6 398.0 L398.1 398.0 L398.6 398.0 L399.1 398.0 L399.6 398.0 L400.1 398.0 L400.6 398.0 L401.1 398.0 L401.6 398.0 L402.1 398.0 L402.6 398.0 L403.1 398.0 L403.6 398.0 L404.1 398.0 L404.6 398.0 L405.1 398.0 L405.6 398.0 L406.1 398.0 L406.6 398.0 L407.1 398.0 L407.6 398.0 L408.1 397.9 L408.6 397.9 L409.1 397.9 L409.6 397.9 L410.1 397.9 L410.6 397.9 L411.1 397.9 L411.6 397.9 L412.1 397.9 L412.6 397.9 L413.1 397.9 L413.6 397.9 L414.1 397.9 L414.6 397.9 L415.1 397.9 L415.6 397.9 L416.1 397.9 L416.6 397.9 L417.1 397.9 L417.6 397.9 L418.1 397.9 L418.6 397.9 L419.1 397.9 L419.6 397.9 L420.1 397.9 L420.6 397.9 L421.1 397.9 L421.6 397.9 L422.1 397.9 L422.6 397.9 L423.1 397.9 L423.6 397.9 L424.1 397.9 L424.6 397.9 L425.1 397.9 L425.6 397.9 L426.1 397.9 L426.6 397.9 L427.1 397.9 L427.6 397.9 L428.1 397.9 L428.6 397.9 L429.1 397.9 L429.6 397.9 L430.1 397.9 L430.6 397.9 L431.1 397.9 L431.6 397.9 L432.1 397.9 L432.6 397.9 L433.1 397.9 L433.6 397.9 L434.1 397.9 L434.6 397.9 L435.1 397.9 L435.6 397.9 L436.1 397.9 L436.6 397.9 L437.1 397.9 L437.6 397.9 L438.1 397.9 L438.6 397.9 L439.1 397.9 L439.6 397.9 L440.1 397.9 L440.6 397.9 L441.1 397.9 L441.6 397.9 L442.1 397.9 L442.6 397.9 L443.1 397.9 L443.6 397.9 L444.1 397.8 L444.6 397.8 L445.1 397.8 L445.6 397.8 L446.1 397.8 L446.6 397.8 L447.1 397.8 L447.6 397.8 L448.1 397.8 L448.6 397.8 L449.1 397.8 L449.6 397.8 L450.1 397.8 L450.6 397.8 L451.1 397.8 L451.6 397.8 L452.1 397.8 L452.6 397.8 L453.1 397.8 L453.6 397.8 L454.1 397.8 L454.6 397.8 L455.1 397.7 L455.6 397.7 L456.1 397.7 L456.6 397.7 L457.1 397.7 L457.6 397.7 L458.1 397.7 L458.6 397.7 L459.1 397.7 L459.6 397.7 L460.1 397.7 L460.6 397.7 L461.1 397.6 L461.6 397.6 L462.1 397.6 L462.6 397.6 L463.1 397.6 L463.6 397.6 L464.1 397.6 L464.6 397.6 L465.1 397.5 L465.6 397.5 L466.1 397.5 L466.6 397.5 L467.1 397.5 L467.6 397.4 L468.1 397.4 L468.6 397.4 L469.1 397.4 L469.6 397.3 L470.1 397.3 L470.6 397.3 L471.1 397.3 L471.6 397.2 L472.1 397.2 L472.6 397.1 L473.1 397.1 L473.6 397.1 L474.1 397.0 L474.6 397.0 L475.1 396.9 L475.6 396.8 L476.1 396.7 L476.6 396.7 L477.1 396.6 L477.6 396.5 L478.1 396.3 L478.6 396.2 L479.1 396.1 L479.6 395.9 L480.1 395.7 L480.6 395.5 L481.1 395.2 L481.6 395.0 L482.1 394.7 L482.6 394.3 L483.1 394.0 L483.6 393.6 L484.1 393.2 L484.6 392.9 L485.1 392.5 L485.6 392.2 L486.1 392.0 L486.6 391.7 L487.1 391.4 L487.6 390.9 L488.1 390.4 L488.6 389.8 L489.1 389.1 L489.6 388.4 L490.1 387.8 L490.6 387.3 L491.1 386.9 L491.6 386.7 L492.1 386.6 L492.6 386.6 L493.1 386.9 L493.6 387.3 L494.1 387.8 L494.6 388.4 L495.1 389.1 L495.6 389.8 L496.1 390.6 L496.6 391.4 L497.1 392.1 L497.6 392.8 L498.1 393.5 L498.6 394.2 L499.1 394.8 L499.6 395.4 L500.1 395.9 L500.6 396.4 L501.1 396.8 L501.6 397.2 L502.1 397.6 L502.6 397.9 L503.1 398.2 L503.6 398.4 L504.1 398.7 L504.6 398.9 L505.1 399.0 L505.6 399.2 L506.1 399.3 L506.6 399.5 L507.1 399.6 L507.6 399.7 L508.1 399.7 L508.6 399.8 L509.1 399.9 L509.6 399.9 L510.1 400.0 L510.6 400.0 L511.1 400.1 L511.6 400.1 L512.1 400.2 L512.6 400.2 L513.1 400.3 L513.6 400.3 L514.1 400.3 L514.6 400.3 L515.1 400.4 L515.6 400.4 L516.1 400.4 L516.6 400.4 L517.1 400.5 L517.6 400.5 L518.1 400.5 L518.6 400.5 L519.1 400.5 L519.6 400.5 L520.1 400.6 L520.6 400.6 L521.1 400.6 L521.6 400.6 L522.1 400.6 L522.6 400.6 L523.1 400.6 L523.6 400.7 L524.1 400.7 L524.6 400.7 L525.1 400.7 L525.6 400.7 L526.1 400.7 L526.6 400.7 L527.1 400.7 L527.6 400.7 L528.1 400.7 L528.6 400.7 L529.1 400.7 L529.6 400.8 L530.1 400.8 L530.6 400.8 L531.1 400.8 L531.6 400.8 L532.1 400.8 L532.6 400.8 L533.1 400.8 L533.6 400.8 L534.1 400.8 L534.6 400.8 L535.1 400.8 L535.6 400.8 L536.1 400.8 L536.6 400.8 L537.1 400.8 L537.6 400.8 L538.1 400.8 L538.6 400.8 L539.1 400.8 L539.6 400.8 L540.1 400.8 L540.6 400.9 L541.1 400.9 L541.6 400.9 L542.1 400.9" stroke="#b0d8f0" stroke-width="0.80" fill="none" stroke-linejoin="round" stroke-dasharray="1 1"/>
<path d="M367.6 397.9 L368.5 399.5 L369.4 401.0 L370.3 401.7 L371.2 398.7 L372.1 398.1 L373.0 399.5 L373.9 397.1 L374.8 400.4 L375.7 396.0 L376.6 398.6 L377.5 395.9 L378.4 398.8 L379.3 397.8 L380.2 402.2 L381.1 392.9 L382.0 395.5 L382.9 397.4 L383.8 396.6 L384.7 393.7 L385.6 397.3 L386.5 396.4 L387.4 398.4 L388.3 396.7 L389.2 399.0 L390.1 395.6 L391.0 398.6 L391.9 397.2 L392.8 398.6 L393.7 395.3 L394.6 397.6 L395.5 399.4 L396.4 399.6 L397.3 395.6 L398.2 398.4 L399.1 398.0 L400.0 394.7 L400.9 398.5 L401.8 399.4 L402.7 395.0 L403.6 398.3 L404.5 397.5 L405.4 401.9 L406.3 398.1 L407.2 398.6 L408.1 399.0 L409.0 403.3 L409.9 394.7 L410.8 399.2 L411.7 400.6 L412.6 393.9 L413.5 397.2 L414.4 397.8 L415.3 393.3 L416.2 398.6 L417.1 395.8 L418.0 398.6 L418.9 393.0 L419.8 400.1 L420.7 395.5 L421.6 401.7 L422.5 399.0 L423.4 394.4 L424.3 397.2 L425.2 398.9 L426.1 393.9 L427.0 398.6 L427.9 396.2 L428.8 402.6 L429.7 396.7 L430.6 396.3 L431.5 395.9 L432.4 399.0 L433.3 396.1 L434.2 401.5 L435.1 396.8 L436.0 398.3 L436.9 396.6 L437.8 397.4 L438.7 394.9 L439.6 395.1 L440.5 395.7 L441.4 398.6 L442.3 397.6 L443.2 396.4 L444.1 393.9 L445.0 395.6 L445.9 396.6 L446.8 399.8 L447.7 400.5 L448.6 398.2 L449.5 392.1 L450.4 395.9 L451.3 393.9 L452.2 394.3 L453.1 393.5 L454.0 399.5 L454.9 393.8 L455.8 389.8 L456.7 396.3 L457.6 395.0 L458.5 391.6 L459.4 393.8 L460.3 391.1 L461.2 391.0 L462.1 390.0 L463.0 392.9 L463.9 390.9 L464.8 391.6 L465.7 382.7 L466.6 390.7 L467.5 390.5 L468.4 386.7 L469.3 382.8 L470.2 382.1 L471.1 384.5 L472.0 382.3 L472.9 371.7 L473.8 379.2 L474.7 373.9 L475.6 375.4 L476.5 367.6 L477.4 378.3 L478.3 374.6 L479.2 378.7 L480.1 369.1 L481.0 374.8 L481.9 377.6 L482.8 385.4 L483.7 379.6 L484.6 384.3 L485.5 380.7 L486.4 384.3 L487.3 377.5 L488.2 384.8 L489.1 381.3 L490.0 382.9 L490.9 385.1 L491.8 383.9 L492.7 380.4 L493.6 387.7 L494.5 382.4 L495.4 387.5 L496.3 388.1 L497.2 393.8 L498.1 387.6 L499.0 394.4 L499.9 394.5 L500.8 395.0 L501.7 393.8 L502.6 398.6 L503.5 400.1 L504.4 396.7 L505.3 392.5 L506.2 396.3 L507.1 401.1 L508.0 398.9 L508.9 398.9 L509.8 402.6 L510.7 402.0 L511.6 400.7 L512.5 403.6 L513.4 401.9 L514.3 400.8 L515.2 400.3 L516.1 394.6 L517.0 402.5 L517.9 397.7 L518.8 400.1 L519.7 397.0 L520.6 402.7 L521.5 399.9 L522.4 400.7 L523.3 395.8 L524.2 396.3 L525.1 402.0 L526.0 400.5 L526.9 399.4 L527.8 402.0 L528.7 399.7 L529.6 400.6 L530.5 400.2 L531.4 399.0 L532.3 398.8 L533.2 401.4 L534.1 399.5 L535.0 402.4 L535.9 396.7 L536.8 403.7 L537.7 395.7 L538.6 399.5 L539.5 403.9 L540.4 400.7 L541.3 395.8 L542.2 404.7" stroke="#404040" stroke-width="1.00" fill="none" stroke-linejoin="round" />
<path d="M367.6 397.9 L368.1 397.9 L368.6 397.9 L369.1 397.9 L369.6 397.9 L370.1 397.9 L370.6 397.9 L371.1 397.9 L371.6 397.9 L372.1 397.9 L372.6 397.9 L373.1 397.9 L373.6 397.9 L374.1 397.9 L374.6 397.9 L375.1 397.9 L375.6 397.9 L376.1 397.9 L376.6 397.9 L377.1 397.9 L377.6 397.9 L378.1 397.9 L378.6 397.8 L379.1 397.8 L379.6 397.8 L380.1 397.8 L380.6 397.8 L381.1 397.8 L381.6 397.8 L382.1 397.8 L382.6 397.8 L383.1 397.8 L383.6 397.8 L384.1 397.8 L384.6 397.8 L385.1 397.8 L385.6 397.8 L386.1 397.8 L386.6 397.8 L387.1 397.8 L387.6 397.8 L388.1 397.8 L388.6 397.8 L389.1 397.8 L389.6 397.8 L390.1 397.8 L390.6 397.8 L391.1 397.8 L391.6 397.8 L392.1 397.8 L392.6 397.8 L393.1 397.8 L393.6 397.8 L394.1 397.8 L394.6 397.8 L395.1 397.8 L395.6 397.8 L396.1 397.8 L396.6 397.8 L397.1 397.8 L397.6 397.8 L398.1 397.8 L398.6 397.8 L399.1 397.8 L399.6 397.8 L400.1 397.8 L400.6 397.8 L401.1 397.7 L401.6 397.7 L402.1 397.7 L402.6 397.7 L403.1 397.7 L403.6 397.7 L404.1 397.7 L404.6 397.7 L405.1 397.7 L405.6 397.7 L406.1 397.7 L406.6 397.7 L407.1 397.7 L407.6 397.7 L408.1 397.7 L408.6 397.7 L409.1 397.7 L409.6 397.7 L410.1 397.7 L410.6 397.7 L411.1 397.7 L411.6 397.7 L412.1 397.7 L412.6 397.7 L413.1 397.7 L413.6 397.6 L414.1 397.6 L414.6 397.6 L415.1 397.6 L415.6 397.6 L416.1 397.6 L416.6 397.6 L417.1 397.6 L417.6 397.6 L418.1 397.6 L418.6 397.6 L419.1 397.6 L419.6 397.6 L420.1 397.6 L420.6 397.6 L421.1 397.5 L421.6 397.5 L422.1 397.5 L422.6 397.5 L423.1 397.5 L423.6 397.5 L424.1 397.5 L424.6 397.5 L425.1 397.5 L425.6 397.5 L426.1 397.5 L426.6 397.4 L427.1 397.4 L427.6 397.4 L428.1 397.4 L428.6 397.4 L429.1 397.4 L429.6 397.4 L430.1 397.4 L430.6 397.4 L431.1 397.3 L431.6 397.3 L432.1 397.3 L432.6 397.3 L433.1 397.3 L433.6 397.3 L434.1 397.3 L434.6 397.2 L435.1 397.2 L435.6 397.2 L436.1 397.2 L436.6 397.2 L437.1 397.1 L437.6 397.1 L438.1 397.1 L438.6 397.1 L439.1 397.1 L439.6 397.0 L440.1 397.0 L440.6 397.0 L441.1 397.0 L441.6 396.9 L442.1 396.9 L442.6 396.9 L443.1 396.8 L443.6 396.8 L444.1 396.8 L444.6 396.7 L445.1 396.7 L445.6 396.7 L446.1 396.6 L446.6 396.6 L447.1 396.5 L447.6 396.5 L448.1 396.4 L448.6 396.4 L449.1 396.3 L449.6 396.3 L450.1 396.2 L450.6 396.1 L451.1 396.1 L451.6 396.0 L452.1 395.9 L452.6 395.9 L453.1 395.8 L453.6 395.7 L454.1 395.6 L454.6 395.5 L455.1 395.4 L455.6 395.3 L456.1 395.2 L456.6 395.0 L457.1 394.9 L457.6 394.8 L458.1 394.6 L458.6 394.4 L459.1 394.2 L459.6 394.0 L460.1 393.8 L460.6 393.6 L461.1 393.4 L461.6 393.1 L462.1 392.8 L462.6 392.5 L463.1 392.1 L463.6 391.8 L464.1 391.4 L464.6 390.9 L465.1 390.5 L465.6 389.9 L466.1 389.4 L466.6 388.8 L467.1 388.2 L467.6 387.5 L468.1 386.7 L468.6 386.0 L469.1 385.1 L469.6 384.3 L470.1 383.4 L470.6 382.4 L471.1 381.4 L471.6 380.4 L472.1 379.4 L472.6 378.5 L473.1 377.5 L473.6 376.6 L474.1 375.8 L474.6 375.1 L475.1 374.6 L475.6 374.2 L476.1 374.0 L476.6 373.9 L477.1 374.0 L477.6 374.3 L478.1 374.8 L478.6 375.3 L479.1 376.0 L479.6 376.7 L480.1 377.4 L480.6 378.1 L481.1 378.8 L481.6 379.5 L482.1 380.1 L482.6 380.7 L483.1 381.2 L483.6 381.7 L484.1 382.1 L484.6 382.5 L485.1 382.8 L485.6 383.2 L486.1 383.5 L486.6 383.8 L487.1 384.0 L487.6 384.0 L488.1 383.9 L488.6 383.7 L489.1 383.4 L489.6 383.1 L490.1 382.8 L490.6 382.6 L491.1 382.5 L491.6 382.5 L492.1 382.6 L492.6 382.9 L493.1 383.3 L493.6 383.9 L494.1 384.6 L494.6 385.4 L495.1 386.2 L495.6 387.1 L496.1 388.0 L496.6 388.8 L497.1 389.7 L497.6 390.5 L498.1 391.3 L498.6 392.1 L499.1 392.8 L499.6 393.4 L500.1 394.0 L500.6 394.6 L501.1 395.1 L501.6 395.6 L502.1 396.0 L502.6 396.3 L503.1 396.7 L503.6 397.0 L504.1 397.3 L504.6 397.5 L505.1 397.7 L505.6 397.9 L506.1 398.1 L506.6 398.2 L507.1 398.4 L507.6 398.5 L508.1 398.6 L508.6 398.7 L509.1 398.8 L509.6 398.9 L510.1 399.0 L510.6 399.1 L511.1 399.2 L511.6 399.2 L512.1 399.3 L512.6 399.4 L513.1 399.4 L513.6 399.5 L514.1 399.5 L514.6 399.6 L515.1 399.6 L515.6 399.7 L516.1 399.7 L516.6 399.7 L517.1 399.8 L517.6 399.8 L518.1 399.8 L518.6 399.9 L519.1 399.9 L519.6 399.9 L520.1 400.0 L520.6 400.0 L521.1 400.0 L521.6 400.0 L522.1 400.1 L522.6 400.1 L523.1 400.1 L523.6 400.1 L524.1 400.2 L524.6 400.2 L525.1 400.2 L525.6 400.2 L526.1 400.2 L526.6 400.3 L527.1 400.3 L527.6 400.3 L528.1 400.3 L528.6 400.3 L529.1 400.3 L529.6 400.3 L530.1 400.4 L530.6 400.4 L531.1 400.4 L531.6 400.4 L532.1 400.4 L532.6 400.4 L533.1 400.4 L533.6 400.4 L534.1 400.5 L534.6 400.5 L535.1 400.5 L535.6 400.5 L536.1 400.5 L536.6 400.5 L537.1 400.5 L537.6 400.5 L538.1 400.5 L538.6 400.5 L539.1 400.5 L539.6 400.6 L540.1 400.6 L540.6 400.6 L541.1 400.6 L541.6 400.6 L542.1 400.6" stroke="#b05050" stroke-width="0.90" fill="none" stroke-opacity="0.80" stroke-linejoin="round" />
<line x1="476.90" y1="247.40" x2="476.90" y2="386.30" stroke="#444" stroke-width="1.1" stroke-dasharray="1.1 1.5"/>
<line x1="491.20" y1="245.40" x2="491.20" y2="386.30" stroke="#444" stroke-width="1.1" stroke-dasharray="1.1 1.5"/>
<rect x="177.40" y="467.30" width="252.80" height="186.30" fill="none" stroke="#2e2e2e" stroke-width="1.4"/>
<path d="M187.51 653.60V656.00M197.62 653.60V656.00M207.73 653.60V656.00M217.84 653.60V656.00M238.06 653.60V656.00M248.17 653.60V656.00M258.28 653.60V656.00M268.39 653.60V656.00M288.61 653.60V656.00M298.72 653.60V656.00M308.83 653.60V656.00M318.94 653.60V656.00M339.16 653.60V656.00M349.27 653.60V656.00M359.38 653.60V656.00M369.49 653.60V656.00M389.71 653.60V656.00M399.82 653.60V656.00M409.93 653.60V656.00M420.04 653.60V656.00M177.40 653.60V657.60M227.95 653.60V657.60M278.50 653.60V657.60M329.05 653.60V657.60M379.60 653.60V657.60M430.15 653.60V657.60" stroke="#2e2e2e" stroke-width="1.2"/>
<text x="177.4" y="667.8" font-size="10.00" text-anchor="middle">190</text>
<text x="227.9" y="667.8" font-size="10.00" text-anchor="middle">195</text>
<text x="278.5" y="667.8" font-size="10.00" text-anchor="middle">200</text>
<text x="329.0" y="667.8" font-size="10.00" text-anchor="middle">205</text>
<text x="379.6" y="667.8" font-size="10.00" text-anchor="middle">210</text>
<text x="430.1" y="667.8" font-size="10.00" text-anchor="middle">215</text>
<text transform="translate(163.8 566.7) rotate(-90)" x="-51.3" font-size="10.00" textLength="102.6" lengthAdjust="spacingAndGlyphs">XPS intensity (arb unit)</text>
<text x="295.6" y="681.5" font-size="10.10" text-anchor="middle" textLength="87.9" lengthAdjust="spacingAndGlyphs">Binding energy (eV)</text>
<text x="183.7" y="481.0" font-size="10.00">(E)</text>
<text x="183.7" y="492.4" font-size="10.00">Cl 2p</text>
<text x="235.3" y="482.6" font-size="10"><tspan textLength="22.6" lengthAdjust="spacing">Cl 2p</tspan><tspan font-size="6.3" dy="3">3/2</tspan></text>
<text x="271.6" y="482.6" font-size="10"><tspan textLength="22.6" lengthAdjust="spacing">Cl 2p</tspan><tspan font-size="6.3" dy="3">1/2</tspan></text>
<text x="336.8" y="479.7" font-size="10.00">a-HCl without BAILs</text>
<text x="336.8" y="491.7" font-size="10.00">b-HCl+BAIL1</text>
<text x="336.0" y="503.9" font-size="10.00">c-HCl+BAIL2</text>
<text x="405.0" y="518.2" font-size="10.00" text-anchor="middle">c</text>
<text x="405.8" y="543.8" font-size="10.00" text-anchor="middle">b</text>
<text x="406.3" y="642.2" font-size="10.00" text-anchor="middle">a</text>
<path d="M192.2 516.6 L192.7 516.6 L193.2 516.6 L193.7 516.6 L194.2 516.6 L194.7 516.6 L195.2 516.6 L195.7 516.6 L196.2 516.6 L196.7 516.6 L197.2 516.6 L197.7 516.6 L198.2 516.6 L198.7 516.6 L199.2 516.6 L199.7 516.6 L200.2 516.6 L200.7 516.6 L201.2 516.6 L201.7 516.6 L202.2 516.6 L202.7 516.6 L203.2 516.6 L203.7 516.6 L204.2 516.6 L204.7 516.6 L205.2 516.6 L205.7 516.6 L206.2 516.6 L206.7 516.6 L207.2 516.6 L207.7 516.6 L208.2 516.6 L208.7 516.6 L209.2 516.6 L209.7 516.6 L210.2 516.6 L210.7 516.6 L211.2 516.6 L211.7 516.6 L212.2 516.6 L212.7 516.6 L213.2 516.6 L213.7 516.6 L214.2 516.6 L214.7 516.6 L215.2 516.6 L215.7 516.6 L216.2 516.6 L216.7 516.6 L217.2 516.6 L217.7 516.6 L218.2 516.6 L218.7 516.6 L219.2 516.6 L219.7 516.6 L220.2 516.6 L220.7 516.6 L221.2 516.6 L221.7 516.6 L222.2 516.6 L222.7 516.6 L223.2 516.6 L223.7 516.6 L224.2 516.6 L224.7 516.6 L225.2 516.6 L225.7 516.6 L226.2 516.6 L226.7 516.6 L227.2 516.6 L227.7 516.6 L228.2 516.6 L228.7 516.6 L229.2 516.6 L229.7 516.6 L230.2 516.6 L230.7 516.6 L231.2 516.6 L231.7 516.6 L232.2 516.6 L232.7 516.6 L233.2 516.6 L233.7 516.6 L234.2 516.6 L234.7 516.6 L235.2 516.6 L235.7 516.6 L236.2 516.6 L236.7 516.6 L237.2 516.6 L237.7 516.6 L238.2 516.6 L238.7 516.6 L239.2 516.6 L239.7 516.6 L240.2 516.6 L240.7 516.6 L241.2 516.6 L241.7 516.6 L242.2 516.6 L242.7 516.6 L243.2 516.6 L243.7 516.6 L244.2 516.6 L244.7 516.6 L245.2 516.6 L245.7 516.6 L246.2 516.6 L246.7 516.6 L247.2 516.6 L247.7 516.6 L248.2 516.6 L248.7 516.6 L249.2 516.6 L249.7 516.6 L250.2 516.6 L250.7 516.6 L251.2 516.6 L251.7 516.6 L252.2 516.6 L252.7 516.6 L253.2 516.6 L253.7 516.6 L254.2 516.6 L254.7 516.6 L255.2 516.6 L255.7 516.6 L256.2 516.6 L256.7 516.6 L257.2 516.6 L257.7 516.6 L258.2 516.6 L258.7 516.6 L259.2 516.6 L259.7 516.6 L260.2 516.6 L260.7 516.6 L261.2 516.6 L261.7 516.6 L262.2 516.6 L262.7 516.6 L263.2 516.6 L263.7 516.6 L264.2 516.6 L264.7 516.6 L265.2 516.6 L265.7 516.6 L266.2 516.6 L266.7 516.6 L267.2 516.6 L267.7 516.6 L268.2 516.6 L268.7 516.6 L269.2 516.6 L269.7 516.6 L270.2 516.6 L270.7 516.6 L271.2 516.6 L271.7 516.6 L272.2 516.6 L272.7 516.6 L273.2 516.6 L273.7 516.6 L274.2 516.6 L274.7 516.6 L275.2 516.6 L275.7 516.6 L276.2 516.6 L276.7 516.6 L277.2 516.6 L277.7 516.6 L278.2 516.6 L278.7 516.6 L279.2 516.6 L279.7 516.6 L280.2 516.6 L280.7 516.6 L281.2 516.6 L281.7 516.6 L282.2 516.6 L282.7 516.6 L283.2 516.6 L283.7 516.6 L284.2 516.6 L284.7 516.6 L285.2 516.6 L285.7 516.6 L286.2 516.6 L286.7 516.6 L287.2 516.6 L287.7 516.6 L288.2 516.6 L288.7 516.6 L289.2 516.6 L289.7 516.6 L290.2 516.6 L290.7 516.6 L291.2 516.6 L291.7 516.6 L292.2 516.6 L292.7 516.6 L293.2 516.6 L293.7 516.6 L294.2 516.6 L294.7 516.6 L295.2 516.6 L295.7 516.6 L296.2 516.6 L296.7 516.6 L297.2 516.6 L297.7 516.6 L298.2 516.6 L298.7 516.6 L299.2 516.6 L299.7 516.6 L300.2 516.6 L300.7 516.6 L301.2 516.6 L301.7 516.6 L302.2 516.6 L302.7 516.6 L303.2 516.6 L303.7 516.6 L304.2 516.6 L304.7 516.6 L305.2 516.6 L305.7 516.6 L306.2 516.6 L306.7 516.6 L307.2 516.6 L307.7 516.6 L308.2 516.6 L308.7 516.6 L309.2 516.6 L309.7 516.6 L310.2 516.6 L310.7 516.6 L311.2 516.6 L311.7 516.6 L312.2 516.6 L312.7 516.6 L313.2 516.6 L313.7 516.6 L314.2 516.6 L314.7 516.6 L315.2 516.6 L315.7 516.6 L316.2 516.6 L316.7 516.6 L317.2 516.6 L317.7 516.6 L318.2 516.6 L318.7 516.6 L319.2 516.6 L319.7 516.6 L320.2 516.6 L320.7 516.6 L321.2 516.6 L321.7 516.6 L322.2 516.6 L322.7 516.6 L323.2 516.6 L323.7 516.6 L324.2 516.6 L324.7 516.6 L325.2 516.6 L325.7 516.6 L326.2 516.6 L326.7 516.6 L327.2 516.6 L327.7 516.6 L328.2 516.6 L328.7 516.6 L329.2 516.6 L329.7 516.6 L330.2 516.6 L330.7 516.6 L331.2 516.6 L331.7 516.6 L332.2 516.6 L332.7 516.6 L333.2 516.6 L333.7 516.6 L334.2 516.6 L334.7 516.6 L335.2 516.6 L335.7 516.6 L336.2 516.6 L336.7 516.6 L337.2 516.6 L337.7 516.6 L338.2 516.6 L338.7 516.6 L339.2 516.6 L339.7 516.6 L340.2 516.6 L340.7 516.6 L341.2 516.6 L341.7 516.6 L342.2 516.6 L342.7 516.6 L343.2 516.6 L343.7 516.6 L344.2 516.6 L344.7 516.6 L345.2 516.6 L345.7 516.6 L346.2 516.6 L346.7 516.6 L347.2 516.6 L347.7 516.6 L348.2 516.6 L348.7 516.6 L349.2 516.6 L349.7 516.6 L350.2 516.6 L350.7 516.6 L351.2 516.6 L351.7 516.6 L352.2 516.6 L352.7 516.6 L353.2 516.6 L353.7 516.6 L354.2 516.6 L354.7 516.6 L355.2 516.6 L355.7 516.6 L356.2 516.6 L356.7 516.6 L357.2 516.6 L357.7 516.6 L358.2 516.6 L358.7 516.6 L359.2 516.6 L359.7 516.6 L360.2 516.6 L360.7 516.6 L361.2 516.6 L361.7 516.6 L362.2 516.6 L362.7 516.6 L363.2 516.6 L363.7 516.6 L364.2 516.6 L364.7 516.6 L365.2 516.6 L365.7 516.6 L366.2 516.6 L366.7 516.6 L367.2 516.6 L367.7 516.6 L368.2 516.6 L368.7 516.6 L369.2 516.6 L369.7 516.6 L370.2 516.6 L370.7 516.6 L371.2 516.6 L371.7 516.6 L372.2 516.6 L372.7 516.6 L373.2 516.6 L373.7 516.6 L374.2 516.6 L374.7 516.6 L375.2 516.6 L375.7 516.6 L376.2 516.6 L376.7 516.6 L377.2 516.6 L377.7 516.6 L378.2 516.6 L378.7 516.6 L379.2 516.6 L379.7 516.6 L380.2 516.6 L380.7 516.6 L381.2 516.6 L381.7 516.6 L382.2 516.6 L382.7 516.6 L383.2 516.6 L383.7 516.6 L384.2 516.6 L384.7 516.6 L385.2 516.6 L385.7 516.6 L386.2 516.6 L386.7 516.6 L387.2 516.6 L387.7 516.6 L388.2 516.6 L388.7 516.6 L389.2 516.6 L389.7 516.6 L390.2 516.6 L390.7 516.6 L391.2 516.6 L391.7 516.6 L392.2 516.6 L392.7 516.6 L393.2 516.6 L393.7 516.6 L394.2 516.6 L394.7 516.6 L395.2 516.6 L395.7 516.6" stroke="#a0d8a0" stroke-width="0.80" fill="none" stroke-linejoin="round" />
<path d="M192.2 515.6 L192.7 515.6 L193.2 515.6 L193.7 515.6 L194.2 515.6 L194.7 515.6 L195.2 515.6 L195.7 515.6 L196.2 515.6 L196.7 515.6 L197.2 515.6 L197.7 515.6 L198.2 515.6 L198.7 515.6 L199.2 515.6 L199.7 515.6 L200.2 515.6 L200.7 515.6 L201.2 515.6 L201.7 515.6 L202.2 515.6 L202.7 515.6 L203.2 515.6 L203.7 515.6 L204.2 515.6 L204.7 515.6 L205.2 515.6 L205.7 515.6 L206.2 515.6 L206.7 515.6 L207.2 515.6 L207.7 515.6 L208.2 515.6 L208.7 515.6 L209.2 515.6 L209.7 515.6 L210.2 515.6 L210.7 515.6 L211.2 515.6 L211.7 515.6 L212.2 515.6 L212.7 515.6 L213.2 515.6 L213.7 515.6 L214.2 515.6 L214.7 515.6 L215.2 515.6 L215.7 515.6 L216.2 515.6 L216.7 515.6 L217.2 515.6 L217.7 515.6 L218.2 515.6 L218.7 515.6 L219.2 515.6 L219.7 515.6 L220.2 515.6 L220.7 515.6 L221.2 515.6 L221.7 515.6 L222.2 515.6 L222.7 515.6 L223.2 515.6 L223.7 515.6 L224.2 515.6 L224.7 515.6 L225.2 515.6 L225.7 515.6 L226.2 515.6 L226.7 515.6 L227.2 515.6 L227.7 515.6 L228.2 515.6 L228.7 515.6 L229.2 515.6 L229.7 515.6 L230.2 515.6 L230.7 515.6 L231.2 515.6 L231.7 515.6 L232.2 515.6 L232.7 515.6 L233.2 515.6 L233.7 515.6 L234.2 515.6 L234.7 515.6 L235.2 515.6 L235.7 515.6 L236.2 515.6 L236.7 515.6 L237.2 515.6 L237.7 515.6 L238.2 515.6 L238.7 515.6 L239.2 515.6 L239.7 515.5 L240.2 515.5 L240.7 515.5 L241.2 515.5 L241.7 515.5 L242.2 515.5 L242.7 515.4 L243.2 515.4 L243.7 515.3 L244.2 515.3 L244.7 515.2 L245.2 515.0 L245.7 514.9 L246.2 514.7 L246.7 514.4 L247.2 514.2 L247.7 513.8 L248.2 513.4 L248.7 512.9 L249.2 512.3 L249.7 511.7 L250.2 511.0 L250.7 510.2 L251.2 509.4 L251.7 508.5 L252.2 507.6 L252.7 506.6 L253.2 505.7 L253.7 504.8 L254.2 503.9 L254.7 503.1 L255.2 502.4 L255.7 501.8 L256.2 501.4 L256.7 501.1 L257.2 501.0 L257.7 501.0 L258.2 501.3 L258.7 501.7 L259.2 502.2 L259.7 502.9 L260.2 503.6 L260.7 504.5 L261.2 505.4 L261.7 506.4 L262.2 507.3 L262.7 508.2 L263.2 509.1 L263.7 510.0 L264.2 510.8 L264.7 511.5 L265.2 512.2 L265.7 512.7 L266.2 513.3 L266.7 513.7 L267.2 514.1 L267.7 514.4 L268.2 514.6 L268.7 514.8 L269.2 515.0 L269.7 515.1 L270.2 515.2 L270.7 515.3 L271.2 515.4 L271.7 515.4 L272.2 515.5 L272.7 515.5 L273.2 515.5 L273.7 515.5 L274.2 515.5 L274.7 515.5 L275.2 515.5 L275.7 515.6 L276.2 515.6 L276.7 515.6 L277.2 515.6 L277.7 515.6 L278.2 515.6 L278.7 515.6 L279.2 515.6 L279.7 515.6 L280.2 515.6 L280.7 515.6 L281.2 515.6 L281.7 515.6 L282.2 515.6 L282.7 515.6 L283.2 515.6 L283.7 515.6 L284.2 515.6 L284.7 515.6 L285.2 515.6 L285.7 515.6 L286.2 515.6 L286.7 515.6 L287.2 515.6 L287.7 515.6 L288.2 515.6 L288.7 515.6 L289.2 515.6 L289.7 515.6 L290.2 515.6 L290.7 515.6 L291.2 515.6 L291.7 515.6 L292.2 515.6 L292.7 515.6 L293.2 515.6 L293.7 515.6 L294.2 515.6 L294.7 515.6 L295.2 515.6 L295.7 515.6 L296.2 515.6 L296.7 515.6 L297.2 515.6 L297.7 515.6 L298.2 515.6 L298.7 515.6 L299.2 515.6 L299.7 515.6 L300.2 515.6 L300.7 515.6 L301.2 515.6 L301.7 515.6 L302.2 515.6 L302.7 515.6 L303.2 515.6 L303.7 515.6 L304.2 515.6 L304.7 515.6 L305.2 515.6 L305.7 515.6 L306.2 515.6 L306.7 515.6 L307.2 515.6 L307.7 515.6 L308.2 515.6 L308.7 515.6 L309.2 515.6 L309.7 515.6 L310.2 515.6 L310.7 515.6 L311.2 515.6 L311.7 515.6 L312.2 515.6 L312.7 515.6 L313.2 515.6 L313.7 515.6 L314.2 515.6 L314.7 515.6 L315.2 515.6 L315.7 515.6 L316.2 515.6 L316.7 515.6 L317.2 515.6 L317.7 515.6 L318.2 515.6 L318.7 515.6 L319.2 515.6 L319.7 515.6 L320.2 515.6 L320.7 515.6 L321.2 515.6 L321.7 515.6 L322.2 515.6 L322.7 515.6 L323.2 515.6 L323.7 515.6 L324.2 515.6 L324.7 515.6 L325.2 515.6 L325.7 515.6 L326.2 515.6 L326.7 515.6 L327.2 515.6 L327.7 515.6 L328.2 515.6 L328.7 515.6 L329.2 515.6 L329.7 515.6 L330.2 515.6 L330.7 515.6 L331.2 515.6 L331.7 515.6 L332.2 515.6 L332.7 515.6 L333.2 515.6 L333.7 515.6 L334.2 515.6 L334.7 515.6 L335.2 515.6 L335.7 515.6 L336.2 515.6 L336.7 515.6 L337.2 515.6 L337.7 515.6 L338.2 515.6 L338.7 515.6 L339.2 515.6 L339.7 515.6 L340.2 515.6 L340.7 515.6 L341.2 515.6 L341.7 515.6 L342.2 515.6 L342.7 515.6 L343.2 515.6 L343.7 515.6 L344.2 515.6 L344.7 515.6 L345.2 515.6 L345.7 515.6 L346.2 515.6 L346.7 515.6 L347.2 515.6 L347.7 515.6 L348.2 515.6 L348.7 515.6 L349.2 515.6 L349.7 515.6 L350.2 515.6 L350.7 515.6 L351.2 515.6 L351.7 515.6 L352.2 515.6 L352.7 515.6 L353.2 515.6 L353.7 515.6 L354.2 515.6 L354.7 515.6 L355.2 515.6 L355.7 515.6 L356.2 515.6 L356.7 515.6 L357.2 515.6 L357.7 515.6 L358.2 515.6 L358.7 515.6 L359.2 515.6 L359.7 515.6 L360.2 515.6 L360.7 515.6 L361.2 515.6 L361.7 515.6 L362.2 515.6 L362.7 515.6 L363.2 515.6 L363.7 515.6 L364.2 515.6 L364.7 515.6 L365.2 515.6 L365.7 515.6 L366.2 515.6 L366.7 515.6 L367.2 515.6 L367.7 515.6 L368.2 515.6 L368.7 515.6 L369.2 515.6 L369.7 515.6 L370.2 515.6 L370.7 515.6 L371.2 515.6 L371.7 515.6 L372.2 515.6 L372.7 515.6 L373.2 515.6 L373.7 515.6 L374.2 515.6 L374.7 515.6 L375.2 515.6 L375.7 515.6 L376.2 515.6 L376.7 515.6 L377.2 515.6 L377.7 515.6 L378.2 515.6 L378.7 515.6 L379.2 515.6 L379.7 515.6 L380.2 515.6 L380.7 515.6 L381.2 515.6 L381.7 515.6 L382.2 515.6 L382.7 515.6 L383.2 515.6 L383.7 515.6 L384.2 515.6 L384.7 515.6 L385.2 515.6 L385.7 515.6 L386.2 515.6 L386.7 515.6 L387.2 515.6 L387.7 515.6 L388.2 515.6 L388.7 515.6 L389.2 515.6 L389.7 515.6 L390.2 515.6 L390.7 515.6 L391.2 515.6 L391.7 515.6 L392.2 515.6 L392.7 515.6 L393.2 515.6 L393.7 515.6 L394.2 515.6 L394.7 515.6 L395.2 515.6 L395.7 515.6" stroke="#8090d0" stroke-width="0.80" fill="none" stroke-linejoin="round" />
<path d="M192.2 514.4 L192.7 514.4 L193.2 514.4 L193.7 514.4 L194.2 514.4 L194.7 514.4 L195.2 514.4 L195.7 514.4 L196.2 514.4 L196.7 514.4 L197.2 514.4 L197.7 514.4 L198.2 514.4 L198.7 514.4 L199.2 514.4 L199.7 514.4 L200.2 514.4 L200.7 514.4 L201.2 514.4 L201.7 514.4 L202.2 514.4 L202.7 514.4 L203.2 514.4 L203.7 514.4 L204.2 514.4 L204.7 514.4 L205.2 514.4 L205.7 514.4 L206.2 514.4 L206.7 514.4 L207.2 514.4 L207.7 514.4 L208.2 514.4 L208.7 514.4 L209.2 514.4 L209.7 514.4 L210.2 514.4 L210.7 514.4 L211.2 514.4 L211.7 514.4 L212.2 514.4 L212.7 514.4 L213.2 514.4 L213.7 514.4 L214.2 514.4 L214.7 514.4 L215.2 514.4 L215.7 514.4 L216.2 514.4 L216.7 514.4 L217.2 514.4 L217.7 514.4 L218.2 514.4 L218.7 514.4 L219.2 514.4 L219.7 514.4 L220.2 514.4 L220.7 514.4 L221.2 514.4 L221.7 514.4 L222.2 514.4 L222.7 514.4 L223.2 514.4 L223.7 514.4 L224.2 514.4 L224.7 514.4 L225.2 514.4 L225.7 514.4 L226.2 514.4 L226.7 514.4 L227.2 514.4 L227.7 514.4 L228.2 514.4 L228.7 514.4 L229.2 514.4 L229.7 514.4 L230.2 514.4 L230.7 514.4 L231.2 514.4 L231.7 514.4 L232.2 514.4 L232.7 514.4 L233.2 514.4 L233.7 514.4 L234.2 514.4 L234.7 514.4 L235.2 514.4 L235.7 514.4 L236.2 514.4 L236.7 514.4 L237.2 514.4 L237.7 514.4 L238.2 514.4 L238.7 514.4 L239.2 514.4 L239.7 514.4 L240.2 514.4 L240.7 514.4 L241.2 514.4 L241.7 514.4 L242.2 514.4 L242.7 514.4 L243.2 514.4 L243.7 514.4 L244.2 514.4 L244.7 514.4 L245.2 514.4 L245.7 514.4 L246.2 514.4 L246.7 514.4 L247.2 514.4 L247.7 514.4 L248.2 514.4 L248.7 514.4 L249.2 514.4 L249.7 514.4 L250.2 514.4 L250.7 514.4 L251.2 514.4 L251.7 514.4 L252.2 514.4 L252.7 514.4 L253.2 514.4 L253.7 514.4 L254.2 514.4 L254.7 514.4 L255.2 514.4 L255.7 514.4 L256.2 514.4 L256.7 514.4 L257.2 514.4 L257.7 514.4 L258.2 514.4 L258.7 514.4 L259.2 514.4 L259.7 514.4 L260.2 514.4 L260.7 514.4 L261.2 514.4 L261.7 514.4 L262.2 514.4 L262.7 514.4 L263.2 514.4 L263.7 514.4 L264.2 514.4 L264.7 514.4 L265.2 514.4 L265.7 514.4 L266.2 514.4 L266.7 514.4 L267.2 514.4 L267.7 514.4 L268.2 514.4 L268.7 514.4 L269.2 514.4 L269.7 514.4 L270.2 514.4 L270.7 514.4 L271.2 514.4 L271.7 514.4 L272.2 514.4 L272.7 514.4 L273.2 514.4 L273.7 514.4 L274.2 514.4 L274.7 514.4 L275.2 514.4 L275.7 514.4 L276.2 514.4 L276.7 514.4 L277.2 514.4 L277.7 514.4 L278.2 514.4 L278.7 514.4 L279.2 514.4 L279.7 514.4 L280.2 514.4 L280.7 514.4 L281.2 514.4 L281.7 514.4 L282.2 514.4 L282.7 514.4 L283.2 514.4 L283.7 514.4 L284.2 514.4 L284.7 514.4 L285.2 514.4 L285.7 514.4 L286.2 514.4 L286.7 514.4 L287.2 514.4 L287.7 514.4 L288.2 514.4 L288.7 514.4 L289.2 514.4 L289.7 514.4 L290.2 514.4 L290.7 514.4 L291.2 514.4 L291.7 514.4 L292.2 514.4 L292.7 514.4 L293.2 514.4 L293.7 514.4 L294.2 514.4 L294.7 514.4 L295.2 514.4 L295.7 514.4 L296.2 514.4 L296.7 514.4 L297.2 514.4 L297.7 514.4 L298.2 514.4 L298.7 514.4 L299.2 514.4 L299.7 514.4 L300.2 514.4 L300.7 514.4 L301.2 514.4 L301.7 514.4 L302.2 514.4 L302.7 514.4 L303.2 514.4 L303.7 514.4 L304.2 514.4 L304.7 514.4 L305.2 514.4 L305.7 514.4 L306.2 514.4 L306.7 514.4 L307.2 514.4 L307.7 514.4 L308.2 514.4 L308.7 514.4 L309.2 514.4 L309.7 514.4 L310.2 514.4 L310.7 514.4 L311.2 514.4 L311.7 514.4 L312.2 514.4 L312.7 514.4 L313.2 514.4 L313.7 514.4 L314.2 514.4 L314.7 514.4 L315.2 514.4 L315.7 514.4 L316.2 514.4 L316.7 514.4 L317.2 514.4 L317.7 514.4 L318.2 514.4 L318.7 514.4 L319.2 514.4 L319.7 514.4 L320.2 514.4 L320.7 514.4 L321.2 514.4 L321.7 514.4 L322.2 514.4 L322.7 514.4 L323.2 514.4 L323.7 514.4 L324.2 514.4 L324.7 514.4 L325.2 514.4 L325.7 514.4 L326.2 514.4 L326.7 514.4 L327.2 514.4 L327.7 514.4 L328.2 514.4 L328.7 514.4 L329.2 514.4 L329.7 514.4 L330.2 514.4 L330.7 514.4 L331.2 514.4 L331.7 514.4 L332.2 514.4 L332.7 514.4 L333.2 514.4 L333.7 514.4 L334.2 514.4 L334.7 514.4 L335.2 514.4 L335.7 514.4 L336.2 514.4 L336.7 514.4 L337.2 514.4 L337.7 514.4 L338.2 514.4 L338.7 514.4 L339.2 514.4 L339.7 514.4 L340.2 514.4 L340.7 514.4 L341.2 514.4 L341.7 514.4 L342.2 514.4 L342.7 514.4 L343.2 514.4 L343.7 514.4 L344.2 514.4 L344.7 514.4 L345.2 514.4 L345.7 514.4 L346.2 514.4 L346.7 514.4 L347.2 514.4 L347.7 514.4 L348.2 514.4 L348.7 514.4 L349.2 514.4 L349.7 514.4 L350.2 514.4 L350.7 514.4 L351.2 514.4 L351.7 514.4 L352.2 514.4 L352.7 514.4 L353.2 514.4 L353.7 514.4 L354.2 514.4 L354.7 514.4 L355.2 514.4 L355.7 514.4 L356.2 514.4 L356.7 514.4 L357.2 514.4 L357.7 514.4 L358.2 514.4 L358.7 514.4 L359.2 514.4 L359.7 514.4 L360.2 514.4 L360.7 514.4 L361.2 514.4 L361.7 514.4 L362.2 514.4 L362.7 514.4 L363.2 514.4 L363.7 514.4 L364.2 514.4 L364.7 514.4 L365.2 514.4 L365.7 514.4 L366.2 514.4 L366.7 514.4 L367.2 514.4 L367.7 514.4 L368.2 514.4 L368.7 514.4 L369.2 514.4 L369.7 514.4 L370.2 514.4 L370.7 514.4 L371.2 514.4 L371.7 514.4 L372.2 514.4 L372.7 514.4 L373.2 514.4 L373.7 514.4 L374.2 514.4 L374.7 514.4 L375.2 514.4 L375.7 514.4 L376.2 514.4 L376.7 514.4 L377.2 514.4 L377.7 514.4 L378.2 514.4 L378.7 514.4 L379.2 514.4 L379.7 514.4 L380.2 514.4 L380.7 514.4 L381.2 514.4 L381.7 514.4 L382.2 514.4 L382.7 514.4 L383.2 514.4 L383.7 514.4 L384.2 514.4 L384.7 514.4 L385.2 514.4 L385.7 514.4 L386.2 514.4 L386.7 514.4 L387.2 514.4 L387.7 514.4 L388.2 514.4 L388.7 514.4 L389.2 514.4 L389.7 514.4 L390.2 514.4 L390.7 514.4 L391.2 514.4 L391.7 514.4 L392.2 514.4 L392.7 514.4 L393.2 514.4 L393.7 514.4 L394.2 514.4 L394.7 514.4 L395.2 514.4 L395.7 514.4" stroke="#eab080" stroke-width="0.90" fill="none" stroke-linejoin="round" />
<path d="M193.9 513.8 L194.8 514.4 L195.7 515.9 L196.6 515.8 L197.5 509.8 L198.4 515.1 L199.3 513.0 L200.2 517.3 L201.1 519.3 L202.0 511.8 L202.9 517.9 L203.8 513.5 L204.7 521.2 L205.6 515.5 L206.5 512.8 L207.4 514.9 L208.3 520.3 L209.2 515.2 L210.1 516.7 L211.0 514.5 L211.9 516.3 L212.8 515.3 L213.7 517.7 L214.6 511.9 L215.5 516.1 L216.4 515.0 L217.3 514.7 L218.2 513.1 L219.1 519.9 L220.0 516.6 L220.9 516.0 L221.8 511.7 L222.7 511.8 L223.6 512.9 L224.5 516.5 L225.4 517.4 L226.3 520.6 L227.2 517.5 L228.1 517.1 L229.0 517.0 L229.9 512.3 L230.8 516.4 L231.7 516.9 L232.6 511.6 L233.5 518.6 L234.4 515.8 L235.3 515.5 L236.2 518.4 L237.1 512.4 L238.0 514.6 L238.9 518.3 L239.8 513.9 L240.7 514.3 L241.6 520.1 L242.5 517.0 L243.4 514.5 L244.3 516.6 L245.2 514.4 L246.1 514.4 L247.0 515.2 L247.9 514.3 L248.8 509.6 L249.7 511.8 L250.6 510.8 L251.5 509.9 L252.4 509.5 L253.3 503.3 L254.2 499.6 L255.1 502.8 L256.0 501.7 L256.9 501.2 L257.8 501.5 L258.7 500.1 L259.6 503.4 L260.5 503.7 L261.4 500.5 L262.3 509.3 L263.2 504.3 L264.1 504.4 L265.0 508.6 L265.9 510.5 L266.8 509.1 L267.7 512.0 L268.6 507.5 L269.5 516.9 L270.4 504.4 L271.3 508.8 L272.2 509.6 L273.1 509.5 L274.0 506.5 L274.9 509.0 L275.8 511.5 L276.7 513.3 L277.6 509.5 L278.5 515.7 L279.4 513.8 L280.3 521.7 L281.2 512.7 L282.1 512.4 L283.0 516.1 L283.9 514.8 L284.8 512.9 L285.7 515.4 L286.6 513.2 L287.5 515.7 L288.4 521.8 L289.3 518.4 L290.2 522.2 L291.1 515.6 L292.0 517.5 L292.9 513.8 L293.8 514.9 L294.7 510.5 L295.6 513.1 L296.5 517.6 L297.4 514.1 L298.3 513.9 L299.2 516.3 L300.1 518.7 L301.0 516.8 L301.9 514.6 L302.8 518.7 L303.7 516.0 L304.6 515.3 L305.5 517.5 L306.4 514.1 L307.3 518.9 L308.2 524.0 L309.1 518.0 L310.0 514.1 L310.9 516.1 L311.8 518.1 L312.7 512.8 L313.6 514.6 L314.5 521.7 L315.4 513.0 L316.3 516.9 L317.2 519.6 L318.1 520.1 L319.0 512.0 L319.9 512.6 L320.8 510.1 L321.7 514.1 L322.6 515.5 L323.5 518.0 L324.4 514.0 L325.3 516.1 L326.2 511.8 L327.1 516.7 L328.0 518.5 L328.9 514.7 L329.8 514.4 L330.7 515.9 L331.6 514.8 L332.5 515.6 L333.4 513.7 L334.3 516.2 L335.2 514.2 L336.1 517.0 L337.0 511.2 L337.9 515.8 L338.8 513.1 L339.7 516.6 L340.6 512.4 L341.5 519.2 L342.4 515.3 L343.3 516.2 L344.2 514.0 L345.1 511.0 L346.0 514.1 L346.9 515.8 L347.8 519.6 L348.7 509.7 L349.6 514.5 L350.5 516.9 L351.4 514.5 L352.3 516.8 L353.2 514.7 L354.1 519.5 L355.0 514.7 L355.9 516.7 L356.8 514.6 L357.7 517.5 L358.6 516.9 L359.5 516.1 L360.4 513.6 L361.3 515.7 L362.2 515.0 L363.1 518.9 L364.0 515.5 L364.9 516.9 L365.8 519.2 L366.7 518.1 L367.6 512.4 L368.5 517.1 L369.4 515.3 L370.3 516.6 L371.2 514.9 L372.1 513.2 L373.0 515.3 L373.9 519.3 L374.8 515.7 L375.7 519.1 L376.6 515.2 L377.5 518.6 L378.4 512.4 L379.3 515.3 L380.2 515.4 L381.1 519.7 L382.0 513.7 L382.9 521.0 L383.8 519.3 L384.7 520.1 L385.6 513.9 L386.5 514.4 L387.4 516.0 L388.3 512.0 L389.2 512.3 L390.1 516.8 L391.0 517.5 L391.9 516.3 L392.8 511.8 L393.7 514.7 L394.6 513.3 L395.5 511.3" stroke="#c07a50" stroke-width="1.00" fill="none" stroke-linejoin="round" />
<path d="M236.2 515.5 L236.7 515.5 L237.2 515.4 L237.7 515.4 L238.2 515.4 L238.7 515.4 L239.2 515.4 L239.7 515.4 L240.2 515.4 L240.7 515.4 L241.2 515.4 L241.7 515.3 L242.2 515.3 L242.7 515.3 L243.2 515.2 L243.7 515.2 L244.2 515.1 L244.7 515.0 L245.2 514.8 L245.7 514.7 L246.2 514.5 L246.7 514.2 L247.2 513.9 L247.7 513.6 L248.2 513.1 L248.7 512.6 L249.2 512.1 L249.7 511.4 L250.2 510.7 L250.7 509.9 L251.2 509.1 L251.7 508.2 L252.2 507.2 L252.7 506.2 L253.2 505.3 L253.7 504.3 L254.2 503.4 L254.7 502.6 L255.2 501.9 L255.7 501.3 L256.2 500.8 L256.7 500.5 L257.2 500.3 L257.7 500.3 L258.2 500.5 L258.7 500.8 L259.2 501.3 L259.7 501.9 L260.2 502.6 L260.7 503.3 L261.2 504.1 L261.7 505.0 L262.2 505.8 L262.7 506.6 L263.2 507.3 L263.7 507.9 L264.2 508.5 L264.7 508.9 L265.2 509.3 L265.7 509.5 L266.2 509.6 L266.7 509.5 L267.2 509.4 L267.7 509.1 L268.2 508.8 L268.7 508.4 L269.2 508.0 L269.7 507.7 L270.2 507.6 L270.7 507.6 L271.2 507.9 L271.7 508.3 L272.2 508.8 L272.7 509.4 L273.2 510.1 L273.7 510.7 L274.2 511.2 L274.7 511.7 L275.2 512.2 L275.7 512.6 L276.2 512.9 L276.7 513.2 L277.2 513.4 L277.7 513.6 L278.2 513.8 L278.7 514.0 L279.2 514.1 L279.7 514.3 L280.2 514.4 L280.7 514.5 L281.2 514.6 L281.7 514.6 L282.2 514.7 L282.7 514.8 L283.2 514.8 L283.7 514.9 L284.2 514.9 L284.7 515.0 L285.2 515.0 L285.7 515.1 L286.2 515.1 L286.7 515.1 L287.2 515.1 L287.7 515.2 L288.2 515.2 L288.7 515.2 L289.2 515.2 L289.7 515.2 L290.2 515.3 L290.7 515.3 L291.2 515.3 L291.7 515.3" stroke="#505050" stroke-width="0.90" fill="none" stroke-linejoin="round" />
<path d="M190.0 542.2 L190.5 542.2 L191.0 542.2 L191.5 542.2 L192.0 542.2 L192.5 542.2 L193.0 542.2 L193.5 542.2 L194.0 542.2 L194.5 542.2 L195.0 542.2 L195.5 542.2 L196.0 542.2 L196.5 542.2 L197.0 542.2 L197.5 542.2 L198.0 542.2 L198.5 542.2 L199.0 542.2 L199.5 542.2 L200.0 542.2 L200.5 542.2 L201.0 542.2 L201.5 542.2 L202.0 542.2 L202.5 542.2 L203.0 542.2 L203.5 542.2 L204.0 542.2 L204.5 542.2 L205.0 542.2 L205.5 542.2 L206.0 542.2 L206.5 542.2 L207.0 542.2 L207.5 542.2 L208.0 542.2 L208.5 542.2 L209.0 542.2 L209.5 542.2 L210.0 542.2 L210.5 542.2 L211.0 542.2 L211.5 542.2 L212.0 542.2 L212.5 542.2 L213.0 542.2 L213.5 542.2 L214.0 542.2 L214.5 542.2 L215.0 542.2 L215.5 542.2 L216.0 542.2 L216.5 542.2 L217.0 542.2 L217.5 542.2 L218.0 542.2 L218.5 542.2 L219.0 542.2 L219.5 542.2 L220.0 542.2 L220.5 542.2 L221.0 542.2 L221.5 542.2 L222.0 542.2 L222.5 542.2 L223.0 542.2 L223.5 542.2 L224.0 542.2 L224.5 542.2 L225.0 542.2 L225.5 542.2 L226.0 542.2 L226.5 542.2 L227.0 542.2 L227.5 542.2 L228.0 542.2 L228.5 542.2 L229.0 542.2 L229.5 542.2 L230.0 542.2 L230.5 542.2 L231.0 542.2 L231.5 542.2 L232.0 542.2 L232.5 542.2 L233.0 542.2 L233.5 542.2 L234.0 542.2 L234.5 542.2 L235.0 542.2 L235.5 542.2 L236.0 542.2 L236.5 542.2 L237.0 542.2 L237.5 542.2 L238.0 542.2 L238.5 542.2 L239.0 542.2 L239.5 542.2 L240.0 542.2 L240.5 542.2 L241.0 542.2 L241.5 542.2 L242.0 542.2 L242.5 542.2 L243.0 542.2 L243.5 542.2 L244.0 542.2 L244.5 542.2 L245.0 542.2 L245.5 542.2 L246.0 542.2 L246.5 542.2 L247.0 542.2 L247.5 542.2 L248.0 542.2 L248.5 542.2 L249.0 542.2 L249.5 542.2 L250.0 542.2 L250.5 542.2 L251.0 542.2 L251.5 542.2 L252.0 542.2 L252.5 542.2 L253.0 542.2 L253.5 542.2 L254.0 542.2 L254.5 542.2 L255.0 542.2 L255.5 542.2 L256.0 542.2 L256.5 542.2 L257.0 542.2 L257.5 542.2 L258.0 542.2 L258.5 542.2 L259.0 542.2 L259.5 542.2 L260.0 542.2 L260.5 542.2 L261.0 542.2 L261.5 542.2 L262.0 542.2 L262.5 542.2 L263.0 542.2 L263.5 542.2 L264.0 542.2 L264.5 542.2 L265.0 542.2 L265.5 542.2 L266.0 542.2 L266.5 542.2 L267.0 542.2 L267.5 542.2 L268.0 542.2 L268.5 542.2 L269.0 542.2 L269.5 542.2 L270.0 542.2 L270.5 542.2 L271.0 542.2 L271.5 542.2 L272.0 542.2 L272.5 542.2 L273.0 542.2 L273.5 542.2 L274.0 542.2 L274.5 542.2 L275.0 542.2 L275.5 542.2 L276.0 542.2 L276.5 542.2 L277.0 542.2 L277.5 542.2 L278.0 542.2 L278.5 542.2 L279.0 542.2 L279.5 542.2 L280.0 542.2 L280.5 542.2 L281.0 542.2 L281.5 542.2 L282.0 542.2 L282.5 542.2 L283.0 542.2 L283.5 542.2 L284.0 542.2 L284.5 542.2 L285.0 542.2 L285.5 542.2 L286.0 542.2 L286.5 542.2 L287.0 542.2 L287.5 542.2 L288.0 542.2 L288.5 542.2 L289.0 542.2 L289.5 542.2 L290.0 542.2 L290.5 542.2 L291.0 542.2 L291.5 542.2 L292.0 542.2 L292.5 542.2 L293.0 542.2 L293.5 542.2 L294.0 542.2 L294.5 542.2 L295.0 542.2 L295.5 542.2 L296.0 542.2 L296.5 542.2 L297.0 542.2 L297.5 542.2 L298.0 542.2 L298.5 542.2 L299.0 542.2 L299.5 542.2 L300.0 542.2 L300.5 542.2 L301.0 542.2 L301.5 542.2 L302.0 542.2 L302.5 542.2 L303.0 542.2 L303.5 542.2 L304.0 542.2 L304.5 542.2 L305.0 542.2 L305.5 542.2 L306.0 542.2 L306.5 542.2 L307.0 542.2 L307.5 542.2 L308.0 542.2 L308.5 542.2 L309.0 542.2 L309.5 542.2 L310.0 542.2 L310.5 542.2 L311.0 542.2 L311.5 542.2 L312.0 542.2 L312.5 542.2 L313.0 542.2 L313.5 542.2 L314.0 542.2 L314.5 542.2 L315.0 542.2 L315.5 542.2 L316.0 542.2 L316.5 542.2 L317.0 542.2 L317.5 542.2 L318.0 542.2 L318.5 542.2 L319.0 542.2 L319.5 542.2 L320.0 542.2 L320.5 542.2 L321.0 542.2 L321.5 542.2 L322.0 542.2 L322.5 542.2 L323.0 542.2 L323.5 542.2 L324.0 542.2 L324.5 542.2 L325.0 542.2 L325.5 542.2 L326.0 542.2 L326.5 542.2 L327.0 542.2 L327.5 542.2 L328.0 542.2 L328.5 542.2 L329.0 542.2 L329.5 542.2 L330.0 542.2 L330.5 542.2 L331.0 542.2 L331.5 542.2 L332.0 542.2 L332.5 542.2 L333.0 542.2 L333.5 542.2 L334.0 542.2 L334.5 542.2 L335.0 542.2 L335.5 542.2 L336.0 542.2 L336.5 542.2 L337.0 542.2 L337.5 542.2 L338.0 542.2 L338.5 542.2 L339.0 542.2 L339.5 542.2 L340.0 542.2 L340.5 542.2 L341.0 542.2 L341.5 542.2 L342.0 542.2 L342.5 542.2 L343.0 542.2 L343.5 542.2 L344.0 542.2 L344.5 542.2 L345.0 542.2 L345.5 542.2 L346.0 542.2 L346.5 542.2 L347.0 542.2 L347.5 542.2 L348.0 542.2 L348.5 542.2 L349.0 542.2 L349.5 542.2 L350.0 542.2 L350.5 542.2 L351.0 542.2 L351.5 542.2 L352.0 542.2 L352.5 542.2 L353.0 542.2 L353.5 542.2 L354.0 542.2 L354.5 542.2 L355.0 542.2 L355.5 542.2 L356.0 542.2 L356.5 542.2 L357.0 542.2 L357.5 542.2 L358.0 542.2 L358.5 542.2 L359.0 542.2 L359.5 542.2 L360.0 542.2 L360.5 542.2 L361.0 542.2 L361.5 542.2 L362.0 542.2 L362.5 542.2 L363.0 542.2 L363.5 542.2 L364.0 542.2 L364.5 542.2 L365.0 542.2 L365.5 542.2 L366.0 542.2 L366.5 542.2 L367.0 542.2 L367.5 542.2 L368.0 542.2 L368.5 542.2 L369.0 542.2 L369.5 542.2 L370.0 542.2 L370.5 542.2 L371.0 542.2 L371.5 542.2 L372.0 542.2 L372.5 542.2 L373.0 542.2 L373.5 542.2 L374.0 542.2 L374.5 542.2 L375.0 542.2 L375.5 542.2 L376.0 542.2 L376.5 542.2 L377.0 542.2 L377.5 542.2 L378.0 542.2 L378.5 542.2 L379.0 542.2 L379.5 542.2 L380.0 542.2 L380.5 542.2 L381.0 542.2 L381.5 542.2 L382.0 542.2 L382.5 542.2 L383.0 542.2 L383.5 542.2 L384.0 542.2 L384.5 542.2 L385.0 542.2 L385.5 542.2 L386.0 542.2 L386.5 542.2 L387.0 542.2 L387.5 542.2 L388.0 542.2 L388.5 542.2 L389.0 542.2 L389.5 542.2 L390.0 542.2 L390.5 542.2" stroke="#d0d0a0" stroke-width="0.80" fill="none" stroke-linejoin="round" />
<path d="M190.5 541.8 L191.4 541.0 L192.3 540.4 L193.2 544.1 L194.1 541.5 L195.0 541.1 L195.9 542.5 L196.8 541.6 L197.7 542.0 L198.6 538.6 L199.5 540.6 L200.4 540.2 L201.3 538.0 L202.2 539.0 L203.1 542.5 L204.0 539.5 L204.9 542.0 L205.8 540.7 L206.7 541.3 L207.6 541.6 L208.5 540.4 L209.4 538.7 L210.3 541.9 L211.2 540.8 L212.1 540.1 L213.0 538.2 L213.9 541.5 L214.8 539.9 L215.7 542.3 L216.6 543.3 L217.5 541.2 L218.4 538.0 L219.3 541.4 L220.2 542.5 L221.1 539.9 L222.0 538.3 L222.9 540.5 L223.8 537.8 L224.7 538.6 L225.6 539.9 L226.5 542.4 L227.4 539.2 L228.3 538.8 L229.2 539.1 L230.1 541.3 L231.0 538.5 L231.9 541.6 L232.8 538.0 L233.7 542.2 L234.6 539.2 L235.5 543.8 L236.4 539.5 L237.3 539.6 L238.2 540.5 L239.1 542.3 L240.0 538.8 L240.9 543.9 L241.8 536.4 L242.7 541.5 L243.6 542.1 L244.5 541.2 L245.4 540.4 L246.3 542.8 L247.2 538.9 L248.1 541.9 L249.0 540.2 L249.9 540.8 L250.8 539.4 L251.7 542.3 L252.6 543.2 L253.5 540.0 L254.4 537.2 L255.3 538.6 L256.2 537.4 L257.1 536.3 L258.0 531.6 L258.9 534.5 L259.8 534.5 L260.7 530.4 L261.6 534.2 L262.5 531.7 L263.4 533.4 L264.3 534.7 L265.2 532.1 L266.1 534.9 L267.0 533.3 L267.9 536.5 L268.8 536.3 L269.7 536.5 L270.6 535.3 L271.5 532.9 L272.4 535.7 L273.3 534.0 L274.2 535.7 L275.1 536.6 L276.0 540.7 L276.9 537.8 L277.8 535.5 L278.7 541.5 L279.6 536.3 L280.5 539.9 L281.4 537.7 L282.3 539.3 L283.2 539.2 L284.1 538.6 L285.0 540.0 L285.9 539.5 L286.8 541.2 L287.7 543.8 L288.6 536.7 L289.5 539.2 L290.4 538.7 L291.3 542.3 L292.2 539.1 L293.1 541.8 L294.0 539.1 L294.9 541.6 L295.8 541.3 L296.7 540.8 L297.6 544.2 L298.5 540.0 L299.4 540.4 L300.3 538.8 L301.2 541.5 L302.1 540.2 L303.0 543.2 L303.9 538.7 L304.8 540.7 L305.7 542.1 L306.6 540.9 L307.5 540.8 L308.4 539.8 L309.3 542.6 L310.2 541.9 L311.1 542.4 L312.0 544.8 L312.9 539.4 L313.8 538.8 L314.7 539.1 L315.6 541.0 L316.5 541.7 L317.4 538.4 L318.3 545.8 L319.2 538.5 L320.1 541.3 L321.0 538.1 L321.9 536.8 L322.8 540.5 L323.7 542.7 L324.6 539.4 L325.5 541.4 L326.4 540.8 L327.3 542.7 L328.2 540.8 L329.1 542.3 L330.0 539.7 L330.9 541.6 L331.8 542.3 L332.7 541.4 L333.6 543.3 L334.5 540.7 L335.4 540.9 L336.3 541.7 L337.2 538.6 L338.1 540.3 L339.0 541.6 L339.9 541.4 L340.8 538.7 L341.7 540.1 L342.6 540.4 L343.5 542.0 L344.4 541.6 L345.3 542.1 L346.2 544.1 L347.1 541.7 L348.0 539.5 L348.9 539.3 L349.8 539.4 L350.7 540.8 L351.6 538.2 L352.5 541.3 L353.4 540.6 L354.3 541.4 L355.2 539.5 L356.1 542.7 L357.0 537.4 L357.9 538.9 L358.8 541.9 L359.7 539.2 L360.6 541.8 L361.5 542.3 L362.4 540.6 L363.3 543.2 L364.2 539.2 L365.1 541.3 L366.0 540.7 L366.9 543.2 L367.8 542.5 L368.7 538.5 L369.6 538.6 L370.5 541.7 L371.4 541.3 L372.3 541.6 L373.2 540.5 L374.1 542.2 L375.0 540.9 L375.9 542.1 L376.8 539.8 L377.7 543.1 L378.6 542.7 L379.5 542.3 L380.4 540.1 L381.3 542.1 L382.2 539.6 L383.1 542.8 L384.0 539.8 L384.9 542.2 L385.8 543.5 L386.7 544.2 L387.6 542.7 L388.5 542.7 L389.4 537.5 L390.3 541.8" stroke="#c880d8" stroke-width="0.90" fill="none" stroke-linejoin="round" />
<path d="M236.5 540.9 L237.0 540.9 L237.5 540.8 L238.0 540.8 L238.5 540.8 L239.0 540.8 L239.5 540.8 L240.0 540.8 L240.5 540.8 L241.0 540.8 L241.5 540.8 L242.0 540.7 L242.5 540.7 L243.0 540.7 L243.5 540.7 L244.0 540.7 L244.5 540.7 L245.0 540.6 L245.5 540.6 L246.0 540.6 L246.5 540.6 L247.0 540.6 L247.5 540.5 L248.0 540.5 L248.5 540.5 L249.0 540.4 L249.5 540.4 L250.0 540.3 L250.5 540.3 L251.0 540.2 L251.5 540.1 L252.0 540.0 L252.5 539.9 L253.0 539.7 L253.5 539.5 L254.0 539.2 L254.5 538.9 L255.0 538.5 L255.5 538.1 L256.0 537.6 L256.5 537.1 L257.0 536.5 L257.5 536.0 L258.0 535.4 L258.5 534.9 L259.0 534.4 L259.5 534.0 L260.0 533.7 L260.5 533.4 L261.0 533.3 L261.5 533.3 L262.0 533.4 L262.5 533.5 L263.0 533.8 L263.5 534.1 L264.0 534.4 L264.5 534.7 L265.0 535.0 L265.5 535.3 L266.0 535.6 L266.5 535.8 L267.0 536.0 L267.5 536.1 L268.0 536.2 L268.5 536.2 L269.0 536.3 L269.5 536.3 L270.0 536.3 L270.5 536.3 L271.0 536.3 L271.5 536.3 L272.0 536.3 L272.5 536.4 L273.0 536.5 L273.5 536.5 L274.0 536.7 L274.5 536.8 L275.0 536.9 L275.5 537.1 L276.0 537.2 L276.5 537.4 L277.0 537.6 L277.5 537.7 L278.0 537.9 L278.5 538.1 L279.0 538.2 L279.5 538.4 L280.0 538.5 L280.5 538.6 L281.0 538.8 L281.5 538.9 L282.0 539.0 L282.5 539.1 L283.0 539.2 L283.5 539.3 L284.0 539.4 L284.5 539.5 L285.0 539.6 L285.5 539.7 L286.0 539.7 L286.5 539.8 L287.0 539.9 L287.5 539.9 L288.0 540.0 L288.5 540.0 L289.0 540.1 L289.5 540.1 L290.0 540.2 L290.5 540.2 L291.0 540.3 L291.5 540.3 L292.0 540.3 L292.5 540.4 L293.0 540.4 L293.5 540.4 L294.0 540.5 L294.5 540.5 L295.0 540.5 L295.5 540.5 L296.0 540.6 L296.5 540.6 L297.0 540.6 L297.5 540.6 L298.0 540.6 L298.5 540.7 L299.0 540.7 L299.5 540.7 L300.0 540.7 L300.5 540.7 L301.0 540.7 L301.5 540.8 L302.0 540.8 L302.5 540.8 L303.0 540.8 L303.5 540.8 L304.0 540.8 L304.5 540.8" stroke="#8060a8" stroke-width="0.90" fill="none" stroke-linejoin="round" />
<path d="M194.4 642.5 L194.9 642.5 L195.4 642.5 L195.9 642.5 L196.4 642.5 L196.9 642.5 L197.4 642.5 L197.9 642.5 L198.4 642.5 L198.9 642.5 L199.4 642.5 L199.9 642.5 L200.4 642.5 L200.9 642.5 L201.4 642.5 L201.9 642.5 L202.4 642.5 L202.9 642.5 L203.4 642.5 L203.9 642.5 L204.4 642.5 L204.9 642.5 L205.4 642.5 L205.9 642.5 L206.4 642.5 L206.9 642.5 L207.4 642.5 L207.9 642.5 L208.4 642.5 L208.9 642.5 L209.4 642.5 L209.9 642.5 L210.4 642.5 L210.9 642.5 L211.4 642.5 L211.9 642.5 L212.4 642.5 L212.9 642.5 L213.4 642.5 L213.9 642.5 L214.4 642.5 L214.9 642.5 L215.4 642.5 L215.9 642.5 L216.4 642.5 L216.9 642.5 L217.4 642.5 L217.9 642.5 L218.4 642.5 L218.9 642.5 L219.4 642.5 L219.9 642.5 L220.4 642.5 L220.9 642.5 L221.4 642.5 L221.9 642.5 L222.4 642.5 L222.9 642.5 L223.4 642.5 L223.9 642.5 L224.4 642.5 L224.9 642.5 L225.4 642.5 L225.9 642.5 L226.4 642.5 L226.9 642.5 L227.4 642.5 L227.9 642.5 L228.4 642.5 L228.9 642.5 L229.4 642.5 L229.9 642.5 L230.4 642.5 L230.9 642.5 L231.4 642.5 L231.9 642.5 L232.4 642.5 L232.9 642.5 L233.4 642.5 L233.9 642.5 L234.4 642.4 L234.9 642.4 L235.4 642.4 L235.9 642.4 L236.4 642.4 L236.9 642.4 L237.4 642.4 L237.9 642.4 L238.4 642.4 L238.9 642.4 L239.4 642.4 L239.9 642.3 L240.4 642.3 L240.9 642.3 L241.4 642.3 L241.9 642.3 L242.4 642.2 L242.9 642.2 L243.4 642.2 L243.9 642.2 L244.4 642.1 L244.9 642.1 L245.4 642.0 L245.9 642.0 L246.4 642.0 L246.9 641.9 L247.4 641.8 L247.9 641.8 L248.4 641.7 L248.9 641.6 L249.4 641.6 L249.9 641.5 L250.4 641.4 L250.9 641.3 L251.4 641.2 L251.9 641.1 L252.4 641.0 L252.9 640.9 L253.4 640.8 L253.9 640.6 L254.4 640.5 L254.9 640.4 L255.4 640.2 L255.9 640.1 L256.4 639.9 L256.9 639.8 L257.4 639.6 L257.9 639.5 L258.4 639.3 L258.9 639.2 L259.4 639.0 L259.9 638.9 L260.4 638.7 L260.9 638.6 L261.4 638.5 L261.9 638.3 L262.4 638.2 L262.9 638.1 L263.4 637.9 L263.9 637.8 L264.4 637.7 L264.9 637.6 L265.4 637.5 L265.9 637.4 L266.4 637.4 L266.9 637.3 L267.4 637.2 L267.9 637.1 L268.4 637.1 L268.9 637.0 L269.4 637.0 L269.9 636.9 L270.4 636.9 L270.9 636.8 L271.4 636.8 L271.9 636.8 L272.4 636.7 L272.9 636.7 L273.4 636.7 L273.9 636.6 L274.4 636.6 L274.9 636.6 L275.4 636.6 L275.9 636.6 L276.4 636.6 L276.9 636.5 L277.4 636.5 L277.9 636.5 L278.4 636.5 L278.9 636.5 L279.4 636.5 L279.9 636.5 L280.4 636.5 L280.9 636.5 L281.4 636.5 L281.9 636.5 L282.4 636.4 L282.9 636.4 L283.4 636.4 L283.9 636.4 L284.4 636.4 L284.9 636.4 L285.4 636.4 L285.9 636.4 L286.4 636.4 L286.9 636.4 L287.4 636.4 L287.9 636.4 L288.4 636.4 L288.9 636.4 L289.4 636.4 L289.9 636.4 L290.4 636.4 L290.9 636.4 L291.4 636.4 L291.9 636.4 L292.4 636.4 L292.9 636.4 L293.4 636.4 L293.9 636.4 L294.4 636.4 L294.9 636.4 L295.4 636.4 L295.9 636.4 L296.4 636.4 L296.9 636.4 L297.4 636.4 L297.9 636.4 L298.4 636.4 L298.9 636.4 L299.4 636.4 L299.9 636.4 L300.4 636.4 L300.9 636.4 L301.4 636.4 L301.9 636.4 L302.4 636.4 L302.9 636.4 L303.4 636.4 L303.9 636.4 L304.4 636.4 L304.9 636.4 L305.4 636.4 L305.9 636.4 L306.4 636.4 L306.9 636.4 L307.4 636.4 L307.9 636.4 L308.4 636.4 L308.9 636.4 L309.4 636.4 L309.9 636.4 L310.4 636.4 L310.9 636.4 L311.4 636.4 L311.9 636.4 L312.4 636.4 L312.9 636.4 L313.4 636.4 L313.9 636.4 L314.4 636.4 L314.9 636.4 L315.4 636.4 L315.9 636.4 L316.4 636.4 L316.9 636.4 L317.4 636.4 L317.9 636.4 L318.4 636.4 L318.9 636.4 L319.4 636.4 L319.9 636.4 L320.4 636.4 L320.9 636.4 L321.4 636.4 L321.9 636.4 L322.4 636.4 L322.9 636.4 L323.4 636.4 L323.9 636.4 L324.4 636.4 L324.9 636.4 L325.4 636.4 L325.9 636.4 L326.4 636.4 L326.9 636.4 L327.4 636.4 L327.9 636.4 L328.4 636.4 L328.9 636.4 L329.4 636.4 L329.9 636.4 L330.4 636.4 L330.9 636.4 L331.4 636.4 L331.9 636.4 L332.4 636.4 L332.9 636.4 L333.4 636.4 L333.9 636.4 L334.4 636.4 L334.9 636.4 L335.4 636.4 L335.9 636.4 L336.4 636.4 L336.9 636.4 L337.4 636.4 L337.9 636.4 L338.4 636.4 L338.9 636.4 L339.4 636.4 L339.9 636.4 L340.4 636.4 L340.9 636.4 L341.4 636.4 L341.9 636.4 L342.4 636.4 L342.9 636.4 L343.4 636.4 L343.9 636.4 L344.4 636.4 L344.9 636.4 L345.4 636.4 L345.9 636.4 L346.4 636.4 L346.9 636.4 L347.4 636.4 L347.9 636.4 L348.4 636.4 L348.9 636.4 L349.4 636.4 L349.9 636.4 L350.4 636.4 L350.9 636.4 L351.4 636.4 L351.9 636.4 L352.4 636.4 L352.9 636.4 L353.4 636.4 L353.9 636.4 L354.4 636.4 L354.9 636.4 L355.4 636.4 L355.9 636.4 L356.4 636.4 L356.9 636.4 L357.4 636.4 L357.9 636.4 L358.4 636.4 L358.9 636.4 L359.4 636.4 L359.9 636.4 L360.4 636.4 L360.9 636.4 L361.4 636.4 L361.9 636.4 L362.4 636.4 L362.9 636.4 L363.4 636.4 L363.9 636.4 L364.4 636.4 L364.9 636.4 L365.4 636.4 L365.9 636.4 L366.4 636.4 L366.9 636.4 L367.4 636.4 L367.9 636.4 L368.4 636.4 L368.9 636.4 L369.4 636.4 L369.9 636.4 L370.4 636.4 L370.9 636.4 L371.4 636.4 L371.9 636.4 L372.4 636.4 L372.9 636.4 L373.4 636.4 L373.9 636.4 L374.4 636.4 L374.9 636.4 L375.4 636.4 L375.9 636.4 L376.4 636.4 L376.9 636.4 L377.4 636.4 L377.9 636.4 L378.4 636.4 L378.9 636.4 L379.4 636.4 L379.9 636.4 L380.4 636.4 L380.9 636.4 L381.4 636.4 L381.9 636.4 L382.4 636.4 L382.9 636.4 L383.4 636.4 L383.9 636.4 L384.4 636.4 L384.9 636.4 L385.4 636.4 L385.9 636.4 L386.4 636.4 L386.9 636.4 L387.4 636.4 L387.9 636.4 L388.4 636.4 L388.9 636.4 L389.4 636.4 L389.9 636.4 L390.4 636.4 L390.9 636.4 L391.4 636.4 L391.9 636.4 L392.4 636.4 L392.9 636.4 L393.4 636.4 L393.9 636.4 L394.4 636.4 L394.9 636.4 L395.4 636.4" stroke="#b0d890" stroke-width="0.90" fill="none" stroke-linejoin="round" />
<path d="M194.4 642.4 L194.9 642.4 L195.4 642.4 L195.9 642.4 L196.4 642.4 L196.9 642.4 L197.4 642.4 L197.9 642.4 L198.4 642.4 L198.9 642.4 L199.4 642.4 L199.9 642.4 L200.4 642.4 L200.9 642.4 L201.4 642.4 L201.9 642.4 L202.4 642.4 L202.9 642.4 L203.4 642.4 L203.9 642.4 L204.4 642.4 L204.9 642.4 L205.4 642.4 L205.9 642.4 L206.4 642.4 L206.9 642.4 L207.4 642.4 L207.9 642.4 L208.4 642.4 L208.9 642.4 L209.4 642.4 L209.9 642.4 L210.4 642.4 L210.9 642.4 L211.4 642.4 L211.9 642.4 L212.4 642.4 L212.9 642.4 L213.4 642.4 L213.9 642.4 L214.4 642.4 L214.9 642.4 L215.4 642.4 L215.9 642.4 L216.4 642.4 L216.9 642.3 L217.4 642.3 L217.9 642.3 L218.4 642.3 L218.9 642.3 L219.4 642.3 L219.9 642.3 L220.4 642.3 L220.9 642.3 L221.4 642.3 L221.9 642.3 L222.4 642.3 L222.9 642.3 L223.4 642.3 L223.9 642.3 L224.4 642.3 L224.9 642.3 L225.4 642.2 L225.9 642.2 L226.4 642.2 L226.9 642.2 L227.4 642.2 L227.9 642.2 L228.4 642.2 L228.9 642.2 L229.4 642.2 L229.9 642.1 L230.4 642.1 L230.9 642.1 L231.4 642.1 L231.9 642.1 L232.4 642.0 L232.9 642.0 L233.4 642.0 L233.9 642.0 L234.4 641.9 L234.9 641.9 L235.4 641.9 L235.9 641.8 L236.4 641.8 L236.9 641.7 L237.4 641.7 L237.9 641.6 L238.4 641.5 L238.9 641.4 L239.4 641.2 L239.9 641.1 L240.4 640.8 L240.9 640.5 L241.4 640.1 L241.9 639.6 L242.4 639.0 L242.9 638.2 L243.4 637.3 L243.9 636.0 L244.4 634.6 L244.9 632.8 L245.4 630.7 L245.9 628.2 L246.4 625.3 L246.9 622.0 L247.4 618.2 L247.9 614.0 L248.4 609.4 L248.9 604.4 L249.4 599.1 L249.9 593.6 L250.4 587.9 L250.9 582.2 L251.4 576.6 L251.9 571.3 L252.4 566.3 L252.9 562.0 L253.4 558.3 L253.9 555.4 L254.4 553.5 L254.9 552.6 L255.4 552.7 L255.9 553.9 L256.4 556.0 L256.9 559.0 L257.4 562.8 L257.9 567.2 L258.4 572.1 L258.9 577.4 L259.4 582.8 L259.9 588.2 L260.4 593.6 L260.9 598.8 L261.4 603.8 L261.9 608.4 L262.4 612.6 L262.9 616.4 L263.4 619.7 L263.9 622.7 L264.4 625.2 L264.9 627.4 L265.4 629.2 L265.9 630.7 L266.4 631.9 L266.9 632.9 L267.4 633.6 L267.9 634.2 L268.4 634.7 L268.9 635.1 L269.4 635.3 L269.9 635.5 L270.4 635.7 L270.9 635.8 L271.4 635.9 L271.9 635.9 L272.4 636.0 L272.9 636.0 L273.4 636.0 L273.9 636.0 L274.4 636.1 L274.9 636.1 L275.4 636.1 L275.9 636.1 L276.4 636.1 L276.9 636.1 L277.4 636.1 L277.9 636.1 L278.4 636.1 L278.9 636.1 L279.4 636.1 L279.9 636.1 L280.4 636.1 L280.9 636.1 L281.4 636.1 L281.9 636.2 L282.4 636.2 L282.9 636.2 L283.4 636.2 L283.9 636.2 L284.4 636.2 L284.9 636.2 L285.4 636.2 L285.9 636.2 L286.4 636.2 L286.9 636.2 L287.4 636.2 L287.9 636.2 L288.4 636.2 L288.9 636.2 L289.4 636.2 L289.9 636.2 L290.4 636.2 L290.9 636.2 L291.4 636.2 L291.9 636.2 L292.4 636.2 L292.9 636.3 L293.4 636.3 L293.9 636.3 L294.4 636.3 L294.9 636.3 L295.4 636.3 L295.9 636.3 L296.4 636.3 L296.9 636.3 L297.4 636.3 L297.9 636.3 L298.4 636.3 L298.9 636.3 L299.4 636.3 L299.9 636.3 L300.4 636.3 L300.9 636.3 L301.4 636.3 L301.9 636.3 L302.4 636.3 L302.9 636.3 L303.4 636.3 L303.9 636.3 L304.4 636.3 L304.9 636.3 L305.4 636.3 L305.9 636.3 L306.4 636.3 L306.9 636.3 L307.4 636.3 L307.9 636.3 L308.4 636.3 L308.9 636.3 L309.4 636.3 L309.9 636.3 L310.4 636.3 L310.9 636.3 L311.4 636.3 L311.9 636.3 L312.4 636.3 L312.9 636.3 L313.4 636.3 L313.9 636.3 L314.4 636.3 L314.9 636.3 L315.4 636.3 L315.9 636.3 L316.4 636.3 L316.9 636.3 L317.4 636.3 L317.9 636.3 L318.4 636.3 L318.9 636.3 L319.4 636.3 L319.9 636.3 L320.4 636.3 L320.9 636.3 L321.4 636.3 L321.9 636.4 L322.4 636.4 L322.9 636.4 L323.4 636.4 L323.9 636.4 L324.4 636.4 L324.9 636.4 L325.4 636.4 L325.9 636.4 L326.4 636.4 L326.9 636.4 L327.4 636.4 L327.9 636.4 L328.4 636.4 L328.9 636.4 L329.4 636.4 L329.9 636.4 L330.4 636.4 L330.9 636.4 L331.4 636.4 L331.9 636.4 L332.4 636.4 L332.9 636.4 L333.4 636.4 L333.9 636.4 L334.4 636.4 L334.9 636.4 L335.4 636.4 L335.9 636.4 L336.4 636.4 L336.9 636.4 L337.4 636.4 L337.9 636.4 L338.4 636.4 L338.9 636.4 L339.4 636.4 L339.9 636.4 L340.4 636.4 L340.9 636.4 L341.4 636.4 L341.9 636.4 L342.4 636.4 L342.9 636.4 L343.4 636.4 L343.9 636.4 L344.4 636.4 L344.9 636.4 L345.4 636.4 L345.9 636.4 L346.4 636.4 L346.9 636.4 L347.4 636.4 L347.9 636.4 L348.4 636.4 L348.9 636.4 L349.4 636.4 L349.9 636.4 L350.4 636.4 L350.9 636.4 L351.4 636.4 L351.9 636.4 L352.4 636.4 L352.9 636.4 L353.4 636.4 L353.9 636.4 L354.4 636.4 L354.9 636.4 L355.4 636.4 L355.9 636.4 L356.4 636.4 L356.9 636.4 L357.4 636.4 L357.9 636.4 L358.4 636.4 L358.9 636.4 L359.4 636.4 L359.9 636.4 L360.4 636.4 L360.9 636.4 L361.4 636.4 L361.9 636.4 L362.4 636.4 L362.9 636.4 L363.4 636.4 L363.9 636.4 L364.4 636.4 L364.9 636.4 L365.4 636.4 L365.9 636.4 L366.4 636.4 L366.9 636.4 L367.4 636.4 L367.9 636.4 L368.4 636.4 L368.9 636.4 L369.4 636.4 L369.9 636.4 L370.4 636.4 L370.9 636.4 L371.4 636.4 L371.9 636.4 L372.4 636.4 L372.9 636.4 L373.4 636.4 L373.9 636.4 L374.4 636.4 L374.9 636.4 L375.4 636.4 L375.9 636.4 L376.4 636.4 L376.9 636.4 L377.4 636.4 L377.9 636.4 L378.4 636.4 L378.9 636.4 L379.4 636.4 L379.9 636.4 L380.4 636.4 L380.9 636.4 L381.4 636.4 L381.9 636.4 L382.4 636.4 L382.9 636.4 L383.4 636.4 L383.9 636.4 L384.4 636.4 L384.9 636.4 L385.4 636.4 L385.9 636.4 L386.4 636.4 L386.9 636.4 L387.4 636.4 L387.9 636.4 L388.4 636.4 L388.9 636.4 L389.4 636.4 L389.9 636.4 L390.4 636.4 L390.9 636.4 L391.4 636.4 L391.9 636.4 L392.4 636.4 L392.9 636.4 L393.4 636.4 L393.9 636.4 L394.4 636.4 L394.9 636.4 L395.4 636.4" stroke="#6088d8" stroke-width="0.90" fill="none" stroke-linejoin="round" />
<path d="M194.4 642.4 L194.9 642.4 L195.4 642.4 L195.9 642.4 L196.4 642.4 L196.9 642.4 L197.4 642.4 L197.9 642.4 L198.4 642.3 L198.9 642.3 L199.4 642.3 L199.9 642.3 L200.4 642.3 L200.9 642.3 L201.4 642.3 L201.9 642.3 L202.4 642.3 L202.9 642.3 L203.4 642.3 L203.9 642.3 L204.4 642.3 L204.9 642.3 L205.4 642.3 L205.9 642.3 L206.4 642.3 L206.9 642.3 L207.4 642.3 L207.9 642.3 L208.4 642.3 L208.9 642.3 L209.4 642.3 L209.9 642.3 L210.4 642.3 L210.9 642.3 L211.4 642.3 L211.9 642.3 L212.4 642.3 L212.9 642.3 L213.4 642.3 L213.9 642.3 L214.4 642.3 L214.9 642.2 L215.4 642.2 L215.9 642.2 L216.4 642.2 L216.9 642.2 L217.4 642.2 L217.9 642.2 L218.4 642.2 L218.9 642.2 L219.4 642.2 L219.9 642.2 L220.4 642.2 L220.9 642.2 L221.4 642.2 L221.9 642.2 L222.4 642.2 L222.9 642.2 L223.4 642.1 L223.9 642.1 L224.4 642.1 L224.9 642.1 L225.4 642.1 L225.9 642.1 L226.4 642.1 L226.9 642.1 L227.4 642.1 L227.9 642.1 L228.4 642.0 L228.9 642.0 L229.4 642.0 L229.9 642.0 L230.4 642.0 L230.9 642.0 L231.4 642.0 L231.9 642.0 L232.4 641.9 L232.9 641.9 L233.4 641.9 L233.9 641.9 L234.4 641.9 L234.9 641.8 L235.4 641.8 L235.9 641.8 L236.4 641.8 L236.9 641.7 L237.4 641.7 L237.9 641.7 L238.4 641.6 L238.9 641.6 L239.4 641.6 L239.9 641.5 L240.4 641.5 L240.9 641.4 L241.4 641.4 L241.9 641.3 L242.4 641.3 L242.9 641.2 L243.4 641.2 L243.9 641.1 L244.4 641.0 L244.9 640.9 L245.4 640.9 L245.9 640.8 L246.4 640.7 L246.9 640.6 L247.4 640.5 L247.9 640.3 L248.4 640.2 L248.9 640.1 L249.4 639.9 L249.9 639.8 L250.4 639.6 L250.9 639.4 L251.4 639.2 L251.9 639.0 L252.4 638.8 L252.9 638.6 L253.4 638.3 L253.9 638.1 L254.4 637.8 L254.9 637.5 L255.4 637.2 L255.9 636.9 L256.4 636.5 L256.9 636.1 L257.4 635.7 L257.9 635.3 L258.4 634.8 L258.9 634.3 L259.4 633.8 L259.9 633.2 L260.4 632.5 L260.9 631.8 L261.4 630.9 L261.9 630.0 L262.4 628.9 L262.9 627.7 L263.4 626.3 L263.9 624.7 L264.4 622.8 L264.9 620.8 L265.4 618.4 L265.9 615.7 L266.4 612.7 L266.9 609.5 L267.4 605.9 L267.9 602.1 L268.4 598.3 L268.9 594.4 L269.4 590.9 L269.9 587.9 L270.4 585.8 L270.9 584.8 L271.4 585.0 L271.9 586.4 L272.4 588.8 L272.9 592.0 L273.4 595.6 L273.9 599.4 L274.4 603.2 L274.9 606.8 L275.4 610.1 L275.9 613.2 L276.4 615.9 L276.9 618.4 L277.4 620.5 L277.9 622.4 L278.4 624.0 L278.9 625.4 L279.4 626.6 L279.9 627.6 L280.4 628.5 L280.9 629.2 L281.4 629.9 L281.9 630.4 L282.4 630.9 L282.9 631.4 L283.4 631.7 L283.9 632.1 L284.4 632.4 L284.9 632.6 L285.4 632.9 L285.9 633.1 L286.4 633.3 L286.9 633.5 L287.4 633.6 L287.9 633.8 L288.4 633.9 L288.9 634.0 L289.4 634.2 L289.9 634.3 L290.4 634.4 L290.9 634.5 L291.4 634.6 L291.9 634.6 L292.4 634.7 L292.9 634.8 L293.4 634.9 L293.9 634.9 L294.4 635.0 L294.9 635.0 L295.4 635.1 L295.9 635.1 L296.4 635.2 L296.9 635.2 L297.4 635.3 L297.9 635.3 L298.4 635.4 L298.9 635.4 L299.4 635.4 L299.9 635.5 L300.4 635.5 L300.9 635.5 L301.4 635.5 L301.9 635.6 L302.4 635.6 L302.9 635.6 L303.4 635.6 L303.9 635.7 L304.4 635.7 L304.9 635.7 L305.4 635.7 L305.9 635.8 L306.4 635.8 L306.9 635.8 L307.4 635.8 L307.9 635.8 L308.4 635.8 L308.9 635.8 L309.4 635.9 L309.9 635.9 L310.4 635.9 L310.9 635.9 L311.4 635.9 L311.9 635.9 L312.4 635.9 L312.9 635.9 L313.4 636.0 L313.9 636.0 L314.4 636.0 L314.9 636.0 L315.4 636.0 L315.9 636.0 L316.4 636.0 L316.9 636.0 L317.4 636.0 L317.9 636.0 L318.4 636.0 L318.9 636.1 L319.4 636.1 L319.9 636.1 L320.4 636.1 L320.9 636.1 L321.4 636.1 L321.9 636.1 L322.4 636.1 L322.9 636.1 L323.4 636.1 L323.9 636.1 L324.4 636.1 L324.9 636.1 L325.4 636.1 L325.9 636.1 L326.4 636.1 L326.9 636.1 L327.4 636.1 L327.9 636.2 L328.4 636.2 L328.9 636.2 L329.4 636.2 L329.9 636.2 L330.4 636.2 L330.9 636.2 L331.4 636.2 L331.9 636.2 L332.4 636.2 L332.9 636.2 L333.4 636.2 L333.9 636.2 L334.4 636.2 L334.9 636.2 L335.4 636.2 L335.9 636.2 L336.4 636.2 L336.9 636.2 L337.4 636.2 L337.9 636.2 L338.4 636.2 L338.9 636.2 L339.4 636.2 L339.9 636.2 L340.4 636.2 L340.9 636.2 L341.4 636.2 L341.9 636.2 L342.4 636.2 L342.9 636.2 L343.4 636.2 L343.9 636.2 L344.4 636.3 L344.9 636.3 L345.4 636.3 L345.9 636.3 L346.4 636.3 L346.9 636.3 L347.4 636.3 L347.9 636.3 L348.4 636.3 L348.9 636.3 L349.4 636.3 L349.9 636.3 L350.4 636.3 L350.9 636.3 L351.4 636.3 L351.9 636.3 L352.4 636.3 L352.9 636.3 L353.4 636.3 L353.9 636.3 L354.4 636.3 L354.9 636.3 L355.4 636.3 L355.9 636.3 L356.4 636.3 L356.9 636.3 L357.4 636.3 L357.9 636.3 L358.4 636.3 L358.9 636.3 L359.4 636.3 L359.9 636.3 L360.4 636.3 L360.9 636.3 L361.4 636.3 L361.9 636.3 L362.4 636.3 L362.9 636.3 L363.4 636.3 L363.9 636.3 L364.4 636.3 L364.9 636.3 L365.4 636.3 L365.9 636.3 L366.4 636.3 L366.9 636.3 L367.4 636.3 L367.9 636.3 L368.4 636.3 L368.9 636.3 L369.4 636.3 L369.9 636.3 L370.4 636.3 L370.9 636.3 L371.4 636.3 L371.9 636.3 L372.4 636.3 L372.9 636.3 L373.4 636.3 L373.9 636.3 L374.4 636.3 L374.9 636.3 L375.4 636.3 L375.9 636.3 L376.4 636.3 L376.9 636.3 L377.4 636.3 L377.9 636.3 L378.4 636.3 L378.9 636.3 L379.4 636.3 L379.9 636.3 L380.4 636.3 L380.9 636.3 L381.4 636.3 L381.9 636.3 L382.4 636.3 L382.9 636.3 L383.4 636.3 L383.9 636.3 L384.4 636.3 L384.9 636.3 L385.4 636.3 L385.9 636.3 L386.4 636.3 L386.9 636.3 L387.4 636.3 L387.9 636.3 L388.4 636.3 L388.9 636.3 L389.4 636.3 L389.9 636.3 L390.4 636.3 L390.9 636.3 L391.4 636.3 L391.9 636.3 L392.4 636.3 L392.9 636.3 L393.4 636.3 L393.9 636.3 L394.4 636.3 L394.9 636.3 L395.4 636.3" stroke="#90c8e8" stroke-width="0.80" fill="none" stroke-linejoin="round" stroke-dasharray="1 1"/>
<path d="M194.4 642.3 L194.9 642.3 L195.4 642.3 L195.9 642.3 L196.4 642.3 L196.9 642.3 L197.4 642.3 L197.9 642.3 L198.4 642.3 L198.9 642.3 L199.4 642.3 L199.9 642.3 L200.4 642.3 L200.9 642.3 L201.4 642.3 L201.9 642.3 L202.4 642.3 L202.9 642.2 L203.4 642.2 L203.9 642.2 L204.4 642.2 L204.9 642.2 L205.4 642.2 L205.9 642.2 L206.4 642.2 L206.9 642.2 L207.4 642.2 L207.9 642.2 L208.4 642.2 L208.9 642.2 L209.4 642.2 L209.9 642.2 L210.4 642.2 L210.9 642.2 L211.4 642.2 L211.9 642.2 L212.4 642.1 L212.9 642.1 L213.4 642.1 L213.9 642.1 L214.4 642.1 L214.9 642.1 L215.4 642.1 L215.9 642.1 L216.4 642.1 L216.9 642.1 L217.4 642.1 L217.9 642.1 L218.4 642.0 L218.9 642.0 L219.4 642.0 L219.9 642.0 L220.4 642.0 L220.9 642.0 L221.4 642.0 L221.9 642.0 L222.4 642.0 L222.9 641.9 L223.4 641.9 L223.9 641.9 L224.4 641.9 L224.9 641.9 L225.4 641.9 L225.9 641.8 L226.4 641.8 L226.9 641.8 L227.4 641.8 L227.9 641.8 L228.4 641.7 L228.9 641.7 L229.4 641.7 L229.9 641.7 L230.4 641.6 L230.9 641.6 L231.4 641.6 L231.9 641.6 L232.4 641.5 L232.9 641.5 L233.4 641.4 L233.9 641.4 L234.4 641.4 L234.9 641.3 L235.4 641.3 L235.9 641.2 L236.4 641.1 L236.9 641.1 L237.4 641.0 L237.9 640.9 L238.4 640.8 L238.9 640.6 L239.4 640.5 L239.9 640.2 L240.4 640.0 L240.9 639.7 L241.4 639.2 L241.9 638.7 L242.4 638.1 L242.9 637.2 L243.4 636.2 L243.9 635.0 L244.4 633.5 L244.9 631.7 L245.4 629.5 L245.9 627.0 L246.4 624.0 L246.9 620.7 L247.4 616.8 L247.9 612.6 L248.4 607.9 L248.9 602.9 L249.4 597.5 L249.9 591.9 L250.4 586.1 L250.9 580.3 L251.4 574.6 L251.9 569.2 L252.4 564.2 L252.9 559.7 L253.4 555.8 L253.9 552.9 L254.4 550.8 L254.9 549.7 L255.4 549.7 L255.9 550.6 L256.4 552.6 L256.9 555.3 L257.4 558.9 L257.9 563.0 L258.4 567.6 L258.9 572.5 L259.4 577.5 L259.9 582.5 L260.4 587.4 L260.9 592.0 L261.4 596.2 L261.9 600.0 L262.4 603.3 L262.9 606.0 L263.4 608.1 L263.9 609.5 L264.4 610.3 L264.9 610.5 L265.4 610.0 L265.9 608.9 L266.4 607.3 L266.9 605.0 L267.4 602.3 L267.9 599.2 L268.4 595.9 L268.9 592.5 L269.4 589.3 L269.9 586.5 L270.4 584.6 L270.9 583.8 L271.4 584.1 L271.9 585.6 L272.4 588.1 L272.9 591.3 L273.4 595.0 L273.9 598.8 L274.4 602.6 L274.9 606.2 L275.4 609.6 L275.9 612.7 L276.4 615.5 L276.9 617.9 L277.4 620.1 L277.9 622.0 L278.4 623.6 L278.9 625.0 L279.4 626.2 L279.9 627.3 L280.4 628.1 L280.9 628.9 L281.4 629.6 L281.9 630.1 L282.4 630.6 L282.9 631.1 L283.4 631.5 L283.9 631.8 L284.4 632.1 L284.9 632.4 L285.4 632.6 L285.9 632.8 L286.4 633.1 L286.9 633.2 L287.4 633.4 L287.9 633.6 L288.4 633.7 L288.9 633.9 L289.4 634.0 L289.9 634.1 L290.4 634.2 L290.9 634.3 L291.4 634.4 L291.9 634.5 L292.4 634.6 L292.9 634.6 L293.4 634.7 L293.9 634.8 L294.4 634.8 L294.9 634.9 L295.4 635.0 L295.9 635.0 L296.4 635.1 L296.9 635.1 L297.4 635.2 L297.9 635.2 L298.4 635.2 L298.9 635.3 L299.4 635.3 L299.9 635.4 L300.4 635.4 L300.9 635.4 L301.4 635.4 L301.9 635.5 L302.4 635.5 L302.9 635.5 L303.4 635.6 L303.9 635.6 L304.4 635.6 L304.9 635.6 L305.4 635.6 L305.9 635.7 L306.4 635.7 L306.9 635.7 L307.4 635.7 L307.9 635.7 L308.4 635.8 L308.9 635.8 L309.4 635.8 L309.9 635.8 L310.4 635.8 L310.9 635.8 L311.4 635.8 L311.9 635.9 L312.4 635.9 L312.9 635.9 L313.4 635.9 L313.9 635.9 L314.4 635.9 L314.9 635.9 L315.4 635.9 L315.9 635.9 L316.4 636.0 L316.9 636.0 L317.4 636.0 L317.9 636.0 L318.4 636.0 L318.9 636.0 L319.4 636.0 L319.9 636.0 L320.4 636.0 L320.9 636.0 L321.4 636.0 L321.9 636.0 L322.4 636.0 L322.9 636.1 L323.4 636.1 L323.9 636.1 L324.4 636.1 L324.9 636.1 L325.4 636.1 L325.9 636.1 L326.4 636.1 L326.9 636.1 L327.4 636.1 L327.9 636.1 L328.4 636.1 L328.9 636.1 L329.4 636.1 L329.9 636.1 L330.4 636.1 L330.9 636.1 L331.4 636.1 L331.9 636.1 L332.4 636.2 L332.9 636.2 L333.4 636.2 L333.9 636.2 L334.4 636.2 L334.9 636.2 L335.4 636.2 L335.9 636.2 L336.4 636.2 L336.9 636.2 L337.4 636.2 L337.9 636.2 L338.4 636.2 L338.9 636.2 L339.4 636.2 L339.9 636.2 L340.4 636.2 L340.9 636.2 L341.4 636.2 L341.9 636.2 L342.4 636.2 L342.9 636.2 L343.4 636.2 L343.9 636.2 L344.4 636.2 L344.9 636.2 L345.4 636.2 L345.9 636.2 L346.4 636.2 L346.9 636.2 L347.4 636.2 L347.9 636.2 L348.4 636.2 L348.9 636.2 L349.4 636.2 L349.9 636.2 L350.4 636.2 L350.9 636.3 L351.4 636.3 L351.9 636.3 L352.4 636.3 L352.9 636.3 L353.4 636.3 L353.9 636.3 L354.4 636.3 L354.9 636.3 L355.4 636.3 L355.9 636.3 L356.4 636.3 L356.9 636.3 L357.4 636.3 L357.9 636.3 L358.4 636.3 L358.9 636.3 L359.4 636.3 L359.9 636.3 L360.4 636.3 L360.9 636.3 L361.4 636.3 L361.9 636.3 L362.4 636.3 L362.9 636.3 L363.4 636.3 L363.9 636.3 L364.4 636.3 L364.9 636.3 L365.4 636.3 L365.9 636.3 L366.4 636.3 L366.9 636.3 L367.4 636.3 L367.9 636.3 L368.4 636.3 L368.9 636.3 L369.4 636.3 L369.9 636.3 L370.4 636.3 L370.9 636.3 L371.4 636.3 L371.9 636.3 L372.4 636.3 L372.9 636.3 L373.4 636.3 L373.9 636.3 L374.4 636.3 L374.9 636.3 L375.4 636.3 L375.9 636.3 L376.4 636.3 L376.9 636.3 L377.4 636.3 L377.9 636.3 L378.4 636.3 L378.9 636.3 L379.4 636.3 L379.9 636.3 L380.4 636.3 L380.9 636.3 L381.4 636.3 L381.9 636.3 L382.4 636.3 L382.9 636.3 L383.4 636.3 L383.9 636.3 L384.4 636.3 L384.9 636.3 L385.4 636.3 L385.9 636.3 L386.4 636.3 L386.9 636.3 L387.4 636.3 L387.9 636.3 L388.4 636.3 L388.9 636.3 L389.4 636.3 L389.9 636.3 L390.4 636.3 L390.9 636.3 L391.4 636.3 L391.9 636.3 L392.4 636.3 L392.9 636.3 L393.4 636.3 L393.9 636.3 L394.4 636.3 L394.9 636.3 L395.4 636.3" stroke="#d06868" stroke-width="1.00" fill="none" stroke-linejoin="round" />
<path d="M194.4 643.6 L195.3 641.9 L196.2 643.0 L197.1 641.3 L198.0 641.9 L198.9 640.5 L199.8 644.8 L200.7 644.0 L201.6 642.7 L202.5 641.6 L203.4 645.1 L204.3 640.2 L205.2 638.6 L206.1 638.2 L207.0 643.9 L207.9 640.5 L208.8 644.2 L209.7 642.5 L210.6 643.5 L211.5 640.6 L212.4 640.4 L213.3 641.3 L214.2 643.3 L215.1 642.0 L216.0 642.3 L216.9 641.8 L217.8 639.3 L218.7 641.8 L219.6 643.8 L220.5 642.7 L221.4 641.2 L222.3 640.3 L223.2 643.0 L224.1 641.3 L225.0 642.0 L225.9 643.2 L226.8 642.4 L227.7 641.3 L228.6 641.6 L229.5 641.6 L230.4 643.7 L231.3 637.3 L232.2 642.1 L233.1 639.7 L234.0 640.4 L234.9 640.9 L235.8 641.3 L236.7 639.4 L237.6 641.5 L238.5 635.7 L239.4 642.6 L240.3 635.8 L241.2 642.2 L242.1 638.4 L243.0 640.1 L243.9 630.9 L244.8 627.8 L245.7 627.5 L246.6 623.0 L247.5 616.4 L248.4 610.8 L249.3 597.4 L250.2 591.1 L251.1 579.6 L252.0 572.5 L252.9 559.4 L253.8 553.4 L254.7 550.7 L255.6 552.8 L256.5 554.5 L257.4 559.5 L258.3 562.9 L259.2 575.9 L260.1 584.2 L261.0 593.0 L261.9 604.4 L262.8 605.6 L263.7 608.2 L264.6 614.1 L265.5 610.5 L266.4 607.5 L267.3 601.4 L268.2 599.5 L269.1 586.8 L270.0 587.2 L270.9 582.1 L271.8 586.3 L272.7 584.9 L273.6 596.6 L274.5 602.2 L275.4 611.8 L276.3 614.0 L277.2 619.4 L278.1 619.8 L279.0 628.4 L279.9 626.0 L280.8 629.5 L281.7 630.4 L282.6 636.2 L283.5 631.3 L284.4 638.0 L285.3 636.4 L286.2 639.4 L287.1 641.6 L288.0 640.4 L288.9 638.1 L289.8 643.4 L290.7 639.4 L291.6 642.2 L292.5 638.7 L293.4 643.0 L294.3 639.9 L295.2 641.3 L296.1 636.5 L297.0 642.9 L297.9 640.8 L298.8 643.9 L299.7 637.2 L300.6 642.2 L301.5 641.0 L302.4 646.5 L303.3 643.0 L304.2 641.9 L305.1 640.4 L306.0 642.2 L306.9 641.0 L307.8 642.7 L308.7 641.8 L309.6 641.7 L310.5 640.2 L311.4 642.3 L312.3 640.3 L313.2 638.8 L314.1 641.3 L315.0 645.0 L315.9 642.8 L316.8 640.0 L317.7 642.1 L318.6 643.8 L319.5 641.6 L320.4 643.8 L321.3 641.9 L322.2 640.9 L323.1 641.7 L324.0 644.1 L324.9 642.6 L325.8 643.2 L326.7 643.3 L327.6 642.5 L328.5 639.2 L329.4 642.0 L330.3 642.1 L331.2 641.8 L332.1 644.4 L333.0 640.8 L333.9 641.2 L334.8 644.6 L335.7 645.1 L336.6 642.9 L337.5 641.1 L338.4 645.1 L339.3 645.6 L340.2 642.7 L341.1 639.4 L342.0 642.4 L342.9 642.0 L343.8 644.2 L344.7 643.4 L345.6 643.7 L346.5 641.9 L347.4 644.7 L348.3 638.1 L349.2 645.2 L350.1 642.0 L351.0 643.2 L351.9 644.6 L352.8 643.2 L353.7 639.7 L354.6 642.3 L355.5 642.4 L356.4 643.3 L357.3 640.5 L358.2 642.2 L359.1 644.6 L360.0 646.4 L360.9 641.7 L361.8 640.7 L362.7 641.4 L363.6 645.6 L364.5 641.6 L365.4 643.7 L366.3 641.4 L367.2 644.5 L368.1 641.4 L369.0 642.9 L369.9 641.4 L370.8 645.7 L371.7 642.4 L372.6 644.4 L373.5 641.9 L374.4 642.8 L375.3 644.7 L376.2 646.4 L377.1 641.6 L378.0 644.4 L378.9 641.4 L379.8 642.8 L380.7 641.2 L381.6 638.1 L382.5 641.6 L383.4 641.4 L384.3 642.2 L385.2 642.8 L386.1 643.9 L387.0 643.7 L387.9 642.4 L388.8 645.9 L389.7 645.0 L390.6 644.1 L391.5 642.6 L392.4 644.3 L393.3 641.8 L394.2 643.5 L395.1 640.7" stroke="#303030" stroke-width="1.00" fill="none" stroke-linejoin="round" />
<line x1="255.60" y1="487.10" x2="255.60" y2="565.60" stroke="#444" stroke-width="1.1" stroke-dasharray="1.1 1.5"/>
<line x1="269.60" y1="496.00" x2="269.60" y2="586.00" stroke="#444" stroke-width="1.1" stroke-dasharray="1.1 1.5"/>
</svg>
</body></html>
